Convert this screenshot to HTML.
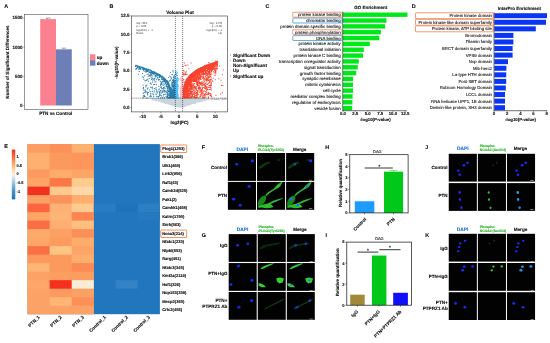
<!DOCTYPE html>
<html><head><meta charset="utf-8"><title>Figure</title><style>html,body{margin:0;padding:0;background:#fff;}svg{display:block;filter:blur(0.3px);}</style></head><body>
<svg width="550" height="343" viewBox="0 0 550 343" text-rendering="geometricPrecision" font-family="Liberation Sans, Arial, sans-serif">
<defs><filter id="b1" x="-50%" y="-50%" width="200%" height="200%"><feGaussianBlur stdDeviation="0.45"/></filter><filter id="b2" x="-50%" y="-50%" width="200%" height="200%"><feGaussianBlur stdDeviation="0.7"/></filter><linearGradient id="cb" x1="0" y1="0" x2="0" y2="1"><stop offset="0" stop-color="#f0301c"/><stop offset="0.18" stop-color="#fb7a4a"/><stop offset="0.36" stop-color="#fdc58a"/><stop offset="0.5" stop-color="#fbf3e6"/><stop offset="0.64" stop-color="#a8cde6"/><stop offset="0.82" stop-color="#4a94cc"/><stop offset="1" stop-color="#1f72b8"/></linearGradient></defs>
<rect x="0.00" y="0.00" width="550.00" height="343.00" fill="#ffffff" />
<text x="4.3" y="7.8" font-size="5.4" font-weight="bold" text-anchor="start" fill="#111"  stroke="#111" stroke-width="0.12">A</text>
<text x="109.5" y="7.9" font-size="5.4" font-weight="bold" text-anchor="start" fill="#111"  stroke="#111" stroke-width="0.12">B</text>
<text x="265.5" y="7.9" font-size="5.4" font-weight="bold" text-anchor="start" fill="#111"  stroke="#111" stroke-width="0.12">C</text>
<text x="411.7" y="7.9" font-size="5.4" font-weight="bold" text-anchor="start" fill="#111"  stroke="#111" stroke-width="0.12">D</text>
<text x="4.3" y="148.2" font-size="5.4" font-weight="bold" text-anchor="start" fill="#111"  stroke="#111" stroke-width="0.12">E</text>
<text x="201.8" y="148.6" font-size="5.4" font-weight="bold" text-anchor="start" fill="#111"  stroke="#111" stroke-width="0.12">F</text>
<text x="201.8" y="236.6" font-size="5.4" font-weight="bold" text-anchor="start" fill="#111"  stroke="#111" stroke-width="0.12">G</text>
<text x="325.2" y="148.6" font-size="5.4" font-weight="bold" text-anchor="start" fill="#111"  stroke="#111" stroke-width="0.12">H</text>
<text x="325.6" y="236.6" font-size="5.4" font-weight="bold" text-anchor="start" fill="#111"  stroke="#111" stroke-width="0.12">I</text>
<text x="425.2" y="149" font-size="5.4" font-weight="bold" text-anchor="start" fill="#111"  stroke="#111" stroke-width="0.12">J</text>
<text x="425.2" y="236.6" font-size="5.4" font-weight="bold" text-anchor="start" fill="#111"  stroke="#111" stroke-width="0.12">K</text>
<rect x="40.20" y="19.13" width="15.80" height="86.37" fill="#fb8090" />
<rect x="56.00" y="49.32" width="15.80" height="56.18" fill="#6e7fb8" />
<rect x="24.50" y="14.50" width="63.50" height="95.00" fill="none" stroke="#333" stroke-width="0.5" />
<line x1="23.30" y1="105.50" x2="24.50" y2="105.50" stroke="#111" stroke-width="0.4" />
<text x="22.5" y="107.05" font-size="4.5" font-weight="bold" text-anchor="end" fill="#111"  stroke="#111" stroke-width="0.12">0</text>
<line x1="23.30" y1="76.30" x2="24.50" y2="76.30" stroke="#111" stroke-width="0.4" />
<text x="22.5" y="77.85" font-size="4.5" font-weight="bold" text-anchor="end" fill="#111"  stroke="#111" stroke-width="0.12">500</text>
<line x1="23.30" y1="47.10" x2="24.50" y2="47.10" stroke="#111" stroke-width="0.4" />
<text x="22.5" y="48.65" font-size="4.5" font-weight="bold" text-anchor="end" fill="#111"  stroke="#111" stroke-width="0.12">1000</text>
<line x1="23.30" y1="17.90" x2="24.50" y2="17.90" stroke="#111" stroke-width="0.4" />
<text x="22.5" y="19.450000000000006" font-size="4.5" font-weight="bold" text-anchor="end" fill="#111"  stroke="#111" stroke-width="0.12">1500</text>
<text x="48.1" y="18.526400000000002" font-size="2.2" font-weight="normal" text-anchor="middle" fill="#333" >1479</text>
<text x="63.9" y="48.7192" font-size="2.2" font-weight="normal" text-anchor="middle" fill="#333" >962</text>
<text x="55.8" y="115.2" font-size="4.6" font-weight="bold" text-anchor="middle" fill="#111"  stroke="#111" stroke-width="0.12">PTN vs Control</text>
<text x="9.0" y="62" font-size="4.55" font-weight="bold" text-anchor="middle" fill="#111" transform="rotate(-90 9.0 62)"  stroke="#111" stroke-width="0.12">Number of Significant Differences</text>
<rect x="90.00" y="54.30" width="5.40" height="5.60" fill="#fb8090" />
<rect x="90.00" y="60.10" width="5.40" height="5.60" fill="#6e7fb8" />
<text x="96.8" y="58.8" font-size="4.6" font-weight="bold" text-anchor="start" fill="#111"  stroke="#111" stroke-width="0.12">up</text>
<text x="96.8" y="64.6" font-size="4.6" font-weight="bold" text-anchor="start" fill="#111"  stroke="#111" stroke-width="0.12">down</text>
<path d="M185.2 103.3h1.1v1.1h-1.1zM182.2 106.0h1.1v1.1h-1.1zM177.2 101.3h1.1v1.1h-1.1zM182.1 101.6h1.1v1.1h-1.1zM179.0 106.4h1.1v1.1h-1.1zM179.9 105.7h1.1v1.1h-1.1zM181.5 102.3h1.1v1.1h-1.1zM177.3 104.3h1.1v1.1h-1.1zM194.1 100.6h1.1v1.1h-1.1zM176.2 102.6h1.1v1.1h-1.1zM212.2 97.8h1.1v1.1h-1.1zM183.0 103.6h1.1v1.1h-1.1zM181.8 105.1h1.1v1.1h-1.1zM188.1 99.0h1.1v1.1h-1.1zM174.3 104.7h1.1v1.1h-1.1zM174.3 102.8h1.1v1.1h-1.1zM182.9 101.2h1.1v1.1h-1.1zM180.2 104.4h1.1v1.1h-1.1zM169.7 100.1h1.1v1.1h-1.1zM183.8 100.9h1.1v1.1h-1.1zM174.7 102.1h1.1v1.1h-1.1zM201.3 100.0h1.1v1.1h-1.1zM173.7 104.1h1.1v1.1h-1.1zM170.9 98.6h1.1v1.1h-1.1zM170.7 99.7h1.1v1.1h-1.1zM179.8 102.4h1.1v1.1h-1.1zM174.1 101.8h1.1v1.1h-1.1zM178.2 106.4h1.1v1.1h-1.1zM163.5 101.0h1.1v1.1h-1.1zM170.1 98.5h1.1v1.1h-1.1zM195.4 100.8h1.1v1.1h-1.1zM159.4 101.0h1.1v1.1h-1.1zM188.2 98.0h1.1v1.1h-1.1zM177.9 101.9h1.1v1.1h-1.1zM175.6 99.9h1.1v1.1h-1.1zM201.9 100.4h1.1v1.1h-1.1zM179.1 103.6h1.1v1.1h-1.1zM178.7 102.7h1.1v1.1h-1.1zM177.9 102.0h1.1v1.1h-1.1zM180.6 104.9h1.1v1.1h-1.1zM182.8 99.4h1.1v1.1h-1.1zM179.6 105.3h1.1v1.1h-1.1zM195.1 98.6h1.1v1.1h-1.1zM176.7 105.9h1.1v1.1h-1.1zM185.8 98.5h1.1v1.1h-1.1zM187.4 99.0h1.1v1.1h-1.1zM174.5 102.4h1.1v1.1h-1.1zM193.3 102.9h1.1v1.1h-1.1zM173.4 105.0h1.1v1.1h-1.1zM179.9 104.8h1.1v1.1h-1.1zM186.3 101.8h1.1v1.1h-1.1zM179.5 100.9h1.1v1.1h-1.1zM180.3 102.4h1.1v1.1h-1.1zM166.8 100.0h1.1v1.1h-1.1zM168.5 101.5h1.1v1.1h-1.1zM177.6 106.2h1.1v1.1h-1.1zM185.7 98.4h1.1v1.1h-1.1zM176.6 102.6h1.1v1.1h-1.1zM182.8 100.5h1.1v1.1h-1.1zM180.8 106.1h1.1v1.1h-1.1zM180.6 104.9h1.1v1.1h-1.1zM179.7 103.1h1.1v1.1h-1.1zM179.6 105.0h1.1v1.1h-1.1zM179.1 105.6h1.1v1.1h-1.1zM182.2 98.6h1.1v1.1h-1.1zM184.8 100.7h1.1v1.1h-1.1zM183.9 103.0h1.1v1.1h-1.1zM189.8 102.9h1.1v1.1h-1.1zM203.3 97.6h1.1v1.1h-1.1zM175.7 102.0h1.1v1.1h-1.1zM179.7 105.6h1.1v1.1h-1.1zM178.3 103.1h1.1v1.1h-1.1zM186.8 104.9h1.1v1.1h-1.1zM181.0 106.4h1.1v1.1h-1.1zM178.2 105.1h1.1v1.1h-1.1zM192.0 101.3h1.1v1.1h-1.1zM183.1 97.7h1.1v1.1h-1.1zM175.5 98.6h1.1v1.1h-1.1zM174.1 102.9h1.1v1.1h-1.1zM180.2 104.9h1.1v1.1h-1.1zM162.3 99.3h1.1v1.1h-1.1zM181.6 103.2h1.1v1.1h-1.1zM210.8 97.7h1.1v1.1h-1.1zM189.3 98.7h1.1v1.1h-1.1zM156.1 99.6h1.1v1.1h-1.1zM174.8 104.2h1.1v1.1h-1.1zM179.4 106.4h1.1v1.1h-1.1zM179.3 106.4h1.1v1.1h-1.1zM189.3 100.0h1.1v1.1h-1.1zM192.9 97.7h1.1v1.1h-1.1zM171.7 97.9h1.1v1.1h-1.1zM182.2 104.2h1.1v1.1h-1.1zM181.3 104.5h1.1v1.1h-1.1zM201.1 98.4h1.1v1.1h-1.1zM157.7 98.8h1.1v1.1h-1.1zM182.2 99.1h1.1v1.1h-1.1zM176.7 105.8h1.1v1.1h-1.1zM153.2 99.3h1.1v1.1h-1.1zM171.0 99.5h1.1v1.1h-1.1zM180.8 99.2h1.1v1.1h-1.1zM185.3 103.2h1.1v1.1h-1.1zM191.7 102.5h1.1v1.1h-1.1zM177.4 104.8h1.1v1.1h-1.1zM183.6 105.3h1.1v1.1h-1.1zM205.2 99.1h1.1v1.1h-1.1zM184.2 105.1h1.1v1.1h-1.1zM175.9 103.0h1.1v1.1h-1.1zM179.4 106.4h1.1v1.1h-1.1zM167.2 97.8h1.1v1.1h-1.1zM163.2 98.1h1.1v1.1h-1.1zM190.6 102.2h1.1v1.1h-1.1zM173.1 104.4h1.1v1.1h-1.1zM178.5 104.0h1.1v1.1h-1.1zM187.4 100.9h1.1v1.1h-1.1zM176.9 103.9h1.1v1.1h-1.1zM183.7 98.3h1.1v1.1h-1.1zM170.3 103.0h1.1v1.1h-1.1zM185.1 98.3h1.1v1.1h-1.1zM188.1 102.4h1.1v1.1h-1.1zM173.6 101.4h1.1v1.1h-1.1zM190.3 101.4h1.1v1.1h-1.1zM180.1 104.7h1.1v1.1h-1.1zM179.7 106.4h1.1v1.1h-1.1zM174.1 101.9h1.1v1.1h-1.1zM168.5 99.8h1.1v1.1h-1.1zM176.5 101.5h1.1v1.1h-1.1zM180.6 101.2h1.1v1.1h-1.1zM174.6 101.1h1.1v1.1h-1.1zM178.0 104.0h1.1v1.1h-1.1zM196.1 101.6h1.1v1.1h-1.1zM181.0 101.1h1.1v1.1h-1.1zM165.8 100.7h1.1v1.1h-1.1zM179.0 100.0h1.1v1.1h-1.1zM169.7 102.1h1.1v1.1h-1.1zM175.6 98.0h1.1v1.1h-1.1zM201.5 100.0h1.1v1.1h-1.1zM170.2 103.9h1.1v1.1h-1.1zM198.6 101.1h1.1v1.1h-1.1zM177.2 105.2h1.1v1.1h-1.1zM178.4 105.4h1.1v1.1h-1.1zM180.3 104.1h1.1v1.1h-1.1zM177.6 106.0h1.1v1.1h-1.1zM155.0 98.4h1.1v1.1h-1.1zM178.4 105.0h1.1v1.1h-1.1zM174.4 105.1h1.1v1.1h-1.1zM190.4 98.5h1.1v1.1h-1.1zM177.1 97.9h1.1v1.1h-1.1zM183.2 98.9h1.1v1.1h-1.1zM175.3 104.9h1.1v1.1h-1.1zM183.0 103.1h1.1v1.1h-1.1zM176.5 104.6h1.1v1.1h-1.1zM181.3 106.4h1.1v1.1h-1.1zM177.7 101.2h1.1v1.1h-1.1zM180.0 103.2h1.1v1.1h-1.1zM175.3 100.6h1.1v1.1h-1.1zM179.1 97.7h1.1v1.1h-1.1zM186.2 99.2h1.1v1.1h-1.1zM179.1 103.8h1.1v1.1h-1.1zM179.8 106.4h1.1v1.1h-1.1zM177.0 105.3h1.1v1.1h-1.1zM192.7 102.3h1.1v1.1h-1.1zM174.1 103.9h1.1v1.1h-1.1zM183.7 105.1h1.1v1.1h-1.1zM171.4 100.0h1.1v1.1h-1.1zM183.2 105.8h1.1v1.1h-1.1zM184.1 102.3h1.1v1.1h-1.1zM182.5 106.0h1.1v1.1h-1.1zM171.8 99.1h1.1v1.1h-1.1zM180.1 105.8h1.1v1.1h-1.1zM175.0 98.6h1.1v1.1h-1.1zM173.5 102.1h1.1v1.1h-1.1zM197.2 98.1h1.1v1.1h-1.1zM184.4 103.8h1.1v1.1h-1.1zM184.2 104.1h1.1v1.1h-1.1zM180.0 105.5h1.1v1.1h-1.1zM180.8 104.5h1.1v1.1h-1.1zM175.8 103.4h1.1v1.1h-1.1zM189.3 103.6h1.1v1.1h-1.1zM183.4 101.7h1.1v1.1h-1.1zM180.5 106.4h1.1v1.1h-1.1zM188.4 104.0h1.1v1.1h-1.1zM181.2 101.2h1.1v1.1h-1.1zM180.6 105.6h1.1v1.1h-1.1zM163.8 99.0h1.1v1.1h-1.1zM186.8 98.9h1.1v1.1h-1.1zM167.5 102.6h1.1v1.1h-1.1zM178.4 97.7h1.1v1.1h-1.1zM185.0 103.1h1.1v1.1h-1.1zM163.4 100.5h1.1v1.1h-1.1zM178.0 102.5h1.1v1.1h-1.1zM180.4 105.3h1.1v1.1h-1.1zM179.4 106.0h1.1v1.1h-1.1zM176.5 104.9h1.1v1.1h-1.1zM182.2 105.8h1.1v1.1h-1.1zM158.5 100.2h1.1v1.1h-1.1zM179.8 103.7h1.1v1.1h-1.1zM187.0 102.0h1.1v1.1h-1.1zM176.7 105.0h1.1v1.1h-1.1zM184.0 97.9h1.1v1.1h-1.1zM167.2 97.8h1.1v1.1h-1.1zM175.8 97.8h1.1v1.1h-1.1zM179.4 103.4h1.1v1.1h-1.1zM179.8 102.7h1.1v1.1h-1.1zM173.4 101.9h1.1v1.1h-1.1zM179.4 101.6h1.1v1.1h-1.1zM179.5 106.4h1.1v1.1h-1.1zM183.0 102.6h1.1v1.1h-1.1zM180.9 106.4h1.1v1.1h-1.1zM180.2 104.2h1.1v1.1h-1.1zM161.4 100.9h1.1v1.1h-1.1zM175.8 100.3h1.1v1.1h-1.1zM189.0 99.8h1.1v1.1h-1.1zM174.9 103.2h1.1v1.1h-1.1zM196.0 97.7h1.1v1.1h-1.1zM195.0 100.4h1.1v1.1h-1.1zM181.3 106.4h1.1v1.1h-1.1zM158.3 100.6h1.1v1.1h-1.1zM182.3 99.7h1.1v1.1h-1.1zM174.5 101.4h1.1v1.1h-1.1zM188.5 101.6h1.1v1.1h-1.1zM156.4 98.9h1.1v1.1h-1.1zM192.6 100.9h1.1v1.1h-1.1zM167.5 100.0h1.1v1.1h-1.1zM182.2 104.2h1.1v1.1h-1.1zM180.3 102.9h1.1v1.1h-1.1zM181.4 105.6h1.1v1.1h-1.1zM166.7 100.6h1.1v1.1h-1.1zM173.8 100.6h1.1v1.1h-1.1zM178.7 106.4h1.1v1.1h-1.1zM179.4 99.2h1.1v1.1h-1.1zM167.5 101.3h1.1v1.1h-1.1zM197.8 100.3h1.1v1.1h-1.1zM183.1 104.0h1.1v1.1h-1.1zM179.2 106.0h1.1v1.1h-1.1zM187.0 104.5h1.1v1.1h-1.1zM195.1 99.6h1.1v1.1h-1.1zM178.2 102.7h1.1v1.1h-1.1zM173.1 101.8h1.1v1.1h-1.1zM161.5 100.6h1.1v1.1h-1.1zM185.5 100.4h1.1v1.1h-1.1zM181.0 104.0h1.1v1.1h-1.1zM173.6 99.6h1.1v1.1h-1.1zM180.8 106.4h1.1v1.1h-1.1zM179.2 106.1h1.1v1.1h-1.1zM198.5 100.0h1.1v1.1h-1.1zM175.7 100.2h1.1v1.1h-1.1zM190.1 102.0h1.1v1.1h-1.1zM193.7 102.0h1.1v1.1h-1.1zM186.1 104.5h1.1v1.1h-1.1zM182.5 97.7h1.1v1.1h-1.1zM178.9 102.0h1.1v1.1h-1.1zM195.4 99.0h1.1v1.1h-1.1zM178.3 103.8h1.1v1.1h-1.1zM182.6 104.4h1.1v1.1h-1.1zM177.0 100.9h1.1v1.1h-1.1zM178.3 105.2h1.1v1.1h-1.1zM178.1 99.9h1.1v1.1h-1.1zM184.3 104.2h1.1v1.1h-1.1zM178.6 106.4h1.1v1.1h-1.1zM178.6 106.4h1.1v1.1h-1.1zM179.9 103.5h1.1v1.1h-1.1zM177.8 105.2h1.1v1.1h-1.1zM190.5 98.8h1.1v1.1h-1.1zM179.5 106.4h1.1v1.1h-1.1zM173.6 105.4h1.1v1.1h-1.1zM171.4 98.1h1.1v1.1h-1.1zM174.2 102.9h1.1v1.1h-1.1zM180.2 106.3h1.1v1.1h-1.1zM180.7 105.6h1.1v1.1h-1.1zM167.8 98.1h1.1v1.1h-1.1zM178.9 104.0h1.1v1.1h-1.1zM184.8 104.6h1.1v1.1h-1.1zM194.6 102.8h1.1v1.1h-1.1zM171.3 99.1h1.1v1.1h-1.1zM166.7 101.2h1.1v1.1h-1.1zM199.9 99.8h1.1v1.1h-1.1zM183.9 102.1h1.1v1.1h-1.1zM172.6 99.5h1.1v1.1h-1.1zM178.4 106.3h1.1v1.1h-1.1zM192.5 98.1h1.1v1.1h-1.1zM185.3 103.1h1.1v1.1h-1.1zM178.4 103.5h1.1v1.1h-1.1zM174.7 100.3h1.1v1.1h-1.1zM189.1 102.6h1.1v1.1h-1.1zM181.0 104.9h1.1v1.1h-1.1zM188.9 98.3h1.1v1.1h-1.1zM183.4 101.7h1.1v1.1h-1.1zM183.2 102.1h1.1v1.1h-1.1zM180.8 105.7h1.1v1.1h-1.1zM183.9 103.1h1.1v1.1h-1.1zM181.8 103.9h1.1v1.1h-1.1zM193.2 101.1h1.1v1.1h-1.1zM170.7 102.4h1.1v1.1h-1.1zM171.6 102.4h1.1v1.1h-1.1zM178.5 103.1h1.1v1.1h-1.1zM178.6 106.1h1.1v1.1h-1.1zM166.3 101.6h1.1v1.1h-1.1zM172.5 104.3h1.1v1.1h-1.1zM179.6 103.8h1.1v1.1h-1.1zM188.4 102.1h1.1v1.1h-1.1zM199.5 97.9h1.1v1.1h-1.1zM177.5 106.4h1.1v1.1h-1.1zM178.8 106.4h1.1v1.1h-1.1zM190.6 100.9h1.1v1.1h-1.1zM179.6 98.1h1.1v1.1h-1.1zM204.0 98.9h1.1v1.1h-1.1zM181.5 105.5h1.1v1.1h-1.1zM192.2 100.1h1.1v1.1h-1.1zM175.3 98.0h1.1v1.1h-1.1zM159.8 99.4h1.1v1.1h-1.1zM177.1 102.0h1.1v1.1h-1.1zM178.3 99.3h1.1v1.1h-1.1zM186.0 104.2h1.1v1.1h-1.1zM175.1 103.5h1.1v1.1h-1.1zM179.5 105.3h1.1v1.1h-1.1zM197.8 100.0h1.1v1.1h-1.1zM182.8 105.5h1.1v1.1h-1.1zM185.3 100.9h1.1v1.1h-1.1zM181.3 102.7h1.1v1.1h-1.1zM180.8 106.4h1.1v1.1h-1.1zM186.9 100.4h1.1v1.1h-1.1zM168.1 98.5h1.1v1.1h-1.1zM180.1 104.0h1.1v1.1h-1.1zM175.4 97.9h1.1v1.1h-1.1zM178.5 106.4h1.1v1.1h-1.1zM175.0 101.7h1.1v1.1h-1.1zM174.4 103.9h1.1v1.1h-1.1zM187.4 100.2h1.1v1.1h-1.1zM179.1 106.4h1.1v1.1h-1.1zM170.3 103.1h1.1v1.1h-1.1zM182.8 104.5h1.1v1.1h-1.1zM178.4 99.2h1.1v1.1h-1.1zM174.0 104.5h1.1v1.1h-1.1zM167.5 97.8h1.1v1.1h-1.1zM188.3 104.2h1.1v1.1h-1.1zM179.8 104.3h1.1v1.1h-1.1zM165.5 98.0h1.1v1.1h-1.1zM182.2 101.7h1.1v1.1h-1.1zM185.0 102.4h1.1v1.1h-1.1zM186.1 100.2h1.1v1.1h-1.1zM178.1 102.6h1.1v1.1h-1.1zM182.2 104.4h1.1v1.1h-1.1zM179.4 106.3h1.1v1.1h-1.1zM176.2 106.1h1.1v1.1h-1.1zM200.5 98.5h1.1v1.1h-1.1zM179.3 103.2h1.1v1.1h-1.1zM186.1 104.7h1.1v1.1h-1.1zM178.6 106.4h1.1v1.1h-1.1zM170.9 100.3h1.1v1.1h-1.1zM184.1 103.2h1.1v1.1h-1.1zM182.8 104.8h1.1v1.1h-1.1zM179.6 103.0h1.1v1.1h-1.1zM210.7 97.9h1.1v1.1h-1.1zM188.0 104.4h1.1v1.1h-1.1zM185.4 103.0h1.1v1.1h-1.1zM165.3 102.3h1.1v1.1h-1.1zM177.8 106.3h1.1v1.1h-1.1zM182.2 98.2h1.1v1.1h-1.1zM173.3 104.6h1.1v1.1h-1.1zM181.8 106.4h1.1v1.1h-1.1zM184.8 102.5h1.1v1.1h-1.1zM177.0 106.4h1.1v1.1h-1.1zM184.3 103.9h1.1v1.1h-1.1zM189.5 99.6h1.1v1.1h-1.1zM176.4 103.8h1.1v1.1h-1.1zM169.7 97.9h1.1v1.1h-1.1zM172.7 99.8h1.1v1.1h-1.1zM179.4 103.3h1.1v1.1h-1.1zM180.7 99.5h1.1v1.1h-1.1zM153.5 98.2h1.1v1.1h-1.1zM177.3 106.4h1.1v1.1h-1.1zM186.1 97.9h1.1v1.1h-1.1zM179.5 102.7h1.1v1.1h-1.1zM189.7 101.7h1.1v1.1h-1.1zM191.7 98.1h1.1v1.1h-1.1zM201.7 99.6h1.1v1.1h-1.1zM182.4 99.0h1.1v1.1h-1.1zM170.4 103.2h1.1v1.1h-1.1zM172.1 103.3h1.1v1.1h-1.1zM182.7 105.9h1.1v1.1h-1.1zM179.6 104.5h1.1v1.1h-1.1zM178.0 106.1h1.1v1.1h-1.1zM178.3 106.4h1.1v1.1h-1.1zM174.6 97.7h1.1v1.1h-1.1zM191.9 98.5h1.1v1.1h-1.1zM179.4 105.8h1.1v1.1h-1.1zM175.3 105.7h1.1v1.1h-1.1zM179.7 102.1h1.1v1.1h-1.1zM173.3 104.2h1.1v1.1h-1.1zM188.2 100.2h1.1v1.1h-1.1zM191.1 99.6h1.1v1.1h-1.1zM175.7 105.4h1.1v1.1h-1.1zM174.2 98.8h1.1v1.1h-1.1zM188.9 102.8h1.1v1.1h-1.1zM182.7 99.6h1.1v1.1h-1.1zM183.4 104.0h1.1v1.1h-1.1zM183.2 105.0h1.1v1.1h-1.1zM173.6 103.2h1.1v1.1h-1.1zM189.0 102.6h1.1v1.1h-1.1zM179.3 104.2h1.1v1.1h-1.1zM154.0 99.1h1.1v1.1h-1.1zM187.0 101.9h1.1v1.1h-1.1zM151.3 98.2h1.1v1.1h-1.1zM179.3 106.4h1.1v1.1h-1.1zM181.7 104.6h1.1v1.1h-1.1zM145.2 97.8h1.1v1.1h-1.1zM170.9 102.8h1.1v1.1h-1.1zM168.1 98.6h1.1v1.1h-1.1zM183.0 99.3h1.1v1.1h-1.1zM197.3 98.0h1.1v1.1h-1.1zM189.2 100.6h1.1v1.1h-1.1zM177.7 104.3h1.1v1.1h-1.1zM181.4 104.5h1.1v1.1h-1.1zM173.0 103.9h1.1v1.1h-1.1zM175.6 104.5h1.1v1.1h-1.1zM178.8 106.4h1.1v1.1h-1.1zM185.3 104.7h1.1v1.1h-1.1zM182.9 103.4h1.1v1.1h-1.1zM197.3 101.2h1.1v1.1h-1.1zM181.2 106.1h1.1v1.1h-1.1zM185.8 101.2h1.1v1.1h-1.1zM185.5 100.5h1.1v1.1h-1.1zM183.7 100.0h1.1v1.1h-1.1zM178.1 102.5h1.1v1.1h-1.1zM193.7 97.9h1.1v1.1h-1.1zM173.9 103.4h1.1v1.1h-1.1zM176.4 102.4h1.1v1.1h-1.1zM194.3 98.6h1.1v1.1h-1.1zM179.4 104.5h1.1v1.1h-1.1zM180.0 99.7h1.1v1.1h-1.1zM181.2 98.3h1.1v1.1h-1.1zM183.2 102.3h1.1v1.1h-1.1zM165.0 98.5h1.1v1.1h-1.1zM180.4 102.0h1.1v1.1h-1.1zM181.1 101.2h1.1v1.1h-1.1zM183.9 100.4h1.1v1.1h-1.1zM176.8 100.6h1.1v1.1h-1.1zM175.3 102.8h1.1v1.1h-1.1zM179.4 103.7h1.1v1.1h-1.1zM183.8 101.5h1.1v1.1h-1.1zM177.5 101.7h1.1v1.1h-1.1zM189.0 99.1h1.1v1.1h-1.1zM179.1 105.3h1.1v1.1h-1.1zM198.5 98.0h1.1v1.1h-1.1zM179.2 106.2h1.1v1.1h-1.1zM152.4 98.2h1.1v1.1h-1.1zM195.8 100.6h1.1v1.1h-1.1zM193.5 99.0h1.1v1.1h-1.1zM186.9 104.3h1.1v1.1h-1.1zM188.2 102.5h1.1v1.1h-1.1zM172.9 104.7h1.1v1.1h-1.1zM174.8 104.3h1.1v1.1h-1.1zM185.0 102.7h1.1v1.1h-1.1zM179.6 105.4h1.1v1.1h-1.1zM205.2 98.4h1.1v1.1h-1.1zM177.0 106.4h1.1v1.1h-1.1zM178.5 106.4h1.1v1.1h-1.1zM194.6 98.8h1.1v1.1h-1.1zM189.1 101.2h1.1v1.1h-1.1zM175.3 100.6h1.1v1.1h-1.1zM190.3 100.9h1.1v1.1h-1.1zM174.6 102.3h1.1v1.1h-1.1zM171.6 102.2h1.1v1.1h-1.1zM178.5 106.4h1.1v1.1h-1.1zM175.5 104.1h1.1v1.1h-1.1zM182.4 99.4h1.1v1.1h-1.1zM175.0 104.7h1.1v1.1h-1.1zM183.3 101.9h1.1v1.1h-1.1zM182.3 102.3h1.1v1.1h-1.1zM176.6 105.7h1.1v1.1h-1.1zM180.2 106.4h1.1v1.1h-1.1zM196.3 100.5h1.1v1.1h-1.1zM190.9 99.3h1.1v1.1h-1.1zM190.5 101.6h1.1v1.1h-1.1zM182.6 102.8h1.1v1.1h-1.1zM201.3 98.0h1.1v1.1h-1.1zM205.7 97.6h1.1v1.1h-1.1zM183.0 99.7h1.1v1.1h-1.1zM169.1 97.7h1.1v1.1h-1.1zM177.2 104.9h1.1v1.1h-1.1zM184.3 99.2h1.1v1.1h-1.1zM178.4 103.0h1.1v1.1h-1.1zM195.5 99.5h1.1v1.1h-1.1zM190.0 103.7h1.1v1.1h-1.1zM190.3 99.0h1.1v1.1h-1.1zM194.7 98.2h1.1v1.1h-1.1zM179.1 104.4h1.1v1.1h-1.1zM187.4 103.3h1.1v1.1h-1.1zM179.9 106.4h1.1v1.1h-1.1zM188.5 98.1h1.1v1.1h-1.1zM185.6 100.1h1.1v1.1h-1.1zM174.3 99.3h1.1v1.1h-1.1zM175.3 105.5h1.1v1.1h-1.1zM177.5 102.9h1.1v1.1h-1.1zM160.2 98.6h1.1v1.1h-1.1zM172.5 98.5h1.1v1.1h-1.1zM183.5 105.6h1.1v1.1h-1.1zM179.0 102.6h1.1v1.1h-1.1zM175.5 99.2h1.1v1.1h-1.1zM180.3 102.9h1.1v1.1h-1.1zM175.1 104.8h1.1v1.1h-1.1zM203.5 99.6h1.1v1.1h-1.1zM182.6 104.0h1.1v1.1h-1.1zM195.3 100.5h1.1v1.1h-1.1zM177.9 100.3h1.1v1.1h-1.1zM181.2 103.4h1.1v1.1h-1.1zM179.5 105.1h1.1v1.1h-1.1zM166.9 100.7h1.1v1.1h-1.1zM187.5 98.4h1.1v1.1h-1.1zM180.2 105.3h1.1v1.1h-1.1zM181.3 106.4h1.1v1.1h-1.1zM179.3 106.4h1.1v1.1h-1.1zM182.3 103.0h1.1v1.1h-1.1zM173.8 104.3h1.1v1.1h-1.1zM176.4 104.5h1.1v1.1h-1.1zM173.3 100.6h1.1v1.1h-1.1zM180.9 98.1h1.1v1.1h-1.1zM181.0 104.1h1.1v1.1h-1.1zM183.8 100.5h1.1v1.1h-1.1zM182.7 98.6h1.1v1.1h-1.1zM173.9 103.9h1.1v1.1h-1.1zM178.7 106.4h1.1v1.1h-1.1zM172.3 103.0h1.1v1.1h-1.1zM190.5 99.7h1.1v1.1h-1.1zM180.9 104.0h1.1v1.1h-1.1zM177.8 101.4h1.1v1.1h-1.1zM179.8 102.5h1.1v1.1h-1.1zM184.4 99.3h1.1v1.1h-1.1zM176.9 105.1h1.1v1.1h-1.1zM175.3 104.5h1.1v1.1h-1.1zM170.6 100.4h1.1v1.1h-1.1zM185.3 99.0h1.1v1.1h-1.1zM184.4 103.5h1.1v1.1h-1.1zM181.9 106.3h1.1v1.1h-1.1zM164.8 99.8h1.1v1.1h-1.1zM180.4 106.4h1.1v1.1h-1.1zM167.1 102.0h1.1v1.1h-1.1zM170.3 99.6h1.1v1.1h-1.1zM180.1 105.6h1.1v1.1h-1.1zM184.0 104.2h1.1v1.1h-1.1zM182.5 99.6h1.1v1.1h-1.1zM190.9 100.0h1.1v1.1h-1.1zM172.1 103.8h1.1v1.1h-1.1zM162.5 101.2h1.1v1.1h-1.1zM186.5 101.5h1.1v1.1h-1.1zM170.3 103.8h1.1v1.1h-1.1zM191.7 98.5h1.1v1.1h-1.1zM179.9 104.1h1.1v1.1h-1.1zM200.7 99.6h1.1v1.1h-1.1zM175.7 103.2h1.1v1.1h-1.1zM174.0 98.5h1.1v1.1h-1.1zM190.1 98.3h1.1v1.1h-1.1zM173.4 100.5h1.1v1.1h-1.1zM155.6 97.7h1.1v1.1h-1.1zM187.1 101.9h1.1v1.1h-1.1zM159.4 98.7h1.1v1.1h-1.1zM177.8 102.2h1.1v1.1h-1.1zM171.3 103.4h1.1v1.1h-1.1zM178.2 104.4h1.1v1.1h-1.1zM175.0 98.3h1.1v1.1h-1.1zM181.2 105.1h1.1v1.1h-1.1zM180.9 98.1h1.1v1.1h-1.1zM180.6 103.1h1.1v1.1h-1.1zM179.8 106.4h1.1v1.1h-1.1zM166.4 100.0h1.1v1.1h-1.1zM164.0 99.7h1.1v1.1h-1.1zM177.9 106.1h1.1v1.1h-1.1zM172.0 99.0h1.1v1.1h-1.1zM183.8 99.0h1.1v1.1h-1.1zM175.9 98.6h1.1v1.1h-1.1zM186.8 98.2h1.1v1.1h-1.1zM178.8 104.4h1.1v1.1h-1.1zM185.2 105.5h1.1v1.1h-1.1zM185.6 99.1h1.1v1.1h-1.1zM187.1 100.5h1.1v1.1h-1.1zM171.9 103.6h1.1v1.1h-1.1zM183.3 105.6h1.1v1.1h-1.1zM184.1 104.5h1.1v1.1h-1.1zM178.3 103.3h1.1v1.1h-1.1zM180.1 103.9h1.1v1.1h-1.1zM178.3 103.7h1.1v1.1h-1.1zM173.3 103.3h1.1v1.1h-1.1zM146.3 97.9h1.1v1.1h-1.1zM179.0 100.6h1.1v1.1h-1.1zM178.2 106.4h1.1v1.1h-1.1zM187.4 99.4h1.1v1.1h-1.1zM177.1 103.0h1.1v1.1h-1.1zM173.7 104.3h1.1v1.1h-1.1zM203.6 98.7h1.1v1.1h-1.1zM183.6 104.8h1.1v1.1h-1.1zM179.9 106.4h1.1v1.1h-1.1zM207.5 97.8h1.1v1.1h-1.1zM178.6 106.4h1.1v1.1h-1.1zM180.5 99.2h1.1v1.1h-1.1zM175.6 104.7h1.1v1.1h-1.1zM180.0 98.9h1.1v1.1h-1.1zM183.9 103.9h1.1v1.1h-1.1zM178.2 104.4h1.1v1.1h-1.1zM173.3 100.0h1.1v1.1h-1.1zM179.6 100.5h1.1v1.1h-1.1zM180.4 105.9h1.1v1.1h-1.1zM158.1 99.3h1.1v1.1h-1.1zM172.2 100.6h1.1v1.1h-1.1zM185.8 102.6h1.1v1.1h-1.1zM208.1 98.4h1.1v1.1h-1.1zM180.9 106.4h1.1v1.1h-1.1zM178.7 104.4h1.1v1.1h-1.1zM183.7 102.7h1.1v1.1h-1.1zM175.2 102.0h1.1v1.1h-1.1zM180.0 101.4h1.1v1.1h-1.1zM159.4 100.4h1.1v1.1h-1.1zM177.6 103.0h1.1v1.1h-1.1zM187.3 98.8h1.1v1.1h-1.1zM179.2 100.3h1.1v1.1h-1.1zM174.3 102.2h1.1v1.1h-1.1zM173.1 99.4h1.1v1.1h-1.1zM177.3 102.0h1.1v1.1h-1.1zM180.3 98.5h1.1v1.1h-1.1zM183.7 103.5h1.1v1.1h-1.1zM183.7 99.9h1.1v1.1h-1.1zM177.7 105.0h1.1v1.1h-1.1zM176.5 104.0h1.1v1.1h-1.1zM183.7 104.9h1.1v1.1h-1.1zM186.4 103.2h1.1v1.1h-1.1zM180.8 105.6h1.1v1.1h-1.1zM178.7 102.7h1.1v1.1h-1.1zM187.4 97.7h1.1v1.1h-1.1zM166.2 102.2h1.1v1.1h-1.1zM178.2 104.6h1.1v1.1h-1.1zM177.8 104.4h1.1v1.1h-1.1zM187.2 102.7h1.1v1.1h-1.1zM182.6 99.2h1.1v1.1h-1.1zM161.5 100.0h1.1v1.1h-1.1zM179.5 102.0h1.1v1.1h-1.1zM176.7 105.1h1.1v1.1h-1.1zM171.2 99.6h1.1v1.1h-1.1zM160.4 98.3h1.1v1.1h-1.1zM187.1 99.6h1.1v1.1h-1.1zM181.3 102.4h1.1v1.1h-1.1zM204.5 98.5h1.1v1.1h-1.1zM171.1 99.4h1.1v1.1h-1.1zM156.2 100.1h1.1v1.1h-1.1zM169.6 100.4h1.1v1.1h-1.1zM182.4 100.6h1.1v1.1h-1.1zM175.4 105.7h1.1v1.1h-1.1zM190.6 99.8h1.1v1.1h-1.1zM179.5 100.5h1.1v1.1h-1.1zM188.9 102.1h1.1v1.1h-1.1zM164.9 100.6h1.1v1.1h-1.1zM192.9 98.1h1.1v1.1h-1.1zM175.4 104.7h1.1v1.1h-1.1zM168.4 102.7h1.1v1.1h-1.1zM182.1 101.7h1.1v1.1h-1.1zM179.1 101.3h1.1v1.1h-1.1zM181.4 104.9h1.1v1.1h-1.1zM176.4 105.6h1.1v1.1h-1.1zM172.1 99.8h1.1v1.1h-1.1zM167.7 101.5h1.1v1.1h-1.1zM165.1 101.5h1.1v1.1h-1.1zM184.8 102.5h1.1v1.1h-1.1zM176.8 100.1h1.1v1.1h-1.1zM179.9 102.6h1.1v1.1h-1.1zM170.7 97.7h1.1v1.1h-1.1zM185.0 103.0h1.1v1.1h-1.1zM181.8 102.6h1.1v1.1h-1.1zM178.6 106.4h1.1v1.1h-1.1zM186.1 100.0h1.1v1.1h-1.1zM179.1 103.0h1.1v1.1h-1.1zM189.2 99.6h1.1v1.1h-1.1zM168.0 98.0h1.1v1.1h-1.1zM177.8 99.1h1.1v1.1h-1.1zM180.5 102.6h1.1v1.1h-1.1zM186.7 99.3h1.1v1.1h-1.1zM168.6 99.1h1.1v1.1h-1.1zM170.6 101.1h1.1v1.1h-1.1zM184.1 104.2h1.1v1.1h-1.1zM177.0 100.5h1.1v1.1h-1.1zM186.2 99.0h1.1v1.1h-1.1zM173.2 103.6h1.1v1.1h-1.1zM193.5 101.2h1.1v1.1h-1.1zM189.2 103.0h1.1v1.1h-1.1zM177.9 98.7h1.1v1.1h-1.1zM184.9 104.0h1.1v1.1h-1.1zM179.8 102.3h1.1v1.1h-1.1zM180.4 99.8h1.1v1.1h-1.1zM179.7 103.7h1.1v1.1h-1.1zM187.4 101.8h1.1v1.1h-1.1zM171.5 102.3h1.1v1.1h-1.1zM171.3 102.9h1.1v1.1h-1.1zM183.0 98.1h1.1v1.1h-1.1zM175.5 98.9h1.1v1.1h-1.1zM181.4 98.3h1.1v1.1h-1.1zM171.5 98.9h1.1v1.1h-1.1zM181.3 100.5h1.1v1.1h-1.1zM179.8 98.0h1.1v1.1h-1.1zM179.5 100.3h1.1v1.1h-1.1zM181.2 105.1h1.1v1.1h-1.1zM180.3 104.2h1.1v1.1h-1.1zM176.2 105.0h1.1v1.1h-1.1zM182.1 98.3h1.1v1.1h-1.1zM170.2 98.4h1.1v1.1h-1.1zM182.9 100.7h1.1v1.1h-1.1zM156.3 98.4h1.1v1.1h-1.1zM184.6 99.2h1.1v1.1h-1.1zM172.4 100.0h1.1v1.1h-1.1zM179.0 101.4h1.1v1.1h-1.1zM162.6 98.5h1.1v1.1h-1.1zM178.8 101.2h1.1v1.1h-1.1zM182.1 105.2h1.1v1.1h-1.1zM189.5 101.7h1.1v1.1h-1.1zM181.0 105.1h1.1v1.1h-1.1zM167.7 101.7h1.1v1.1h-1.1zM179.8 98.6h1.1v1.1h-1.1zM180.1 106.4h1.1v1.1h-1.1zM169.5 101.1h1.1v1.1h-1.1zM186.0 100.2h1.1v1.1h-1.1zM172.8 102.4h1.1v1.1h-1.1zM201.1 97.9h1.1v1.1h-1.1zM187.2 100.5h1.1v1.1h-1.1zM177.9 106.4h1.1v1.1h-1.1zM163.6 98.1h1.1v1.1h-1.1zM187.6 103.2h1.1v1.1h-1.1zM178.3 101.8h1.1v1.1h-1.1zM204.4 98.4h1.1v1.1h-1.1zM183.5 100.6h1.1v1.1h-1.1zM183.8 103.1h1.1v1.1h-1.1zM172.8 101.9h1.1v1.1h-1.1zM180.4 101.4h1.1v1.1h-1.1zM173.7 102.2h1.1v1.1h-1.1zM164.8 102.3h1.1v1.1h-1.1zM175.7 103.6h1.1v1.1h-1.1zM165.0 98.9h1.1v1.1h-1.1zM183.5 103.8h1.1v1.1h-1.1zM193.6 101.6h1.1v1.1h-1.1zM176.3 99.2h1.1v1.1h-1.1zM177.2 103.2h1.1v1.1h-1.1zM188.0 100.9h1.1v1.1h-1.1zM180.3 100.5h1.1v1.1h-1.1zM175.8 99.8h1.1v1.1h-1.1zM174.7 98.5h1.1v1.1h-1.1zM179.0 103.5h1.1v1.1h-1.1zM180.3 106.4h1.1v1.1h-1.1zM186.0 100.3h1.1v1.1h-1.1zM167.1 100.7h1.1v1.1h-1.1zM167.2 100.8h1.1v1.1h-1.1zM183.9 100.1h1.1v1.1h-1.1zM192.4 102.0h1.1v1.1h-1.1zM186.6 99.4h1.1v1.1h-1.1zM180.1 106.4h1.1v1.1h-1.1zM197.2 99.4h1.1v1.1h-1.1zM173.9 102.8h1.1v1.1h-1.1zM183.9 99.0h1.1v1.1h-1.1zM172.6 103.9h1.1v1.1h-1.1zM174.6 103.5h1.1v1.1h-1.1zM183.1 102.3h1.1v1.1h-1.1zM183.2 100.4h1.1v1.1h-1.1zM178.1 101.1h1.1v1.1h-1.1zM181.7 106.4h1.1v1.1h-1.1zM193.0 101.0h1.1v1.1h-1.1zM176.9 98.2h1.1v1.1h-1.1zM180.0 102.7h1.1v1.1h-1.1zM169.6 101.9h1.1v1.1h-1.1zM189.0 102.4h1.1v1.1h-1.1zM183.7 104.4h1.1v1.1h-1.1zM179.9 105.0h1.1v1.1h-1.1zM179.7 100.1h1.1v1.1h-1.1zM180.9 105.4h1.1v1.1h-1.1zM178.1 98.6h1.1v1.1h-1.1zM184.8 105.3h1.1v1.1h-1.1zM180.5 104.1h1.1v1.1h-1.1zM181.2 99.7h1.1v1.1h-1.1zM183.7 99.4h1.1v1.1h-1.1zM192.6 99.8h1.1v1.1h-1.1zM176.4 105.8h1.1v1.1h-1.1zM176.2 100.6h1.1v1.1h-1.1zM161.7 98.1h1.1v1.1h-1.1zM188.1 104.0h1.1v1.1h-1.1zM179.2 106.4h1.1v1.1h-1.1zM178.4 106.4h1.1v1.1h-1.1zM176.0 105.9h1.1v1.1h-1.1zM179.0 103.4h1.1v1.1h-1.1zM170.3 98.7h1.1v1.1h-1.1zM187.9 101.8h1.1v1.1h-1.1zM183.4 101.0h1.1v1.1h-1.1zM177.4 102.2h1.1v1.1h-1.1zM172.3 99.2h1.1v1.1h-1.1zM173.2 102.9h1.1v1.1h-1.1zM170.3 102.4h1.1v1.1h-1.1zM183.8 102.7h1.1v1.1h-1.1zM178.5 101.1h1.1v1.1h-1.1zM185.4 97.8h1.1v1.1h-1.1zM185.0 99.9h1.1v1.1h-1.1zM170.5 100.7h1.1v1.1h-1.1zM191.0 97.8h1.1v1.1h-1.1zM171.9 103.4h1.1v1.1h-1.1zM185.8 102.3h1.1v1.1h-1.1zM171.6 100.1h1.1v1.1h-1.1zM195.8 100.8h1.1v1.1h-1.1zM172.9 103.7h1.1v1.1h-1.1zM179.5 106.4h1.1v1.1h-1.1zM191.1 100.9h1.1v1.1h-1.1zM182.8 99.0h1.1v1.1h-1.1zM176.7 98.9h1.1v1.1h-1.1zM192.4 99.1h1.1v1.1h-1.1zM173.9 103.8h1.1v1.1h-1.1zM187.7 98.7h1.1v1.1h-1.1zM156.4 98.2h1.1v1.1h-1.1zM187.3 103.0h1.1v1.1h-1.1zM188.9 99.2h1.1v1.1h-1.1zM179.6 104.5h1.1v1.1h-1.1zM173.9 100.7h1.1v1.1h-1.1zM174.8 104.4h1.1v1.1h-1.1zM179.6 103.9h1.1v1.1h-1.1zM163.6 102.0h1.1v1.1h-1.1zM181.1 105.8h1.1v1.1h-1.1zM171.2 104.2h1.1v1.1h-1.1zM197.7 101.0h1.1v1.1h-1.1zM167.0 101.5h1.1v1.1h-1.1zM174.5 101.9h1.1v1.1h-1.1zM178.0 104.6h1.1v1.1h-1.1zM178.3 104.7h1.1v1.1h-1.1zM169.9 101.1h1.1v1.1h-1.1zM175.0 102.5h1.1v1.1h-1.1zM179.4 106.4h1.1v1.1h-1.1zM173.7 97.6h1.1v1.1h-1.1zM183.5 100.5h1.1v1.1h-1.1zM190.2 99.2h1.1v1.1h-1.1zM187.5 103.1h1.1v1.1h-1.1zM182.1 101.5h1.1v1.1h-1.1zM180.1 97.7h1.1v1.1h-1.1zM159.5 98.6h1.1v1.1h-1.1zM180.2 103.9h1.1v1.1h-1.1zM194.7 99.4h1.1v1.1h-1.1zM190.5 99.0h1.1v1.1h-1.1zM179.3 106.4h1.1v1.1h-1.1zM180.3 104.5h1.1v1.1h-1.1zM180.2 106.3h1.1v1.1h-1.1zM187.6 101.2h1.1v1.1h-1.1zM166.0 98.0h1.1v1.1h-1.1zM199.7 98.3h1.1v1.1h-1.1zM183.8 102.6h1.1v1.1h-1.1zM181.9 105.4h1.1v1.1h-1.1zM177.5 101.1h1.1v1.1h-1.1zM196.6 100.4h1.1v1.1h-1.1zM176.4 102.6h1.1v1.1h-1.1zM191.8 102.1h1.1v1.1h-1.1zM183.2 104.3h1.1v1.1h-1.1zM180.9 103.0h1.1v1.1h-1.1zM204.8 98.3h1.1v1.1h-1.1zM177.7 106.3h1.1v1.1h-1.1zM174.4 99.3h1.1v1.1h-1.1zM155.3 97.7h1.1v1.1h-1.1zM181.5 106.2h1.1v1.1h-1.1zM201.6 98.0h1.1v1.1h-1.1zM174.5 100.1h1.1v1.1h-1.1zM197.2 99.5h1.1v1.1h-1.1zM178.6 105.6h1.1v1.1h-1.1zM181.7 105.3h1.1v1.1h-1.1zM182.9 101.8h1.1v1.1h-1.1zM181.8 105.1h1.1v1.1h-1.1zM199.4 100.1h1.1v1.1h-1.1zM180.1 104.6h1.1v1.1h-1.1zM180.5 106.4h1.1v1.1h-1.1zM174.4 98.1h1.1v1.1h-1.1zM186.1 98.6h1.1v1.1h-1.1zM176.4 102.1h1.1v1.1h-1.1zM184.2 105.7h1.1v1.1h-1.1zM169.8 100.6h1.1v1.1h-1.1zM170.7 102.1h1.1v1.1h-1.1zM194.1 101.9h1.1v1.1h-1.1zM184.7 100.6h1.1v1.1h-1.1zM180.6 106.2h1.1v1.1h-1.1zM172.6 99.8h1.1v1.1h-1.1zM176.7 98.6h1.1v1.1h-1.1zM176.7 103.8h1.1v1.1h-1.1zM181.3 103.8h1.1v1.1h-1.1zM174.9 98.8h1.1v1.1h-1.1zM184.5 101.7h1.1v1.1h-1.1zM182.2 103.3h1.1v1.1h-1.1zM174.7 97.7h1.1v1.1h-1.1zM181.8 106.2h1.1v1.1h-1.1zM175.2 104.4h1.1v1.1h-1.1zM177.9 101.9h1.1v1.1h-1.1zM183.0 104.5h1.1v1.1h-1.1zM176.3 98.2h1.1v1.1h-1.1zM178.1 105.7h1.1v1.1h-1.1zM169.6 99.7h1.1v1.1h-1.1zM175.2 99.1h1.1v1.1h-1.1zM179.9 106.4h1.1v1.1h-1.1zM170.1 98.9h1.1v1.1h-1.1zM178.6 102.2h1.1v1.1h-1.1zM183.7 98.3h1.1v1.1h-1.1zM183.9 105.2h1.1v1.1h-1.1zM180.4 104.7h1.1v1.1h-1.1zM172.5 104.5h1.1v1.1h-1.1zM182.3 105.9h1.1v1.1h-1.1zM186.4 101.7h1.1v1.1h-1.1zM181.7 103.8h1.1v1.1h-1.1zM196.8 99.9h1.1v1.1h-1.1zM171.0 99.1h1.1v1.1h-1.1zM178.8 106.1h1.1v1.1h-1.1zM161.6 99.7h1.1v1.1h-1.1zM181.2 106.2h1.1v1.1h-1.1zM165.2 99.1h1.1v1.1h-1.1zM205.1 98.6h1.1v1.1h-1.1zM181.5 101.9h1.1v1.1h-1.1zM178.5 98.6h1.1v1.1h-1.1zM189.1 98.9h1.1v1.1h-1.1zM183.2 102.9h1.1v1.1h-1.1zM188.8 100.8h1.1v1.1h-1.1zM178.6 106.4h1.1v1.1h-1.1zM178.2 101.5h1.1v1.1h-1.1zM178.3 105.4h1.1v1.1h-1.1zM151.7 98.6h1.1v1.1h-1.1zM178.0 103.3h1.1v1.1h-1.1zM166.5 99.5h1.1v1.1h-1.1zM183.0 106.1h1.1v1.1h-1.1zM162.5 101.7h1.1v1.1h-1.1zM167.5 101.5h1.1v1.1h-1.1zM179.3 106.4h1.1v1.1h-1.1zM181.3 97.8h1.1v1.1h-1.1zM181.3 105.6h1.1v1.1h-1.1zM180.1 104.0h1.1v1.1h-1.1zM178.9 105.7h1.1v1.1h-1.1zM180.4 100.0h1.1v1.1h-1.1zM181.5 100.8h1.1v1.1h-1.1zM162.7 101.0h1.1v1.1h-1.1zM178.9 105.6h1.1v1.1h-1.1zM178.6 98.6h1.1v1.1h-1.1zM178.6 105.4h1.1v1.1h-1.1zM171.8 101.7h1.1v1.1h-1.1zM179.5 105.4h1.1v1.1h-1.1zM186.6 102.5h1.1v1.1h-1.1zM195.2 98.7h1.1v1.1h-1.1zM174.2 105.1h1.1v1.1h-1.1zM176.7 104.9h1.1v1.1h-1.1zM193.2 98.9h1.1v1.1h-1.1zM176.4 102.4h1.1v1.1h-1.1zM164.6 98.8h1.1v1.1h-1.1zM176.9 98.0h1.1v1.1h-1.1zM174.0 99.3h1.1v1.1h-1.1zM183.9 103.2h1.1v1.1h-1.1zM194.9 102.2h1.1v1.1h-1.1zM176.1 98.3h1.1v1.1h-1.1zM182.3 99.0h1.1v1.1h-1.1zM176.8 101.5h1.1v1.1h-1.1zM191.3 97.9h1.1v1.1h-1.1zM177.0 102.4h1.1v1.1h-1.1zM170.0 100.5h1.1v1.1h-1.1zM181.6 106.0h1.1v1.1h-1.1zM177.8 102.3h1.1v1.1h-1.1zM179.5 105.2h1.1v1.1h-1.1zM186.2 97.8h1.1v1.1h-1.1zM202.3 99.1h1.1v1.1h-1.1zM177.5 106.4h1.1v1.1h-1.1zM177.8 100.4h1.1v1.1h-1.1zM188.3 103.8h1.1v1.1h-1.1zM192.3 101.3h1.1v1.1h-1.1zM176.1 104.0h1.1v1.1h-1.1zM185.6 103.6h1.1v1.1h-1.1zM177.6 103.4h1.1v1.1h-1.1zM175.0 100.8h1.1v1.1h-1.1zM166.2 97.9h1.1v1.1h-1.1zM178.9 102.0h1.1v1.1h-1.1zM182.7 101.4h1.1v1.1h-1.1zM180.9 105.3h1.1v1.1h-1.1zM175.3 103.6h1.1v1.1h-1.1zM182.0 104.1h1.1v1.1h-1.1zM174.9 105.8h1.1v1.1h-1.1zM173.3 100.7h1.1v1.1h-1.1zM175.3 101.0h1.1v1.1h-1.1zM172.5 99.9h1.1v1.1h-1.1zM167.7 102.0h1.1v1.1h-1.1zM175.8 101.9h1.1v1.1h-1.1zM179.8 103.4h1.1v1.1h-1.1zM186.5 101.5h1.1v1.1h-1.1zM178.5 102.7h1.1v1.1h-1.1zM179.0 103.0h1.1v1.1h-1.1zM181.0 98.7h1.1v1.1h-1.1zM191.6 101.7h1.1v1.1h-1.1zM184.6 103.6h1.1v1.1h-1.1zM178.6 99.4h1.1v1.1h-1.1zM186.6 105.0h1.1v1.1h-1.1zM186.7 102.2h1.1v1.1h-1.1zM177.9 106.1h1.1v1.1h-1.1zM188.9 99.7h1.1v1.1h-1.1zM180.7 105.5h1.1v1.1h-1.1zM177.7 105.0h1.1v1.1h-1.1zM189.5 100.2h1.1v1.1h-1.1zM192.1 100.7h1.1v1.1h-1.1zM164.6 101.5h1.1v1.1h-1.1zM178.6 99.6h1.1v1.1h-1.1zM163.9 101.9h1.1v1.1h-1.1zM171.4 99.3h1.1v1.1h-1.1zM206.1 98.6h1.1v1.1h-1.1zM180.1 100.9h1.1v1.1h-1.1zM191.7 101.7h1.1v1.1h-1.1zM177.0 102.4h1.1v1.1h-1.1zM193.1 99.3h1.1v1.1h-1.1zM172.0 102.7h1.1v1.1h-1.1zM165.8 102.1h1.1v1.1h-1.1zM182.1 103.6h1.1v1.1h-1.1zM172.3 102.6h1.1v1.1h-1.1zM177.3 103.3h1.1v1.1h-1.1zM189.4 99.2h1.1v1.1h-1.1zM171.2 102.2h1.1v1.1h-1.1zM178.7 104.7h1.1v1.1h-1.1zM185.3 101.0h1.1v1.1h-1.1zM200.5 100.9h1.1v1.1h-1.1zM187.5 103.3h1.1v1.1h-1.1zM199.7 98.8h1.1v1.1h-1.1zM180.6 102.3h1.1v1.1h-1.1zM179.4 106.3h1.1v1.1h-1.1zM180.1 99.4h1.1v1.1h-1.1zM191.9 101.3h1.1v1.1h-1.1zM179.4 101.5h1.1v1.1h-1.1zM170.4 100.1h1.1v1.1h-1.1zM186.3 100.8h1.1v1.1h-1.1zM189.7 103.0h1.1v1.1h-1.1zM174.7 101.4h1.1v1.1h-1.1zM177.6 105.6h1.1v1.1h-1.1zM187.2 101.1h1.1v1.1h-1.1zM200.0 101.0h1.1v1.1h-1.1zM162.8 101.8h1.1v1.1h-1.1zM182.0 101.4h1.1v1.1h-1.1zM175.8 103.3h1.1v1.1h-1.1zM189.1 97.7h1.1v1.1h-1.1zM176.4 105.5h1.1v1.1h-1.1zM168.6 98.4h1.1v1.1h-1.1zM149.5 97.7h1.1v1.1h-1.1zM171.4 98.4h1.1v1.1h-1.1zM181.2 103.6h1.1v1.1h-1.1zM173.2 101.6h1.1v1.1h-1.1zM179.5 104.7h1.1v1.1h-1.1zM170.8 100.5h1.1v1.1h-1.1zM169.7 97.6h1.1v1.1h-1.1zM191.3 100.5h1.1v1.1h-1.1zM183.4 99.2h1.1v1.1h-1.1zM179.3 103.4h1.1v1.1h-1.1zM179.0 103.5h1.1v1.1h-1.1zM160.3 98.8h1.1v1.1h-1.1zM176.1 104.5h1.1v1.1h-1.1zM172.4 101.7h1.1v1.1h-1.1zM176.4 100.4h1.1v1.1h-1.1zM192.8 101.4h1.1v1.1h-1.1zM179.3 102.5h1.1v1.1h-1.1zM182.5 105.4h1.1v1.1h-1.1zM183.6 105.6h1.1v1.1h-1.1zM181.1 105.6h1.1v1.1h-1.1zM195.4 99.0h1.1v1.1h-1.1zM181.0 100.7h1.1v1.1h-1.1zM179.2 106.4h1.1v1.1h-1.1zM169.7 99.4h1.1v1.1h-1.1zM189.8 103.0h1.1v1.1h-1.1zM179.3 104.8h1.1v1.1h-1.1zM186.9 98.3h1.1v1.1h-1.1zM172.5 100.9h1.1v1.1h-1.1zM186.4 102.7h1.1v1.1h-1.1zM181.5 106.2h1.1v1.1h-1.1zM165.3 97.9h1.1v1.1h-1.1zM174.8 102.2h1.1v1.1h-1.1zM178.7 106.4h1.1v1.1h-1.1zM188.3 98.1h1.1v1.1h-1.1zM168.5 98.4h1.1v1.1h-1.1zM172.9 99.0h1.1v1.1h-1.1zM201.3 97.9h1.1v1.1h-1.1zM186.3 101.7h1.1v1.1h-1.1zM177.7 102.6h1.1v1.1h-1.1zM181.6 99.8h1.1v1.1h-1.1zM192.8 98.5h1.1v1.1h-1.1zM181.4 101.8h1.1v1.1h-1.1zM176.6 104.8h1.1v1.1h-1.1zM187.1 102.9h1.1v1.1h-1.1zM189.4 101.1h1.1v1.1h-1.1zM185.9 102.7h1.1v1.1h-1.1zM183.3 102.5h1.1v1.1h-1.1zM182.6 98.9h1.1v1.1h-1.1zM179.7 103.0h1.1v1.1h-1.1zM183.5 103.7h1.1v1.1h-1.1zM187.1 104.1h1.1v1.1h-1.1zM181.8 103.1h1.1v1.1h-1.1zM179.1 105.0h1.1v1.1h-1.1zM177.1 103.8h1.1v1.1h-1.1zM190.8 98.9h1.1v1.1h-1.1zM191.3 98.9h1.1v1.1h-1.1zM186.9 99.1h1.1v1.1h-1.1zM189.9 99.8h1.1v1.1h-1.1zM184.6 102.8h1.1v1.1h-1.1zM176.6 98.0h1.1v1.1h-1.1zM181.1 101.6h1.1v1.1h-1.1zM183.2 105.3h1.1v1.1h-1.1zM177.7 99.9h1.1v1.1h-1.1zM179.8 102.8h1.1v1.1h-1.1zM186.1 104.4h1.1v1.1h-1.1zM193.0 98.6h1.1v1.1h-1.1zM188.2 101.3h1.1v1.1h-1.1zM180.3 103.8h1.1v1.1h-1.1zM167.6 100.3h1.1v1.1h-1.1zM175.6 101.1h1.1v1.1h-1.1zM181.8 105.8h1.1v1.1h-1.1zM181.7 104.8h1.1v1.1h-1.1zM170.8 100.3h1.1v1.1h-1.1zM177.0 105.5h1.1v1.1h-1.1zM176.1 101.7h1.1v1.1h-1.1zM184.5 103.5h1.1v1.1h-1.1zM181.3 104.2h1.1v1.1h-1.1zM179.0 105.3h1.1v1.1h-1.1zM173.1 102.5h1.1v1.1h-1.1zM184.8 98.3h1.1v1.1h-1.1zM179.4 105.3h1.1v1.1h-1.1zM182.6 100.1h1.1v1.1h-1.1zM172.0 100.3h1.1v1.1h-1.1zM189.7 100.3h1.1v1.1h-1.1zM179.8 100.0h1.1v1.1h-1.1zM193.5 103.0h1.1v1.1h-1.1zM182.0 100.5h1.1v1.1h-1.1zM186.8 98.3h1.1v1.1h-1.1zM178.6 99.7h1.1v1.1h-1.1zM179.1 106.4h1.1v1.1h-1.1zM180.6 104.9h1.1v1.1h-1.1zM185.7 102.7h1.1v1.1h-1.1zM178.7 106.4h1.1v1.1h-1.1zM185.1 104.7h1.1v1.1h-1.1zM157.9 98.8h1.1v1.1h-1.1zM175.8 103.9h1.1v1.1h-1.1zM176.4 102.2h1.1v1.1h-1.1zM178.9 106.4h1.1v1.1h-1.1zM181.6 98.9h1.1v1.1h-1.1zM178.2 106.4h1.1v1.1h-1.1zM175.8 98.7h1.1v1.1h-1.1zM178.5 104.0h1.1v1.1h-1.1zM180.1 105.5h1.1v1.1h-1.1zM168.7 98.2h1.1v1.1h-1.1zM197.6 99.6h1.1v1.1h-1.1zM185.8 102.6h1.1v1.1h-1.1zM184.8 99.6h1.1v1.1h-1.1zM177.7 105.8h1.1v1.1h-1.1zM193.1 100.0h1.1v1.1h-1.1zM188.7 99.6h1.1v1.1h-1.1zM168.6 102.1h1.1v1.1h-1.1zM178.9 106.2h1.1v1.1h-1.1zM169.7 101.6h1.1v1.1h-1.1zM199.0 98.1h1.1v1.1h-1.1zM181.6 106.4h1.1v1.1h-1.1zM183.0 99.9h1.1v1.1h-1.1zM171.9 101.3h1.1v1.1h-1.1zM165.6 97.8h1.1v1.1h-1.1zM174.4 104.0h1.1v1.1h-1.1zM178.3 106.2h1.1v1.1h-1.1zM183.2 104.5h1.1v1.1h-1.1zM186.2 103.4h1.1v1.1h-1.1zM194.2 100.2h1.1v1.1h-1.1zM179.9 104.1h1.1v1.1h-1.1zM190.0 102.1h1.1v1.1h-1.1zM171.2 98.1h1.1v1.1h-1.1zM190.3 98.5h1.1v1.1h-1.1zM176.6 105.1h1.1v1.1h-1.1zM174.4 99.0h1.1v1.1h-1.1zM180.0 101.2h1.1v1.1h-1.1zM172.0 100.2h1.1v1.1h-1.1zM160.9 100.8h1.1v1.1h-1.1zM185.7 98.9h1.1v1.1h-1.1zM178.8 105.5h1.1v1.1h-1.1zM183.8 104.4h1.1v1.1h-1.1zM179.3 106.1h1.1v1.1h-1.1zM187.9 99.9h1.1v1.1h-1.1zM185.4 102.1h1.1v1.1h-1.1zM184.8 101.9h1.1v1.1h-1.1zM180.9 102.9h1.1v1.1h-1.1zM179.9 106.4h1.1v1.1h-1.1zM179.6 97.6h1.1v1.1h-1.1zM174.0 99.8h1.1v1.1h-1.1zM171.9 97.7h1.1v1.1h-1.1zM177.8 101.8h1.1v1.1h-1.1zM183.5 102.2h1.1v1.1h-1.1zM180.6 106.4h1.1v1.1h-1.1zM165.4 98.2h1.1v1.1h-1.1zM161.1 98.1h1.1v1.1h-1.1zM179.5 100.3h1.1v1.1h-1.1zM182.1 105.2h1.1v1.1h-1.1zM179.9 106.4h1.1v1.1h-1.1zM167.7 103.5h1.1v1.1h-1.1zM174.1 104.7h1.1v1.1h-1.1zM155.3 98.1h1.1v1.1h-1.1zM181.2 104.8h1.1v1.1h-1.1zM154.6 99.6h1.1v1.1h-1.1zM184.6 103.2h1.1v1.1h-1.1zM190.9 103.3h1.1v1.1h-1.1zM172.7 102.8h1.1v1.1h-1.1zM175.0 98.9h1.1v1.1h-1.1zM186.1 104.1h1.1v1.1h-1.1zM183.4 100.6h1.1v1.1h-1.1zM170.7 99.0h1.1v1.1h-1.1zM173.9 101.7h1.1v1.1h-1.1zM179.5 103.5h1.1v1.1h-1.1zM194.2 101.0h1.1v1.1h-1.1zM182.4 104.9h1.1v1.1h-1.1zM183.2 102.2h1.1v1.1h-1.1zM179.4 106.4h1.1v1.1h-1.1zM184.6 102.2h1.1v1.1h-1.1zM180.7 106.4h1.1v1.1h-1.1zM195.9 98.8h1.1v1.1h-1.1zM167.9 102.3h1.1v1.1h-1.1zM175.7 103.7h1.1v1.1h-1.1zM171.0 102.4h1.1v1.1h-1.1zM170.0 103.1h1.1v1.1h-1.1zM187.8 98.9h1.1v1.1h-1.1zM186.4 98.3h1.1v1.1h-1.1zM185.8 102.2h1.1v1.1h-1.1zM175.5 101.1h1.1v1.1h-1.1zM180.9 105.8h1.1v1.1h-1.1zM190.1 98.3h1.1v1.1h-1.1zM174.8 100.6h1.1v1.1h-1.1zM200.0 99.1h1.1v1.1h-1.1zM185.9 100.7h1.1v1.1h-1.1zM169.6 101.8h1.1v1.1h-1.1zM176.2 100.4h1.1v1.1h-1.1zM193.4 98.5h1.1v1.1h-1.1zM180.3 106.4h1.1v1.1h-1.1zM191.8 102.1h1.1v1.1h-1.1zM178.3 105.8h1.1v1.1h-1.1zM170.6 101.0h1.1v1.1h-1.1zM169.1 102.4h1.1v1.1h-1.1zM177.6 102.6h1.1v1.1h-1.1zM182.2 105.5h1.1v1.1h-1.1zM199.4 101.2h1.1v1.1h-1.1zM181.0 105.5h1.1v1.1h-1.1zM178.0 105.7h1.1v1.1h-1.1zM179.4 101.4h1.1v1.1h-1.1zM191.7 101.2h1.1v1.1h-1.1zM177.3 104.2h1.1v1.1h-1.1zM177.4 101.5h1.1v1.1h-1.1zM189.5 100.9h1.1v1.1h-1.1zM180.7 106.0h1.1v1.1h-1.1zM186.7 102.2h1.1v1.1h-1.1zM167.0 99.8h1.1v1.1h-1.1zM180.9 105.6h1.1v1.1h-1.1zM176.0 104.8h1.1v1.1h-1.1zM152.5 97.9h1.1v1.1h-1.1zM177.3 105.2h1.1v1.1h-1.1zM189.2 99.3h1.1v1.1h-1.1zM181.5 102.8h1.1v1.1h-1.1zM178.9 106.4h1.1v1.1h-1.1zM177.1 103.5h1.1v1.1h-1.1zM155.2 99.9h1.1v1.1h-1.1zM190.5 100.6h1.1v1.1h-1.1zM166.1 98.6h1.1v1.1h-1.1zM179.4 104.9h1.1v1.1h-1.1zM166.8 99.4h1.1v1.1h-1.1zM182.5 100.1h1.1v1.1h-1.1zM176.1 102.8h1.1v1.1h-1.1zM200.0 99.7h1.1v1.1h-1.1zM178.7 106.4h1.1v1.1h-1.1zM191.1 100.8h1.1v1.1h-1.1zM190.3 99.1h1.1v1.1h-1.1zM183.5 105.5h1.1v1.1h-1.1zM175.8 103.9h1.1v1.1h-1.1zM171.5 104.6h1.1v1.1h-1.1zM186.4 101.0h1.1v1.1h-1.1zM181.0 105.5h1.1v1.1h-1.1zM180.5 99.1h1.1v1.1h-1.1zM176.2 104.7h1.1v1.1h-1.1zM176.0 100.1h1.1v1.1h-1.1zM189.2 102.7h1.1v1.1h-1.1zM196.0 101.3h1.1v1.1h-1.1zM190.6 100.0h1.1v1.1h-1.1zM184.4 103.1h1.1v1.1h-1.1zM194.5 98.6h1.1v1.1h-1.1zM188.5 99.1h1.1v1.1h-1.1zM181.6 99.0h1.1v1.1h-1.1zM168.4 100.1h1.1v1.1h-1.1zM182.3 105.0h1.1v1.1h-1.1zM155.4 98.8h1.1v1.1h-1.1zM194.0 100.7h1.1v1.1h-1.1zM178.8 105.9h1.1v1.1h-1.1zM189.3 98.4h1.1v1.1h-1.1zM186.1 100.9h1.1v1.1h-1.1zM180.8 102.9h1.1v1.1h-1.1zM171.5 101.9h1.1v1.1h-1.1zM176.2 103.0h1.1v1.1h-1.1zM178.8 106.4h1.1v1.1h-1.1zM179.0 106.4h1.1v1.1h-1.1zM182.3 102.0h1.1v1.1h-1.1zM179.4 105.1h1.1v1.1h-1.1zM178.1 100.2h1.1v1.1h-1.1zM187.2 101.7h1.1v1.1h-1.1zM173.3 103.9h1.1v1.1h-1.1zM170.8 97.9h1.1v1.1h-1.1zM201.4 97.6h1.1v1.1h-1.1zM183.4 99.4h1.1v1.1h-1.1zM182.9 98.6h1.1v1.1h-1.1zM163.0 100.5h1.1v1.1h-1.1zM177.0 102.9h1.1v1.1h-1.1zM206.8 98.6h1.1v1.1h-1.1zM173.6 98.1h1.1v1.1h-1.1zM168.8 99.4h1.1v1.1h-1.1zM160.4 99.6h1.1v1.1h-1.1zM179.0 103.0h1.1v1.1h-1.1zM176.5 101.2h1.1v1.1h-1.1zM180.9 103.1h1.1v1.1h-1.1zM187.2 103.3h1.1v1.1h-1.1zM178.9 102.9h1.1v1.1h-1.1zM180.0 104.1h1.1v1.1h-1.1zM182.7 105.2h1.1v1.1h-1.1zM180.2 106.4h1.1v1.1h-1.1zM172.6 102.1h1.1v1.1h-1.1zM177.4 101.1h1.1v1.1h-1.1zM180.8 106.1h1.1v1.1h-1.1zM175.9 103.5h1.1v1.1h-1.1zM195.3 101.2h1.1v1.1h-1.1zM159.4 98.1h1.1v1.1h-1.1zM200.5 100.9h1.1v1.1h-1.1zM180.9 105.9h1.1v1.1h-1.1zM200.2 97.7h1.1v1.1h-1.1zM180.7 103.0h1.1v1.1h-1.1zM163.3 98.6h1.1v1.1h-1.1zM180.8 103.7h1.1v1.1h-1.1zM182.8 103.9h1.1v1.1h-1.1zM180.0 103.8h1.1v1.1h-1.1zM182.1 99.9h1.1v1.1h-1.1zM184.1 104.5h1.1v1.1h-1.1zM190.3 100.8h1.1v1.1h-1.1zM174.6 104.5h1.1v1.1h-1.1zM197.3 99.7h1.1v1.1h-1.1zM178.8 105.9h1.1v1.1h-1.1zM189.0 99.1h1.1v1.1h-1.1zM177.3 105.2h1.1v1.1h-1.1zM170.9 104.6h1.1v1.1h-1.1zM173.9 100.5h1.1v1.1h-1.1zM183.0 98.2h1.1v1.1h-1.1zM191.4 99.6h1.1v1.1h-1.1zM164.5 100.4h1.1v1.1h-1.1zM185.4 103.1h1.1v1.1h-1.1zM179.0 106.2h1.1v1.1h-1.1zM181.4 100.6h1.1v1.1h-1.1zM170.2 103.2h1.1v1.1h-1.1zM179.8 103.9h1.1v1.1h-1.1zM181.6 101.1h1.1v1.1h-1.1zM202.1 97.7h1.1v1.1h-1.1zM185.9 99.8h1.1v1.1h-1.1zM182.8 103.2h1.1v1.1h-1.1zM180.7 105.1h1.1v1.1h-1.1zM201.2 99.4h1.1v1.1h-1.1zM187.8 102.3h1.1v1.1h-1.1zM168.4 101.3h1.1v1.1h-1.1zM171.3 100.3h1.1v1.1h-1.1zM170.5 100.8h1.1v1.1h-1.1zM187.5 103.9h1.1v1.1h-1.1zM181.4 99.9h1.1v1.1h-1.1zM168.4 103.4h1.1v1.1h-1.1zM194.8 99.4h1.1v1.1h-1.1zM178.6 103.7h1.1v1.1h-1.1zM184.5 101.5h1.1v1.1h-1.1zM179.4 106.4h1.1v1.1h-1.1zM170.6 101.9h1.1v1.1h-1.1zM169.0 102.9h1.1v1.1h-1.1zM183.5 97.7h1.1v1.1h-1.1zM183.8 105.8h1.1v1.1h-1.1zM179.9 106.4h1.1v1.1h-1.1zM182.1 101.6h1.1v1.1h-1.1zM189.9 101.2h1.1v1.1h-1.1zM182.2 105.1h1.1v1.1h-1.1zM203.6 98.2h1.1v1.1h-1.1zM186.2 104.9h1.1v1.1h-1.1zM181.2 104.1h1.1v1.1h-1.1zM154.9 97.7h1.1v1.1h-1.1zM179.6 103.1h1.1v1.1h-1.1zM167.1 99.1h1.1v1.1h-1.1zM183.1 98.3h1.1v1.1h-1.1zM179.4 105.5h1.1v1.1h-1.1zM175.1 100.4h1.1v1.1h-1.1zM181.4 102.5h1.1v1.1h-1.1zM176.7 101.1h1.1v1.1h-1.1zM165.8 100.6h1.1v1.1h-1.1zM179.5 104.3h1.1v1.1h-1.1zM186.2 102.2h1.1v1.1h-1.1zM182.0 104.2h1.1v1.1h-1.1zM198.9 100.4h1.1v1.1h-1.1zM183.9 103.5h1.1v1.1h-1.1zM179.3 101.1h1.1v1.1h-1.1zM184.5 105.0h1.1v1.1h-1.1zM170.8 103.8h1.1v1.1h-1.1zM184.5 99.5h1.1v1.1h-1.1zM174.5 103.2h1.1v1.1h-1.1zM183.9 101.8h1.1v1.1h-1.1zM174.8 100.1h1.1v1.1h-1.1zM165.4 100.8h1.1v1.1h-1.1zM185.6 98.5h1.1v1.1h-1.1zM182.9 104.4h1.1v1.1h-1.1zM170.6 99.3h1.1v1.1h-1.1zM192.3 98.6h1.1v1.1h-1.1zM211.4 97.6h1.1v1.1h-1.1zM182.5 103.5h1.1v1.1h-1.1zM180.8 97.8h1.1v1.1h-1.1zM180.0 106.4h1.1v1.1h-1.1zM175.5 99.7h1.1v1.1h-1.1zM181.5 105.7h1.1v1.1h-1.1zM182.9 105.8h1.1v1.1h-1.1zM189.2 103.1h1.1v1.1h-1.1zM167.3 98.5h1.1v1.1h-1.1zM191.9 97.7h1.1v1.1h-1.1zM181.7 99.2h1.1v1.1h-1.1zM194.2 100.0h1.1v1.1h-1.1zM181.0 104.2h1.1v1.1h-1.1zM180.9 102.3h1.1v1.1h-1.1zM181.7 97.7h1.1v1.1h-1.1zM181.9 103.3h1.1v1.1h-1.1zM176.2 101.8h1.1v1.1h-1.1zM177.6 105.2h1.1v1.1h-1.1zM183.0 100.1h1.1v1.1h-1.1zM179.2 105.1h1.1v1.1h-1.1zM176.0 105.5h1.1v1.1h-1.1zM179.9 103.0h1.1v1.1h-1.1zM173.9 99.7h1.1v1.1h-1.1zM181.6 103.8h1.1v1.1h-1.1zM181.1 106.0h1.1v1.1h-1.1zM177.8 106.4h1.1v1.1h-1.1zM178.9 101.2h1.1v1.1h-1.1zM190.8 102.9h1.1v1.1h-1.1zM180.8 100.3h1.1v1.1h-1.1zM164.4 101.3h1.1v1.1h-1.1zM171.5 97.7h1.1v1.1h-1.1zM176.4 98.6h1.1v1.1h-1.1zM173.0 103.3h1.1v1.1h-1.1zM187.6 102.4h1.1v1.1h-1.1zM178.2 102.7h1.1v1.1h-1.1zM187.4 100.7h1.1v1.1h-1.1zM175.6 100.7h1.1v1.1h-1.1zM179.8 102.8h1.1v1.1h-1.1zM181.6 105.4h1.1v1.1h-1.1zM186.6 98.8h1.1v1.1h-1.1zM171.2 100.0h1.1v1.1h-1.1zM193.0 101.2h1.1v1.1h-1.1zM179.8 103.3h1.1v1.1h-1.1zM179.4 99.6h1.1v1.1h-1.1zM159.1 98.7h1.1v1.1h-1.1zM178.0 97.6h1.1v1.1h-1.1zM173.7 104.2h1.1v1.1h-1.1zM170.4 102.7h1.1v1.1h-1.1zM167.0 99.9h1.1v1.1h-1.1zM188.2 100.7h1.1v1.1h-1.1zM171.8 100.1h1.1v1.1h-1.1zM192.6 101.3h1.1v1.1h-1.1zM176.6 104.3h1.1v1.1h-1.1zM171.3 98.3h1.1v1.1h-1.1zM177.6 101.9h1.1v1.1h-1.1zM168.5 101.9h1.1v1.1h-1.1zM186.6 104.3h1.1v1.1h-1.1zM197.6 101.4h1.1v1.1h-1.1zM161.4 101.4h1.1v1.1h-1.1zM177.9 104.1h1.1v1.1h-1.1zM181.5 104.8h1.1v1.1h-1.1zM167.6 100.5h1.1v1.1h-1.1zM203.1 98.9h1.1v1.1h-1.1zM177.5 106.4h1.1v1.1h-1.1zM186.5 102.7h1.1v1.1h-1.1zM174.4 105.4h1.1v1.1h-1.1zM179.5 105.0h1.1v1.1h-1.1zM182.9 103.0h1.1v1.1h-1.1zM163.7 99.1h1.1v1.1h-1.1zM179.2 105.8h1.1v1.1h-1.1zM191.7 102.6h1.1v1.1h-1.1zM179.3 102.1h1.1v1.1h-1.1zM184.2 101.8h1.1v1.1h-1.1zM173.6 105.1h1.1v1.1h-1.1zM169.3 100.1h1.1v1.1h-1.1zM184.2 104.1h1.1v1.1h-1.1zM175.6 102.8h1.1v1.1h-1.1zM180.5 106.4h1.1v1.1h-1.1zM178.1 104.5h1.1v1.1h-1.1zM178.9 104.7h1.1v1.1h-1.1zM177.7 99.8h1.1v1.1h-1.1zM184.2 104.1h1.1v1.1h-1.1zM197.5 98.9h1.1v1.1h-1.1zM191.4 98.7h1.1v1.1h-1.1zM172.3 104.5h1.1v1.1h-1.1zM189.1 100.6h1.1v1.1h-1.1zM187.4 102.8h1.1v1.1h-1.1zM181.7 102.9h1.1v1.1h-1.1zM175.8 99.9h1.1v1.1h-1.1zM191.4 100.4h1.1v1.1h-1.1zM170.9 99.1h1.1v1.1h-1.1zM188.2 101.0h1.1v1.1h-1.1zM195.3 98.2h1.1v1.1h-1.1zM176.1 102.8h1.1v1.1h-1.1zM177.8 106.0h1.1v1.1h-1.1zM167.3 99.5h1.1v1.1h-1.1zM187.6 101.7h1.1v1.1h-1.1zM179.7 98.3h1.1v1.1h-1.1zM177.0 100.9h1.1v1.1h-1.1zM162.7 102.0h1.1v1.1h-1.1zM183.2 102.4h1.1v1.1h-1.1zM187.2 101.9h1.1v1.1h-1.1zM173.0 101.7h1.1v1.1h-1.1zM186.2 101.6h1.1v1.1h-1.1zM161.6 99.6h1.1v1.1h-1.1zM191.3 102.5h1.1v1.1h-1.1zM183.5 101.2h1.1v1.1h-1.1zM180.4 99.4h1.1v1.1h-1.1zM177.1 104.3h1.1v1.1h-1.1zM180.0 105.9h1.1v1.1h-1.1zM178.5 105.8h1.1v1.1h-1.1zM175.3 99.5h1.1v1.1h-1.1zM177.9 100.1h1.1v1.1h-1.1zM175.2 99.9h1.1v1.1h-1.1zM180.0 100.0h1.1v1.1h-1.1zM153.3 99.0h1.1v1.1h-1.1zM188.1 98.6h1.1v1.1h-1.1zM186.6 101.5h1.1v1.1h-1.1zM180.2 106.4h1.1v1.1h-1.1zM179.2 103.9h1.1v1.1h-1.1zM179.1 103.4h1.1v1.1h-1.1zM200.4 101.2h1.1v1.1h-1.1zM176.7 101.6h1.1v1.1h-1.1zM180.5 103.5h1.1v1.1h-1.1zM189.4 98.6h1.1v1.1h-1.1zM169.2 103.9h1.1v1.1h-1.1zM184.9 104.5h1.1v1.1h-1.1zM182.6 102.8h1.1v1.1h-1.1zM167.6 102.0h1.1v1.1h-1.1zM180.2 102.9h1.1v1.1h-1.1zM189.5 99.1h1.1v1.1h-1.1zM178.7 106.3h1.1v1.1h-1.1zM188.8 102.5h1.1v1.1h-1.1zM175.7 101.1h1.1v1.1h-1.1zM189.9 99.2h1.1v1.1h-1.1zM176.8 103.6h1.1v1.1h-1.1zM160.1 100.9h1.1v1.1h-1.1zM188.4 102.1h1.1v1.1h-1.1zM172.8 98.5h1.1v1.1h-1.1zM177.0 106.2h1.1v1.1h-1.1zM180.6 106.3h1.1v1.1h-1.1zM198.3 98.6h1.1v1.1h-1.1zM182.0 104.7h1.1v1.1h-1.1zM152.2 98.2h1.1v1.1h-1.1zM173.1 101.7h1.1v1.1h-1.1zM174.8 100.2h1.1v1.1h-1.1zM176.0 104.4h1.1v1.1h-1.1zM200.1 98.8h1.1v1.1h-1.1zM187.9 104.4h1.1v1.1h-1.1zM183.5 105.6h1.1v1.1h-1.1zM196.2 98.0h1.1v1.1h-1.1zM176.1 102.4h1.1v1.1h-1.1zM169.1 98.3h1.1v1.1h-1.1zM182.0 100.1h1.1v1.1h-1.1zM183.2 100.0h1.1v1.1h-1.1zM180.2 106.4h1.1v1.1h-1.1zM175.9 104.2h1.1v1.1h-1.1zM173.6 100.9h1.1v1.1h-1.1zM183.9 105.0h1.1v1.1h-1.1zM165.5 98.3h1.1v1.1h-1.1zM185.9 105.0h1.1v1.1h-1.1zM193.8 99.2h1.1v1.1h-1.1zM179.4 106.4h1.1v1.1h-1.1zM176.1 102.7h1.1v1.1h-1.1zM173.8 101.3h1.1v1.1h-1.1zM175.4 105.7h1.1v1.1h-1.1zM182.6 102.3h1.1v1.1h-1.1zM197.3 100.1h1.1v1.1h-1.1zM183.5 105.4h1.1v1.1h-1.1zM179.0 101.4h1.1v1.1h-1.1zM173.6 103.6h1.1v1.1h-1.1zM192.6 101.7h1.1v1.1h-1.1zM195.4 98.1h1.1v1.1h-1.1zM189.4 98.6h1.1v1.1h-1.1zM174.9 100.8h1.1v1.1h-1.1zM179.2 105.2h1.1v1.1h-1.1zM188.3 103.8h1.1v1.1h-1.1zM173.5 104.2h1.1v1.1h-1.1zM201.3 98.2h1.1v1.1h-1.1zM184.2 97.8h1.1v1.1h-1.1zM189.2 103.1h1.1v1.1h-1.1zM178.6 106.3h1.1v1.1h-1.1zM174.6 103.2h1.1v1.1h-1.1zM182.7 99.6h1.1v1.1h-1.1zM180.4 104.7h1.1v1.1h-1.1zM177.8 106.0h1.1v1.1h-1.1zM190.6 101.1h1.1v1.1h-1.1zM189.8 99.2h1.1v1.1h-1.1zM176.7 100.8h1.1v1.1h-1.1zM180.2 101.5h1.1v1.1h-1.1zM178.7 105.7h1.1v1.1h-1.1zM174.9 101.0h1.1v1.1h-1.1zM172.0 103.0h1.1v1.1h-1.1zM183.6 104.9h1.1v1.1h-1.1zM182.9 104.8h1.1v1.1h-1.1zM174.7 98.8h1.1v1.1h-1.1zM170.7 98.6h1.1v1.1h-1.1zM179.7 105.7h1.1v1.1h-1.1zM193.2 98.5h1.1v1.1h-1.1zM187.6 101.3h1.1v1.1h-1.1zM177.7 105.4h1.1v1.1h-1.1zM180.8 101.3h1.1v1.1h-1.1zM175.2 101.6h1.1v1.1h-1.1zM183.5 102.5h1.1v1.1h-1.1zM181.9 104.5h1.1v1.1h-1.1zM187.8 98.6h1.1v1.1h-1.1zM180.8 101.6h1.1v1.1h-1.1zM177.7 98.0h1.1v1.1h-1.1zM182.7 101.8h1.1v1.1h-1.1zM163.6 100.0h1.1v1.1h-1.1zM179.5 104.2h1.1v1.1h-1.1zM176.3 103.9h1.1v1.1h-1.1zM178.2 106.4h1.1v1.1h-1.1zM184.2 103.6h1.1v1.1h-1.1zM197.6 98.4h1.1v1.1h-1.1zM183.0 104.2h1.1v1.1h-1.1zM183.3 100.8h1.1v1.1h-1.1zM176.4 106.1h1.1v1.1h-1.1zM176.8 106.4h1.1v1.1h-1.1zM171.9 100.6h1.1v1.1h-1.1zM167.5 103.1h1.1v1.1h-1.1zM180.1 106.4h1.1v1.1h-1.1zM165.0 98.0h1.1v1.1h-1.1zM180.9 105.8h1.1v1.1h-1.1zM178.7 104.0h1.1v1.1h-1.1zM174.0 105.0h1.1v1.1h-1.1zM182.5 103.1h1.1v1.1h-1.1zM182.1 104.3h1.1v1.1h-1.1zM172.1 99.2h1.1v1.1h-1.1zM163.4 101.8h1.1v1.1h-1.1zM180.0 98.3h1.1v1.1h-1.1zM173.6 99.5h1.1v1.1h-1.1zM173.7 100.6h1.1v1.1h-1.1zM181.1 98.8h1.1v1.1h-1.1zM173.9 99.8h1.1v1.1h-1.1zM189.3 103.0h1.1v1.1h-1.1zM196.4 99.6h1.1v1.1h-1.1zM202.9 98.1h1.1v1.1h-1.1zM178.6 98.3h1.1v1.1h-1.1zM152.1 99.1h1.1v1.1h-1.1zM160.5 100.9h1.1v1.1h-1.1zM190.0 99.3h1.1v1.1h-1.1zM167.5 98.6h1.1v1.1h-1.1zM212.4 98.0h1.1v1.1h-1.1zM204.5 99.2h1.1v1.1h-1.1zM181.6 104.0h1.1v1.1h-1.1zM176.7 104.5h1.1v1.1h-1.1zM180.4 102.0h1.1v1.1h-1.1zM198.3 98.3h1.1v1.1h-1.1zM176.4 100.1h1.1v1.1h-1.1zM165.8 99.3h1.1v1.1h-1.1zM165.5 99.2h1.1v1.1h-1.1zM189.6 102.5h1.1v1.1h-1.1zM190.9 98.9h1.1v1.1h-1.1zM168.6 103.1h1.1v1.1h-1.1zM164.2 99.2h1.1v1.1h-1.1zM179.4 106.4h1.1v1.1h-1.1zM179.6 105.5h1.1v1.1h-1.1zM162.1 99.0h1.1v1.1h-1.1zM185.5 102.0h1.1v1.1h-1.1zM181.0 103.2h1.1v1.1h-1.1zM193.4 98.8h1.1v1.1h-1.1zM178.2 100.6h1.1v1.1h-1.1zM181.9 103.8h1.1v1.1h-1.1zM161.8 99.9h1.1v1.1h-1.1zM187.2 99.1h1.1v1.1h-1.1zM179.2 105.4h1.1v1.1h-1.1zM175.6 99.0h1.1v1.1h-1.1zM178.1 104.7h1.1v1.1h-1.1zM184.8 104.3h1.1v1.1h-1.1zM165.6 98.4h1.1v1.1h-1.1zM179.6 101.6h1.1v1.1h-1.1zM191.7 97.7h1.1v1.1h-1.1zM186.4 104.9h1.1v1.1h-1.1zM185.8 101.4h1.1v1.1h-1.1zM179.6 98.0h1.1v1.1h-1.1zM182.0 102.1h1.1v1.1h-1.1zM174.5 103.0h1.1v1.1h-1.1zM174.3 105.6h1.1v1.1h-1.1zM173.1 101.5h1.1v1.1h-1.1zM194.0 102.8h1.1v1.1h-1.1zM168.2 100.2h1.1v1.1h-1.1zM177.8 105.9h1.1v1.1h-1.1zM166.6 97.9h1.1v1.1h-1.1zM174.0 102.9h1.1v1.1h-1.1zM170.4 102.8h1.1v1.1h-1.1zM169.8 101.5h1.1v1.1h-1.1zM160.8 101.7h1.1v1.1h-1.1zM182.0 102.9h1.1v1.1h-1.1zM178.8 98.9h1.1v1.1h-1.1zM166.7 100.1h1.1v1.1h-1.1zM174.3 99.5h1.1v1.1h-1.1zM176.0 98.4h1.1v1.1h-1.1zM177.1 106.4h1.1v1.1h-1.1zM190.4 103.3h1.1v1.1h-1.1zM209.4 98.4h1.1v1.1h-1.1zM175.5 105.1h1.1v1.1h-1.1zM178.4 106.3h1.1v1.1h-1.1zM179.4 102.6h1.1v1.1h-1.1zM171.0 103.7h1.1v1.1h-1.1zM175.1 99.4h1.1v1.1h-1.1zM189.6 102.4h1.1v1.1h-1.1zM161.0 97.7h1.1v1.1h-1.1zM161.3 100.2h1.1v1.1h-1.1zM191.3 102.7h1.1v1.1h-1.1zM174.9 100.0h1.1v1.1h-1.1zM183.6 103.7h1.1v1.1h-1.1zM196.1 98.9h1.1v1.1h-1.1zM175.0 99.2h1.1v1.1h-1.1zM184.0 101.5h1.1v1.1h-1.1zM193.0 98.5h1.1v1.1h-1.1zM185.2 104.8h1.1v1.1h-1.1zM184.7 103.4h1.1v1.1h-1.1zM181.7 102.7h1.1v1.1h-1.1zM190.2 97.8h1.1v1.1h-1.1zM178.6 103.4h1.1v1.1h-1.1zM184.3 98.0h1.1v1.1h-1.1zM186.7 102.2h1.1v1.1h-1.1zM179.4 105.5h1.1v1.1h-1.1zM187.3 102.7h1.1v1.1h-1.1zM178.3 97.9h1.1v1.1h-1.1zM190.4 98.3h1.1v1.1h-1.1zM186.1 102.1h1.1v1.1h-1.1zM162.4 99.3h1.1v1.1h-1.1zM185.9 103.4h1.1v1.1h-1.1zM192.1 101.9h1.1v1.1h-1.1zM171.1 101.1h1.1v1.1h-1.1zM170.9 103.7h1.1v1.1h-1.1zM187.4 102.9h1.1v1.1h-1.1zM175.8 103.6h1.1v1.1h-1.1zM178.3 100.5h1.1v1.1h-1.1zM182.3 106.4h1.1v1.1h-1.1zM166.8 98.9h1.1v1.1h-1.1zM173.2 98.0h1.1v1.1h-1.1zM179.6 103.8h1.1v1.1h-1.1zM183.5 101.2h1.1v1.1h-1.1zM173.3 99.5h1.1v1.1h-1.1zM166.0 99.1h1.1v1.1h-1.1zM178.0 105.5h1.1v1.1h-1.1zM202.6 97.8h1.1v1.1h-1.1zM172.3 100.5h1.1v1.1h-1.1zM166.8 102.6h1.1v1.1h-1.1zM178.8 98.0h1.1v1.1h-1.1zM172.4 102.6h1.1v1.1h-1.1zM174.1 99.1h1.1v1.1h-1.1zM187.6 98.6h1.1v1.1h-1.1zM164.5 101.4h1.1v1.1h-1.1zM176.4 98.3h1.1v1.1h-1.1zM178.9 105.2h1.1v1.1h-1.1zM182.1 102.4h1.1v1.1h-1.1zM188.1 101.6h1.1v1.1h-1.1zM166.5 101.0h1.1v1.1h-1.1zM173.8 102.5h1.1v1.1h-1.1zM174.1 98.8h1.1v1.1h-1.1zM183.9 99.2h1.1v1.1h-1.1zM173.5 100.2h1.1v1.1h-1.1zM179.4 98.4h1.1v1.1h-1.1zM188.0 99.6h1.1v1.1h-1.1zM159.0 98.5h1.1v1.1h-1.1zM178.1 105.3h1.1v1.1h-1.1zM162.4 100.7h1.1v1.1h-1.1zM186.8 103.7h1.1v1.1h-1.1zM187.8 99.0h1.1v1.1h-1.1zM180.5 103.8h1.1v1.1h-1.1zM181.4 105.7h1.1v1.1h-1.1zM201.8 100.2h1.1v1.1h-1.1zM177.5 102.9h1.1v1.1h-1.1zM201.6 100.0h1.1v1.1h-1.1zM185.2 103.3h1.1v1.1h-1.1zM179.2 106.4h1.1v1.1h-1.1zM177.2 103.7h1.1v1.1h-1.1zM177.2 106.2h1.1v1.1h-1.1zM185.8 99.1h1.1v1.1h-1.1zM179.9 106.4h1.1v1.1h-1.1zM177.4 104.3h1.1v1.1h-1.1zM173.9 100.5h1.1v1.1h-1.1zM187.7 101.1h1.1v1.1h-1.1zM180.4 104.3h1.1v1.1h-1.1zM169.6 98.8h1.1v1.1h-1.1zM176.0 99.1h1.1v1.1h-1.1zM178.7 99.3h1.1v1.1h-1.1zM178.1 106.4h1.1v1.1h-1.1zM179.5 106.1h1.1v1.1h-1.1zM177.1 100.5h1.1v1.1h-1.1zM169.1 102.6h1.1v1.1h-1.1zM173.6 101.5h1.1v1.1h-1.1zM173.6 98.6h1.1v1.1h-1.1zM194.5 97.6h1.1v1.1h-1.1zM197.4 97.7h1.1v1.1h-1.1zM181.2 105.2h1.1v1.1h-1.1zM173.8 102.1h1.1v1.1h-1.1zM166.8 102.1h1.1v1.1h-1.1zM182.2 103.1h1.1v1.1h-1.1zM185.2 103.7h1.1v1.1h-1.1zM179.1 104.6h1.1v1.1h-1.1zM169.2 102.2h1.1v1.1h-1.1zM178.7 104.5h1.1v1.1h-1.1zM175.9 103.8h1.1v1.1h-1.1zM170.9 101.1h1.1v1.1h-1.1zM203.1 98.0h1.1v1.1h-1.1zM169.4 99.8h1.1v1.1h-1.1zM179.6 106.1h1.1v1.1h-1.1zM181.9 98.6h1.1v1.1h-1.1zM172.5 99.8h1.1v1.1h-1.1zM175.4 103.0h1.1v1.1h-1.1zM180.3 106.4h1.1v1.1h-1.1zM192.9 98.4h1.1v1.1h-1.1zM173.1 99.1h1.1v1.1h-1.1zM179.9 105.6h1.1v1.1h-1.1zM180.3 105.0h1.1v1.1h-1.1zM160.1 97.7h1.1v1.1h-1.1zM184.7 98.3h1.1v1.1h-1.1zM163.3 99.0h1.1v1.1h-1.1zM182.8 105.3h1.1v1.1h-1.1zM187.5 101.6h1.1v1.1h-1.1zM179.5 104.4h1.1v1.1h-1.1zM182.9 98.3h1.1v1.1h-1.1zM171.4 102.2h1.1v1.1h-1.1zM161.3 99.7h1.1v1.1h-1.1zM197.9 98.8h1.1v1.1h-1.1zM181.9 105.2h1.1v1.1h-1.1zM180.2 100.9h1.1v1.1h-1.1zM193.9 102.7h1.1v1.1h-1.1zM181.1 99.3h1.1v1.1h-1.1zM185.3 101.4h1.1v1.1h-1.1zM178.2 106.0h1.1v1.1h-1.1zM199.4 98.5h1.1v1.1h-1.1zM175.5 101.8h1.1v1.1h-1.1zM176.8 104.1h1.1v1.1h-1.1zM173.9 98.3h1.1v1.1h-1.1zM183.0 100.9h1.1v1.1h-1.1zM180.6 105.3h1.1v1.1h-1.1zM191.1 100.9h1.1v1.1h-1.1zM176.1 100.5h1.1v1.1h-1.1zM177.3 106.0h1.1v1.1h-1.1zM193.7 99.8h1.1v1.1h-1.1zM182.5 102.6h1.1v1.1h-1.1zM177.5 100.2h1.1v1.1h-1.1zM170.8 100.4h1.1v1.1h-1.1zM172.6 100.0h1.1v1.1h-1.1zM181.1 98.3h1.1v1.1h-1.1zM187.2 100.8h1.1v1.1h-1.1zM184.5 97.7h1.1v1.1h-1.1zM172.6 104.2h1.1v1.1h-1.1zM195.9 99.0h1.1v1.1h-1.1zM179.4 100.5h1.1v1.1h-1.1zM178.8 105.7h1.1v1.1h-1.1zM181.1 97.8h1.1v1.1h-1.1zM179.1 106.3h1.1v1.1h-1.1zM182.9 104.1h1.1v1.1h-1.1zM175.8 100.2h1.1v1.1h-1.1zM155.7 98.1h1.1v1.1h-1.1zM169.8 103.9h1.1v1.1h-1.1zM185.8 105.0h1.1v1.1h-1.1zM180.1 105.6h1.1v1.1h-1.1zM176.8 97.8h1.1v1.1h-1.1zM170.5 99.1h1.1v1.1h-1.1zM177.7 104.9h1.1v1.1h-1.1zM179.0 99.3h1.1v1.1h-1.1zM180.5 98.4h1.1v1.1h-1.1zM179.0 98.7h1.1v1.1h-1.1zM184.9 101.2h1.1v1.1h-1.1zM167.2 100.6h1.1v1.1h-1.1zM180.9 100.8h1.1v1.1h-1.1zM178.8 106.2h1.1v1.1h-1.1zM176.9 101.3h1.1v1.1h-1.1zM180.4 106.4h1.1v1.1h-1.1zM204.8 99.6h1.1v1.1h-1.1zM183.7 99.1h1.1v1.1h-1.1zM188.9 102.0h1.1v1.1h-1.1zM184.3 104.4h1.1v1.1h-1.1zM197.7 101.3h1.1v1.1h-1.1zM189.2 103.0h1.1v1.1h-1.1zM193.3 98.8h1.1v1.1h-1.1zM191.3 98.8h1.1v1.1h-1.1zM183.2 103.5h1.1v1.1h-1.1zM190.9 99.4h1.1v1.1h-1.1zM198.4 97.7h1.1v1.1h-1.1zM185.1 99.4h1.1v1.1h-1.1zM179.6 105.5h1.1v1.1h-1.1zM167.0 100.0h1.1v1.1h-1.1zM173.3 102.0h1.1v1.1h-1.1zM170.5 102.5h1.1v1.1h-1.1zM164.4 98.2h1.1v1.1h-1.1zM188.1 99.7h1.1v1.1h-1.1zM199.0 99.8h1.1v1.1h-1.1zM183.9 98.7h1.1v1.1h-1.1zM183.4 102.3h1.1v1.1h-1.1zM172.2 98.0h1.1v1.1h-1.1zM177.7 102.2h1.1v1.1h-1.1zM174.9 103.5h1.1v1.1h-1.1zM178.1 103.0h1.1v1.1h-1.1zM183.0 102.2h1.1v1.1h-1.1zM156.8 97.7h1.1v1.1h-1.1zM153.0 99.4h1.1v1.1h-1.1zM204.7 98.9h1.1v1.1h-1.1zM179.2 103.8h1.1v1.1h-1.1zM178.6 104.0h1.1v1.1h-1.1zM180.1 104.2h1.1v1.1h-1.1zM192.0 98.5h1.1v1.1h-1.1zM173.6 99.4h1.1v1.1h-1.1zM198.8 99.3h1.1v1.1h-1.1zM168.0 101.4h1.1v1.1h-1.1zM180.7 105.6h1.1v1.1h-1.1zM170.5 100.6h1.1v1.1h-1.1zM177.2 104.9h1.1v1.1h-1.1zM172.1 101.4h1.1v1.1h-1.1zM162.8 98.1h1.1v1.1h-1.1zM190.2 102.5h1.1v1.1h-1.1zM166.0 97.8h1.1v1.1h-1.1zM180.0 105.8h1.1v1.1h-1.1zM192.5 98.3h1.1v1.1h-1.1zM179.4 106.4h1.1v1.1h-1.1zM207.2 97.7h1.1v1.1h-1.1zM173.7 104.8h1.1v1.1h-1.1zM186.9 100.0h1.1v1.1h-1.1zM179.7 99.6h1.1v1.1h-1.1zM175.3 103.9h1.1v1.1h-1.1zM179.2 106.4h1.1v1.1h-1.1zM176.0 103.9h1.1v1.1h-1.1zM165.4 97.9h1.1v1.1h-1.1zM166.8 100.3h1.1v1.1h-1.1zM176.3 100.8h1.1v1.1h-1.1zM177.9 106.1h1.1v1.1h-1.1zM181.5 106.1h1.1v1.1h-1.1zM179.8 105.1h1.1v1.1h-1.1zM180.9 100.1h1.1v1.1h-1.1zM180.0 103.8h1.1v1.1h-1.1zM177.8 105.6h1.1v1.1h-1.1zM171.4 103.5h1.1v1.1h-1.1zM186.8 102.1h1.1v1.1h-1.1zM205.2 99.7h1.1v1.1h-1.1zM188.7 103.1h1.1v1.1h-1.1zM207.2 98.9h1.1v1.1h-1.1zM181.3 104.2h1.1v1.1h-1.1zM187.0 98.7h1.1v1.1h-1.1zM171.2 103.7h1.1v1.1h-1.1zM180.3 106.4h1.1v1.1h-1.1zM164.2 100.3h1.1v1.1h-1.1zM176.3 104.7h1.1v1.1h-1.1zM192.1 102.7h1.1v1.1h-1.1zM171.7 100.4h1.1v1.1h-1.1zM178.9 106.1h1.1v1.1h-1.1zM179.9 106.4h1.1v1.1h-1.1zM172.4 97.9h1.1v1.1h-1.1zM178.8 102.9h1.1v1.1h-1.1zM171.9 99.2h1.1v1.1h-1.1zM175.1 104.0h1.1v1.1h-1.1zM182.2 105.5h1.1v1.1h-1.1zM180.8 104.0h1.1v1.1h-1.1zM173.5 102.7h1.1v1.1h-1.1zM181.0 99.4h1.1v1.1h-1.1zM182.7 104.3h1.1v1.1h-1.1zM172.2 102.7h1.1v1.1h-1.1zM189.4 101.9h1.1v1.1h-1.1zM201.4 98.6h1.1v1.1h-1.1zM186.5 98.9h1.1v1.1h-1.1zM185.0 104.1h1.1v1.1h-1.1zM180.1 105.4h1.1v1.1h-1.1zM178.6 102.0h1.1v1.1h-1.1zM178.2 105.4h1.1v1.1h-1.1zM182.6 101.8h1.1v1.1h-1.1zM185.1 102.2h1.1v1.1h-1.1zM182.2 105.4h1.1v1.1h-1.1zM183.1 101.9h1.1v1.1h-1.1zM173.5 98.1h1.1v1.1h-1.1zM178.9 104.3h1.1v1.1h-1.1zM154.2 99.6h1.1v1.1h-1.1zM166.3 97.9h1.1v1.1h-1.1zM208.0 98.7h1.1v1.1h-1.1zM194.9 101.4h1.1v1.1h-1.1zM184.6 104.1h1.1v1.1h-1.1zM187.9 104.4h1.1v1.1h-1.1zM179.0 105.8h1.1v1.1h-1.1zM192.7 99.7h1.1v1.1h-1.1zM182.8 103.3h1.1v1.1h-1.1zM177.2 104.5h1.1v1.1h-1.1zM177.0 105.4h1.1v1.1h-1.1zM168.7 97.7h1.1v1.1h-1.1zM179.6 106.4h1.1v1.1h-1.1zM176.9 100.3h1.1v1.1h-1.1zM179.4 101.9h1.1v1.1h-1.1zM169.9 99.6h1.1v1.1h-1.1zM177.9 101.7h1.1v1.1h-1.1zM175.8 100.7h1.1v1.1h-1.1zM172.9 99.1h1.1v1.1h-1.1zM177.5 98.0h1.1v1.1h-1.1zM164.9 102.9h1.1v1.1h-1.1zM184.3 98.3h1.1v1.1h-1.1zM186.9 100.8h1.1v1.1h-1.1zM189.3 98.3h1.1v1.1h-1.1zM180.1 106.4h1.1v1.1h-1.1zM183.1 102.2h1.1v1.1h-1.1zM186.4 99.6h1.1v1.1h-1.1zM189.9 100.9h1.1v1.1h-1.1zM174.8 100.1h1.1v1.1h-1.1zM180.2 106.4h1.1v1.1h-1.1zM177.4 101.9h1.1v1.1h-1.1zM190.4 101.6h1.1v1.1h-1.1zM173.0 97.6h1.1v1.1h-1.1zM184.2 100.6h1.1v1.1h-1.1zM188.1 104.5h1.1v1.1h-1.1zM167.4 97.6h1.1v1.1h-1.1zM182.8 97.9h1.1v1.1h-1.1zM174.4 103.3h1.1v1.1h-1.1zM185.8 100.2h1.1v1.1h-1.1zM179.0 106.4h1.1v1.1h-1.1zM185.9 98.9h1.1v1.1h-1.1zM179.1 106.4h1.1v1.1h-1.1zM175.2 102.1h1.1v1.1h-1.1zM178.2 101.1h1.1v1.1h-1.1zM176.8 104.1h1.1v1.1h-1.1zM181.3 105.4h1.1v1.1h-1.1zM179.1 105.2h1.1v1.1h-1.1zM161.3 101.5h1.1v1.1h-1.1zM177.6 106.2h1.1v1.1h-1.1zM182.9 104.2h1.1v1.1h-1.1zM189.8 102.1h1.1v1.1h-1.1zM188.7 102.5h1.1v1.1h-1.1zM164.9 98.7h1.1v1.1h-1.1zM174.7 97.9h1.1v1.1h-1.1zM180.3 106.3h1.1v1.1h-1.1zM179.3 106.4h1.1v1.1h-1.1zM175.7 103.6h1.1v1.1h-1.1zM163.6 102.4h1.1v1.1h-1.1zM174.3 99.1h1.1v1.1h-1.1zM173.5 100.3h1.1v1.1h-1.1zM179.3 104.1h1.1v1.1h-1.1zM160.7 100.3h1.1v1.1h-1.1zM164.7 98.4h1.1v1.1h-1.1zM181.9 97.9h1.1v1.1h-1.1zM185.5 98.4h1.1v1.1h-1.1zM186.4 101.0h1.1v1.1h-1.1zM187.3 103.9h1.1v1.1h-1.1zM175.3 104.1h1.1v1.1h-1.1zM190.9 100.1h1.1v1.1h-1.1zM179.4 106.0h1.1v1.1h-1.1zM166.7 101.9h1.1v1.1h-1.1zM180.1 100.2h1.1v1.1h-1.1zM178.3 101.9h1.1v1.1h-1.1zM174.9 100.1h1.1v1.1h-1.1zM173.7 104.7h1.1v1.1h-1.1zM182.3 97.9h1.1v1.1h-1.1zM173.5 102.3h1.1v1.1h-1.1zM184.2 97.9h1.1v1.1h-1.1zM196.4 97.9h1.1v1.1h-1.1zM182.4 98.4h1.1v1.1h-1.1zM191.4 102.9h1.1v1.1h-1.1zM180.2 100.3h1.1v1.1h-1.1zM177.0 104.3h1.1v1.1h-1.1zM179.4 104.4h1.1v1.1h-1.1zM180.5 105.2h1.1v1.1h-1.1zM176.7 102.5h1.1v1.1h-1.1zM181.7 100.9h1.1v1.1h-1.1zM165.7 98.0h1.1v1.1h-1.1zM173.9 99.9h1.1v1.1h-1.1zM184.0 102.2h1.1v1.1h-1.1zM180.7 106.4h1.1v1.1h-1.1zM185.9 100.2h1.1v1.1h-1.1zM193.4 97.9h1.1v1.1h-1.1zM189.8 99.4h1.1v1.1h-1.1zM165.0 100.5h1.1v1.1h-1.1zM187.9 99.9h1.1v1.1h-1.1zM177.6 99.4h1.1v1.1h-1.1zM179.1 103.5h1.1v1.1h-1.1zM200.5 100.8h1.1v1.1h-1.1zM193.9 98.8h1.1v1.1h-1.1zM175.3 104.5h1.1v1.1h-1.1zM177.8 106.4h1.1v1.1h-1.1zM177.5 103.8h1.1v1.1h-1.1zM180.9 106.0h1.1v1.1h-1.1zM179.8 100.0h1.1v1.1h-1.1zM179.6 106.4h1.1v1.1h-1.1zM189.7 99.9h1.1v1.1h-1.1zM188.0 97.7h1.1v1.1h-1.1zM180.5 98.1h1.1v1.1h-1.1zM188.8 97.8h1.1v1.1h-1.1zM186.8 101.5h1.1v1.1h-1.1zM173.0 103.3h1.1v1.1h-1.1zM182.7 103.9h1.1v1.1h-1.1zM180.5 106.2h1.1v1.1h-1.1zM180.3 105.7h1.1v1.1h-1.1zM176.5 100.6h1.1v1.1h-1.1zM169.0 99.2h1.1v1.1h-1.1zM171.1 99.7h1.1v1.1h-1.1zM183.8 104.6h1.1v1.1h-1.1zM174.6 98.1h1.1v1.1h-1.1zM179.1 105.0h1.1v1.1h-1.1zM164.3 100.0h1.1v1.1h-1.1zM184.9 104.2h1.1v1.1h-1.1zM181.6 99.2h1.1v1.1h-1.1zM174.9 100.9h1.1v1.1h-1.1zM177.4 104.6h1.1v1.1h-1.1zM154.6 99.2h1.1v1.1h-1.1zM185.8 104.2h1.1v1.1h-1.1zM188.3 101.1h1.1v1.1h-1.1zM181.1 105.2h1.1v1.1h-1.1zM183.1 105.5h1.1v1.1h-1.1zM180.1 100.5h1.1v1.1h-1.1zM186.0 102.3h1.1v1.1h-1.1zM179.1 101.4h1.1v1.1h-1.1zM176.3 99.8h1.1v1.1h-1.1zM177.8 104.3h1.1v1.1h-1.1zM197.2 100.0h1.1v1.1h-1.1zM185.9 100.7h1.1v1.1h-1.1zM177.0 103.4h1.1v1.1h-1.1zM179.1 100.3h1.1v1.1h-1.1zM182.5 104.2h1.1v1.1h-1.1zM189.9 99.4h1.1v1.1h-1.1zM155.7 97.9h1.1v1.1h-1.1zM175.0 99.2h1.1v1.1h-1.1zM190.3 99.8h1.1v1.1h-1.1zM178.9 106.2h1.1v1.1h-1.1zM179.1 106.3h1.1v1.1h-1.1zM192.8 101.5h1.1v1.1h-1.1zM209.1 98.5h1.1v1.1h-1.1zM181.0 102.0h1.1v1.1h-1.1zM184.2 101.6h1.1v1.1h-1.1zM169.2 101.5h1.1v1.1h-1.1zM191.7 101.4h1.1v1.1h-1.1zM183.8 99.3h1.1v1.1h-1.1zM181.4 102.7h1.1v1.1h-1.1zM179.3 101.8h1.1v1.1h-1.1zM186.9 104.3h1.1v1.1h-1.1zM169.2 103.3h1.1v1.1h-1.1zM182.7 99.4h1.1v1.1h-1.1zM192.0 98.1h1.1v1.1h-1.1zM189.6 100.6h1.1v1.1h-1.1zM187.6 100.5h1.1v1.1h-1.1zM190.2 98.3h1.1v1.1h-1.1zM175.1 105.3h1.1v1.1h-1.1zM181.4 103.5h1.1v1.1h-1.1zM179.6 106.0h1.1v1.1h-1.1zM164.8 102.2h1.1v1.1h-1.1zM178.7 105.8h1.1v1.1h-1.1zM184.2 97.9h1.1v1.1h-1.1zM178.8 106.3h1.1v1.1h-1.1zM185.2 105.2h1.1v1.1h-1.1zM181.1 105.6h1.1v1.1h-1.1zM182.2 101.4h1.1v1.1h-1.1zM184.0 98.9h1.1v1.1h-1.1zM187.0 99.4h1.1v1.1h-1.1zM177.3 102.3h1.1v1.1h-1.1zM181.9 104.1h1.1v1.1h-1.1zM189.4 97.8h1.1v1.1h-1.1zM186.6 99.6h1.1v1.1h-1.1zM194.4 98.4h1.1v1.1h-1.1zM168.7 97.9h1.1v1.1h-1.1zM176.5 100.8h1.1v1.1h-1.1zM193.8 99.8h1.1v1.1h-1.1zM185.6 99.7h1.1v1.1h-1.1zM187.6 97.9h1.1v1.1h-1.1zM180.6 105.5h1.1v1.1h-1.1zM175.0 104.0h1.1v1.1h-1.1zM181.7 105.1h1.1v1.1h-1.1zM175.5 98.7h1.1v1.1h-1.1zM187.1 99.6h1.1v1.1h-1.1zM182.3 103.1h1.1v1.1h-1.1zM193.8 99.0h1.1v1.1h-1.1zM177.5 98.6h1.1v1.1h-1.1zM178.6 99.4h1.1v1.1h-1.1zM202.2 100.7h1.1v1.1h-1.1zM169.7 103.2h1.1v1.1h-1.1zM184.6 98.8h1.1v1.1h-1.1zM174.2 102.9h1.1v1.1h-1.1zM175.1 102.8h1.1v1.1h-1.1zM181.8 105.5h1.1v1.1h-1.1zM183.9 104.2h1.1v1.1h-1.1zM173.0 100.5h1.1v1.1h-1.1zM180.0 98.5h1.1v1.1h-1.1zM167.3 98.2h1.1v1.1h-1.1zM203.0 99.1h1.1v1.1h-1.1zM178.2 99.5h1.1v1.1h-1.1zM179.1 99.0h1.1v1.1h-1.1zM190.7 102.7h1.1v1.1h-1.1zM192.1 98.8h1.1v1.1h-1.1zM186.0 103.1h1.1v1.1h-1.1zM163.5 99.0h1.1v1.1h-1.1zM203.8 98.8h1.1v1.1h-1.1zM203.3 98.5h1.1v1.1h-1.1zM204.1 99.6h1.1v1.1h-1.1zM177.3 100.1h1.1v1.1h-1.1zM175.5 98.6h1.1v1.1h-1.1zM170.4 101.2h1.1v1.1h-1.1zM183.1 99.3h1.1v1.1h-1.1zM186.3 99.3h1.1v1.1h-1.1zM176.0 103.1h1.1v1.1h-1.1zM183.4 104.0h1.1v1.1h-1.1zM180.2 106.4h1.1v1.1h-1.1zM180.3 99.2h1.1v1.1h-1.1zM180.4 106.0h1.1v1.1h-1.1zM184.3 99.6h1.1v1.1h-1.1zM188.0 102.5h1.1v1.1h-1.1zM191.5 99.1h1.1v1.1h-1.1zM176.6 100.5h1.1v1.1h-1.1zM184.8 99.7h1.1v1.1h-1.1zM185.5 103.4h1.1v1.1h-1.1zM176.9 105.6h1.1v1.1h-1.1zM185.9 100.9h1.1v1.1h-1.1zM169.6 101.8h1.1v1.1h-1.1zM188.5 102.4h1.1v1.1h-1.1zM174.8 104.4h1.1v1.1h-1.1zM167.4 102.9h1.1v1.1h-1.1zM204.0 100.0h1.1v1.1h-1.1zM180.3 105.3h1.1v1.1h-1.1zM178.0 100.9h1.1v1.1h-1.1zM177.7 102.3h1.1v1.1h-1.1zM176.8 105.7h1.1v1.1h-1.1zM187.1 101.4h1.1v1.1h-1.1zM168.0 103.0h1.1v1.1h-1.1zM179.2 104.3h1.1v1.1h-1.1zM170.7 104.3h1.1v1.1h-1.1zM196.3 98.5h1.1v1.1h-1.1zM179.2 102.7h1.1v1.1h-1.1zM187.5 99.9h1.1v1.1h-1.1zM177.7 103.5h1.1v1.1h-1.1zM179.1 103.2h1.1v1.1h-1.1zM172.9 101.2h1.1v1.1h-1.1zM176.9 101.7h1.1v1.1h-1.1zM171.3 97.9h1.1v1.1h-1.1zM150.5 97.6h1.1v1.1h-1.1zM176.7 104.7h1.1v1.1h-1.1zM153.6 98.3h1.1v1.1h-1.1zM171.2 98.6h1.1v1.1h-1.1zM184.0 102.9h1.1v1.1h-1.1zM179.1 106.4h1.1v1.1h-1.1zM196.3 101.6h1.1v1.1h-1.1zM157.9 97.9h1.1v1.1h-1.1zM191.0 101.6h1.1v1.1h-1.1zM177.7 105.1h1.1v1.1h-1.1zM183.6 100.5h1.1v1.1h-1.1zM168.3 100.8h1.1v1.1h-1.1zM178.6 103.9h1.1v1.1h-1.1zM189.7 101.5h1.1v1.1h-1.1zM180.4 101.9h1.1v1.1h-1.1zM179.9 103.1h1.1v1.1h-1.1zM179.4 99.8h1.1v1.1h-1.1zM175.5 103.9h1.1v1.1h-1.1zM185.6 101.5h1.1v1.1h-1.1zM199.1 98.3h1.1v1.1h-1.1zM173.2 104.5h1.1v1.1h-1.1zM168.4 99.6h1.1v1.1h-1.1zM177.0 99.9h1.1v1.1h-1.1zM167.9 98.8h1.1v1.1h-1.1zM186.3 102.2h1.1v1.1h-1.1zM183.6 105.8h1.1v1.1h-1.1zM189.0 100.1h1.1v1.1h-1.1zM174.7 105.1h1.1v1.1h-1.1zM185.8 97.6h1.1v1.1h-1.1zM180.1 103.2h1.1v1.1h-1.1zM176.1 104.5h1.1v1.1h-1.1zM175.0 104.9h1.1v1.1h-1.1zM184.3 103.5h1.1v1.1h-1.1zM179.9 104.9h1.1v1.1h-1.1zM181.4 104.6h1.1v1.1h-1.1zM175.4 103.3h1.1v1.1h-1.1zM179.4 101.8h1.1v1.1h-1.1zM189.4 102.2h1.1v1.1h-1.1zM176.3 98.0h1.1v1.1h-1.1zM183.5 101.9h1.1v1.1h-1.1zM184.1 105.1h1.1v1.1h-1.1zM185.1 104.8h1.1v1.1h-1.1zM191.3 97.8h1.1v1.1h-1.1zM174.4 102.5h1.1v1.1h-1.1zM185.5 103.0h1.1v1.1h-1.1zM173.8 100.0h1.1v1.1h-1.1zM185.1 98.6h1.1v1.1h-1.1zM200.6 101.0h1.1v1.1h-1.1zM180.6 99.7h1.1v1.1h-1.1zM168.4 103.0h1.1v1.1h-1.1zM166.4 102.5h1.1v1.1h-1.1zM176.3 102.3h1.1v1.1h-1.1zM194.4 100.3h1.1v1.1h-1.1zM186.7 99.7h1.1v1.1h-1.1zM178.2 102.9h1.1v1.1h-1.1zM184.7 98.7h1.1v1.1h-1.1zM163.4 100.1h1.1v1.1h-1.1zM187.8 103.1h1.1v1.1h-1.1zM176.1 102.5h1.1v1.1h-1.1zM186.3 104.7h1.1v1.1h-1.1zM200.0 99.1h1.1v1.1h-1.1zM178.9 106.4h1.1v1.1h-1.1zM189.3 101.7h1.1v1.1h-1.1zM185.0 102.9h1.1v1.1h-1.1zM173.8 101.4h1.1v1.1h-1.1zM167.5 98.1h1.1v1.1h-1.1zM173.5 103.2h1.1v1.1h-1.1zM169.0 102.7h1.1v1.1h-1.1zM173.3 103.9h1.1v1.1h-1.1zM174.1 102.8h1.1v1.1h-1.1zM189.5 98.3h1.1v1.1h-1.1zM178.0 101.3h1.1v1.1h-1.1zM192.7 99.0h1.1v1.1h-1.1zM179.2 104.9h1.1v1.1h-1.1zM178.7 104.6h1.1v1.1h-1.1zM179.9 106.1h1.1v1.1h-1.1zM176.9 104.2h1.1v1.1h-1.1zM179.3 106.2h1.1v1.1h-1.1zM200.9 99.8h1.1v1.1h-1.1zM198.9 98.3h1.1v1.1h-1.1zM172.8 98.2h1.1v1.1h-1.1zM182.0 105.8h1.1v1.1h-1.1zM177.4 104.6h1.1v1.1h-1.1zM188.0 99.6h1.1v1.1h-1.1zM177.5 105.7h1.1v1.1h-1.1zM180.0 98.6h1.1v1.1h-1.1zM156.3 97.8h1.1v1.1h-1.1zM180.3 106.4h1.1v1.1h-1.1zM179.8 106.4h1.1v1.1h-1.1zM175.2 99.9h1.1v1.1h-1.1zM178.2 104.9h1.1v1.1h-1.1zM174.7 104.7h1.1v1.1h-1.1zM163.3 97.8h1.1v1.1h-1.1zM187.3 102.9h1.1v1.1h-1.1zM178.4 102.6h1.1v1.1h-1.1zM181.2 104.0h1.1v1.1h-1.1zM183.2 99.9h1.1v1.1h-1.1zM181.6 105.0h1.1v1.1h-1.1zM179.3 103.0h1.1v1.1h-1.1zM176.0 101.4h1.1v1.1h-1.1zM192.8 100.1h1.1v1.1h-1.1zM182.8 99.2h1.1v1.1h-1.1zM158.1 101.0h1.1v1.1h-1.1zM186.5 100.8h1.1v1.1h-1.1zM166.4 103.1h1.1v1.1h-1.1zM202.0 98.7h1.1v1.1h-1.1zM171.2 98.2h1.1v1.1h-1.1zM178.7 104.8h1.1v1.1h-1.1zM179.3 102.7h1.1v1.1h-1.1zM178.2 99.1h1.1v1.1h-1.1zM178.0 99.3h1.1v1.1h-1.1zM179.4 99.2h1.1v1.1h-1.1zM174.4 102.4h1.1v1.1h-1.1zM164.4 99.7h1.1v1.1h-1.1zM169.3 98.1h1.1v1.1h-1.1zM175.0 100.7h1.1v1.1h-1.1zM184.7 103.8h1.1v1.1h-1.1zM187.0 98.3h1.1v1.1h-1.1zM154.4 99.0h1.1v1.1h-1.1zM173.7 97.7h1.1v1.1h-1.1zM168.4 99.5h1.1v1.1h-1.1zM177.0 103.9h1.1v1.1h-1.1zM173.7 98.7h1.1v1.1h-1.1zM176.2 101.8h1.1v1.1h-1.1zM179.9 98.1h1.1v1.1h-1.1zM171.7 99.5h1.1v1.1h-1.1zM191.6 101.0h1.1v1.1h-1.1zM173.4 102.3h1.1v1.1h-1.1zM204.0 98.1h1.1v1.1h-1.1zM182.1 105.6h1.1v1.1h-1.1zM188.6 103.7h1.1v1.1h-1.1zM191.1 102.2h1.1v1.1h-1.1zM178.6 99.7h1.1v1.1h-1.1zM199.1 100.4h1.1v1.1h-1.1zM175.2 105.7h1.1v1.1h-1.1zM179.8 104.4h1.1v1.1h-1.1zM177.5 100.3h1.1v1.1h-1.1zM195.0 98.2h1.1v1.1h-1.1zM197.2 98.0h1.1v1.1h-1.1zM179.4 101.0h1.1v1.1h-1.1zM180.4 99.1h1.1v1.1h-1.1zM162.5 98.6h1.1v1.1h-1.1zM188.2 102.5h1.1v1.1h-1.1zM178.5 105.4h1.1v1.1h-1.1zM192.2 99.6h1.1v1.1h-1.1zM181.8 106.2h1.1v1.1h-1.1zM151.9 97.7h1.1v1.1h-1.1zM178.1 105.3h1.1v1.1h-1.1zM173.1 100.5h1.1v1.1h-1.1zM187.3 99.0h1.1v1.1h-1.1zM178.9 106.4h1.1v1.1h-1.1zM180.4 98.7h1.1v1.1h-1.1zM196.9 98.4h1.1v1.1h-1.1zM181.7 101.9h1.1v1.1h-1.1zM178.0 99.8h1.1v1.1h-1.1zM164.5 98.1h1.1v1.1h-1.1zM184.7 104.7h1.1v1.1h-1.1zM183.9 105.4h1.1v1.1h-1.1zM175.6 104.7h1.1v1.1h-1.1zM179.5 104.9h1.1v1.1h-1.1zM150.9 98.1h1.1v1.1h-1.1zM181.1 104.0h1.1v1.1h-1.1zM185.9 98.3h1.1v1.1h-1.1zM182.8 97.8h1.1v1.1h-1.1zM165.3 101.4h1.1v1.1h-1.1zM173.0 98.7h1.1v1.1h-1.1zM182.1 98.2h1.1v1.1h-1.1zM169.6 99.1h1.1v1.1h-1.1zM171.8 104.2h1.1v1.1h-1.1zM189.8 102.0h1.1v1.1h-1.1zM177.6 104.9h1.1v1.1h-1.1zM170.1 102.5h1.1v1.1h-1.1zM182.5 104.9h1.1v1.1h-1.1zM187.7 101.7h1.1v1.1h-1.1zM174.6 103.8h1.1v1.1h-1.1zM192.6 99.5h1.1v1.1h-1.1zM191.7 100.9h1.1v1.1h-1.1zM192.8 102.9h1.1v1.1h-1.1zM188.8 97.9h1.1v1.1h-1.1zM178.8 100.9h1.1v1.1h-1.1zM163.4 97.8h1.1v1.1h-1.1zM185.0 103.4h1.1v1.1h-1.1zM179.7 106.4h1.1v1.1h-1.1zM182.5 103.7h1.1v1.1h-1.1zM167.7 100.1h1.1v1.1h-1.1zM189.5 102.9h1.1v1.1h-1.1zM174.9 101.3h1.1v1.1h-1.1zM172.5 98.6h1.1v1.1h-1.1zM170.1 100.8h1.1v1.1h-1.1zM184.2 103.5h1.1v1.1h-1.1zM177.1 97.8h1.1v1.1h-1.1zM182.2 106.1h1.1v1.1h-1.1zM179.9 104.4h1.1v1.1h-1.1zM193.2 101.6h1.1v1.1h-1.1zM195.5 100.2h1.1v1.1h-1.1zM162.2 100.1h1.1v1.1h-1.1zM183.7 99.8h1.1v1.1h-1.1zM179.6 102.3h1.1v1.1h-1.1zM171.0 97.8h1.1v1.1h-1.1zM180.7 106.4h1.1v1.1h-1.1zM188.6 102.4h1.1v1.1h-1.1zM168.1 99.0h1.1v1.1h-1.1zM179.7 106.4h1.1v1.1h-1.1zM188.5 98.9h1.1v1.1h-1.1zM181.5 105.6h1.1v1.1h-1.1zM174.4 98.5h1.1v1.1h-1.1zM168.0 101.5h1.1v1.1h-1.1zM201.6 100.0h1.1v1.1h-1.1zM192.9 97.7h1.1v1.1h-1.1zM179.5 105.5h1.1v1.1h-1.1zM176.7 105.1h1.1v1.1h-1.1zM169.9 102.9h1.1v1.1h-1.1zM161.3 97.6h1.1v1.1h-1.1zM175.6 104.9h1.1v1.1h-1.1zM167.6 99.7h1.1v1.1h-1.1zM174.7 98.4h1.1v1.1h-1.1zM181.6 103.9h1.1v1.1h-1.1zM181.2 105.1h1.1v1.1h-1.1zM181.6 100.9h1.1v1.1h-1.1zM174.1 101.6h1.1v1.1h-1.1zM169.1 101.0h1.1v1.1h-1.1zM175.6 101.3h1.1v1.1h-1.1zM180.6 106.4h1.1v1.1h-1.1zM181.5 104.1h1.1v1.1h-1.1zM180.8 99.5h1.1v1.1h-1.1zM189.4 104.1h1.1v1.1h-1.1zM177.0 105.7h1.1v1.1h-1.1zM180.5 103.2h1.1v1.1h-1.1zM183.1 99.4h1.1v1.1h-1.1zM201.6 98.9h1.1v1.1h-1.1zM179.0 100.8h1.1v1.1h-1.1zM181.1 104.7h1.1v1.1h-1.1zM180.7 103.2h1.1v1.1h-1.1zM178.0 105.8h1.1v1.1h-1.1zM174.1 103.4h1.1v1.1h-1.1zM186.3 101.5h1.1v1.1h-1.1zM178.4 105.0h1.1v1.1h-1.1zM173.2 103.4h1.1v1.1h-1.1zM205.0 99.9h1.1v1.1h-1.1zM180.8 102.3h1.1v1.1h-1.1zM180.4 105.4h1.1v1.1h-1.1zM174.2 98.8h1.1v1.1h-1.1zM174.1 100.6h1.1v1.1h-1.1zM177.8 106.2h1.1v1.1h-1.1zM179.4 105.6h1.1v1.1h-1.1zM176.2 99.6h1.1v1.1h-1.1zM174.9 104.9h1.1v1.1h-1.1zM162.9 100.2h1.1v1.1h-1.1zM181.1 105.7h1.1v1.1h-1.1zM191.0 98.3h1.1v1.1h-1.1zM179.7 102.6h1.1v1.1h-1.1zM185.4 104.5h1.1v1.1h-1.1zM193.5 97.6h1.1v1.1h-1.1zM178.5 103.2h1.1v1.1h-1.1zM186.9 104.3h1.1v1.1h-1.1zM176.3 102.5h1.1v1.1h-1.1zM175.8 105.0h1.1v1.1h-1.1zM166.2 98.2h1.1v1.1h-1.1zM176.4 105.6h1.1v1.1h-1.1zM179.5 104.6h1.1v1.1h-1.1zM157.0 100.2h1.1v1.1h-1.1zM179.8 103.6h1.1v1.1h-1.1zM186.9 98.1h1.1v1.1h-1.1zM175.9 105.2h1.1v1.1h-1.1zM189.5 101.8h1.1v1.1h-1.1zM193.5 100.0h1.1v1.1h-1.1zM182.8 101.0h1.1v1.1h-1.1zM178.9 99.8h1.1v1.1h-1.1zM189.2 99.1h1.1v1.1h-1.1zM180.6 106.2h1.1v1.1h-1.1zM177.8 100.9h1.1v1.1h-1.1zM167.9 100.0h1.1v1.1h-1.1z" fill="#c9d5dd" fill-opacity="1"/>
<path d="M163.9 79.6h1.0v1.0h-1.0zM166.6 85.8h1.0v1.0h-1.0zM161.6 75.6h1.0v1.0h-1.0zM170.4 91.2h1.0v1.0h-1.0zM142.5 68.3h1.0v1.0h-1.0zM169.4 88.5h1.0v1.0h-1.0zM149.9 69.7h1.0v1.0h-1.0zM163.5 79.0h1.0v1.0h-1.0zM171.2 94.5h1.0v1.0h-1.0zM164.4 81.2h1.0v1.0h-1.0zM135.2 65.1h1.0v1.0h-1.0zM140.1 68.3h1.0v1.0h-1.0zM142.5 68.1h1.0v1.0h-1.0zM136.7 66.6h1.0v1.0h-1.0zM137.9 66.6h1.0v1.0h-1.0zM168.6 84.5h1.0v1.0h-1.0zM159.9 74.8h1.0v1.0h-1.0zM163.7 78.6h1.0v1.0h-1.0zM155.7 72.6h1.0v1.0h-1.0zM166.6 81.2h1.0v1.0h-1.0zM159.1 74.7h1.0v1.0h-1.0zM152.4 71.0h1.0v1.0h-1.0zM158.0 73.8h1.0v1.0h-1.0zM147.3 70.3h1.0v1.0h-1.0zM146.8 69.4h1.0v1.0h-1.0zM167.3 84.6h1.0v1.0h-1.0zM158.8 74.4h1.0v1.0h-1.0zM166.2 80.6h1.0v1.0h-1.0zM150.3 72.2h1.0v1.0h-1.0zM159.9 76.2h1.0v1.0h-1.0zM168.2 83.4h1.0v1.0h-1.0zM164.2 78.5h1.0v1.0h-1.0zM164.2 80.0h1.0v1.0h-1.0zM149.1 69.5h1.0v1.0h-1.0zM167.7 83.5h1.0v1.0h-1.0zM152.8 72.5h1.0v1.0h-1.0zM153.7 73.0h1.0v1.0h-1.0zM166.7 80.3h1.0v1.0h-1.0zM164.1 78.0h1.0v1.0h-1.0zM137.1 66.3h1.0v1.0h-1.0zM152.1 75.5h1.0v1.0h-1.0zM145.6 68.3h1.0v1.0h-1.0zM164.9 78.7h1.0v1.0h-1.0zM146.1 70.1h1.0v1.0h-1.0zM159.7 74.8h1.0v1.0h-1.0zM166.8 81.3h1.0v1.0h-1.0zM150.2 72.9h1.0v1.0h-1.0zM143.3 70.1h1.0v1.0h-1.0zM161.5 76.3h1.0v1.0h-1.0zM165.6 84.6h1.0v1.0h-1.0zM168.8 84.3h1.0v1.0h-1.0zM166.5 83.8h1.0v1.0h-1.0zM143.1 67.6h1.0v1.0h-1.0zM143.2 70.3h1.0v1.0h-1.0zM161.9 76.2h1.0v1.0h-1.0zM147.2 69.2h1.0v1.0h-1.0zM170.0 90.5h1.0v1.0h-1.0zM161.5 76.2h1.0v1.0h-1.0zM155.4 72.5h1.0v1.0h-1.0zM171.2 94.8h1.0v1.0h-1.0zM163.5 77.4h1.0v1.0h-1.0zM163.8 79.7h1.0v1.0h-1.0zM165.0 80.4h1.0v1.0h-1.0zM154.1 71.8h1.0v1.0h-1.0zM171.2 95.7h1.0v1.0h-1.0zM154.7 72.3h1.0v1.0h-1.0zM168.5 86.0h1.0v1.0h-1.0zM140.1 66.5h1.0v1.0h-1.0zM155.8 73.6h1.0v1.0h-1.0zM165.3 79.0h1.0v1.0h-1.0zM165.2 80.4h1.0v1.0h-1.0zM155.1 73.0h1.0v1.0h-1.0zM170.0 87.3h1.0v1.0h-1.0zM165.6 80.1h1.0v1.0h-1.0zM164.1 81.3h1.0v1.0h-1.0zM170.1 93.5h1.0v1.0h-1.0zM167.5 83.9h1.0v1.0h-1.0zM167.5 82.2h1.0v1.0h-1.0zM163.6 77.5h1.0v1.0h-1.0zM146.0 70.5h1.0v1.0h-1.0zM166.8 82.5h1.0v1.0h-1.0zM160.1 80.7h1.0v1.0h-1.0zM170.9 92.9h1.0v1.0h-1.0zM167.8 83.1h1.0v1.0h-1.0zM147.0 71.1h1.0v1.0h-1.0zM157.4 73.8h1.0v1.0h-1.0zM145.9 68.2h1.0v1.0h-1.0zM167.0 82.6h1.0v1.0h-1.0zM161.5 82.8h1.0v1.0h-1.0zM170.5 90.3h1.0v1.0h-1.0zM168.2 82.5h1.0v1.0h-1.0zM170.4 89.2h1.0v1.0h-1.0zM163.9 78.5h1.0v1.0h-1.0zM159.0 74.3h1.0v1.0h-1.0zM150.6 70.9h1.0v1.0h-1.0zM136.0 65.1h1.0v1.0h-1.0zM158.9 74.7h1.0v1.0h-1.0zM163.8 80.5h1.0v1.0h-1.0zM168.3 85.8h1.0v1.0h-1.0zM164.2 78.6h1.0v1.0h-1.0zM154.6 72.9h1.0v1.0h-1.0zM166.4 80.1h1.0v1.0h-1.0zM137.5 66.0h1.0v1.0h-1.0zM170.1 88.8h1.0v1.0h-1.0zM158.0 73.9h1.0v1.0h-1.0zM165.1 81.6h1.0v1.0h-1.0zM164.8 79.3h1.0v1.0h-1.0zM137.4 65.9h1.0v1.0h-1.0zM162.8 76.9h1.0v1.0h-1.0zM152.5 72.3h1.0v1.0h-1.0zM161.3 76.0h1.0v1.0h-1.0zM167.7 83.6h1.0v1.0h-1.0zM160.9 77.5h1.0v1.0h-1.0zM163.7 79.4h1.0v1.0h-1.0zM171.1 94.1h1.0v1.0h-1.0zM137.2 66.9h1.0v1.0h-1.0zM151.9 71.4h1.0v1.0h-1.0zM160.3 74.8h1.0v1.0h-1.0zM169.0 86.1h1.0v1.0h-1.0zM151.0 70.5h1.0v1.0h-1.0zM153.3 71.3h1.0v1.0h-1.0zM154.6 72.0h1.0v1.0h-1.0zM158.9 74.3h1.0v1.0h-1.0zM157.3 73.2h1.0v1.0h-1.0zM159.9 75.6h1.0v1.0h-1.0zM169.8 86.9h1.0v1.0h-1.0zM151.7 71.5h1.0v1.0h-1.0zM154.5 73.9h1.0v1.0h-1.0zM156.4 73.0h1.0v1.0h-1.0zM161.4 78.0h1.0v1.0h-1.0zM156.6 74.7h1.0v1.0h-1.0zM164.0 78.7h1.0v1.0h-1.0zM136.7 67.6h1.0v1.0h-1.0zM152.9 71.1h1.0v1.0h-1.0zM154.7 71.8h1.0v1.0h-1.0zM138.7 70.9h1.0v1.0h-1.0zM149.4 69.7h1.0v1.0h-1.0zM143.5 67.5h1.0v1.0h-1.0zM144.4 68.6h1.0v1.0h-1.0zM171.2 97.4h1.0v1.0h-1.0zM161.5 78.1h1.0v1.0h-1.0zM151.3 71.3h1.0v1.0h-1.0zM142.6 67.2h1.0v1.0h-1.0zM140.6 66.9h1.0v1.0h-1.0zM171.1 94.4h1.0v1.0h-1.0zM170.8 91.5h1.0v1.0h-1.0zM154.2 71.7h1.0v1.0h-1.0zM169.3 85.8h1.0v1.0h-1.0zM166.5 83.8h1.0v1.0h-1.0zM140.3 69.1h1.0v1.0h-1.0zM135.5 65.5h1.0v1.0h-1.0zM146.1 68.6h1.0v1.0h-1.0zM139.1 68.2h1.0v1.0h-1.0zM149.2 69.6h1.0v1.0h-1.0zM170.4 93.1h1.0v1.0h-1.0zM157.2 74.4h1.0v1.0h-1.0zM142.6 67.1h1.0v1.0h-1.0zM150.8 70.8h1.0v1.0h-1.0zM146.5 69.2h1.0v1.0h-1.0zM168.5 88.0h1.0v1.0h-1.0zM166.5 82.0h1.0v1.0h-1.0zM144.2 67.9h1.0v1.0h-1.0zM151.0 70.7h1.0v1.0h-1.0zM167.9 82.2h1.0v1.0h-1.0zM137.6 66.0h1.0v1.0h-1.0zM158.9 74.8h1.0v1.0h-1.0zM171.1 95.8h1.0v1.0h-1.0zM148.6 72.1h1.0v1.0h-1.0zM164.3 78.4h1.0v1.0h-1.0zM164.6 80.2h1.0v1.0h-1.0zM152.7 71.6h1.0v1.0h-1.0zM158.3 73.7h1.0v1.0h-1.0zM139.6 66.9h1.0v1.0h-1.0zM159.0 76.1h1.0v1.0h-1.0zM168.5 85.2h1.0v1.0h-1.0zM164.4 80.6h1.0v1.0h-1.0zM170.4 89.5h1.0v1.0h-1.0zM153.7 72.3h1.0v1.0h-1.0zM163.6 78.7h1.0v1.0h-1.0zM168.1 83.1h1.0v1.0h-1.0zM171.2 96.9h1.0v1.0h-1.0zM167.2 83.3h1.0v1.0h-1.0zM157.2 74.3h1.0v1.0h-1.0zM154.1 71.7h1.0v1.0h-1.0zM147.0 68.9h1.0v1.0h-1.0zM142.6 69.1h1.0v1.0h-1.0zM151.7 72.9h1.0v1.0h-1.0zM161.6 77.2h1.0v1.0h-1.0zM137.6 65.6h1.0v1.0h-1.0zM170.3 89.2h1.0v1.0h-1.0zM158.9 74.0h1.0v1.0h-1.0zM168.0 85.0h1.0v1.0h-1.0zM163.3 77.3h1.0v1.0h-1.0zM168.8 85.4h1.0v1.0h-1.0zM168.7 84.7h1.0v1.0h-1.0zM157.8 74.1h1.0v1.0h-1.0zM159.1 76.5h1.0v1.0h-1.0zM168.5 83.3h1.0v1.0h-1.0zM147.5 69.8h1.0v1.0h-1.0zM157.8 73.6h1.0v1.0h-1.0zM146.8 68.9h1.0v1.0h-1.0zM149.4 69.7h1.0v1.0h-1.0zM156.4 74.1h1.0v1.0h-1.0zM163.8 78.5h1.0v1.0h-1.0zM170.8 93.0h1.0v1.0h-1.0zM151.1 70.3h1.0v1.0h-1.0zM157.3 74.9h1.0v1.0h-1.0zM170.3 91.1h1.0v1.0h-1.0zM142.2 66.8h1.0v1.0h-1.0zM167.3 80.9h1.0v1.0h-1.0zM167.2 80.9h1.0v1.0h-1.0zM159.7 74.6h1.0v1.0h-1.0zM165.9 80.5h1.0v1.0h-1.0zM163.8 79.9h1.0v1.0h-1.0zM149.6 69.6h1.0v1.0h-1.0zM167.9 81.9h1.0v1.0h-1.0zM165.1 79.0h1.0v1.0h-1.0zM150.9 72.2h1.0v1.0h-1.0zM135.2 64.9h1.0v1.0h-1.0zM171.1 95.4h1.0v1.0h-1.0zM162.5 80.3h1.0v1.0h-1.0zM163.1 77.5h1.0v1.0h-1.0zM170.7 95.2h1.0v1.0h-1.0zM158.8 74.6h1.0v1.0h-1.0zM161.6 77.7h1.0v1.0h-1.0zM144.3 68.4h1.0v1.0h-1.0zM168.9 85.1h1.0v1.0h-1.0zM141.0 67.1h1.0v1.0h-1.0zM152.5 72.0h1.0v1.0h-1.0zM160.7 76.0h1.0v1.0h-1.0zM167.4 82.1h1.0v1.0h-1.0zM142.5 66.9h1.0v1.0h-1.0zM163.9 80.8h1.0v1.0h-1.0zM136.2 64.9h1.0v1.0h-1.0zM154.0 72.9h1.0v1.0h-1.0zM143.6 68.2h1.0v1.0h-1.0zM169.8 87.1h1.0v1.0h-1.0zM150.1 71.5h1.0v1.0h-1.0zM168.4 84.5h1.0v1.0h-1.0zM152.7 72.4h1.0v1.0h-1.0zM171.2 94.8h1.0v1.0h-1.0zM165.2 80.2h1.0v1.0h-1.0zM164.9 78.8h1.0v1.0h-1.0zM152.1 71.0h1.0v1.0h-1.0zM146.3 68.7h1.0v1.0h-1.0zM157.5 75.5h1.0v1.0h-1.0zM170.1 89.1h1.0v1.0h-1.0zM170.7 95.3h1.0v1.0h-1.0zM171.1 95.7h1.0v1.0h-1.0zM163.9 78.0h1.0v1.0h-1.0zM163.0 77.9h1.0v1.0h-1.0zM162.4 76.5h1.0v1.0h-1.0zM158.4 74.0h1.0v1.0h-1.0zM136.8 65.8h1.0v1.0h-1.0zM161.6 76.0h1.0v1.0h-1.0zM136.7 65.6h1.0v1.0h-1.0zM153.2 73.7h1.0v1.0h-1.0zM163.1 79.0h1.0v1.0h-1.0zM166.5 80.3h1.0v1.0h-1.0zM171.0 93.9h1.0v1.0h-1.0zM142.0 67.0h1.0v1.0h-1.0zM161.5 77.6h1.0v1.0h-1.0zM166.6 80.4h1.0v1.0h-1.0zM158.5 74.4h1.0v1.0h-1.0zM138.4 68.9h1.0v1.0h-1.0zM167.6 82.3h1.0v1.0h-1.0zM162.3 76.3h1.0v1.0h-1.0zM161.3 79.0h1.0v1.0h-1.0zM165.9 80.8h1.0v1.0h-1.0zM150.2 69.8h1.0v1.0h-1.0zM139.2 66.0h1.0v1.0h-1.0zM165.9 81.4h1.0v1.0h-1.0zM171.2 94.8h1.0v1.0h-1.0zM169.9 87.7h1.0v1.0h-1.0zM171.2 94.4h1.0v1.0h-1.0zM168.0 82.1h1.0v1.0h-1.0zM170.5 89.7h1.0v1.0h-1.0zM158.6 73.8h1.0v1.0h-1.0zM144.8 68.4h1.0v1.0h-1.0zM167.2 81.1h1.0v1.0h-1.0zM143.8 67.4h1.0v1.0h-1.0zM148.7 69.2h1.0v1.0h-1.0zM138.1 66.2h1.0v1.0h-1.0zM155.3 75.0h1.0v1.0h-1.0zM170.3 88.6h1.0v1.0h-1.0zM151.0 71.3h1.0v1.0h-1.0zM149.7 69.9h1.0v1.0h-1.0zM159.4 74.3h1.0v1.0h-1.0zM161.6 76.1h1.0v1.0h-1.0zM155.8 72.8h1.0v1.0h-1.0zM166.6 81.7h1.0v1.0h-1.0zM170.5 92.2h1.0v1.0h-1.0zM159.4 74.4h1.0v1.0h-1.0zM170.1 88.3h1.0v1.0h-1.0zM159.1 75.7h1.0v1.0h-1.0zM163.7 78.3h1.0v1.0h-1.0zM141.0 66.8h1.0v1.0h-1.0zM136.0 68.1h1.0v1.0h-1.0zM135.5 68.9h1.0v1.0h-1.0zM167.1 83.1h1.0v1.0h-1.0zM154.7 72.1h1.0v1.0h-1.0zM135.1 66.1h1.0v1.0h-1.0zM145.3 69.0h1.0v1.0h-1.0zM170.6 93.3h1.0v1.0h-1.0zM169.0 84.9h1.0v1.0h-1.0zM154.5 72.0h1.0v1.0h-1.0zM160.7 76.6h1.0v1.0h-1.0zM170.4 90.5h1.0v1.0h-1.0zM170.3 89.0h1.0v1.0h-1.0zM153.0 72.7h1.0v1.0h-1.0zM171.0 93.3h1.0v1.0h-1.0zM137.2 65.9h1.0v1.0h-1.0zM162.0 76.7h1.0v1.0h-1.0zM150.9 72.0h1.0v1.0h-1.0zM153.0 71.7h1.0v1.0h-1.0zM156.5 73.7h1.0v1.0h-1.0zM168.7 88.2h1.0v1.0h-1.0zM137.0 67.3h1.0v1.0h-1.0zM135.4 65.6h1.0v1.0h-1.0zM143.8 67.7h1.0v1.0h-1.0zM148.7 70.9h1.0v1.0h-1.0zM138.4 68.2h1.0v1.0h-1.0zM141.7 67.0h1.0v1.0h-1.0zM146.5 69.2h1.0v1.0h-1.0zM165.6 79.9h1.0v1.0h-1.0zM145.9 70.8h1.0v1.0h-1.0zM143.5 68.8h1.0v1.0h-1.0zM169.1 85.0h1.0v1.0h-1.0zM156.6 73.0h1.0v1.0h-1.0zM164.9 78.7h1.0v1.0h-1.0zM169.4 87.4h1.0v1.0h-1.0zM167.9 84.6h1.0v1.0h-1.0zM165.1 81.6h1.0v1.0h-1.0zM165.9 79.9h1.0v1.0h-1.0zM163.0 76.9h1.0v1.0h-1.0zM161.6 76.3h1.0v1.0h-1.0zM171.2 97.2h1.0v1.0h-1.0zM163.7 77.5h1.0v1.0h-1.0zM137.2 65.6h1.0v1.0h-1.0zM167.2 80.7h1.0v1.0h-1.0zM170.3 90.4h1.0v1.0h-1.0zM156.0 73.4h1.0v1.0h-1.0zM167.4 81.4h1.0v1.0h-1.0zM136.7 65.7h1.0v1.0h-1.0zM135.6 67.9h1.0v1.0h-1.0zM169.9 89.6h1.0v1.0h-1.0zM171.2 95.8h1.0v1.0h-1.0zM145.3 69.6h1.0v1.0h-1.0zM157.3 75.5h1.0v1.0h-1.0zM169.4 86.7h1.0v1.0h-1.0zM166.9 81.2h1.0v1.0h-1.0zM168.7 85.5h1.0v1.0h-1.0zM156.3 74.8h1.0v1.0h-1.0zM154.0 72.8h1.0v1.0h-1.0zM139.4 68.3h1.0v1.0h-1.0zM156.6 73.3h1.0v1.0h-1.0zM139.0 66.4h1.0v1.0h-1.0zM170.3 88.9h1.0v1.0h-1.0zM150.4 73.7h1.0v1.0h-1.0zM153.2 72.7h1.0v1.0h-1.0zM138.5 67.8h1.0v1.0h-1.0zM161.3 76.2h1.0v1.0h-1.0zM147.9 69.3h1.0v1.0h-1.0zM170.2 88.9h1.0v1.0h-1.0zM145.4 68.3h1.0v1.0h-1.0zM151.5 73.5h1.0v1.0h-1.0zM169.9 86.9h1.0v1.0h-1.0zM159.5 74.7h1.0v1.0h-1.0zM137.8 73.8h1.0v1.0h-1.0zM161.3 77.6h1.0v1.0h-1.0zM153.8 71.6h1.0v1.0h-1.0zM136.6 65.3h1.0v1.0h-1.0zM170.7 91.5h1.0v1.0h-1.0zM171.2 95.1h1.0v1.0h-1.0zM162.5 80.9h1.0v1.0h-1.0zM162.4 79.1h1.0v1.0h-1.0zM146.9 69.7h1.0v1.0h-1.0zM167.6 81.6h1.0v1.0h-1.0zM159.6 74.8h1.0v1.0h-1.0zM153.2 72.1h1.0v1.0h-1.0zM165.3 80.3h1.0v1.0h-1.0zM135.1 64.9h1.0v1.0h-1.0zM164.9 78.6h1.0v1.0h-1.0zM170.4 89.2h1.0v1.0h-1.0zM162.1 78.7h1.0v1.0h-1.0zM150.8 74.9h1.0v1.0h-1.0zM143.9 68.6h1.0v1.0h-1.0zM156.0 72.4h1.0v1.0h-1.0zM163.4 77.7h1.0v1.0h-1.0zM154.3 71.7h1.0v1.0h-1.0zM157.6 73.8h1.0v1.0h-1.0zM159.6 74.8h1.0v1.0h-1.0zM170.3 90.2h1.0v1.0h-1.0zM145.8 69.3h1.0v1.0h-1.0zM170.1 88.5h1.0v1.0h-1.0zM142.1 73.0h1.0v1.0h-1.0zM147.9 68.8h1.0v1.0h-1.0zM141.7 68.2h1.0v1.0h-1.0zM166.6 83.9h1.0v1.0h-1.0zM144.5 70.9h1.0v1.0h-1.0zM167.4 82.1h1.0v1.0h-1.0zM163.6 77.9h1.0v1.0h-1.0zM147.8 70.1h1.0v1.0h-1.0zM165.0 79.9h1.0v1.0h-1.0zM139.0 67.0h1.0v1.0h-1.0zM139.8 67.2h1.0v1.0h-1.0zM135.4 64.7h1.0v1.0h-1.0zM160.8 76.0h1.0v1.0h-1.0zM149.5 74.4h1.0v1.0h-1.0zM154.2 72.5h1.0v1.0h-1.0zM153.7 72.4h1.0v1.0h-1.0zM150.5 74.1h1.0v1.0h-1.0zM171.2 94.8h1.0v1.0h-1.0zM141.9 66.7h1.0v1.0h-1.0zM146.3 68.2h1.0v1.0h-1.0zM153.1 73.4h1.0v1.0h-1.0zM167.6 81.8h1.0v1.0h-1.0zM167.9 83.5h1.0v1.0h-1.0zM158.1 74.8h1.0v1.0h-1.0zM166.6 88.4h1.0v1.0h-1.0zM144.1 75.2h1.0v1.0h-1.0zM144.3 92.0h1.0v1.0h-1.0zM160.8 90.4h1.0v1.0h-1.0zM166.1 83.8h1.0v1.0h-1.0zM170.4 93.2h1.0v1.0h-1.0zM151.5 72.4h1.0v1.0h-1.0zM172.9 97.5h1.0v1.0h-1.0zM161.6 77.3h1.0v1.0h-1.0zM170.6 91.8h1.0v1.0h-1.0zM164.6 88.2h1.0v1.0h-1.0zM145.3 96.5h1.0v1.0h-1.0zM166.5 95.7h1.0v1.0h-1.0zM171.2 96.8h1.0v1.0h-1.0zM154.3 84.1h1.0v1.0h-1.0zM171.4 96.2h1.0v1.0h-1.0zM161.1 95.5h1.0v1.0h-1.0zM149.7 75.4h1.0v1.0h-1.0zM169.4 86.4h1.0v1.0h-1.0zM150.1 92.8h1.0v1.0h-1.0zM173.1 97.0h1.0v1.0h-1.0zM149.4 95.9h1.0v1.0h-1.0zM151.8 77.6h1.0v1.0h-1.0zM156.8 77.7h1.0v1.0h-1.0zM142.9 89.6h1.0v1.0h-1.0zM149.1 71.9h1.0v1.0h-1.0zM167.0 86.8h1.0v1.0h-1.0zM154.9 76.5h1.0v1.0h-1.0zM159.1 92.6h1.0v1.0h-1.0zM168.6 90.8h1.0v1.0h-1.0zM171.2 94.7h1.0v1.0h-1.0zM146.9 92.3h1.0v1.0h-1.0zM154.4 81.5h1.0v1.0h-1.0zM171.4 96.3h1.0v1.0h-1.0zM151.8 91.0h1.0v1.0h-1.0zM171.9 97.5h1.0v1.0h-1.0zM151.6 86.7h1.0v1.0h-1.0zM149.9 94.5h1.0v1.0h-1.0zM171.7 97.4h1.0v1.0h-1.0zM147.3 94.4h1.0v1.0h-1.0zM172.3 97.1h1.0v1.0h-1.0zM172.0 97.2h1.0v1.0h-1.0zM172.1 97.5h1.0v1.0h-1.0zM155.7 76.0h1.0v1.0h-1.0zM164.2 90.1h1.0v1.0h-1.0zM172.8 97.4h1.0v1.0h-1.0zM168.8 87.4h1.0v1.0h-1.0zM153.8 78.0h1.0v1.0h-1.0zM160.3 82.5h1.0v1.0h-1.0zM171.3 96.8h1.0v1.0h-1.0zM167.5 94.0h1.0v1.0h-1.0zM152.8 93.4h1.0v1.0h-1.0zM166.6 93.8h1.0v1.0h-1.0zM147.9 80.8h1.0v1.0h-1.0zM162.0 90.8h1.0v1.0h-1.0zM145.5 70.1h1.0v1.0h-1.0zM163.0 87.1h1.0v1.0h-1.0zM148.0 92.0h1.0v1.0h-1.0zM168.4 96.7h1.0v1.0h-1.0zM161.3 81.4h1.0v1.0h-1.0zM170.8 95.3h1.0v1.0h-1.0zM142.6 84.8h1.0v1.0h-1.0zM165.0 82.3h1.0v1.0h-1.0zM146.8 88.6h1.0v1.0h-1.0zM171.4 96.4h1.0v1.0h-1.0zM152.8 73.3h1.0v1.0h-1.0zM155.8 91.5h1.0v1.0h-1.0zM160.9 92.5h1.0v1.0h-1.0zM163.1 89.3h1.0v1.0h-1.0zM145.9 71.3h1.0v1.0h-1.0zM145.3 85.3h1.0v1.0h-1.0zM143.7 94.8h1.0v1.0h-1.0zM145.6 80.2h1.0v1.0h-1.0zM147.6 87.6h1.0v1.0h-1.0zM142.6 97.3h1.0v1.0h-1.0zM148.6 75.1h1.0v1.0h-1.0zM165.3 82.7h1.0v1.0h-1.0zM169.5 89.2h1.0v1.0h-1.0zM162.4 90.3h1.0v1.0h-1.0zM169.9 89.3h1.0v1.0h-1.0zM153.2 96.2h1.0v1.0h-1.0zM143.1 92.6h1.0v1.0h-1.0zM165.2 91.1h1.0v1.0h-1.0zM158.8 76.8h1.0v1.0h-1.0zM144.5 80.2h1.0v1.0h-1.0zM165.5 96.4h1.0v1.0h-1.0zM172.3 97.3h1.0v1.0h-1.0zM158.6 88.5h1.0v1.0h-1.0zM143.0 87.0h1.0v1.0h-1.0zM165.9 91.3h1.0v1.0h-1.0zM170.4 89.8h1.0v1.0h-1.0zM158.3 86.0h1.0v1.0h-1.0zM163.7 93.8h1.0v1.0h-1.0zM166.9 90.3h1.0v1.0h-1.0zM163.1 77.5h1.0v1.0h-1.0zM159.2 94.1h1.0v1.0h-1.0zM172.5 97.6h1.0v1.0h-1.0zM166.1 84.3h1.0v1.0h-1.0zM146.9 92.4h1.0v1.0h-1.0zM151.3 87.3h1.0v1.0h-1.0zM160.1 86.7h1.0v1.0h-1.0zM172.7 97.6h1.0v1.0h-1.0zM155.5 81.3h1.0v1.0h-1.0zM165.1 80.6h1.0v1.0h-1.0zM149.7 90.9h1.0v1.0h-1.0zM172.4 97.3h1.0v1.0h-1.0zM156.0 93.4h1.0v1.0h-1.0zM172.7 97.3h1.0v1.0h-1.0zM172.8 97.1h1.0v1.0h-1.0zM157.1 92.3h1.0v1.0h-1.0zM163.1 94.0h1.0v1.0h-1.0zM170.1 96.3h1.0v1.0h-1.0zM149.9 86.7h1.0v1.0h-1.0zM153.7 90.2h1.0v1.0h-1.0zM150.2 82.6h1.0v1.0h-1.0zM156.0 89.4h1.0v1.0h-1.0zM159.3 94.4h1.0v1.0h-1.0zM143.3 78.7h1.0v1.0h-1.0zM160.3 84.1h1.0v1.0h-1.0zM171.8 97.4h1.0v1.0h-1.0zM169.1 87.1h1.0v1.0h-1.0zM173.0 97.4h1.0v1.0h-1.0zM147.7 76.1h1.0v1.0h-1.0zM153.6 91.4h1.0v1.0h-1.0zM169.1 89.1h1.0v1.0h-1.0zM167.4 86.3h1.0v1.0h-1.0zM166.0 84.6h1.0v1.0h-1.0zM158.9 78.9h1.0v1.0h-1.0zM142.8 88.1h1.0v1.0h-1.0zM142.8 97.5h1.0v1.0h-1.0zM147.4 97.2h1.0v1.0h-1.0zM159.9 90.1h1.0v1.0h-1.0zM151.7 90.8h1.0v1.0h-1.0zM169.6 89.0h1.0v1.0h-1.0zM159.7 80.8h1.0v1.0h-1.0zM161.7 97.2h1.0v1.0h-1.0zM151.6 93.2h1.0v1.0h-1.0zM162.3 97.6h1.0v1.0h-1.0zM168.4 88.7h1.0v1.0h-1.0zM151.9 81.8h1.0v1.0h-1.0zM163.2 83.4h1.0v1.0h-1.0zM155.5 93.8h1.0v1.0h-1.0zM160.2 85.1h1.0v1.0h-1.0zM153.2 93.8h1.0v1.0h-1.0zM167.0 92.9h1.0v1.0h-1.0zM171.9 97.4h1.0v1.0h-1.0zM153.2 83.9h1.0v1.0h-1.0zM170.4 91.7h1.0v1.0h-1.0zM171.5 96.8h1.0v1.0h-1.0zM170.9 97.3h1.0v1.0h-1.0zM168.6 91.2h1.0v1.0h-1.0zM168.1 84.4h1.0v1.0h-1.0zM144.8 91.0h1.0v1.0h-1.0zM152.4 80.2h1.0v1.0h-1.0zM159.3 93.0h1.0v1.0h-1.0zM144.4 69.1h1.0v1.0h-1.0zM173.0 97.4h1.0v1.0h-1.0zM166.8 95.1h1.0v1.0h-1.0zM163.6 79.8h1.0v1.0h-1.0zM172.9 97.0h1.0v1.0h-1.0zM167.1 97.5h1.0v1.0h-1.0zM146.4 91.5h1.0v1.0h-1.0zM169.5 96.7h1.0v1.0h-1.0zM165.5 96.2h1.0v1.0h-1.0zM170.3 95.8h1.0v1.0h-1.0zM158.7 88.5h1.0v1.0h-1.0zM167.2 89.8h1.0v1.0h-1.0zM151.5 79.1h1.0v1.0h-1.0zM166.1 81.5h1.0v1.0h-1.0zM150.8 83.8h1.0v1.0h-1.0zM162.2 91.9h1.0v1.0h-1.0zM171.2 94.7h1.0v1.0h-1.0zM157.7 96.1h1.0v1.0h-1.0zM145.4 71.8h1.0v1.0h-1.0zM172.8 97.2h1.0v1.0h-1.0zM168.9 91.3h1.0v1.0h-1.0zM149.1 89.5h1.0v1.0h-1.0zM161.4 84.0h1.0v1.0h-1.0zM170.0 91.5h1.0v1.0h-1.0zM163.7 78.0h1.0v1.0h-1.0zM170.1 90.7h1.0v1.0h-1.0zM172.7 97.5h1.0v1.0h-1.0zM171.5 97.5h1.0v1.0h-1.0zM160.4 94.8h1.0v1.0h-1.0zM150.7 96.0h1.0v1.0h-1.0zM157.1 77.0h1.0v1.0h-1.0zM171.3 97.2h1.0v1.0h-1.0zM151.9 86.6h1.0v1.0h-1.0zM145.1 89.5h1.0v1.0h-1.0zM164.6 79.3h1.0v1.0h-1.0zM166.1 80.4h1.0v1.0h-1.0zM146.8 93.4h1.0v1.0h-1.0zM159.8 75.8h1.0v1.0h-1.0zM171.5 96.6h1.0v1.0h-1.0zM151.5 78.3h1.0v1.0h-1.0zM157.9 96.1h1.0v1.0h-1.0zM144.0 95.7h1.0v1.0h-1.0zM151.1 79.0h1.0v1.0h-1.0zM166.9 86.7h1.0v1.0h-1.0zM164.2 83.7h1.0v1.0h-1.0zM172.7 97.0h1.0v1.0h-1.0zM165.0 83.0h1.0v1.0h-1.0zM162.3 80.9h1.0v1.0h-1.0zM167.3 89.5h1.0v1.0h-1.0zM172.9 97.3h1.0v1.0h-1.0zM172.2 97.0h1.0v1.0h-1.0zM155.2 88.4h1.0v1.0h-1.0zM143.3 69.1h1.0v1.0h-1.0zM144.1 96.1h1.0v1.0h-1.0zM154.2 79.8h1.0v1.0h-1.0zM157.8 97.5h1.0v1.0h-1.0zM145.4 86.6h1.0v1.0h-1.0zM158.1 78.7h1.0v1.0h-1.0zM168.0 97.4h1.0v1.0h-1.0zM145.5 91.4h1.0v1.0h-1.0zM172.7 97.6h1.0v1.0h-1.0zM142.4 76.2h1.0v1.0h-1.0zM169.6 96.5h1.0v1.0h-1.0zM146.5 79.6h1.0v1.0h-1.0zM158.6 95.5h1.0v1.0h-1.0zM164.1 79.1h1.0v1.0h-1.0zM173.0 97.4h1.0v1.0h-1.0zM172.5 96.9h1.0v1.0h-1.0zM171.8 96.9h1.0v1.0h-1.0zM148.8 78.0h1.0v1.0h-1.0zM172.7 97.2h1.0v1.0h-1.0zM161.6 88.2h1.0v1.0h-1.0zM171.0 95.5h1.0v1.0h-1.0zM150.4 95.2h1.0v1.0h-1.0zM147.4 87.4h1.0v1.0h-1.0zM168.2 94.9h1.0v1.0h-1.0zM162.7 85.1h1.0v1.0h-1.0zM159.0 76.9h1.0v1.0h-1.0zM161.0 87.5h1.0v1.0h-1.0zM142.7 92.8h1.0v1.0h-1.0zM173.0 97.4h1.0v1.0h-1.0zM167.0 96.2h1.0v1.0h-1.0zM164.0 97.3h1.0v1.0h-1.0zM145.6 85.2h1.0v1.0h-1.0zM147.3 78.7h1.0v1.0h-1.0zM153.2 78.6h1.0v1.0h-1.0zM167.3 86.1h1.0v1.0h-1.0zM169.7 92.0h1.0v1.0h-1.0zM158.1 79.8h1.0v1.0h-1.0zM170.5 95.4h1.0v1.0h-1.0zM149.5 75.8h1.0v1.0h-1.0zM143.1 95.3h1.0v1.0h-1.0zM169.6 96.8h1.0v1.0h-1.0zM153.4 79.0h1.0v1.0h-1.0zM156.2 79.0h1.0v1.0h-1.0zM160.8 86.2h1.0v1.0h-1.0zM145.6 80.0h1.0v1.0h-1.0zM156.0 84.3h1.0v1.0h-1.0zM161.6 81.8h1.0v1.0h-1.0zM158.9 95.6h1.0v1.0h-1.0zM163.7 90.5h1.0v1.0h-1.0zM163.5 87.5h1.0v1.0h-1.0zM165.6 91.7h1.0v1.0h-1.0zM163.7 91.5h1.0v1.0h-1.0zM143.4 95.9h1.0v1.0h-1.0zM173.0 97.1h1.0v1.0h-1.0zM164.6 90.3h1.0v1.0h-1.0zM158.3 90.4h1.0v1.0h-1.0zM168.9 97.5h1.0v1.0h-1.0zM147.5 70.7h1.0v1.0h-1.0zM167.7 91.1h1.0v1.0h-1.0zM166.7 97.1h1.0v1.0h-1.0zM146.7 74.0h1.0v1.0h-1.0zM168.8 95.0h1.0v1.0h-1.0zM154.4 77.8h1.0v1.0h-1.0zM162.3 90.8h1.0v1.0h-1.0zM169.0 87.7h1.0v1.0h-1.0zM147.9 73.6h1.0v1.0h-1.0zM171.6 97.1h1.0v1.0h-1.0zM142.8 77.1h1.0v1.0h-1.0zM162.7 95.6h1.0v1.0h-1.0zM172.4 97.1h1.0v1.0h-1.0zM172.3 97.1h1.0v1.0h-1.0zM155.6 87.3h1.0v1.0h-1.0zM146.8 70.7h1.0v1.0h-1.0zM157.4 96.1h1.0v1.0h-1.0zM158.4 89.1h1.0v1.0h-1.0zM168.6 84.8h1.0v1.0h-1.0zM153.2 95.5h1.0v1.0h-1.0zM169.1 94.1h1.0v1.0h-1.0zM158.9 91.4h1.0v1.0h-1.0zM163.3 81.6h1.0v1.0h-1.0zM170.2 91.0h1.0v1.0h-1.0zM166.5 81.2h1.0v1.0h-1.0zM144.3 89.7h1.0v1.0h-1.0zM157.7 95.9h1.0v1.0h-1.0zM164.2 86.5h1.0v1.0h-1.0zM156.6 90.7h1.0v1.0h-1.0zM172.8 97.6h1.0v1.0h-1.0zM159.3 94.8h1.0v1.0h-1.0zM167.2 88.1h1.0v1.0h-1.0zM146.4 84.4h1.0v1.0h-1.0zM168.5 90.1h1.0v1.0h-1.0zM168.0 86.0h1.0v1.0h-1.0zM170.8 96.4h1.0v1.0h-1.0zM163.3 79.4h1.0v1.0h-1.0zM170.6 96.6h1.0v1.0h-1.0zM171.2 97.2h1.0v1.0h-1.0zM166.5 91.9h1.0v1.0h-1.0zM152.1 88.5h1.0v1.0h-1.0zM162.2 90.5h1.0v1.0h-1.0zM151.5 73.4h1.0v1.0h-1.0zM163.7 79.4h1.0v1.0h-1.0zM168.6 83.9h1.0v1.0h-1.0zM160.5 83.1h1.0v1.0h-1.0zM165.1 93.7h1.0v1.0h-1.0zM171.2 94.6h1.0v1.0h-1.0zM165.7 85.7h1.0v1.0h-1.0zM162.6 87.9h1.0v1.0h-1.0zM169.7 96.2h1.0v1.0h-1.0zM166.3 86.5h1.0v1.0h-1.0zM159.9 97.6h1.0v1.0h-1.0zM153.9 88.0h1.0v1.0h-1.0zM172.3 97.5h1.0v1.0h-1.0zM169.5 88.3h1.0v1.0h-1.0zM159.7 91.5h1.0v1.0h-1.0zM168.7 94.5h1.0v1.0h-1.0zM167.9 93.2h1.0v1.0h-1.0zM150.8 76.8h1.0v1.0h-1.0zM154.4 75.2h1.0v1.0h-1.0zM156.0 95.8h1.0v1.0h-1.0zM172.7 97.5h1.0v1.0h-1.0zM168.4 90.9h1.0v1.0h-1.0zM149.6 82.8h1.0v1.0h-1.0zM163.6 93.9h1.0v1.0h-1.0zM169.4 94.3h1.0v1.0h-1.0zM174.2 97.3h1.0v1.0h-1.0zM172.4 82.4h1.0v1.0h-1.0zM174.6 96.6h1.0v1.0h-1.0zM173.1 79.8h1.0v1.0h-1.0zM172.4 94.8h1.0v1.0h-1.0zM173.1 84.4h1.0v1.0h-1.0zM171.8 94.9h1.0v1.0h-1.0zM171.0 95.1h1.0v1.0h-1.0zM170.0 90.0h1.0v1.0h-1.0zM173.6 93.0h1.0v1.0h-1.0zM173.2 76.0h1.0v1.0h-1.0zM174.8 89.6h1.0v1.0h-1.0zM172.9 89.0h1.0v1.0h-1.0zM172.8 80.9h1.0v1.0h-1.0zM174.7 96.7h1.0v1.0h-1.0zM173.8 91.8h1.0v1.0h-1.0zM172.7 92.4h1.0v1.0h-1.0zM169.9 79.5h1.0v1.0h-1.0zM173.1 92.5h1.0v1.0h-1.0zM168.9 97.5h1.0v1.0h-1.0zM173.3 94.5h1.0v1.0h-1.0zM172.1 85.3h1.0v1.0h-1.0zM171.4 96.5h1.0v1.0h-1.0zM173.1 88.2h1.0v1.0h-1.0zM168.7 96.7h1.0v1.0h-1.0zM172.6 93.4h1.0v1.0h-1.0zM169.5 96.3h1.0v1.0h-1.0zM173.3 96.5h1.0v1.0h-1.0zM172.5 96.2h1.0v1.0h-1.0zM173.5 93.7h1.0v1.0h-1.0zM173.9 91.1h1.0v1.0h-1.0zM171.7 84.6h1.0v1.0h-1.0zM173.8 96.9h1.0v1.0h-1.0zM171.2 81.5h1.0v1.0h-1.0zM168.2 77.1h1.0v1.0h-1.0zM174.5 85.1h1.0v1.0h-1.0zM170.8 90.8h1.0v1.0h-1.0zM173.0 96.8h1.0v1.0h-1.0zM173.2 80.8h1.0v1.0h-1.0zM173.4 91.4h1.0v1.0h-1.0zM171.9 96.8h1.0v1.0h-1.0zM173.3 84.8h1.0v1.0h-1.0zM169.3 80.4h1.0v1.0h-1.0zM174.1 86.0h1.0v1.0h-1.0zM173.2 88.1h1.0v1.0h-1.0zM172.8 96.3h1.0v1.0h-1.0zM172.7 83.2h1.0v1.0h-1.0zM169.1 94.3h1.0v1.0h-1.0zM173.4 94.5h1.0v1.0h-1.0zM169.5 80.3h1.0v1.0h-1.0zM174.4 94.1h1.0v1.0h-1.0zM173.7 81.6h1.0v1.0h-1.0zM171.8 86.1h1.0v1.0h-1.0zM172.0 95.0h1.0v1.0h-1.0zM173.8 80.1h1.0v1.0h-1.0zM174.0 96.9h1.0v1.0h-1.0zM172.2 95.9h1.0v1.0h-1.0zM174.0 84.2h1.0v1.0h-1.0zM174.7 91.5h1.0v1.0h-1.0zM171.0 93.4h1.0v1.0h-1.0zM173.5 91.0h1.0v1.0h-1.0zM168.7 96.8h1.0v1.0h-1.0zM170.9 96.4h1.0v1.0h-1.0zM172.7 84.3h1.0v1.0h-1.0zM170.7 88.1h1.0v1.0h-1.0zM173.9 97.5h1.0v1.0h-1.0zM174.4 95.4h1.0v1.0h-1.0zM174.5 91.5h1.0v1.0h-1.0zM173.0 85.7h1.0v1.0h-1.0zM172.6 78.9h1.0v1.0h-1.0zM171.5 86.5h1.0v1.0h-1.0zM171.9 95.0h1.0v1.0h-1.0zM172.6 71.5h1.0v1.0h-1.0zM173.9 94.7h1.0v1.0h-1.0zM170.0 87.0h1.0v1.0h-1.0zM169.0 94.0h1.0v1.0h-1.0zM174.4 80.4h1.0v1.0h-1.0zM173.4 90.9h1.0v1.0h-1.0zM171.6 84.4h1.0v1.0h-1.0zM173.4 79.2h1.0v1.0h-1.0zM174.0 82.3h1.0v1.0h-1.0zM171.2 96.3h1.0v1.0h-1.0zM172.2 83.6h1.0v1.0h-1.0zM170.5 93.9h1.0v1.0h-1.0zM170.1 97.3h1.0v1.0h-1.0zM174.7 96.6h1.0v1.0h-1.0zM171.1 94.5h1.0v1.0h-1.0zM172.9 95.2h1.0v1.0h-1.0zM173.6 78.2h1.0v1.0h-1.0zM174.4 82.9h1.0v1.0h-1.0zM171.6 94.6h1.0v1.0h-1.0zM173.6 90.2h1.0v1.0h-1.0zM169.8 72.3h1.0v1.0h-1.0zM167.6 87.1h1.0v1.0h-1.0zM174.3 96.6h1.0v1.0h-1.0zM173.7 94.2h1.0v1.0h-1.0zM172.4 83.1h1.0v1.0h-1.0zM172.6 95.6h1.0v1.0h-1.0zM174.3 97.4h1.0v1.0h-1.0zM174.7 91.6h1.0v1.0h-1.0zM173.8 94.7h1.0v1.0h-1.0zM172.9 90.3h1.0v1.0h-1.0zM171.1 94.7h1.0v1.0h-1.0zM174.4 87.5h1.0v1.0h-1.0zM169.9 92.5h1.0v1.0h-1.0zM172.3 97.3h1.0v1.0h-1.0zM174.3 92.6h1.0v1.0h-1.0zM173.3 81.7h1.0v1.0h-1.0zM173.5 80.5h1.0v1.0h-1.0zM171.2 92.2h1.0v1.0h-1.0zM170.1 96.1h1.0v1.0h-1.0zM169.6 96.7h1.0v1.0h-1.0zM171.8 94.2h1.0v1.0h-1.0zM174.8 90.3h1.0v1.0h-1.0zM170.1 94.3h1.0v1.0h-1.0zM170.8 78.3h1.0v1.0h-1.0zM173.5 96.1h1.0v1.0h-1.0zM172.4 70.3h1.0v1.0h-1.0zM169.7 97.1h1.0v1.0h-1.0zM171.6 91.3h1.0v1.0h-1.0zM173.9 75.3h1.0v1.0h-1.0zM174.9 74.0h1.0v1.0h-1.0zM174.1 95.2h1.0v1.0h-1.0zM172.0 90.7h1.0v1.0h-1.0zM173.7 75.6h1.0v1.0h-1.0zM168.6 95.2h1.0v1.0h-1.0zM172.7 83.7h1.0v1.0h-1.0zM171.5 74.3h1.0v1.0h-1.0zM174.5 95.3h1.0v1.0h-1.0zM172.0 95.4h1.0v1.0h-1.0zM171.7 87.7h1.0v1.0h-1.0zM174.0 77.2h1.0v1.0h-1.0zM173.7 97.0h1.0v1.0h-1.0zM173.9 96.4h1.0v1.0h-1.0zM172.0 97.0h1.0v1.0h-1.0zM169.0 92.7h1.0v1.0h-1.0zM174.8 84.8h1.0v1.0h-1.0zM167.5 91.5h1.0v1.0h-1.0zM173.5 95.0h1.0v1.0h-1.0zM173.8 88.7h1.0v1.0h-1.0zM173.0 91.0h1.0v1.0h-1.0zM172.1 82.3h1.0v1.0h-1.0zM172.8 97.4h1.0v1.0h-1.0zM168.7 91.4h1.0v1.0h-1.0zM173.2 77.0h1.0v1.0h-1.0zM174.0 92.9h1.0v1.0h-1.0zM173.5 90.4h1.0v1.0h-1.0zM171.8 93.1h1.0v1.0h-1.0zM173.4 87.5h1.0v1.0h-1.0zM174.8 96.5h1.0v1.0h-1.0zM174.7 81.6h1.0v1.0h-1.0zM168.9 80.4h1.0v1.0h-1.0zM174.7 86.3h1.0v1.0h-1.0zM174.6 90.2h1.0v1.0h-1.0zM174.5 93.1h1.0v1.0h-1.0zM174.4 95.4h1.0v1.0h-1.0zM167.1 95.7h1.0v1.0h-1.0zM170.1 97.0h1.0v1.0h-1.0zM174.3 95.6h1.0v1.0h-1.0zM173.4 92.9h1.0v1.0h-1.0zM172.0 94.6h1.0v1.0h-1.0zM174.6 92.4h1.0v1.0h-1.0zM173.1 87.9h1.0v1.0h-1.0zM172.0 94.5h1.0v1.0h-1.0zM174.3 96.8h1.0v1.0h-1.0zM172.9 89.6h1.0v1.0h-1.0zM167.9 96.7h1.0v1.0h-1.0zM172.7 86.5h1.0v1.0h-1.0zM173.4 96.5h1.0v1.0h-1.0zM172.1 90.0h1.0v1.0h-1.0zM174.7 92.5h1.0v1.0h-1.0zM171.2 88.3h1.0v1.0h-1.0zM172.2 96.0h1.0v1.0h-1.0zM172.7 92.6h1.0v1.0h-1.0zM172.7 91.0h1.0v1.0h-1.0zM173.8 89.6h1.0v1.0h-1.0zM172.8 86.8h1.0v1.0h-1.0zM169.9 93.6h1.0v1.0h-1.0zM171.6 89.1h1.0v1.0h-1.0zM173.6 81.3h1.0v1.0h-1.0zM172.0 97.1h1.0v1.0h-1.0zM173.6 86.6h1.0v1.0h-1.0zM171.4 89.6h1.0v1.0h-1.0zM170.5 97.6h1.0v1.0h-1.0zM172.8 97.0h1.0v1.0h-1.0zM171.5 97.4h1.0v1.0h-1.0zM174.1 91.6h1.0v1.0h-1.0zM173.4 81.9h1.0v1.0h-1.0zM173.2 93.3h1.0v1.0h-1.0zM171.9 89.8h1.0v1.0h-1.0zM174.1 91.3h1.0v1.0h-1.0zM174.4 97.6h1.0v1.0h-1.0zM169.2 95.3h1.0v1.0h-1.0zM172.0 92.0h1.0v1.0h-1.0zM168.8 97.3h1.0v1.0h-1.0zM173.5 84.2h1.0v1.0h-1.0zM170.6 96.7h1.0v1.0h-1.0zM174.3 91.6h1.0v1.0h-1.0zM171.7 93.2h1.0v1.0h-1.0zM171.1 77.4h1.0v1.0h-1.0zM174.4 96.4h1.0v1.0h-1.0zM169.8 97.3h1.0v1.0h-1.0zM172.5 89.6h1.0v1.0h-1.0zM170.6 94.6h1.0v1.0h-1.0zM174.1 91.5h1.0v1.0h-1.0zM167.6 97.5h1.0v1.0h-1.0zM173.2 97.1h1.0v1.0h-1.0zM170.0 97.6h1.0v1.0h-1.0zM171.4 93.3h1.0v1.0h-1.0zM170.9 84.2h1.0v1.0h-1.0zM171.5 85.0h1.0v1.0h-1.0zM174.4 97.5h1.0v1.0h-1.0zM173.3 96.8h1.0v1.0h-1.0zM171.5 91.8h1.0v1.0h-1.0zM169.7 95.5h1.0v1.0h-1.0zM173.8 94.5h1.0v1.0h-1.0zM173.6 97.6h1.0v1.0h-1.0zM171.5 85.7h1.0v1.0h-1.0zM174.5 84.5h1.0v1.0h-1.0zM170.2 76.4h1.0v1.0h-1.0zM173.6 86.4h1.0v1.0h-1.0zM174.6 95.6h1.0v1.0h-1.0zM172.2 97.1h1.0v1.0h-1.0zM174.2 92.1h1.0v1.0h-1.0zM173.7 85.8h1.0v1.0h-1.0zM171.1 94.3h1.0v1.0h-1.0zM170.3 87.8h1.0v1.0h-1.0zM172.1 79.9h1.0v1.0h-1.0zM172.6 86.8h1.0v1.0h-1.0zM169.0 90.7h1.0v1.0h-1.0zM171.3 97.0h1.0v1.0h-1.0zM172.6 96.8h1.0v1.0h-1.0zM174.2 97.2h1.0v1.0h-1.0zM173.3 87.4h1.0v1.0h-1.0zM174.3 95.8h1.0v1.0h-1.0zM170.4 87.3h1.0v1.0h-1.0zM172.8 95.5h1.0v1.0h-1.0zM170.8 90.9h1.0v1.0h-1.0zM172.8 96.3h1.0v1.0h-1.0zM173.3 81.4h1.0v1.0h-1.0zM169.8 96.1h1.0v1.0h-1.0zM169.3 95.1h1.0v1.0h-1.0zM173.7 94.7h1.0v1.0h-1.0zM174.8 91.3h1.0v1.0h-1.0zM167.8 90.7h1.0v1.0h-1.0zM174.1 89.4h1.0v1.0h-1.0zM169.9 93.9h1.0v1.0h-1.0zM171.9 97.6h1.0v1.0h-1.0zM169.1 96.5h1.0v1.0h-1.0zM174.2 96.7h1.0v1.0h-1.0zM174.0 96.5h1.0v1.0h-1.0zM170.2 97.5h1.0v1.0h-1.0zM174.5 95.2h1.0v1.0h-1.0zM174.9 93.7h1.0v1.0h-1.0zM174.8 95.2h1.0v1.0h-1.0zM174.6 95.4h1.0v1.0h-1.0zM173.3 94.0h1.0v1.0h-1.0zM171.9 94.5h1.0v1.0h-1.0zM168.7 86.8h1.0v1.0h-1.0zM174.1 92.1h1.0v1.0h-1.0zM172.5 78.9h1.0v1.0h-1.0zM174.8 92.7h1.0v1.0h-1.0zM173.2 79.7h1.0v1.0h-1.0zM169.1 96.6h1.0v1.0h-1.0zM170.7 96.6h1.0v1.0h-1.0zM174.8 94.5h1.0v1.0h-1.0zM171.3 89.6h1.0v1.0h-1.0zM171.6 89.8h1.0v1.0h-1.0zM174.0 97.5h1.0v1.0h-1.0zM174.0 82.9h1.0v1.0h-1.0zM170.2 97.0h1.0v1.0h-1.0zM169.5 85.8h1.0v1.0h-1.0zM173.4 95.8h1.0v1.0h-1.0zM172.2 81.7h1.0v1.0h-1.0zM172.3 93.7h1.0v1.0h-1.0zM169.3 75.4h1.0v1.0h-1.0zM174.6 88.6h1.0v1.0h-1.0zM170.6 95.5h1.0v1.0h-1.0zM173.8 84.7h1.0v1.0h-1.0zM173.9 96.0h1.0v1.0h-1.0zM173.1 89.4h1.0v1.0h-1.0zM172.9 89.4h1.0v1.0h-1.0zM168.5 86.3h1.0v1.0h-1.0zM173.9 95.7h1.0v1.0h-1.0zM172.9 95.4h1.0v1.0h-1.0zM174.4 96.3h1.0v1.0h-1.0zM172.2 80.0h1.0v1.0h-1.0zM173.5 89.0h1.0v1.0h-1.0zM172.9 90.4h1.0v1.0h-1.0zM173.7 91.5h1.0v1.0h-1.0zM173.4 90.9h1.0v1.0h-1.0zM174.6 90.2h1.0v1.0h-1.0zM169.9 95.4h1.0v1.0h-1.0zM172.1 90.4h1.0v1.0h-1.0zM171.9 74.0h1.0v1.0h-1.0zM174.3 93.6h1.0v1.0h-1.0zM171.3 82.8h1.0v1.0h-1.0zM174.4 87.4h1.0v1.0h-1.0zM170.8 89.4h1.0v1.0h-1.0zM172.7 95.7h1.0v1.0h-1.0zM171.7 95.5h1.0v1.0h-1.0zM173.4 85.3h1.0v1.0h-1.0zM173.9 92.2h1.0v1.0h-1.0zM169.8 93.1h1.0v1.0h-1.0zM174.1 88.7h1.0v1.0h-1.0zM172.4 92.1h1.0v1.0h-1.0zM171.6 94.1h1.0v1.0h-1.0zM173.6 97.4h1.0v1.0h-1.0z" fill="#2b7bab" fill-opacity="1"/>
<path d="M193.1 73.8h1.0v1.0h-1.0zM187.9 76.7h1.0v1.0h-1.0zM193.6 71.4h1.0v1.0h-1.0zM184.6 84.0h1.0v1.0h-1.0zM189.1 76.9h1.0v1.0h-1.0zM195.3 71.4h1.0v1.0h-1.0zM183.8 84.3h1.0v1.0h-1.0zM196.5 79.4h1.0v1.0h-1.0zM187.2 78.6h1.0v1.0h-1.0zM188.3 79.9h1.0v1.0h-1.0zM194.0 75.6h1.0v1.0h-1.0zM182.3 96.5h1.0v1.0h-1.0zM185.3 81.7h1.0v1.0h-1.0zM190.7 74.9h1.0v1.0h-1.0zM215.3 63.1h1.0v1.0h-1.0zM197.1 78.4h1.0v1.0h-1.0zM199.8 70.0h1.0v1.0h-1.0zM208.3 64.9h1.0v1.0h-1.0zM195.5 72.4h1.0v1.0h-1.0zM182.8 94.2h1.0v1.0h-1.0zM189.9 77.1h1.0v1.0h-1.0zM187.3 84.6h1.0v1.0h-1.0zM189.7 75.1h1.0v1.0h-1.0zM211.6 63.3h1.0v1.0h-1.0zM186.9 79.7h1.0v1.0h-1.0zM216.1 61.4h1.0v1.0h-1.0zM185.4 84.8h1.0v1.0h-1.0zM182.9 90.6h1.0v1.0h-1.0zM206.2 68.0h1.0v1.0h-1.0zM206.6 64.6h1.0v1.0h-1.0zM211.4 64.0h1.0v1.0h-1.0zM207.7 65.8h1.0v1.0h-1.0zM211.5 64.6h1.0v1.0h-1.0zM186.6 78.6h1.0v1.0h-1.0zM194.1 71.0h1.0v1.0h-1.0zM184.4 88.8h1.0v1.0h-1.0zM197.0 74.6h1.0v1.0h-1.0zM184.2 85.3h1.0v1.0h-1.0zM193.1 72.0h1.0v1.0h-1.0zM186.7 85.5h1.0v1.0h-1.0zM203.4 67.7h1.0v1.0h-1.0zM198.5 73.8h1.0v1.0h-1.0zM214.7 64.3h1.0v1.0h-1.0zM184.4 83.5h1.0v1.0h-1.0zM183.9 86.2h1.0v1.0h-1.0zM197.4 70.4h1.0v1.0h-1.0zM193.1 72.1h1.0v1.0h-1.0zM203.2 68.0h1.0v1.0h-1.0zM188.0 81.6h1.0v1.0h-1.0zM213.9 69.4h1.0v1.0h-1.0zM216.3 61.2h1.0v1.0h-1.0zM190.4 75.5h1.0v1.0h-1.0zM186.5 82.2h1.0v1.0h-1.0zM212.2 62.9h1.0v1.0h-1.0zM194.4 80.7h1.0v1.0h-1.0zM211.3 64.5h1.0v1.0h-1.0zM183.4 87.3h1.0v1.0h-1.0zM194.9 74.8h1.0v1.0h-1.0zM184.9 82.5h1.0v1.0h-1.0zM216.3 61.0h1.0v1.0h-1.0zM198.6 68.3h1.0v1.0h-1.0zM204.6 66.7h1.0v1.0h-1.0zM213.2 62.8h1.0v1.0h-1.0zM210.8 63.6h1.0v1.0h-1.0zM182.6 92.9h1.0v1.0h-1.0zM183.0 90.3h1.0v1.0h-1.0zM215.7 62.5h1.0v1.0h-1.0zM203.1 65.9h1.0v1.0h-1.0zM194.8 72.6h1.0v1.0h-1.0zM183.3 88.3h1.0v1.0h-1.0zM192.3 73.4h1.0v1.0h-1.0zM208.4 67.1h1.0v1.0h-1.0zM183.6 85.1h1.0v1.0h-1.0zM182.7 93.0h1.0v1.0h-1.0zM199.6 77.7h1.0v1.0h-1.0zM215.5 67.2h1.0v1.0h-1.0zM183.7 89.3h1.0v1.0h-1.0zM205.2 66.7h1.0v1.0h-1.0zM216.9 63.4h1.0v1.0h-1.0zM183.6 85.6h1.0v1.0h-1.0zM183.8 87.2h1.0v1.0h-1.0zM199.1 73.5h1.0v1.0h-1.0zM182.3 95.9h1.0v1.0h-1.0zM215.7 62.1h1.0v1.0h-1.0zM186.7 83.9h1.0v1.0h-1.0zM183.5 89.8h1.0v1.0h-1.0zM211.7 65.0h1.0v1.0h-1.0zM198.4 68.1h1.0v1.0h-1.0zM198.4 70.9h1.0v1.0h-1.0zM205.6 66.7h1.0v1.0h-1.0zM183.5 85.8h1.0v1.0h-1.0zM200.3 67.4h1.0v1.0h-1.0zM183.4 86.2h1.0v1.0h-1.0zM206.8 66.5h1.0v1.0h-1.0zM189.4 84.2h1.0v1.0h-1.0zM197.3 69.4h1.0v1.0h-1.0zM196.7 74.6h1.0v1.0h-1.0zM189.7 75.9h1.0v1.0h-1.0zM197.2 81.5h1.0v1.0h-1.0zM199.7 68.0h1.0v1.0h-1.0zM197.4 69.7h1.0v1.0h-1.0zM193.2 75.2h1.0v1.0h-1.0zM182.4 97.3h1.0v1.0h-1.0zM188.1 78.8h1.0v1.0h-1.0zM208.0 65.6h1.0v1.0h-1.0zM199.3 68.6h1.0v1.0h-1.0zM186.5 80.3h1.0v1.0h-1.0zM195.4 70.6h1.0v1.0h-1.0zM205.3 66.7h1.0v1.0h-1.0zM189.3 75.4h1.0v1.0h-1.0zM208.8 70.4h1.0v1.0h-1.0zM213.9 62.7h1.0v1.0h-1.0zM182.9 92.5h1.0v1.0h-1.0zM201.4 67.8h1.0v1.0h-1.0zM192.1 75.8h1.0v1.0h-1.0zM184.4 84.2h1.0v1.0h-1.0zM206.3 67.7h1.0v1.0h-1.0zM197.5 68.8h1.0v1.0h-1.0zM185.6 80.6h1.0v1.0h-1.0zM182.5 97.3h1.0v1.0h-1.0zM197.0 76.4h1.0v1.0h-1.0zM196.3 76.6h1.0v1.0h-1.0zM193.1 73.8h1.0v1.0h-1.0zM187.2 79.2h1.0v1.0h-1.0zM213.8 63.9h1.0v1.0h-1.0zM182.3 97.4h1.0v1.0h-1.0zM185.1 83.7h1.0v1.0h-1.0zM194.6 72.4h1.0v1.0h-1.0zM213.3 66.3h1.0v1.0h-1.0zM183.1 87.2h1.0v1.0h-1.0zM202.4 68.8h1.0v1.0h-1.0zM200.3 69.2h1.0v1.0h-1.0zM182.5 95.7h1.0v1.0h-1.0zM208.7 66.3h1.0v1.0h-1.0zM182.6 93.4h1.0v1.0h-1.0zM212.1 64.7h1.0v1.0h-1.0zM184.4 86.3h1.0v1.0h-1.0zM213.2 68.0h1.0v1.0h-1.0zM200.0 72.2h1.0v1.0h-1.0zM183.1 88.9h1.0v1.0h-1.0zM207.5 65.2h1.0v1.0h-1.0zM184.0 89.6h1.0v1.0h-1.0zM202.6 66.1h1.0v1.0h-1.0zM182.8 93.0h1.0v1.0h-1.0zM214.7 64.4h1.0v1.0h-1.0zM210.7 63.2h1.0v1.0h-1.0zM197.1 69.3h1.0v1.0h-1.0zM188.6 75.9h1.0v1.0h-1.0zM192.9 71.9h1.0v1.0h-1.0zM200.5 70.1h1.0v1.0h-1.0zM212.2 66.7h1.0v1.0h-1.0zM182.9 94.9h1.0v1.0h-1.0zM195.8 77.7h1.0v1.0h-1.0zM193.9 71.3h1.0v1.0h-1.0zM202.5 66.6h1.0v1.0h-1.0zM216.3 63.2h1.0v1.0h-1.0zM212.0 64.5h1.0v1.0h-1.0zM188.5 78.9h1.0v1.0h-1.0zM202.8 67.8h1.0v1.0h-1.0zM187.0 79.2h1.0v1.0h-1.0zM203.0 66.6h1.0v1.0h-1.0zM184.3 85.0h1.0v1.0h-1.0zM200.5 67.2h1.0v1.0h-1.0zM186.9 88.2h1.0v1.0h-1.0zM186.8 82.2h1.0v1.0h-1.0zM187.9 76.7h1.0v1.0h-1.0zM193.7 77.2h1.0v1.0h-1.0zM205.9 64.6h1.0v1.0h-1.0zM202.5 68.9h1.0v1.0h-1.0zM193.6 74.5h1.0v1.0h-1.0zM195.0 70.8h1.0v1.0h-1.0zM202.2 66.7h1.0v1.0h-1.0zM188.0 81.9h1.0v1.0h-1.0zM196.8 71.0h1.0v1.0h-1.0zM202.8 67.9h1.0v1.0h-1.0zM190.2 76.2h1.0v1.0h-1.0zM182.4 96.3h1.0v1.0h-1.0zM212.3 65.5h1.0v1.0h-1.0zM184.3 88.7h1.0v1.0h-1.0zM187.2 82.1h1.0v1.0h-1.0zM200.2 69.9h1.0v1.0h-1.0zM204.2 66.2h1.0v1.0h-1.0zM208.6 65.9h1.0v1.0h-1.0zM204.9 70.3h1.0v1.0h-1.0zM186.5 79.8h1.0v1.0h-1.0zM189.5 74.6h1.0v1.0h-1.0zM210.7 66.3h1.0v1.0h-1.0zM193.8 73.4h1.0v1.0h-1.0zM210.9 63.1h1.0v1.0h-1.0zM189.4 77.9h1.0v1.0h-1.0zM195.5 71.8h1.0v1.0h-1.0zM186.6 78.9h1.0v1.0h-1.0zM201.1 68.0h1.0v1.0h-1.0zM213.8 68.7h1.0v1.0h-1.0zM215.6 62.2h1.0v1.0h-1.0zM194.7 70.7h1.0v1.0h-1.0zM189.4 74.6h1.0v1.0h-1.0zM194.3 80.0h1.0v1.0h-1.0zM205.2 66.1h1.0v1.0h-1.0zM187.1 85.4h1.0v1.0h-1.0zM182.7 97.5h1.0v1.0h-1.0zM209.7 63.4h1.0v1.0h-1.0zM214.6 64.7h1.0v1.0h-1.0zM190.4 75.3h1.0v1.0h-1.0zM198.4 70.3h1.0v1.0h-1.0zM210.3 69.7h1.0v1.0h-1.0zM188.5 75.7h1.0v1.0h-1.0zM206.0 67.5h1.0v1.0h-1.0zM200.4 67.3h1.0v1.0h-1.0zM183.0 95.6h1.0v1.0h-1.0zM189.6 76.2h1.0v1.0h-1.0zM215.7 61.8h1.0v1.0h-1.0zM199.6 67.7h1.0v1.0h-1.0zM196.5 73.0h1.0v1.0h-1.0zM184.3 87.2h1.0v1.0h-1.0zM215.5 66.4h1.0v1.0h-1.0zM206.5 72.9h1.0v1.0h-1.0zM203.1 68.1h1.0v1.0h-1.0zM208.1 68.6h1.0v1.0h-1.0zM199.3 70.9h1.0v1.0h-1.0zM184.7 83.2h1.0v1.0h-1.0zM188.4 81.5h1.0v1.0h-1.0zM206.1 65.4h1.0v1.0h-1.0zM216.8 60.9h1.0v1.0h-1.0zM182.8 92.1h1.0v1.0h-1.0zM183.0 97.5h1.0v1.0h-1.0zM189.4 75.9h1.0v1.0h-1.0zM209.6 65.5h1.0v1.0h-1.0zM199.4 69.3h1.0v1.0h-1.0zM192.8 81.1h1.0v1.0h-1.0zM187.1 79.7h1.0v1.0h-1.0zM193.4 71.8h1.0v1.0h-1.0zM184.1 85.7h1.0v1.0h-1.0zM206.9 65.8h1.0v1.0h-1.0zM183.9 90.4h1.0v1.0h-1.0zM182.6 96.0h1.0v1.0h-1.0zM184.1 84.5h1.0v1.0h-1.0zM191.4 77.0h1.0v1.0h-1.0zM191.9 74.1h1.0v1.0h-1.0zM190.8 75.5h1.0v1.0h-1.0zM187.2 86.4h1.0v1.0h-1.0zM185.0 81.7h1.0v1.0h-1.0zM196.1 70.7h1.0v1.0h-1.0zM203.3 65.8h1.0v1.0h-1.0zM201.3 68.0h1.0v1.0h-1.0zM213.3 63.1h1.0v1.0h-1.0zM191.8 73.7h1.0v1.0h-1.0zM195.5 70.8h1.0v1.0h-1.0zM201.0 68.4h1.0v1.0h-1.0zM202.7 67.0h1.0v1.0h-1.0zM192.6 74.4h1.0v1.0h-1.0zM203.2 68.9h1.0v1.0h-1.0zM191.7 73.0h1.0v1.0h-1.0zM183.5 85.6h1.0v1.0h-1.0zM184.8 82.2h1.0v1.0h-1.0zM200.7 68.2h1.0v1.0h-1.0zM212.3 63.2h1.0v1.0h-1.0zM186.3 79.2h1.0v1.0h-1.0zM184.0 87.1h1.0v1.0h-1.0zM197.2 69.5h1.0v1.0h-1.0zM207.5 67.3h1.0v1.0h-1.0zM191.7 75.5h1.0v1.0h-1.0zM200.5 68.8h1.0v1.0h-1.0zM183.2 87.8h1.0v1.0h-1.0zM214.3 63.1h1.0v1.0h-1.0zM199.7 67.7h1.0v1.0h-1.0zM205.7 70.4h1.0v1.0h-1.0zM189.9 75.5h1.0v1.0h-1.0zM194.7 71.3h1.0v1.0h-1.0zM185.4 80.5h1.0v1.0h-1.0zM201.8 68.5h1.0v1.0h-1.0zM214.8 71.2h1.0v1.0h-1.0zM210.6 71.4h1.0v1.0h-1.0zM208.8 63.6h1.0v1.0h-1.0zM183.8 95.4h1.0v1.0h-1.0zM210.6 65.8h1.0v1.0h-1.0zM198.9 69.5h1.0v1.0h-1.0zM191.6 73.3h1.0v1.0h-1.0zM196.0 70.3h1.0v1.0h-1.0zM183.6 90.8h1.0v1.0h-1.0zM197.1 74.9h1.0v1.0h-1.0zM187.5 79.4h1.0v1.0h-1.0zM187.1 82.7h1.0v1.0h-1.0zM185.4 83.3h1.0v1.0h-1.0zM196.3 70.4h1.0v1.0h-1.0zM183.0 90.2h1.0v1.0h-1.0zM195.1 75.1h1.0v1.0h-1.0zM185.3 81.1h1.0v1.0h-1.0zM187.9 81.2h1.0v1.0h-1.0zM185.9 82.0h1.0v1.0h-1.0zM182.5 94.5h1.0v1.0h-1.0zM202.7 68.0h1.0v1.0h-1.0zM183.5 87.0h1.0v1.0h-1.0zM214.0 63.3h1.0v1.0h-1.0zM196.4 70.7h1.0v1.0h-1.0zM194.4 70.8h1.0v1.0h-1.0zM211.0 65.3h1.0v1.0h-1.0zM189.1 75.9h1.0v1.0h-1.0zM184.9 89.5h1.0v1.0h-1.0zM209.0 64.9h1.0v1.0h-1.0zM198.2 70.5h1.0v1.0h-1.0zM185.2 80.8h1.0v1.0h-1.0zM204.0 65.9h1.0v1.0h-1.0zM196.7 69.0h1.0v1.0h-1.0zM182.4 95.6h1.0v1.0h-1.0zM200.3 69.9h1.0v1.0h-1.0zM216.7 64.0h1.0v1.0h-1.0zM195.0 70.2h1.0v1.0h-1.0zM214.9 63.5h1.0v1.0h-1.0zM209.8 63.3h1.0v1.0h-1.0zM208.7 65.5h1.0v1.0h-1.0zM185.6 81.3h1.0v1.0h-1.0zM182.9 91.6h1.0v1.0h-1.0zM185.6 83.1h1.0v1.0h-1.0zM184.6 85.6h1.0v1.0h-1.0zM198.8 71.5h1.0v1.0h-1.0zM214.5 62.7h1.0v1.0h-1.0zM201.6 68.0h1.0v1.0h-1.0zM211.6 67.7h1.0v1.0h-1.0zM205.3 67.4h1.0v1.0h-1.0zM186.7 85.1h1.0v1.0h-1.0zM215.5 70.1h1.0v1.0h-1.0zM188.8 80.3h1.0v1.0h-1.0zM201.4 72.0h1.0v1.0h-1.0zM207.1 65.9h1.0v1.0h-1.0zM190.6 78.2h1.0v1.0h-1.0zM200.4 69.4h1.0v1.0h-1.0zM210.6 63.0h1.0v1.0h-1.0zM182.4 97.5h1.0v1.0h-1.0zM183.3 91.2h1.0v1.0h-1.0zM183.1 93.3h1.0v1.0h-1.0zM185.8 79.7h1.0v1.0h-1.0zM204.8 68.3h1.0v1.0h-1.0zM191.1 75.8h1.0v1.0h-1.0zM196.2 78.0h1.0v1.0h-1.0zM194.5 72.9h1.0v1.0h-1.0zM192.8 73.4h1.0v1.0h-1.0zM201.9 66.7h1.0v1.0h-1.0zM202.0 74.1h1.0v1.0h-1.0zM205.1 67.1h1.0v1.0h-1.0zM189.3 74.9h1.0v1.0h-1.0zM183.2 88.6h1.0v1.0h-1.0zM210.9 68.8h1.0v1.0h-1.0zM184.8 85.7h1.0v1.0h-1.0zM207.3 65.9h1.0v1.0h-1.0zM209.8 63.8h1.0v1.0h-1.0zM188.7 77.4h1.0v1.0h-1.0zM203.6 67.3h1.0v1.0h-1.0zM187.8 82.5h1.0v1.0h-1.0zM190.5 75.2h1.0v1.0h-1.0zM185.7 81.3h1.0v1.0h-1.0zM202.6 67.3h1.0v1.0h-1.0zM200.7 69.0h1.0v1.0h-1.0zM187.4 79.4h1.0v1.0h-1.0zM215.0 62.2h1.0v1.0h-1.0zM182.8 91.3h1.0v1.0h-1.0zM184.2 88.9h1.0v1.0h-1.0zM194.9 70.4h1.0v1.0h-1.0zM186.9 79.8h1.0v1.0h-1.0zM184.6 83.2h1.0v1.0h-1.0zM212.1 64.2h1.0v1.0h-1.0zM186.0 81.6h1.0v1.0h-1.0zM183.5 87.3h1.0v1.0h-1.0zM200.1 67.5h1.0v1.0h-1.0zM196.1 70.5h1.0v1.0h-1.0zM204.4 68.0h1.0v1.0h-1.0zM212.4 65.1h1.0v1.0h-1.0zM184.8 82.3h1.0v1.0h-1.0zM202.5 71.0h1.0v1.0h-1.0zM182.8 92.4h1.0v1.0h-1.0zM187.2 79.1h1.0v1.0h-1.0zM210.5 65.4h1.0v1.0h-1.0zM204.4 69.4h1.0v1.0h-1.0zM187.1 80.3h1.0v1.0h-1.0zM189.9 75.9h1.0v1.0h-1.0zM195.4 73.1h1.0v1.0h-1.0zM184.5 87.8h1.0v1.0h-1.0zM184.4 84.0h1.0v1.0h-1.0zM209.4 75.7h1.0v1.0h-1.0zM189.7 83.2h1.0v1.0h-1.0zM185.2 80.8h1.0v1.0h-1.0zM205.2 65.3h1.0v1.0h-1.0zM204.7 65.0h1.0v1.0h-1.0zM183.7 86.0h1.0v1.0h-1.0zM183.1 89.5h1.0v1.0h-1.0zM189.0 78.9h1.0v1.0h-1.0zM194.0 80.9h1.0v1.0h-1.0zM209.1 64.0h1.0v1.0h-1.0zM212.8 68.8h1.0v1.0h-1.0zM196.7 71.1h1.0v1.0h-1.0zM184.5 83.5h1.0v1.0h-1.0zM185.6 80.2h1.0v1.0h-1.0zM198.7 69.1h1.0v1.0h-1.0zM205.4 67.2h1.0v1.0h-1.0zM208.3 64.0h1.0v1.0h-1.0zM209.3 65.5h1.0v1.0h-1.0zM199.4 68.4h1.0v1.0h-1.0zM202.2 67.8h1.0v1.0h-1.0zM203.3 68.3h1.0v1.0h-1.0zM184.0 85.0h1.0v1.0h-1.0zM204.7 65.1h1.0v1.0h-1.0zM199.4 69.9h1.0v1.0h-1.0zM203.0 67.0h1.0v1.0h-1.0zM193.4 73.3h1.0v1.0h-1.0zM204.6 65.3h1.0v1.0h-1.0zM194.6 71.4h1.0v1.0h-1.0zM197.7 69.3h1.0v1.0h-1.0zM185.3 81.1h1.0v1.0h-1.0zM211.6 63.9h1.0v1.0h-1.0zM210.9 66.7h1.0v1.0h-1.0zM186.9 80.2h1.0v1.0h-1.0zM199.4 68.0h1.0v1.0h-1.0zM194.9 72.3h1.0v1.0h-1.0zM201.1 67.8h1.0v1.0h-1.0zM212.4 65.2h1.0v1.0h-1.0zM182.9 94.4h1.0v1.0h-1.0zM211.1 63.8h1.0v1.0h-1.0zM202.9 71.7h1.0v1.0h-1.0zM211.0 63.0h1.0v1.0h-1.0zM208.8 64.4h1.0v1.0h-1.0zM207.1 67.5h1.0v1.0h-1.0zM193.0 78.6h1.0v1.0h-1.0zM207.1 79.3h1.0v1.0h-1.0zM215.0 64.0h1.0v1.0h-1.0zM203.9 68.7h1.0v1.0h-1.0zM190.7 75.5h1.0v1.0h-1.0zM194.5 71.3h1.0v1.0h-1.0zM186.7 83.5h1.0v1.0h-1.0zM209.2 66.9h1.0v1.0h-1.0zM201.9 68.5h1.0v1.0h-1.0zM197.0 72.0h1.0v1.0h-1.0zM215.5 61.9h1.0v1.0h-1.0zM193.0 71.9h1.0v1.0h-1.0zM186.5 83.4h1.0v1.0h-1.0zM206.9 70.1h1.0v1.0h-1.0zM186.6 86.1h1.0v1.0h-1.0zM189.8 75.9h1.0v1.0h-1.0zM214.5 64.0h1.0v1.0h-1.0zM201.5 66.9h1.0v1.0h-1.0zM182.3 97.0h1.0v1.0h-1.0zM183.4 90.5h1.0v1.0h-1.0zM186.4 87.7h1.0v1.0h-1.0zM201.4 67.2h1.0v1.0h-1.0zM202.8 67.0h1.0v1.0h-1.0zM195.2 70.2h1.0v1.0h-1.0zM208.6 68.1h1.0v1.0h-1.0zM197.3 72.1h1.0v1.0h-1.0zM188.9 75.6h1.0v1.0h-1.0zM188.4 79.7h1.0v1.0h-1.0zM196.6 69.4h1.0v1.0h-1.0zM186.1 80.6h1.0v1.0h-1.0zM182.4 95.7h1.0v1.0h-1.0zM192.4 72.6h1.0v1.0h-1.0zM211.3 63.1h1.0v1.0h-1.0zM204.6 69.7h1.0v1.0h-1.0zM188.1 78.4h1.0v1.0h-1.0zM216.7 63.6h1.0v1.0h-1.0zM190.3 84.7h1.0v1.0h-1.0zM186.6 87.2h1.0v1.0h-1.0zM188.0 77.9h1.0v1.0h-1.0zM188.1 79.2h1.0v1.0h-1.0zM211.0 66.2h1.0v1.0h-1.0zM184.8 95.4h1.0v1.0h-1.0zM203.4 67.7h1.0v1.0h-1.0zM209.4 63.7h1.0v1.0h-1.0zM198.0 72.8h1.0v1.0h-1.0zM205.9 67.8h1.0v1.0h-1.0zM182.8 92.7h1.0v1.0h-1.0zM186.9 80.5h1.0v1.0h-1.0zM190.6 75.3h1.0v1.0h-1.0zM195.6 72.3h1.0v1.0h-1.0zM211.4 63.6h1.0v1.0h-1.0zM187.0 78.2h1.0v1.0h-1.0zM183.5 90.7h1.0v1.0h-1.0zM212.9 62.6h1.0v1.0h-1.0zM189.5 81.3h1.0v1.0h-1.0zM210.1 74.4h1.0v1.0h-1.0zM216.8 61.8h1.0v1.0h-1.0zM182.8 91.1h1.0v1.0h-1.0zM194.3 70.8h1.0v1.0h-1.0zM186.5 80.2h1.0v1.0h-1.0zM201.6 67.0h1.0v1.0h-1.0zM183.7 85.9h1.0v1.0h-1.0zM183.2 86.9h1.0v1.0h-1.0zM183.3 90.3h1.0v1.0h-1.0zM210.9 63.0h1.0v1.0h-1.0zM207.2 69.5h1.0v1.0h-1.0zM200.2 68.2h1.0v1.0h-1.0zM207.9 64.0h1.0v1.0h-1.0zM185.7 86.7h1.0v1.0h-1.0zM204.8 65.1h1.0v1.0h-1.0zM183.2 89.0h1.0v1.0h-1.0zM184.1 86.8h1.0v1.0h-1.0zM201.1 67.5h1.0v1.0h-1.0zM193.4 72.1h1.0v1.0h-1.0zM210.5 65.9h1.0v1.0h-1.0zM202.0 69.2h1.0v1.0h-1.0zM182.8 97.4h1.0v1.0h-1.0zM206.0 66.6h1.0v1.0h-1.0zM197.7 70.4h1.0v1.0h-1.0zM204.9 67.2h1.0v1.0h-1.0zM187.1 79.6h1.0v1.0h-1.0zM185.5 79.9h1.0v1.0h-1.0zM195.0 76.2h1.0v1.0h-1.0zM203.2 66.4h1.0v1.0h-1.0zM194.5 73.1h1.0v1.0h-1.0zM197.3 70.4h1.0v1.0h-1.0zM194.6 73.9h1.0v1.0h-1.0zM211.0 65.0h1.0v1.0h-1.0zM206.2 67.7h1.0v1.0h-1.0zM183.6 85.7h1.0v1.0h-1.0zM188.1 77.5h1.0v1.0h-1.0zM193.9 72.1h1.0v1.0h-1.0zM217.0 64.6h1.0v1.0h-1.0zM189.8 77.7h1.0v1.0h-1.0zM213.2 62.6h1.0v1.0h-1.0zM199.3 77.0h1.0v1.0h-1.0zM189.9 80.2h1.0v1.0h-1.0zM207.1 65.2h1.0v1.0h-1.0zM184.0 88.5h1.0v1.0h-1.0zM191.2 74.3h1.0v1.0h-1.0zM192.9 75.6h1.0v1.0h-1.0zM211.6 69.9h1.0v1.0h-1.0zM205.4 65.2h1.0v1.0h-1.0zM189.8 74.2h1.0v1.0h-1.0zM185.2 81.9h1.0v1.0h-1.0zM184.7 83.9h1.0v1.0h-1.0zM183.8 87.4h1.0v1.0h-1.0zM191.1 74.0h1.0v1.0h-1.0zM201.7 67.6h1.0v1.0h-1.0zM204.8 71.2h1.0v1.0h-1.0zM187.5 77.8h1.0v1.0h-1.0zM202.2 66.7h1.0v1.0h-1.0zM215.4 64.5h1.0v1.0h-1.0zM196.0 69.5h1.0v1.0h-1.0zM187.2 78.9h1.0v1.0h-1.0zM216.1 61.5h1.0v1.0h-1.0zM197.8 68.6h1.0v1.0h-1.0zM215.6 65.3h1.0v1.0h-1.0zM207.6 68.0h1.0v1.0h-1.0zM184.7 82.7h1.0v1.0h-1.0zM182.5 95.9h1.0v1.0h-1.0zM183.0 88.7h1.0v1.0h-1.0zM184.6 89.6h1.0v1.0h-1.0zM206.5 65.3h1.0v1.0h-1.0zM215.6 61.8h1.0v1.0h-1.0zM184.0 85.3h1.0v1.0h-1.0zM207.2 64.3h1.0v1.0h-1.0zM206.4 66.6h1.0v1.0h-1.0zM206.9 65.3h1.0v1.0h-1.0zM182.6 93.5h1.0v1.0h-1.0zM203.4 67.7h1.0v1.0h-1.0zM205.3 65.4h1.0v1.0h-1.0zM187.1 78.1h1.0v1.0h-1.0zM209.4 66.9h1.0v1.0h-1.0zM184.2 87.0h1.0v1.0h-1.0zM182.5 95.4h1.0v1.0h-1.0zM186.6 82.4h1.0v1.0h-1.0zM203.2 69.1h1.0v1.0h-1.0zM185.1 81.0h1.0v1.0h-1.0zM199.8 70.9h1.0v1.0h-1.0zM211.8 63.9h1.0v1.0h-1.0zM194.9 73.3h1.0v1.0h-1.0zM213.2 65.2h1.0v1.0h-1.0zM194.8 74.6h1.0v1.0h-1.0zM193.8 71.2h1.0v1.0h-1.0zM196.0 71.0h1.0v1.0h-1.0zM188.7 76.8h1.0v1.0h-1.0zM185.7 80.6h1.0v1.0h-1.0zM204.5 71.5h1.0v1.0h-1.0zM192.6 77.5h1.0v1.0h-1.0zM183.7 86.7h1.0v1.0h-1.0zM204.4 69.6h1.0v1.0h-1.0zM190.3 74.3h1.0v1.0h-1.0zM215.1 64.2h1.0v1.0h-1.0zM200.3 68.4h1.0v1.0h-1.0zM183.5 87.6h1.0v1.0h-1.0zM190.9 79.8h1.0v1.0h-1.0zM200.8 71.1h1.0v1.0h-1.0zM196.9 72.9h1.0v1.0h-1.0zM197.3 71.3h1.0v1.0h-1.0zM185.0 81.6h1.0v1.0h-1.0zM202.6 69.8h1.0v1.0h-1.0zM200.9 67.7h1.0v1.0h-1.0zM193.7 75.4h1.0v1.0h-1.0zM199.8 74.5h1.0v1.0h-1.0zM183.1 91.2h1.0v1.0h-1.0zM195.5 70.0h1.0v1.0h-1.0zM191.4 76.2h1.0v1.0h-1.0zM210.3 63.3h1.0v1.0h-1.0zM194.6 75.2h1.0v1.0h-1.0zM183.6 91.5h1.0v1.0h-1.0zM213.9 63.1h1.0v1.0h-1.0zM185.4 80.7h1.0v1.0h-1.0zM185.6 81.2h1.0v1.0h-1.0zM202.7 74.1h1.0v1.0h-1.0zM196.4 78.1h1.0v1.0h-1.0zM191.6 75.9h1.0v1.0h-1.0zM182.4 95.4h1.0v1.0h-1.0zM207.4 64.3h1.0v1.0h-1.0zM187.7 78.9h1.0v1.0h-1.0zM195.2 70.2h1.0v1.0h-1.0zM183.5 88.6h1.0v1.0h-1.0zM190.9 73.6h1.0v1.0h-1.0zM193.4 72.7h1.0v1.0h-1.0zM217.1 60.8h1.0v1.0h-1.0zM184.8 82.1h1.0v1.0h-1.0zM196.2 78.8h1.0v1.0h-1.0zM205.9 64.8h1.0v1.0h-1.0zM195.7 71.0h1.0v1.0h-1.0zM215.9 64.7h1.0v1.0h-1.0zM198.3 69.0h1.0v1.0h-1.0zM192.0 74.7h1.0v1.0h-1.0zM190.0 76.4h1.0v1.0h-1.0zM183.1 88.3h1.0v1.0h-1.0zM216.5 62.4h1.0v1.0h-1.0zM194.4 74.7h1.0v1.0h-1.0zM207.6 67.8h1.0v1.0h-1.0zM190.1 77.5h1.0v1.0h-1.0zM185.2 83.6h1.0v1.0h-1.0zM182.4 96.1h1.0v1.0h-1.0zM184.7 83.4h1.0v1.0h-1.0zM204.1 65.4h1.0v1.0h-1.0zM210.7 63.2h1.0v1.0h-1.0zM214.5 70.4h1.0v1.0h-1.0zM198.7 73.3h1.0v1.0h-1.0zM214.0 63.6h1.0v1.0h-1.0zM209.7 63.3h1.0v1.0h-1.0zM206.1 67.5h1.0v1.0h-1.0zM205.9 64.9h1.0v1.0h-1.0zM183.1 89.9h1.0v1.0h-1.0zM198.4 71.5h1.0v1.0h-1.0zM184.7 84.4h1.0v1.0h-1.0zM215.5 62.1h1.0v1.0h-1.0zM207.9 73.3h1.0v1.0h-1.0zM201.2 68.4h1.0v1.0h-1.0zM191.3 74.8h1.0v1.0h-1.0zM183.7 84.8h1.0v1.0h-1.0zM187.1 78.0h1.0v1.0h-1.0zM211.9 63.8h1.0v1.0h-1.0zM210.7 65.3h1.0v1.0h-1.0zM211.8 69.2h1.0v1.0h-1.0zM202.9 67.7h1.0v1.0h-1.0zM186.2 81.1h1.0v1.0h-1.0zM188.0 81.4h1.0v1.0h-1.0zM182.6 96.2h1.0v1.0h-1.0zM188.8 76.8h1.0v1.0h-1.0zM195.8 81.5h1.0v1.0h-1.0zM216.8 62.1h1.0v1.0h-1.0zM214.9 70.7h1.0v1.0h-1.0zM195.2 72.5h1.0v1.0h-1.0zM185.1 85.5h1.0v1.0h-1.0zM193.7 75.4h1.0v1.0h-1.0zM213.0 65.0h1.0v1.0h-1.0zM202.1 68.6h1.0v1.0h-1.0zM183.8 86.1h1.0v1.0h-1.0zM182.8 91.4h1.0v1.0h-1.0zM216.1 62.4h1.0v1.0h-1.0zM183.9 85.8h1.0v1.0h-1.0zM182.8 93.9h1.0v1.0h-1.0zM185.8 79.8h1.0v1.0h-1.0zM199.6 75.1h1.0v1.0h-1.0zM197.4 70.5h1.0v1.0h-1.0zM191.4 72.9h1.0v1.0h-1.0zM189.2 76.9h1.0v1.0h-1.0zM188.7 90.4h1.0v1.0h-1.0zM188.9 80.6h1.0v1.0h-1.0zM207.5 68.6h1.0v1.0h-1.0zM193.9 73.0h1.0v1.0h-1.0zM209.1 63.8h1.0v1.0h-1.0zM185.8 79.3h1.0v1.0h-1.0zM193.9 72.8h1.0v1.0h-1.0zM214.8 69.4h1.0v1.0h-1.0zM190.9 75.3h1.0v1.0h-1.0zM183.4 89.6h1.0v1.0h-1.0zM194.9 70.8h1.0v1.0h-1.0zM210.7 63.0h1.0v1.0h-1.0zM185.0 83.1h1.0v1.0h-1.0zM217.0 61.1h1.0v1.0h-1.0zM186.8 82.5h1.0v1.0h-1.0zM188.7 83.1h1.0v1.0h-1.0zM182.4 96.1h1.0v1.0h-1.0zM188.0 81.9h1.0v1.0h-1.0zM183.3 88.9h1.0v1.0h-1.0zM211.2 73.5h1.0v1.0h-1.0zM207.3 64.2h1.0v1.0h-1.0zM193.6 72.0h1.0v1.0h-1.0zM183.6 85.6h1.0v1.0h-1.0zM203.9 67.9h1.0v1.0h-1.0zM183.8 85.3h1.0v1.0h-1.0zM204.8 66.8h1.0v1.0h-1.0zM215.1 72.7h1.0v1.0h-1.0zM185.3 81.2h1.0v1.0h-1.0zM185.0 84.1h1.0v1.0h-1.0zM197.9 70.5h1.0v1.0h-1.0zM205.7 66.7h1.0v1.0h-1.0zM188.1 79.4h1.0v1.0h-1.0zM214.5 61.8h1.0v1.0h-1.0zM193.7 71.6h1.0v1.0h-1.0zM204.5 66.8h1.0v1.0h-1.0zM208.9 66.8h1.0v1.0h-1.0zM215.0 64.0h1.0v1.0h-1.0zM197.9 79.1h1.0v1.0h-1.0zM207.1 65.3h1.0v1.0h-1.0zM183.3 93.0h1.0v1.0h-1.0zM213.6 65.1h1.0v1.0h-1.0zM214.4 64.4h1.0v1.0h-1.0zM204.4 67.8h1.0v1.0h-1.0zM185.7 79.6h1.0v1.0h-1.0zM204.3 67.0h1.0v1.0h-1.0zM183.7 87.0h1.0v1.0h-1.0zM186.8 78.8h1.0v1.0h-1.0zM210.7 65.7h1.0v1.0h-1.0zM204.5 70.1h1.0v1.0h-1.0zM192.0 74.3h1.0v1.0h-1.0zM191.8 73.9h1.0v1.0h-1.0zM206.0 70.8h1.0v1.0h-1.0zM187.6 80.4h1.0v1.0h-1.0zM185.5 79.8h1.0v1.0h-1.0zM201.7 70.9h1.0v1.0h-1.0zM188.6 91.1h1.0v1.0h-1.0zM203.2 66.9h1.0v1.0h-1.0zM205.1 70.3h1.0v1.0h-1.0zM184.0 91.0h1.0v1.0h-1.0zM191.9 73.5h1.0v1.0h-1.0zM190.0 76.2h1.0v1.0h-1.0zM195.2 71.0h1.0v1.0h-1.0zM182.8 94.0h1.0v1.0h-1.0zM203.1 69.3h1.0v1.0h-1.0zM190.6 79.3h1.0v1.0h-1.0zM182.4 95.8h1.0v1.0h-1.0zM195.1 70.9h1.0v1.0h-1.0zM195.2 70.1h1.0v1.0h-1.0zM211.2 63.0h1.0v1.0h-1.0zM200.4 69.2h1.0v1.0h-1.0zM195.7 75.1h1.0v1.0h-1.0zM199.8 75.7h1.0v1.0h-1.0zM201.6 73.8h1.0v1.0h-1.0zM183.6 90.1h1.0v1.0h-1.0zM188.3 83.4h1.0v1.0h-1.0zM206.6 74.2h1.0v1.0h-1.0zM204.9 66.4h1.0v1.0h-1.0zM195.1 74.6h1.0v1.0h-1.0zM182.7 93.7h1.0v1.0h-1.0zM196.8 72.6h1.0v1.0h-1.0zM188.9 77.8h1.0v1.0h-1.0zM204.0 66.8h1.0v1.0h-1.0zM201.6 73.4h1.0v1.0h-1.0zM189.8 76.4h1.0v1.0h-1.0zM193.6 76.6h1.0v1.0h-1.0zM186.9 78.7h1.0v1.0h-1.0zM190.5 76.7h1.0v1.0h-1.0zM184.2 94.5h1.0v1.0h-1.0zM194.3 74.6h1.0v1.0h-1.0zM191.1 73.2h1.0v1.0h-1.0zM190.3 76.3h1.0v1.0h-1.0zM197.6 70.3h1.0v1.0h-1.0zM182.5 95.4h1.0v1.0h-1.0zM188.8 78.3h1.0v1.0h-1.0zM184.6 84.1h1.0v1.0h-1.0zM186.9 80.2h1.0v1.0h-1.0zM201.8 68.6h1.0v1.0h-1.0zM204.6 67.9h1.0v1.0h-1.0zM183.1 90.9h1.0v1.0h-1.0zM193.6 75.4h1.0v1.0h-1.0zM213.8 63.2h1.0v1.0h-1.0zM209.4 64.1h1.0v1.0h-1.0zM200.2 67.2h1.0v1.0h-1.0zM208.2 65.5h1.0v1.0h-1.0zM192.6 74.0h1.0v1.0h-1.0zM189.8 74.9h1.0v1.0h-1.0zM202.0 69.2h1.0v1.0h-1.0zM182.7 92.7h1.0v1.0h-1.0zM213.5 63.0h1.0v1.0h-1.0zM187.5 79.5h1.0v1.0h-1.0zM189.9 82.8h1.0v1.0h-1.0zM216.2 61.4h1.0v1.0h-1.0zM185.8 79.8h1.0v1.0h-1.0zM192.2 73.3h1.0v1.0h-1.0zM201.2 73.1h1.0v1.0h-1.0zM182.9 89.6h1.0v1.0h-1.0zM183.5 86.3h1.0v1.0h-1.0zM183.9 85.9h1.0v1.0h-1.0zM189.6 78.1h1.0v1.0h-1.0zM215.4 72.5h1.0v1.0h-1.0zM191.4 75.9h1.0v1.0h-1.0zM183.8 87.0h1.0v1.0h-1.0zM211.1 69.1h1.0v1.0h-1.0zM184.0 84.4h1.0v1.0h-1.0zM212.0 66.0h1.0v1.0h-1.0zM205.2 65.0h1.0v1.0h-1.0zM198.9 67.9h1.0v1.0h-1.0zM204.0 70.0h1.0v1.0h-1.0zM188.3 75.9h1.0v1.0h-1.0zM203.8 84.3h1.0v1.0h-1.0zM198.9 69.2h1.0v1.0h-1.0zM188.5 80.5h1.0v1.0h-1.0zM215.5 62.6h1.0v1.0h-1.0zM185.7 96.1h1.0v1.0h-1.0zM191.6 74.4h1.0v1.0h-1.0zM188.0 80.1h1.0v1.0h-1.0zM216.2 62.9h1.0v1.0h-1.0zM209.6 64.7h1.0v1.0h-1.0zM191.5 77.6h1.0v1.0h-1.0zM215.6 65.4h1.0v1.0h-1.0zM202.6 71.2h1.0v1.0h-1.0zM212.9 71.2h1.0v1.0h-1.0zM195.4 71.3h1.0v1.0h-1.0zM189.3 74.5h1.0v1.0h-1.0zM216.8 61.8h1.0v1.0h-1.0zM213.6 62.0h1.0v1.0h-1.0zM189.5 78.9h1.0v1.0h-1.0zM201.2 70.0h1.0v1.0h-1.0zM193.8 71.4h1.0v1.0h-1.0zM208.5 67.8h1.0v1.0h-1.0zM193.4 73.8h1.0v1.0h-1.0zM207.2 66.1h1.0v1.0h-1.0zM193.3 73.4h1.0v1.0h-1.0zM204.0 69.3h1.0v1.0h-1.0zM188.7 79.8h1.0v1.0h-1.0zM189.9 77.3h1.0v1.0h-1.0zM190.0 80.7h1.0v1.0h-1.0zM214.0 66.3h1.0v1.0h-1.0zM190.1 75.2h1.0v1.0h-1.0zM191.8 75.3h1.0v1.0h-1.0zM182.5 96.4h1.0v1.0h-1.0zM213.4 62.2h1.0v1.0h-1.0zM211.5 65.1h1.0v1.0h-1.0zM217.0 64.4h1.0v1.0h-1.0zM203.2 69.9h1.0v1.0h-1.0zM191.4 73.3h1.0v1.0h-1.0zM209.6 69.4h1.0v1.0h-1.0zM203.3 66.4h1.0v1.0h-1.0zM194.2 72.9h1.0v1.0h-1.0zM189.6 76.3h1.0v1.0h-1.0zM192.7 83.5h1.0v1.0h-1.0zM199.2 78.7h1.0v1.0h-1.0zM212.3 62.9h1.0v1.0h-1.0zM205.6 66.0h1.0v1.0h-1.0zM198.0 70.7h1.0v1.0h-1.0zM204.2 66.3h1.0v1.0h-1.0zM201.4 68.0h1.0v1.0h-1.0zM206.1 66.4h1.0v1.0h-1.0zM199.9 84.0h1.0v1.0h-1.0zM187.2 77.4h1.0v1.0h-1.0zM211.7 64.8h1.0v1.0h-1.0zM200.0 72.5h1.0v1.0h-1.0zM211.4 64.1h1.0v1.0h-1.0zM216.5 62.3h1.0v1.0h-1.0zM203.6 70.8h1.0v1.0h-1.0zM189.5 75.9h1.0v1.0h-1.0zM189.7 75.5h1.0v1.0h-1.0zM191.1 78.7h1.0v1.0h-1.0zM206.5 66.7h1.0v1.0h-1.0zM199.9 68.4h1.0v1.0h-1.0zM205.3 70.8h1.0v1.0h-1.0zM190.1 75.9h1.0v1.0h-1.0zM185.6 80.5h1.0v1.0h-1.0zM209.5 66.3h1.0v1.0h-1.0zM192.3 75.2h1.0v1.0h-1.0zM184.9 81.6h1.0v1.0h-1.0zM189.4 77.0h1.0v1.0h-1.0zM184.9 83.9h1.0v1.0h-1.0zM188.4 76.6h1.0v1.0h-1.0zM204.2 66.6h1.0v1.0h-1.0zM204.3 69.3h1.0v1.0h-1.0zM189.9 74.1h1.0v1.0h-1.0zM209.0 65.8h1.0v1.0h-1.0zM197.3 72.0h1.0v1.0h-1.0zM196.1 76.4h1.0v1.0h-1.0zM198.8 69.4h1.0v1.0h-1.0zM212.3 69.0h1.0v1.0h-1.0zM198.0 68.3h1.0v1.0h-1.0zM199.1 69.3h1.0v1.0h-1.0zM197.0 74.0h1.0v1.0h-1.0zM183.8 89.8h1.0v1.0h-1.0zM188.0 77.1h1.0v1.0h-1.0zM182.5 94.1h1.0v1.0h-1.0zM186.8 80.0h1.0v1.0h-1.0zM214.0 62.4h1.0v1.0h-1.0zM187.4 78.4h1.0v1.0h-1.0zM199.8 68.7h1.0v1.0h-1.0zM201.0 67.3h1.0v1.0h-1.0zM182.6 95.6h1.0v1.0h-1.0zM203.4 66.1h1.0v1.0h-1.0zM182.6 95.8h1.0v1.0h-1.0zM201.9 66.9h1.0v1.0h-1.0zM191.0 73.4h1.0v1.0h-1.0zM183.1 88.3h1.0v1.0h-1.0zM210.8 70.0h1.0v1.0h-1.0zM204.8 68.0h1.0v1.0h-1.0zM197.5 70.6h1.0v1.0h-1.0zM200.4 69.1h1.0v1.0h-1.0zM190.7 78.8h1.0v1.0h-1.0zM187.7 78.2h1.0v1.0h-1.0zM201.4 76.4h1.0v1.0h-1.0zM189.0 76.6h1.0v1.0h-1.0zM190.8 74.1h1.0v1.0h-1.0zM189.3 79.1h1.0v1.0h-1.0zM184.9 83.3h1.0v1.0h-1.0zM187.3 79.8h1.0v1.0h-1.0zM205.7 64.9h1.0v1.0h-1.0zM193.7 71.8h1.0v1.0h-1.0zM200.0 70.6h1.0v1.0h-1.0zM185.7 80.2h1.0v1.0h-1.0zM187.8 77.7h1.0v1.0h-1.0zM211.5 68.7h1.0v1.0h-1.0zM206.6 65.7h1.0v1.0h-1.0zM192.7 72.6h1.0v1.0h-1.0zM192.8 80.7h1.0v1.0h-1.0zM183.2 88.0h1.0v1.0h-1.0zM185.1 86.5h1.0v1.0h-1.0zM187.7 78.6h1.0v1.0h-1.0zM182.7 95.6h1.0v1.0h-1.0zM194.7 75.1h1.0v1.0h-1.0zM203.3 69.7h1.0v1.0h-1.0zM186.7 78.8h1.0v1.0h-1.0zM198.0 68.4h1.0v1.0h-1.0zM213.8 65.6h1.0v1.0h-1.0zM194.0 72.3h1.0v1.0h-1.0zM183.0 91.0h1.0v1.0h-1.0zM205.7 64.9h1.0v1.0h-1.0zM183.3 89.1h1.0v1.0h-1.0zM193.1 76.2h1.0v1.0h-1.0zM191.1 85.0h1.0v1.0h-1.0zM210.5 64.1h1.0v1.0h-1.0zM195.6 72.3h1.0v1.0h-1.0zM192.4 77.1h1.0v1.0h-1.0zM202.6 71.1h1.0v1.0h-1.0zM186.4 80.4h1.0v1.0h-1.0zM195.9 72.1h1.0v1.0h-1.0zM192.4 72.7h1.0v1.0h-1.0zM209.6 65.6h1.0v1.0h-1.0zM204.2 69.2h1.0v1.0h-1.0zM199.0 75.0h1.0v1.0h-1.0zM182.7 92.8h1.0v1.0h-1.0zM184.4 85.7h1.0v1.0h-1.0zM185.6 79.6h1.0v1.0h-1.0zM183.9 84.6h1.0v1.0h-1.0zM195.7 71.4h1.0v1.0h-1.0zM192.9 71.8h1.0v1.0h-1.0zM195.3 70.8h1.0v1.0h-1.0zM183.2 86.6h1.0v1.0h-1.0zM184.2 84.9h1.0v1.0h-1.0zM184.5 84.4h1.0v1.0h-1.0zM184.4 86.6h1.0v1.0h-1.0zM210.7 64.1h1.0v1.0h-1.0zM183.1 90.7h1.0v1.0h-1.0zM204.9 66.8h1.0v1.0h-1.0zM211.5 63.1h1.0v1.0h-1.0zM203.3 72.7h1.0v1.0h-1.0zM211.8 68.1h1.0v1.0h-1.0zM192.0 74.6h1.0v1.0h-1.0zM209.3 64.7h1.0v1.0h-1.0zM186.5 78.3h1.0v1.0h-1.0zM185.3 80.9h1.0v1.0h-1.0zM213.4 63.1h1.0v1.0h-1.0zM189.2 85.5h1.0v1.0h-1.0zM202.0 68.0h1.0v1.0h-1.0zM183.4 86.8h1.0v1.0h-1.0zM187.5 85.7h1.0v1.0h-1.0zM191.4 83.5h1.0v1.0h-1.0zM186.9 77.9h1.0v1.0h-1.0zM211.9 62.7h1.0v1.0h-1.0zM206.4 67.0h1.0v1.0h-1.0zM187.3 82.5h1.0v1.0h-1.0zM191.7 84.8h1.0v1.0h-1.0zM196.4 77.6h1.0v1.0h-1.0zM213.5 63.4h1.0v1.0h-1.0zM202.0 70.2h1.0v1.0h-1.0zM200.4 67.2h1.0v1.0h-1.0zM201.8 70.6h1.0v1.0h-1.0zM185.0 81.4h1.0v1.0h-1.0zM182.8 92.4h1.0v1.0h-1.0zM183.4 91.0h1.0v1.0h-1.0zM191.2 89.0h1.0v1.0h-1.0zM203.9 67.1h1.0v1.0h-1.0zM184.8 83.3h1.0v1.0h-1.0zM198.4 73.9h1.0v1.0h-1.0zM211.5 63.8h1.0v1.0h-1.0zM201.8 69.5h1.0v1.0h-1.0zM207.1 69.0h1.0v1.0h-1.0zM199.2 72.8h1.0v1.0h-1.0zM183.7 93.2h1.0v1.0h-1.0zM200.9 67.2h1.0v1.0h-1.0zM184.5 85.5h1.0v1.0h-1.0zM187.9 84.6h1.0v1.0h-1.0zM187.1 79.4h1.0v1.0h-1.0zM194.3 79.0h1.0v1.0h-1.0zM187.8 83.1h1.0v1.0h-1.0zM203.4 68.1h1.0v1.0h-1.0zM214.3 68.1h1.0v1.0h-1.0zM204.6 67.4h1.0v1.0h-1.0zM182.6 93.8h1.0v1.0h-1.0zM200.2 67.6h1.0v1.0h-1.0zM199.9 68.6h1.0v1.0h-1.0zM190.3 78.8h1.0v1.0h-1.0zM208.9 67.5h1.0v1.0h-1.0zM192.3 74.5h1.0v1.0h-1.0zM216.4 68.6h1.0v1.0h-1.0zM198.4 68.3h1.0v1.0h-1.0zM212.0 62.6h1.0v1.0h-1.0zM183.6 88.1h1.0v1.0h-1.0zM185.1 85.1h1.0v1.0h-1.0zM201.8 67.0h1.0v1.0h-1.0zM212.3 81.1h1.0v1.0h-1.0zM200.5 78.9h1.0v1.0h-1.0zM207.0 66.0h1.0v1.0h-1.0zM208.1 71.9h1.0v1.0h-1.0zM202.2 66.5h1.0v1.0h-1.0zM189.9 77.7h1.0v1.0h-1.0zM189.6 74.8h1.0v1.0h-1.0zM192.6 72.4h1.0v1.0h-1.0zM193.3 71.8h1.0v1.0h-1.0zM203.6 66.3h1.0v1.0h-1.0zM213.8 62.2h1.0v1.0h-1.0zM199.4 70.6h1.0v1.0h-1.0zM185.2 83.7h1.0v1.0h-1.0zM196.1 72.2h1.0v1.0h-1.0zM184.9 83.5h1.0v1.0h-1.0zM208.7 66.4h1.0v1.0h-1.0zM186.2 79.8h1.0v1.0h-1.0zM210.9 63.0h1.0v1.0h-1.0zM193.4 73.5h1.0v1.0h-1.0zM191.7 72.7h1.0v1.0h-1.0zM183.4 90.8h1.0v1.0h-1.0zM192.6 73.0h1.0v1.0h-1.0zM192.5 72.3h1.0v1.0h-1.0zM183.0 93.3h1.0v1.0h-1.0zM205.1 65.5h1.0v1.0h-1.0zM188.2 76.3h1.0v1.0h-1.0zM188.2 78.2h1.0v1.0h-1.0zM204.7 67.1h1.0v1.0h-1.0zM209.3 82.0h1.0v1.0h-1.0zM196.8 69.0h1.0v1.0h-1.0zM183.9 87.5h1.0v1.0h-1.0zM183.8 91.1h1.0v1.0h-1.0zM182.7 92.0h1.0v1.0h-1.0zM216.9 62.2h1.0v1.0h-1.0zM196.3 71.9h1.0v1.0h-1.0zM183.6 86.1h1.0v1.0h-1.0zM189.7 78.1h1.0v1.0h-1.0zM206.1 67.9h1.0v1.0h-1.0zM184.8 83.6h1.0v1.0h-1.0zM212.7 62.8h1.0v1.0h-1.0zM189.1 77.6h1.0v1.0h-1.0zM216.9 60.8h1.0v1.0h-1.0zM202.0 68.2h1.0v1.0h-1.0zM195.3 75.4h1.0v1.0h-1.0zM183.2 88.5h1.0v1.0h-1.0zM188.2 80.2h1.0v1.0h-1.0zM203.0 67.4h1.0v1.0h-1.0zM184.2 87.6h1.0v1.0h-1.0zM202.4 68.6h1.0v1.0h-1.0zM204.4 73.9h1.0v1.0h-1.0zM186.2 82.0h1.0v1.0h-1.0zM207.3 64.9h1.0v1.0h-1.0zM212.1 63.6h1.0v1.0h-1.0zM214.8 64.1h1.0v1.0h-1.0zM215.7 67.6h1.0v1.0h-1.0zM206.1 65.7h1.0v1.0h-1.0zM192.7 74.5h1.0v1.0h-1.0zM207.2 65.6h1.0v1.0h-1.0zM211.9 63.2h1.0v1.0h-1.0zM195.0 70.7h1.0v1.0h-1.0zM184.6 83.4h1.0v1.0h-1.0zM182.6 95.1h1.0v1.0h-1.0zM198.9 69.3h1.0v1.0h-1.0zM206.9 66.5h1.0v1.0h-1.0zM201.6 66.8h1.0v1.0h-1.0zM188.6 75.6h1.0v1.0h-1.0zM184.3 88.5h1.0v1.0h-1.0zM183.9 86.8h1.0v1.0h-1.0zM190.0 77.3h1.0v1.0h-1.0zM210.5 68.2h1.0v1.0h-1.0zM215.3 71.3h1.0v1.0h-1.0zM190.7 86.5h1.0v1.0h-1.0zM205.2 65.7h1.0v1.0h-1.0zM188.5 77.8h1.0v1.0h-1.0zM209.2 63.7h1.0v1.0h-1.0zM211.5 65.9h1.0v1.0h-1.0zM197.8 69.9h1.0v1.0h-1.0zM190.1 75.4h1.0v1.0h-1.0zM203.1 67.5h1.0v1.0h-1.0zM203.0 72.0h1.0v1.0h-1.0zM183.1 87.2h1.0v1.0h-1.0zM214.0 62.4h1.0v1.0h-1.0zM207.6 65.4h1.0v1.0h-1.0zM185.8 79.3h1.0v1.0h-1.0zM191.7 75.4h1.0v1.0h-1.0zM182.7 91.9h1.0v1.0h-1.0zM187.4 83.4h1.0v1.0h-1.0zM204.6 65.9h1.0v1.0h-1.0zM190.8 74.9h1.0v1.0h-1.0zM202.7 67.0h1.0v1.0h-1.0zM189.3 76.6h1.0v1.0h-1.0zM186.1 80.5h1.0v1.0h-1.0zM204.5 67.2h1.0v1.0h-1.0zM182.7 92.9h1.0v1.0h-1.0zM196.9 69.6h1.0v1.0h-1.0zM190.3 76.1h1.0v1.0h-1.0zM189.6 74.9h1.0v1.0h-1.0zM210.6 63.1h1.0v1.0h-1.0zM212.2 62.7h1.0v1.0h-1.0zM196.3 71.5h1.0v1.0h-1.0zM191.0 76.1h1.0v1.0h-1.0zM211.1 63.9h1.0v1.0h-1.0zM182.8 91.8h1.0v1.0h-1.0zM210.8 65.5h1.0v1.0h-1.0zM204.8 66.4h1.0v1.0h-1.0zM188.4 79.2h1.0v1.0h-1.0zM196.8 76.0h1.0v1.0h-1.0zM184.4 84.1h1.0v1.0h-1.0zM202.0 73.3h1.0v1.0h-1.0zM193.0 76.3h1.0v1.0h-1.0zM183.4 88.3h1.0v1.0h-1.0zM188.5 79.1h1.0v1.0h-1.0zM187.6 77.4h1.0v1.0h-1.0zM186.9 81.6h1.0v1.0h-1.0zM202.9 73.1h1.0v1.0h-1.0zM191.2 73.3h1.0v1.0h-1.0zM207.4 64.8h1.0v1.0h-1.0zM203.2 67.7h1.0v1.0h-1.0zM192.2 72.4h1.0v1.0h-1.0zM185.8 83.2h1.0v1.0h-1.0zM192.8 78.2h1.0v1.0h-1.0zM207.3 66.2h1.0v1.0h-1.0zM216.2 61.0h1.0v1.0h-1.0zM190.8 75.7h1.0v1.0h-1.0zM184.1 86.0h1.0v1.0h-1.0zM186.9 79.1h1.0v1.0h-1.0zM193.0 72.7h1.0v1.0h-1.0zM184.6 85.6h1.0v1.0h-1.0zM199.2 67.9h1.0v1.0h-1.0zM215.7 61.5h1.0v1.0h-1.0zM185.7 80.3h1.0v1.0h-1.0zM189.6 76.3h1.0v1.0h-1.0zM212.1 62.8h1.0v1.0h-1.0zM197.1 71.6h1.0v1.0h-1.0zM186.6 79.5h1.0v1.0h-1.0zM192.2 78.7h1.0v1.0h-1.0zM205.9 66.4h1.0v1.0h-1.0zM182.9 91.2h1.0v1.0h-1.0zM207.8 65.5h1.0v1.0h-1.0zM190.4 76.7h1.0v1.0h-1.0zM182.6 96.5h1.0v1.0h-1.0zM201.7 66.8h1.0v1.0h-1.0zM191.3 78.7h1.0v1.0h-1.0zM186.7 80.2h1.0v1.0h-1.0zM189.0 77.3h1.0v1.0h-1.0zM190.4 74.9h1.0v1.0h-1.0zM213.2 65.6h1.0v1.0h-1.0zM217.1 61.8h1.0v1.0h-1.0zM193.0 73.0h1.0v1.0h-1.0zM210.2 64.4h1.0v1.0h-1.0zM201.5 67.2h1.0v1.0h-1.0zM195.8 70.5h1.0v1.0h-1.0zM212.6 63.6h1.0v1.0h-1.0zM214.6 64.1h1.0v1.0h-1.0zM188.9 77.5h1.0v1.0h-1.0zM213.5 65.5h1.0v1.0h-1.0zM208.1 66.2h1.0v1.0h-1.0zM198.9 68.3h1.0v1.0h-1.0zM208.5 66.6h1.0v1.0h-1.0zM200.1 68.3h1.0v1.0h-1.0zM205.2 67.0h1.0v1.0h-1.0zM188.3 90.1h1.0v1.0h-1.0zM205.7 67.9h1.0v1.0h-1.0zM208.9 67.0h1.0v1.0h-1.0zM190.2 83.0h1.0v1.0h-1.0zM212.2 65.7h1.0v1.0h-1.0zM191.9 74.6h1.0v1.0h-1.0zM208.5 66.3h1.0v1.0h-1.0zM193.0 76.5h1.0v1.0h-1.0zM182.4 96.7h1.0v1.0h-1.0zM186.4 81.2h1.0v1.0h-1.0zM189.3 77.3h1.0v1.0h-1.0zM211.8 64.1h1.0v1.0h-1.0zM183.5 85.1h1.0v1.0h-1.0zM208.7 65.4h1.0v1.0h-1.0zM192.1 72.5h1.0v1.0h-1.0zM183.3 85.5h1.0v1.0h-1.0zM211.7 62.7h1.0v1.0h-1.0zM188.3 77.7h1.0v1.0h-1.0zM197.0 69.5h1.0v1.0h-1.0zM200.0 70.3h1.0v1.0h-1.0zM216.3 61.2h1.0v1.0h-1.0zM187.6 77.1h1.0v1.0h-1.0zM187.4 77.8h1.0v1.0h-1.0zM187.0 81.6h1.0v1.0h-1.0zM207.6 68.6h1.0v1.0h-1.0zM182.4 97.5h1.0v1.0h-1.0zM209.5 66.2h1.0v1.0h-1.0zM198.3 69.8h1.0v1.0h-1.0zM208.1 66.0h1.0v1.0h-1.0zM189.2 76.7h1.0v1.0h-1.0zM193.2 72.2h1.0v1.0h-1.0zM201.2 72.0h1.0v1.0h-1.0zM200.3 67.2h1.0v1.0h-1.0zM190.9 77.6h1.0v1.0h-1.0zM183.8 86.4h1.0v1.0h-1.0zM201.6 68.8h1.0v1.0h-1.0zM188.6 75.6h1.0v1.0h-1.0zM202.5 66.6h1.0v1.0h-1.0zM198.2 70.4h1.0v1.0h-1.0zM203.4 66.0h1.0v1.0h-1.0zM215.8 65.2h1.0v1.0h-1.0zM210.5 63.6h1.0v1.0h-1.0zM203.3 67.1h1.0v1.0h-1.0zM202.4 69.7h1.0v1.0h-1.0zM191.0 81.9h1.0v1.0h-1.0zM192.0 74.3h1.0v1.0h-1.0zM203.0 66.3h1.0v1.0h-1.0zM211.7 63.8h1.0v1.0h-1.0zM211.3 63.2h1.0v1.0h-1.0zM183.7 87.3h1.0v1.0h-1.0zM186.1 80.4h1.0v1.0h-1.0zM185.2 84.5h1.0v1.0h-1.0zM204.0 68.7h1.0v1.0h-1.0zM183.9 84.3h1.0v1.0h-1.0zM197.4 68.8h1.0v1.0h-1.0zM203.1 68.1h1.0v1.0h-1.0zM213.6 67.0h1.0v1.0h-1.0zM200.4 72.3h1.0v1.0h-1.0zM194.5 71.6h1.0v1.0h-1.0zM182.8 94.5h1.0v1.0h-1.0zM200.9 69.8h1.0v1.0h-1.0zM194.7 72.2h1.0v1.0h-1.0zM212.9 63.6h1.0v1.0h-1.0zM184.0 92.8h1.0v1.0h-1.0zM205.2 71.5h1.0v1.0h-1.0zM216.4 62.6h1.0v1.0h-1.0zM184.3 85.1h1.0v1.0h-1.0zM193.9 72.5h1.0v1.0h-1.0zM206.3 65.2h1.0v1.0h-1.0zM215.6 62.0h1.0v1.0h-1.0zM187.3 82.5h1.0v1.0h-1.0zM186.0 82.7h1.0v1.0h-1.0zM187.0 79.2h1.0v1.0h-1.0zM193.1 72.5h1.0v1.0h-1.0zM208.1 72.1h1.0v1.0h-1.0zM213.2 62.6h1.0v1.0h-1.0zM182.4 96.5h1.0v1.0h-1.0zM204.2 67.6h1.0v1.0h-1.0zM215.1 74.4h1.0v1.0h-1.0zM201.6 67.4h1.0v1.0h-1.0zM190.8 73.6h1.0v1.0h-1.0zM190.5 77.7h1.0v1.0h-1.0zM188.2 76.7h1.0v1.0h-1.0zM195.7 76.3h1.0v1.0h-1.0zM200.0 67.6h1.0v1.0h-1.0zM191.8 73.4h1.0v1.0h-1.0zM207.5 65.5h1.0v1.0h-1.0zM192.2 78.5h1.0v1.0h-1.0zM187.6 78.5h1.0v1.0h-1.0zM216.1 62.1h1.0v1.0h-1.0zM195.7 72.7h1.0v1.0h-1.0zM188.7 78.3h1.0v1.0h-1.0zM191.4 78.1h1.0v1.0h-1.0zM196.4 73.0h1.0v1.0h-1.0zM197.0 72.3h1.0v1.0h-1.0zM190.4 74.1h1.0v1.0h-1.0zM189.6 75.5h1.0v1.0h-1.0zM195.1 72.0h1.0v1.0h-1.0zM202.6 66.3h1.0v1.0h-1.0zM183.7 88.3h1.0v1.0h-1.0zM194.5 80.6h1.0v1.0h-1.0zM209.9 64.7h1.0v1.0h-1.0zM189.0 76.7h1.0v1.0h-1.0zM205.5 66.4h1.0v1.0h-1.0zM203.3 79.6h1.0v1.0h-1.0zM204.6 67.2h1.0v1.0h-1.0zM204.3 67.2h1.0v1.0h-1.0zM197.3 70.2h1.0v1.0h-1.0zM213.7 74.7h1.0v1.0h-1.0zM196.8 71.3h1.0v1.0h-1.0zM183.3 88.0h1.0v1.0h-1.0zM213.4 62.8h1.0v1.0h-1.0zM205.8 65.4h1.0v1.0h-1.0zM203.0 66.8h1.0v1.0h-1.0zM197.9 72.7h1.0v1.0h-1.0zM195.1 70.9h1.0v1.0h-1.0zM187.9 78.8h1.0v1.0h-1.0zM204.2 65.8h1.0v1.0h-1.0zM182.9 90.5h1.0v1.0h-1.0zM199.5 69.0h1.0v1.0h-1.0zM205.2 68.6h1.0v1.0h-1.0zM189.7 76.8h1.0v1.0h-1.0zM184.1 86.4h1.0v1.0h-1.0zM200.1 68.1h1.0v1.0h-1.0zM200.9 67.3h1.0v1.0h-1.0zM215.7 63.6h1.0v1.0h-1.0zM213.0 65.4h1.0v1.0h-1.0zM185.5 83.7h1.0v1.0h-1.0zM198.7 69.3h1.0v1.0h-1.0zM202.0 70.5h1.0v1.0h-1.0zM201.5 67.3h1.0v1.0h-1.0zM215.3 68.4h1.0v1.0h-1.0zM191.9 80.3h1.0v1.0h-1.0zM216.8 62.0h1.0v1.0h-1.0zM185.0 82.1h1.0v1.0h-1.0zM193.8 71.5h1.0v1.0h-1.0zM186.1 82.7h1.0v1.0h-1.0zM191.0 76.9h1.0v1.0h-1.0zM186.6 80.0h1.0v1.0h-1.0zM185.5 80.0h1.0v1.0h-1.0zM210.1 64.4h1.0v1.0h-1.0zM187.6 84.9h1.0v1.0h-1.0zM189.8 76.4h1.0v1.0h-1.0zM184.0 85.4h1.0v1.0h-1.0zM210.7 68.0h1.0v1.0h-1.0zM207.8 71.1h1.0v1.0h-1.0zM185.9 79.2h1.0v1.0h-1.0zM183.8 87.5h1.0v1.0h-1.0zM195.9 70.8h1.0v1.0h-1.0zM202.9 66.6h1.0v1.0h-1.0zM198.4 69.7h1.0v1.0h-1.0zM184.0 88.3h1.0v1.0h-1.0zM184.8 86.4h1.0v1.0h-1.0zM205.1 66.5h1.0v1.0h-1.0zM192.5 72.7h1.0v1.0h-1.0zM184.0 87.4h1.0v1.0h-1.0zM189.8 76.6h1.0v1.0h-1.0zM189.7 75.1h1.0v1.0h-1.0zM184.4 87.0h1.0v1.0h-1.0zM191.8 73.1h1.0v1.0h-1.0zM210.6 63.4h1.0v1.0h-1.0zM185.9 79.6h1.0v1.0h-1.0zM196.5 73.5h1.0v1.0h-1.0zM202.5 71.3h1.0v1.0h-1.0zM191.5 74.6h1.0v1.0h-1.0zM183.2 86.9h1.0v1.0h-1.0zM210.4 64.0h1.0v1.0h-1.0zM212.0 67.8h1.0v1.0h-1.0zM213.0 62.6h1.0v1.0h-1.0zM191.5 78.1h1.0v1.0h-1.0zM188.0 77.1h1.0v1.0h-1.0zM182.4 97.4h1.0v1.0h-1.0zM196.1 70.0h1.0v1.0h-1.0zM186.6 81.1h1.0v1.0h-1.0zM184.6 86.8h1.0v1.0h-1.0zM210.5 64.6h1.0v1.0h-1.0zM183.8 86.9h1.0v1.0h-1.0zM187.6 77.2h1.0v1.0h-1.0zM202.8 68.4h1.0v1.0h-1.0zM186.9 78.5h1.0v1.0h-1.0zM203.4 72.9h1.0v1.0h-1.0zM189.2 77.3h1.0v1.0h-1.0zM185.7 81.3h1.0v1.0h-1.0zM197.3 69.7h1.0v1.0h-1.0zM198.3 70.4h1.0v1.0h-1.0zM182.6 93.5h1.0v1.0h-1.0zM191.2 73.5h1.0v1.0h-1.0zM196.0 72.1h1.0v1.0h-1.0zM199.1 74.1h1.0v1.0h-1.0zM198.4 72.4h1.0v1.0h-1.0zM183.5 91.1h1.0v1.0h-1.0zM213.4 64.6h1.0v1.0h-1.0zM208.3 66.0h1.0v1.0h-1.0zM191.9 73.1h1.0v1.0h-1.0zM193.5 75.0h1.0v1.0h-1.0zM206.7 70.8h1.0v1.0h-1.0zM194.9 78.8h1.0v1.0h-1.0zM189.8 74.2h1.0v1.0h-1.0zM191.6 75.1h1.0v1.0h-1.0zM205.7 65.3h1.0v1.0h-1.0zM185.0 86.8h1.0v1.0h-1.0zM196.7 69.3h1.0v1.0h-1.0zM195.0 74.5h1.0v1.0h-1.0zM185.7 88.5h1.0v1.0h-1.0zM182.7 92.0h1.0v1.0h-1.0zM197.9 71.7h1.0v1.0h-1.0zM198.2 75.7h1.0v1.0h-1.0zM185.2 80.8h1.0v1.0h-1.0zM195.6 71.0h1.0v1.0h-1.0zM190.6 75.0h1.0v1.0h-1.0zM211.0 63.8h1.0v1.0h-1.0zM202.0 68.8h1.0v1.0h-1.0zM187.3 84.4h1.0v1.0h-1.0zM186.5 79.3h1.0v1.0h-1.0zM185.0 84.7h1.0v1.0h-1.0zM202.1 67.6h1.0v1.0h-1.0zM183.6 87.6h1.0v1.0h-1.0zM188.8 77.6h1.0v1.0h-1.0zM200.4 67.1h1.0v1.0h-1.0zM210.3 63.3h1.0v1.0h-1.0zM185.7 81.0h1.0v1.0h-1.0zM208.6 64.7h1.0v1.0h-1.0zM214.8 61.8h1.0v1.0h-1.0zM212.2 62.6h1.0v1.0h-1.0zM198.2 78.7h1.0v1.0h-1.0zM203.3 72.9h1.0v1.0h-1.0zM189.2 83.8h1.0v1.0h-1.0zM212.1 63.4h1.0v1.0h-1.0zM205.6 71.9h1.0v1.0h-1.0zM185.5 81.4h1.0v1.0h-1.0zM205.6 67.1h1.0v1.0h-1.0zM212.8 63.9h1.0v1.0h-1.0zM192.4 72.7h1.0v1.0h-1.0zM187.0 83.7h1.0v1.0h-1.0zM186.7 84.7h1.0v1.0h-1.0zM207.1 66.5h1.0v1.0h-1.0zM187.8 76.6h1.0v1.0h-1.0zM183.6 90.1h1.0v1.0h-1.0zM214.9 71.2h1.0v1.0h-1.0zM187.2 85.5h1.0v1.0h-1.0zM192.1 73.8h1.0v1.0h-1.0zM212.4 67.4h1.0v1.0h-1.0zM201.4 67.6h1.0v1.0h-1.0zM183.4 86.0h1.0v1.0h-1.0zM186.7 78.6h1.0v1.0h-1.0zM196.9 69.9h1.0v1.0h-1.0zM185.5 86.0h1.0v1.0h-1.0zM189.7 74.2h1.0v1.0h-1.0zM182.5 96.9h1.0v1.0h-1.0zM182.4 96.7h1.0v1.0h-1.0zM198.9 70.1h1.0v1.0h-1.0zM185.6 85.1h1.0v1.0h-1.0zM215.7 66.2h1.0v1.0h-1.0zM213.6 72.5h1.0v1.0h-1.0zM189.7 76.5h1.0v1.0h-1.0zM191.2 77.6h1.0v1.0h-1.0zM184.5 83.3h1.0v1.0h-1.0zM192.5 74.4h1.0v1.0h-1.0zM216.7 62.0h1.0v1.0h-1.0zM182.3 97.5h1.0v1.0h-1.0zM210.7 63.2h1.0v1.0h-1.0zM194.9 72.9h1.0v1.0h-1.0zM208.9 64.7h1.0v1.0h-1.0zM198.4 77.0h1.0v1.0h-1.0zM215.7 63.7h1.0v1.0h-1.0zM188.8 78.3h1.0v1.0h-1.0zM203.7 68.8h1.0v1.0h-1.0zM201.3 68.1h1.0v1.0h-1.0zM203.1 67.1h1.0v1.0h-1.0zM185.9 79.3h1.0v1.0h-1.0zM196.2 69.8h1.0v1.0h-1.0zM187.2 78.4h1.0v1.0h-1.0zM189.8 75.7h1.0v1.0h-1.0zM215.8 63.4h1.0v1.0h-1.0zM196.1 70.9h1.0v1.0h-1.0zM196.0 74.4h1.0v1.0h-1.0zM195.1 72.3h1.0v1.0h-1.0zM189.2 75.3h1.0v1.0h-1.0zM185.5 80.2h1.0v1.0h-1.0zM187.3 77.4h1.0v1.0h-1.0zM191.2 75.5h1.0v1.0h-1.0zM183.5 89.2h1.0v1.0h-1.0zM192.5 75.0h1.0v1.0h-1.0zM191.7 77.3h1.0v1.0h-1.0zM201.5 67.0h1.0v1.0h-1.0zM196.1 70.3h1.0v1.0h-1.0zM204.5 66.5h1.0v1.0h-1.0zM185.7 79.4h1.0v1.0h-1.0zM216.4 61.3h1.0v1.0h-1.0zM186.4 86.2h1.0v1.0h-1.0zM182.7 93.8h1.0v1.0h-1.0zM191.8 76.0h1.0v1.0h-1.0zM206.1 75.2h1.0v1.0h-1.0zM188.2 76.2h1.0v1.0h-1.0zM185.5 79.8h1.0v1.0h-1.0zM186.9 80.6h1.0v1.0h-1.0zM211.6 62.9h1.0v1.0h-1.0zM186.8 84.3h1.0v1.0h-1.0zM197.6 70.0h1.0v1.0h-1.0zM182.9 89.6h1.0v1.0h-1.0zM185.6 82.5h1.0v1.0h-1.0zM182.7 93.4h1.0v1.0h-1.0zM207.8 63.8h1.0v1.0h-1.0zM187.4 78.7h1.0v1.0h-1.0zM198.5 71.9h1.0v1.0h-1.0zM201.4 68.3h1.0v1.0h-1.0zM188.8 78.1h1.0v1.0h-1.0zM192.8 79.7h1.0v1.0h-1.0zM195.3 72.5h1.0v1.0h-1.0zM200.9 68.8h1.0v1.0h-1.0zM193.9 74.2h1.0v1.0h-1.0zM198.1 87.5h1.0v1.0h-1.0zM187.9 78.5h1.0v1.0h-1.0zM215.8 66.1h1.0v1.0h-1.0zM196.3 70.3h1.0v1.0h-1.0zM184.7 83.5h1.0v1.0h-1.0zM191.6 74.4h1.0v1.0h-1.0zM186.5 80.1h1.0v1.0h-1.0zM197.0 69.1h1.0v1.0h-1.0zM200.6 70.7h1.0v1.0h-1.0zM185.1 81.8h1.0v1.0h-1.0zM182.5 95.5h1.0v1.0h-1.0zM201.3 68.2h1.0v1.0h-1.0zM197.6 71.2h1.0v1.0h-1.0zM182.6 93.2h1.0v1.0h-1.0zM194.5 78.2h1.0v1.0h-1.0zM202.6 67.8h1.0v1.0h-1.0zM186.6 78.5h1.0v1.0h-1.0zM200.0 71.5h1.0v1.0h-1.0zM190.5 73.9h1.0v1.0h-1.0zM187.1 81.1h1.0v1.0h-1.0zM205.6 66.1h1.0v1.0h-1.0zM211.3 64.2h1.0v1.0h-1.0zM182.4 95.6h1.0v1.0h-1.0zM211.4 66.3h1.0v1.0h-1.0zM183.1 88.2h1.0v1.0h-1.0zM190.6 75.5h1.0v1.0h-1.0zM195.4 70.8h1.0v1.0h-1.0zM182.5 96.8h1.0v1.0h-1.0zM213.6 65.7h1.0v1.0h-1.0zM209.8 69.3h1.0v1.0h-1.0zM200.8 67.1h1.0v1.0h-1.0zM188.0 78.8h1.0v1.0h-1.0zM191.3 73.7h1.0v1.0h-1.0zM182.8 96.0h1.0v1.0h-1.0zM200.9 67.9h1.0v1.0h-1.0zM193.1 77.7h1.0v1.0h-1.0zM184.0 86.6h1.0v1.0h-1.0zM186.0 85.9h1.0v1.0h-1.0zM207.0 72.8h1.0v1.0h-1.0zM190.2 75.9h1.0v1.0h-1.0zM188.3 77.1h1.0v1.0h-1.0zM214.7 71.9h1.0v1.0h-1.0zM216.8 67.8h1.0v1.0h-1.0zM193.8 74.3h1.0v1.0h-1.0zM212.3 64.0h1.0v1.0h-1.0zM212.9 66.9h1.0v1.0h-1.0zM187.3 78.6h1.0v1.0h-1.0zM201.9 66.9h1.0v1.0h-1.0zM186.5 78.9h1.0v1.0h-1.0zM183.4 92.4h1.0v1.0h-1.0zM217.0 65.7h1.0v1.0h-1.0zM194.4 74.7h1.0v1.0h-1.0zM201.8 68.1h1.0v1.0h-1.0zM195.0 70.6h1.0v1.0h-1.0zM186.2 79.9h1.0v1.0h-1.0zM189.4 77.6h1.0v1.0h-1.0zM186.2 79.5h1.0v1.0h-1.0zM210.6 67.4h1.0v1.0h-1.0zM213.6 66.4h1.0v1.0h-1.0zM185.1 83.0h1.0v1.0h-1.0zM208.6 68.4h1.0v1.0h-1.0zM185.8 81.1h1.0v1.0h-1.0zM197.7 68.5h1.0v1.0h-1.0zM186.2 82.6h1.0v1.0h-1.0zM200.9 68.6h1.0v1.0h-1.0zM196.9 71.0h1.0v1.0h-1.0zM189.0 75.2h1.0v1.0h-1.0zM204.3 69.6h1.0v1.0h-1.0zM191.9 76.9h1.0v1.0h-1.0zM208.3 67.1h1.0v1.0h-1.0zM207.4 74.0h1.0v1.0h-1.0zM192.5 76.5h1.0v1.0h-1.0zM204.0 65.6h1.0v1.0h-1.0zM197.6 68.8h1.0v1.0h-1.0zM203.8 66.7h1.0v1.0h-1.0zM190.0 74.9h1.0v1.0h-1.0zM207.4 67.0h1.0v1.0h-1.0zM187.7 80.7h1.0v1.0h-1.0zM184.9 86.3h1.0v1.0h-1.0zM198.3 72.4h1.0v1.0h-1.0zM198.8 80.4h1.0v1.0h-1.0zM202.1 68.1h1.0v1.0h-1.0zM197.7 70.9h1.0v1.0h-1.0zM187.3 78.3h1.0v1.0h-1.0zM206.9 69.1h1.0v1.0h-1.0zM215.3 64.8h1.0v1.0h-1.0zM194.4 72.1h1.0v1.0h-1.0zM202.6 69.1h1.0v1.0h-1.0zM214.1 65.8h1.0v1.0h-1.0zM190.2 74.8h1.0v1.0h-1.0zM182.6 97.4h1.0v1.0h-1.0zM191.7 74.2h1.0v1.0h-1.0zM182.7 94.0h1.0v1.0h-1.0zM211.8 63.5h1.0v1.0h-1.0zM204.3 69.4h1.0v1.0h-1.0zM200.6 69.7h1.0v1.0h-1.0zM186.4 81.7h1.0v1.0h-1.0zM197.5 78.6h1.0v1.0h-1.0zM194.8 71.6h1.0v1.0h-1.0zM212.2 65.3h1.0v1.0h-1.0zM188.9 78.2h1.0v1.0h-1.0zM184.2 83.9h1.0v1.0h-1.0zM211.1 64.6h1.0v1.0h-1.0zM207.1 64.8h1.0v1.0h-1.0zM193.2 72.4h1.0v1.0h-1.0zM207.1 66.8h1.0v1.0h-1.0zM190.5 75.0h1.0v1.0h-1.0zM185.4 80.8h1.0v1.0h-1.0zM201.9 67.5h1.0v1.0h-1.0zM183.4 86.9h1.0v1.0h-1.0zM192.5 85.1h1.0v1.0h-1.0zM190.3 75.3h1.0v1.0h-1.0zM215.7 65.0h1.0v1.0h-1.0zM192.7 73.4h1.0v1.0h-1.0zM185.8 79.7h1.0v1.0h-1.0zM193.2 74.6h1.0v1.0h-1.0zM183.4 87.3h1.0v1.0h-1.0zM184.6 84.9h1.0v1.0h-1.0zM189.0 78.2h1.0v1.0h-1.0zM206.2 65.9h1.0v1.0h-1.0zM190.2 74.1h1.0v1.0h-1.0zM185.5 82.9h1.0v1.0h-1.0zM207.3 64.4h1.0v1.0h-1.0zM215.9 68.4h1.0v1.0h-1.0zM189.6 76.5h1.0v1.0h-1.0zM201.2 67.9h1.0v1.0h-1.0zM189.7 78.0h1.0v1.0h-1.0zM193.6 72.9h1.0v1.0h-1.0zM196.6 69.3h1.0v1.0h-1.0zM193.1 72.6h1.0v1.0h-1.0zM184.5 84.7h1.0v1.0h-1.0zM202.5 68.3h1.0v1.0h-1.0zM194.2 74.1h1.0v1.0h-1.0zM191.4 84.7h1.0v1.0h-1.0zM185.5 79.9h1.0v1.0h-1.0zM196.8 72.3h1.0v1.0h-1.0zM190.2 75.4h1.0v1.0h-1.0zM188.9 75.9h1.0v1.0h-1.0zM206.6 70.1h1.0v1.0h-1.0zM187.1 79.9h1.0v1.0h-1.0zM192.8 72.3h1.0v1.0h-1.0zM203.9 67.7h1.0v1.0h-1.0zM216.7 67.9h1.0v1.0h-1.0zM212.1 63.3h1.0v1.0h-1.0zM183.4 90.2h1.0v1.0h-1.0zM183.4 88.7h1.0v1.0h-1.0zM184.7 85.7h1.0v1.0h-1.0zM182.7 92.2h1.0v1.0h-1.0zM210.3 65.2h1.0v1.0h-1.0zM192.4 82.7h1.0v1.0h-1.0zM206.2 65.1h1.0v1.0h-1.0zM202.6 67.5h1.0v1.0h-1.0zM192.9 72.9h1.0v1.0h-1.0zM185.8 80.2h1.0v1.0h-1.0zM187.0 78.3h1.0v1.0h-1.0zM210.6 64.3h1.0v1.0h-1.0zM196.5 73.9h1.0v1.0h-1.0zM201.4 67.1h1.0v1.0h-1.0zM214.6 69.5h1.0v1.0h-1.0zM208.9 64.7h1.0v1.0h-1.0zM208.4 66.7h1.0v1.0h-1.0zM182.5 95.7h1.0v1.0h-1.0zM202.3 68.5h1.0v1.0h-1.0zM214.4 66.3h1.0v1.0h-1.0zM208.7 75.1h1.0v1.0h-1.0zM188.9 82.1h1.0v1.0h-1.0zM183.1 89.1h1.0v1.0h-1.0zM192.1 72.6h1.0v1.0h-1.0zM199.6 72.0h1.0v1.0h-1.0zM185.7 80.1h1.0v1.0h-1.0zM205.6 66.8h1.0v1.0h-1.0zM182.4 96.4h1.0v1.0h-1.0zM214.2 62.7h1.0v1.0h-1.0zM187.4 78.8h1.0v1.0h-1.0zM211.2 67.6h1.0v1.0h-1.0zM190.2 77.0h1.0v1.0h-1.0zM182.4 94.8h1.0v1.0h-1.0zM189.8 77.1h1.0v1.0h-1.0zM184.0 84.0h1.0v1.0h-1.0zM209.6 63.9h1.0v1.0h-1.0zM182.2 92.3h1.0v1.0h-1.0zM182.3 93.2h1.0v1.0h-1.0zM191.3 87.5h1.0v1.0h-1.0zM184.2 89.5h1.0v1.0h-1.0zM185.0 89.5h1.0v1.0h-1.0zM182.4 95.1h1.0v1.0h-1.0zM182.1 97.1h1.0v1.0h-1.0zM183.2 91.5h1.0v1.0h-1.0zM183.0 91.7h1.0v1.0h-1.0zM183.9 91.8h1.0v1.0h-1.0zM199.3 91.9h1.0v1.0h-1.0zM209.6 76.1h1.0v1.0h-1.0zM190.4 80.2h1.0v1.0h-1.0zM184.3 89.4h1.0v1.0h-1.0zM209.6 64.2h1.0v1.0h-1.0zM197.9 75.5h1.0v1.0h-1.0zM192.0 77.3h1.0v1.0h-1.0zM196.6 80.9h1.0v1.0h-1.0zM184.6 87.9h1.0v1.0h-1.0zM182.1 92.3h1.0v1.0h-1.0zM205.8 65.9h1.0v1.0h-1.0zM186.3 90.1h1.0v1.0h-1.0zM182.2 97.2h1.0v1.0h-1.0zM183.2 97.1h1.0v1.0h-1.0zM187.2 87.8h1.0v1.0h-1.0zM192.2 73.5h1.0v1.0h-1.0zM189.1 90.7h1.0v1.0h-1.0zM199.8 88.0h1.0v1.0h-1.0zM195.1 72.2h1.0v1.0h-1.0zM186.6 86.5h1.0v1.0h-1.0zM182.2 96.0h1.0v1.0h-1.0zM182.4 94.8h1.0v1.0h-1.0zM183.9 85.4h1.0v1.0h-1.0zM208.4 82.4h1.0v1.0h-1.0zM197.2 84.2h1.0v1.0h-1.0zM190.9 93.8h1.0v1.0h-1.0zM182.2 93.7h1.0v1.0h-1.0zM183.3 91.9h1.0v1.0h-1.0zM186.2 95.8h1.0v1.0h-1.0zM183.5 87.6h1.0v1.0h-1.0zM206.4 86.4h1.0v1.0h-1.0zM187.0 83.4h1.0v1.0h-1.0zM197.3 71.3h1.0v1.0h-1.0zM196.8 73.4h1.0v1.0h-1.0zM200.6 68.2h1.0v1.0h-1.0zM206.2 92.0h1.0v1.0h-1.0zM182.1 92.6h1.0v1.0h-1.0zM206.2 90.3h1.0v1.0h-1.0zM184.3 94.1h1.0v1.0h-1.0zM191.4 77.2h1.0v1.0h-1.0zM195.4 79.1h1.0v1.0h-1.0zM182.6 96.6h1.0v1.0h-1.0zM196.6 73.9h1.0v1.0h-1.0zM187.0 90.0h1.0v1.0h-1.0zM185.8 82.6h1.0v1.0h-1.0zM189.7 96.2h1.0v1.0h-1.0zM182.3 93.0h1.0v1.0h-1.0zM188.4 97.2h1.0v1.0h-1.0zM210.7 63.0h1.0v1.0h-1.0zM193.6 73.5h1.0v1.0h-1.0zM183.2 87.1h1.0v1.0h-1.0zM188.9 97.5h1.0v1.0h-1.0zM209.1 73.2h1.0v1.0h-1.0zM205.3 85.4h1.0v1.0h-1.0zM182.3 96.9h1.0v1.0h-1.0zM184.0 97.3h1.0v1.0h-1.0zM182.5 96.9h1.0v1.0h-1.0zM189.3 84.7h1.0v1.0h-1.0zM182.9 92.5h1.0v1.0h-1.0zM198.4 82.3h1.0v1.0h-1.0zM210.0 78.9h1.0v1.0h-1.0zM205.6 67.2h1.0v1.0h-1.0zM197.4 83.9h1.0v1.0h-1.0zM204.5 73.4h1.0v1.0h-1.0zM187.9 92.8h1.0v1.0h-1.0zM183.8 88.2h1.0v1.0h-1.0zM202.6 84.4h1.0v1.0h-1.0zM188.6 75.6h1.0v1.0h-1.0zM198.6 77.8h1.0v1.0h-1.0zM183.6 88.8h1.0v1.0h-1.0zM182.6 96.5h1.0v1.0h-1.0zM200.2 96.3h1.0v1.0h-1.0zM194.8 73.1h1.0v1.0h-1.0zM186.9 97.5h1.0v1.0h-1.0zM182.1 93.5h1.0v1.0h-1.0zM182.7 92.7h1.0v1.0h-1.0zM184.1 91.3h1.0v1.0h-1.0zM182.2 96.7h1.0v1.0h-1.0zM187.1 79.8h1.0v1.0h-1.0zM182.4 94.5h1.0v1.0h-1.0zM185.3 87.7h1.0v1.0h-1.0zM182.4 93.6h1.0v1.0h-1.0zM189.1 75.9h1.0v1.0h-1.0zM188.9 93.2h1.0v1.0h-1.0zM191.7 74.6h1.0v1.0h-1.0zM193.2 72.7h1.0v1.0h-1.0zM182.6 92.1h1.0v1.0h-1.0zM189.8 76.8h1.0v1.0h-1.0zM184.1 84.5h1.0v1.0h-1.0zM205.1 67.7h1.0v1.0h-1.0zM194.8 91.2h1.0v1.0h-1.0zM187.5 87.4h1.0v1.0h-1.0zM185.0 94.0h1.0v1.0h-1.0zM195.3 71.1h1.0v1.0h-1.0zM196.0 71.8h1.0v1.0h-1.0zM188.4 78.4h1.0v1.0h-1.0zM188.5 88.6h1.0v1.0h-1.0zM197.3 75.8h1.0v1.0h-1.0zM182.2 94.1h1.0v1.0h-1.0zM206.2 80.2h1.0v1.0h-1.0zM192.8 90.3h1.0v1.0h-1.0zM193.4 96.0h1.0v1.0h-1.0zM208.5 86.9h1.0v1.0h-1.0zM200.6 69.6h1.0v1.0h-1.0zM183.9 92.9h1.0v1.0h-1.0zM191.4 93.4h1.0v1.0h-1.0zM199.1 75.3h1.0v1.0h-1.0zM182.8 94.6h1.0v1.0h-1.0zM182.4 94.4h1.0v1.0h-1.0zM184.1 88.1h1.0v1.0h-1.0zM194.0 86.0h1.0v1.0h-1.0zM192.7 72.7h1.0v1.0h-1.0zM205.1 86.0h1.0v1.0h-1.0zM205.8 82.4h1.0v1.0h-1.0zM193.7 94.0h1.0v1.0h-1.0zM197.8 84.9h1.0v1.0h-1.0zM182.2 92.1h1.0v1.0h-1.0zM196.6 92.3h1.0v1.0h-1.0zM186.1 81.5h1.0v1.0h-1.0zM187.3 93.7h1.0v1.0h-1.0zM198.2 70.5h1.0v1.0h-1.0zM183.1 88.3h1.0v1.0h-1.0zM197.8 73.6h1.0v1.0h-1.0zM204.8 75.7h1.0v1.0h-1.0zM183.0 91.1h1.0v1.0h-1.0zM182.6 96.8h1.0v1.0h-1.0zM182.1 93.9h1.0v1.0h-1.0zM185.9 79.4h1.0v1.0h-1.0zM183.4 97.5h1.0v1.0h-1.0zM203.2 76.5h1.0v1.0h-1.0zM204.0 94.0h1.0v1.0h-1.0zM203.2 87.1h1.0v1.0h-1.0zM191.0 83.8h1.0v1.0h-1.0zM196.5 84.2h1.0v1.0h-1.0zM209.6 67.3h1.0v1.0h-1.0zM205.3 87.9h1.0v1.0h-1.0zM187.4 93.8h1.0v1.0h-1.0zM184.2 87.7h1.0v1.0h-1.0zM191.3 96.7h1.0v1.0h-1.0zM183.6 95.2h1.0v1.0h-1.0zM194.2 95.0h1.0v1.0h-1.0zM184.4 91.6h1.0v1.0h-1.0zM204.8 93.0h1.0v1.0h-1.0zM195.8 92.1h1.0v1.0h-1.0zM193.3 83.9h1.0v1.0h-1.0zM183.0 92.2h1.0v1.0h-1.0zM209.8 95.3h1.0v1.0h-1.0zM182.2 93.3h1.0v1.0h-1.0zM183.6 95.2h1.0v1.0h-1.0zM182.9 95.2h1.0v1.0h-1.0zM183.1 90.1h1.0v1.0h-1.0zM209.5 65.8h1.0v1.0h-1.0zM191.4 77.8h1.0v1.0h-1.0zM198.3 69.1h1.0v1.0h-1.0zM194.9 75.3h1.0v1.0h-1.0zM208.6 72.1h1.0v1.0h-1.0zM194.6 70.8h1.0v1.0h-1.0zM207.6 83.0h1.0v1.0h-1.0zM206.2 87.3h1.0v1.0h-1.0zM182.2 95.9h1.0v1.0h-1.0zM186.0 81.5h1.0v1.0h-1.0zM204.9 84.5h1.0v1.0h-1.0zM185.3 81.0h1.0v1.0h-1.0zM193.9 71.8h1.0v1.0h-1.0zM183.6 85.2h1.0v1.0h-1.0zM182.9 95.3h1.0v1.0h-1.0zM184.0 97.4h1.0v1.0h-1.0zM184.1 94.2h1.0v1.0h-1.0zM197.4 85.3h1.0v1.0h-1.0zM192.2 74.5h1.0v1.0h-1.0zM201.7 94.6h1.0v1.0h-1.0zM189.8 77.0h1.0v1.0h-1.0zM182.3 93.1h1.0v1.0h-1.0zM209.5 71.5h1.0v1.0h-1.0zM184.1 89.8h1.0v1.0h-1.0zM182.2 96.2h1.0v1.0h-1.0zM199.3 74.5h1.0v1.0h-1.0zM182.1 96.9h1.0v1.0h-1.0zM200.8 88.9h1.0v1.0h-1.0zM183.2 97.0h1.0v1.0h-1.0zM193.5 71.6h1.0v1.0h-1.0zM210.0 85.1h1.0v1.0h-1.0zM183.0 96.4h1.0v1.0h-1.0zM192.0 86.8h1.0v1.0h-1.0zM182.1 92.9h1.0v1.0h-1.0zM199.9 67.5h1.0v1.0h-1.0zM183.1 88.1h1.0v1.0h-1.0zM191.5 74.9h1.0v1.0h-1.0zM199.6 78.7h1.0v1.0h-1.0zM199.5 94.4h1.0v1.0h-1.0zM209.5 67.7h1.0v1.0h-1.0zM185.6 93.1h1.0v1.0h-1.0zM185.0 96.4h1.0v1.0h-1.0zM185.1 90.3h1.0v1.0h-1.0zM183.8 93.2h1.0v1.0h-1.0zM184.2 88.2h1.0v1.0h-1.0zM196.8 91.6h1.0v1.0h-1.0zM182.6 92.7h1.0v1.0h-1.0zM183.2 94.3h1.0v1.0h-1.0zM194.8 88.3h1.0v1.0h-1.0zM200.7 72.0h1.0v1.0h-1.0zM188.8 75.2h1.0v1.0h-1.0zM185.4 89.4h1.0v1.0h-1.0zM183.9 94.3h1.0v1.0h-1.0zM183.3 90.0h1.0v1.0h-1.0zM195.2 74.2h1.0v1.0h-1.0zM194.4 79.2h1.0v1.0h-1.0zM182.2 92.4h1.0v1.0h-1.0zM194.0 91.9h1.0v1.0h-1.0zM195.0 93.0h1.0v1.0h-1.0zM194.5 90.4h1.0v1.0h-1.0zM202.2 82.7h1.0v1.0h-1.0zM189.8 76.5h1.0v1.0h-1.0zM183.5 85.6h1.0v1.0h-1.0zM182.4 93.8h1.0v1.0h-1.0zM184.3 90.1h1.0v1.0h-1.0zM201.7 72.5h1.0v1.0h-1.0zM205.1 91.0h1.0v1.0h-1.0zM183.0 92.9h1.0v1.0h-1.0zM183.1 87.6h1.0v1.0h-1.0zM183.3 87.2h1.0v1.0h-1.0zM182.1 92.1h1.0v1.0h-1.0zM200.7 92.6h1.0v1.0h-1.0zM203.5 66.8h1.0v1.0h-1.0zM182.1 96.7h1.0v1.0h-1.0zM185.8 84.0h1.0v1.0h-1.0zM195.9 82.2h1.0v1.0h-1.0zM184.9 82.9h1.0v1.0h-1.0zM182.4 95.7h1.0v1.0h-1.0zM205.7 65.1h1.0v1.0h-1.0zM183.4 90.9h1.0v1.0h-1.0zM183.9 89.6h1.0v1.0h-1.0zM189.0 79.3h1.0v1.0h-1.0zM182.5 93.9h1.0v1.0h-1.0zM200.8 69.5h1.0v1.0h-1.0zM190.0 92.2h1.0v1.0h-1.0zM191.1 79.7h1.0v1.0h-1.0zM207.0 88.7h1.0v1.0h-1.0zM211.0 70.5h1.0v1.0h-1.0zM188.5 83.8h1.0v1.0h-1.0zM202.3 83.5h1.0v1.0h-1.0zM190.4 84.1h1.0v1.0h-1.0zM204.9 73.8h1.0v1.0h-1.0zM182.5 92.7h1.0v1.0h-1.0zM183.6 85.5h1.0v1.0h-1.0zM209.8 79.7h1.0v1.0h-1.0zM200.2 78.5h1.0v1.0h-1.0zM189.5 78.0h1.0v1.0h-1.0zM204.9 76.0h1.0v1.0h-1.0zM186.5 91.6h1.0v1.0h-1.0zM203.7 97.5h1.0v1.0h-1.0zM188.4 83.3h1.0v1.0h-1.0zM201.6 77.2h1.0v1.0h-1.0zM183.1 91.0h1.0v1.0h-1.0zM184.5 85.2h1.0v1.0h-1.0zM199.0 75.8h1.0v1.0h-1.0zM193.0 77.6h1.0v1.0h-1.0zM182.4 96.1h1.0v1.0h-1.0zM199.1 87.0h1.0v1.0h-1.0zM192.4 75.0h1.0v1.0h-1.0zM188.9 93.0h1.0v1.0h-1.0zM199.6 83.1h1.0v1.0h-1.0zM193.2 74.4h1.0v1.0h-1.0zM182.2 96.6h1.0v1.0h-1.0zM182.1 93.0h1.0v1.0h-1.0zM186.4 90.7h1.0v1.0h-1.0zM195.7 93.0h1.0v1.0h-1.0zM207.1 70.7h1.0v1.0h-1.0zM183.7 85.6h1.0v1.0h-1.0zM185.0 82.3h1.0v1.0h-1.0zM208.9 80.6h1.0v1.0h-1.0zM188.7 76.0h1.0v1.0h-1.0zM206.1 70.1h1.0v1.0h-1.0zM198.9 71.9h1.0v1.0h-1.0zM184.0 85.0h1.0v1.0h-1.0zM189.9 78.9h1.0v1.0h-1.0zM191.1 89.2h1.0v1.0h-1.0zM183.4 86.3h1.0v1.0h-1.0zM189.3 81.9h1.0v1.0h-1.0zM187.5 82.9h1.0v1.0h-1.0zM182.8 91.2h1.0v1.0h-1.0zM197.0 85.1h1.0v1.0h-1.0zM195.4 85.7h1.0v1.0h-1.0zM189.3 77.6h1.0v1.0h-1.0zM206.2 79.5h1.0v1.0h-1.0zM187.8 80.5h1.0v1.0h-1.0zM185.9 97.2h1.0v1.0h-1.0zM186.5 93.0h1.0v1.0h-1.0zM182.5 95.0h1.0v1.0h-1.0zM184.0 86.0h1.0v1.0h-1.0zM184.5 87.3h1.0v1.0h-1.0zM193.6 79.8h1.0v1.0h-1.0zM203.3 68.8h1.0v1.0h-1.0zM203.0 77.1h1.0v1.0h-1.0zM200.0 76.8h1.0v1.0h-1.0zM183.8 95.9h1.0v1.0h-1.0zM193.4 88.9h1.0v1.0h-1.0zM189.6 89.5h1.0v1.0h-1.0zM208.6 87.0h1.0v1.0h-1.0zM209.3 72.6h1.0v1.0h-1.0zM184.4 95.5h1.0v1.0h-1.0zM202.0 93.3h1.0v1.0h-1.0zM187.2 84.1h1.0v1.0h-1.0zM208.1 68.4h1.0v1.0h-1.0zM182.8 91.4h1.0v1.0h-1.0zM184.5 87.6h1.0v1.0h-1.0zM186.0 86.0h1.0v1.0h-1.0zM182.2 93.5h1.0v1.0h-1.0zM189.1 75.4h1.0v1.0h-1.0zM188.4 95.1h1.0v1.0h-1.0zM194.0 95.8h1.0v1.0h-1.0zM203.3 78.9h1.0v1.0h-1.0zM182.1 92.2h1.0v1.0h-1.0zM191.3 92.9h1.0v1.0h-1.0zM185.0 82.5h1.0v1.0h-1.0zM198.4 81.7h1.0v1.0h-1.0zM188.0 77.9h1.0v1.0h-1.0zM190.5 85.6h1.0v1.0h-1.0zM196.3 94.2h1.0v1.0h-1.0zM182.3 96.5h1.0v1.0h-1.0zM184.8 87.0h1.0v1.0h-1.0zM185.2 93.6h1.0v1.0h-1.0zM187.3 77.9h1.0v1.0h-1.0zM188.2 78.0h1.0v1.0h-1.0zM182.1 92.2h1.0v1.0h-1.0zM185.9 85.9h1.0v1.0h-1.0zM182.1 92.5h1.0v1.0h-1.0zM205.5 80.0h1.0v1.0h-1.0zM210.0 79.2h1.0v1.0h-1.0zM208.5 85.1h1.0v1.0h-1.0zM186.1 79.2h1.0v1.0h-1.0zM182.7 96.2h1.0v1.0h-1.0zM194.3 76.6h1.0v1.0h-1.0zM182.8 94.7h1.0v1.0h-1.0zM207.1 70.0h1.0v1.0h-1.0zM211.0 78.7h1.0v1.0h-1.0zM183.2 87.4h1.0v1.0h-1.0zM196.3 95.1h1.0v1.0h-1.0zM183.2 88.4h1.0v1.0h-1.0zM182.6 92.8h1.0v1.0h-1.0zM183.4 89.5h1.0v1.0h-1.0zM183.6 92.6h1.0v1.0h-1.0zM183.6 87.4h1.0v1.0h-1.0zM186.8 80.0h1.0v1.0h-1.0zM182.2 92.3h1.0v1.0h-1.0zM182.1 95.5h1.0v1.0h-1.0zM182.2 94.3h1.0v1.0h-1.0zM204.8 82.7h1.0v1.0h-1.0zM184.5 87.3h1.0v1.0h-1.0zM187.0 82.4h1.0v1.0h-1.0zM182.2 92.6h1.0v1.0h-1.0zM182.6 92.8h1.0v1.0h-1.0zM185.0 82.2h1.0v1.0h-1.0zM192.6 75.4h1.0v1.0h-1.0zM189.2 89.2h1.0v1.0h-1.0zM188.8 90.6h1.0v1.0h-1.0zM199.4 78.6h1.0v1.0h-1.0zM183.3 86.0h1.0v1.0h-1.0zM195.6 77.7h1.0v1.0h-1.0zM184.3 83.7h1.0v1.0h-1.0zM182.9 96.5h1.0v1.0h-1.0zM188.1 93.6h1.0v1.0h-1.0zM202.5 71.6h1.0v1.0h-1.0zM183.4 95.9h1.0v1.0h-1.0zM183.5 91.7h1.0v1.0h-1.0zM207.4 76.9h1.0v1.0h-1.0zM186.9 96.6h1.0v1.0h-1.0zM203.4 94.7h1.0v1.0h-1.0zM196.2 73.7h1.0v1.0h-1.0zM182.2 92.1h1.0v1.0h-1.0zM206.7 79.8h1.0v1.0h-1.0zM204.5 95.9h1.0v1.0h-1.0zM183.5 97.2h1.0v1.0h-1.0zM184.0 85.3h1.0v1.0h-1.0zM184.0 97.6h1.0v1.0h-1.0zM207.6 73.1h1.0v1.0h-1.0zM188.4 92.9h1.0v1.0h-1.0zM200.5 93.8h1.0v1.0h-1.0zM185.6 82.6h1.0v1.0h-1.0zM189.3 95.7h1.0v1.0h-1.0zM192.5 93.6h1.0v1.0h-1.0zM183.1 91.8h1.0v1.0h-1.0zM206.3 80.8h1.0v1.0h-1.0zM200.0 90.5h1.0v1.0h-1.0zM187.4 90.0h1.0v1.0h-1.0zM195.5 79.7h1.0v1.0h-1.0zM189.5 92.2h1.0v1.0h-1.0zM204.4 97.1h1.0v1.0h-1.0zM185.7 90.6h1.0v1.0h-1.0zM190.4 93.3h1.0v1.0h-1.0zM183.6 89.8h1.0v1.0h-1.0zM183.8 94.5h1.0v1.0h-1.0zM196.3 69.3h1.0v1.0h-1.0zM182.4 92.5h1.0v1.0h-1.0zM191.8 90.8h1.0v1.0h-1.0zM185.2 81.4h1.0v1.0h-1.0zM191.6 86.3h1.0v1.0h-1.0zM187.1 81.4h1.0v1.0h-1.0zM185.3 83.3h1.0v1.0h-1.0zM200.9 76.1h1.0v1.0h-1.0zM196.4 82.6h1.0v1.0h-1.0zM183.4 87.8h1.0v1.0h-1.0zM194.7 93.1h1.0v1.0h-1.0zM206.4 67.5h1.0v1.0h-1.0zM183.8 85.0h1.0v1.0h-1.0zM183.0 91.1h1.0v1.0h-1.0zM196.6 94.7h1.0v1.0h-1.0zM191.7 74.9h1.0v1.0h-1.0zM185.9 80.7h1.0v1.0h-1.0zM184.1 90.6h1.0v1.0h-1.0zM189.0 77.5h1.0v1.0h-1.0zM184.1 95.8h1.0v1.0h-1.0zM193.2 85.4h1.0v1.0h-1.0zM184.8 85.2h1.0v1.0h-1.0zM198.5 68.2h1.0v1.0h-1.0zM194.0 96.2h1.0v1.0h-1.0zM193.3 72.0h1.0v1.0h-1.0zM182.2 96.2h1.0v1.0h-1.0zM183.0 91.7h1.0v1.0h-1.0zM193.9 87.3h1.0v1.0h-1.0zM184.3 92.1h1.0v1.0h-1.0zM206.2 77.3h1.0v1.0h-1.0zM186.3 90.4h1.0v1.0h-1.0zM204.0 85.5h1.0v1.0h-1.0zM206.9 88.7h1.0v1.0h-1.0zM208.6 69.6h1.0v1.0h-1.0zM194.8 74.2h1.0v1.0h-1.0zM182.5 93.5h1.0v1.0h-1.0zM208.0 71.1h1.0v1.0h-1.0zM184.6 96.2h1.0v1.0h-1.0zM210.1 87.5h1.0v1.0h-1.0zM185.4 93.9h1.0v1.0h-1.0zM182.2 92.1h1.0v1.0h-1.0zM182.2 93.5h1.0v1.0h-1.0zM183.6 95.4h1.0v1.0h-1.0zM187.5 93.9h1.0v1.0h-1.0zM188.6 82.0h1.0v1.0h-1.0zM185.1 81.2h1.0v1.0h-1.0zM187.7 96.4h1.0v1.0h-1.0zM209.5 94.7h1.0v1.0h-1.0zM182.4 94.1h1.0v1.0h-1.0zM202.0 69.4h1.0v1.0h-1.0zM182.2 92.8h1.0v1.0h-1.0zM182.3 95.9h1.0v1.0h-1.0zM196.4 97.2h1.0v1.0h-1.0zM182.2 95.6h1.0v1.0h-1.0zM200.0 70.8h1.0v1.0h-1.0zM182.3 97.5h1.0v1.0h-1.0zM199.9 68.4h1.0v1.0h-1.0zM183.0 93.9h1.0v1.0h-1.0zM182.8 92.8h1.0v1.0h-1.0zM182.7 92.3h1.0v1.0h-1.0zM188.5 85.9h1.0v1.0h-1.0zM202.6 66.1h1.0v1.0h-1.0zM185.4 80.8h1.0v1.0h-1.0zM190.5 76.1h1.0v1.0h-1.0zM185.0 97.0h1.0v1.0h-1.0zM193.9 87.1h1.0v1.0h-1.0zM192.3 75.7h1.0v1.0h-1.0zM195.2 96.6h1.0v1.0h-1.0zM182.3 96.5h1.0v1.0h-1.0zM185.2 82.9h1.0v1.0h-1.0zM194.1 92.7h1.0v1.0h-1.0zM182.8 91.5h1.0v1.0h-1.0zM188.9 78.2h1.0v1.0h-1.0zM189.1 97.3h1.0v1.0h-1.0zM182.1 94.0h1.0v1.0h-1.0zM183.1 87.9h1.0v1.0h-1.0zM191.7 96.0h1.0v1.0h-1.0zM188.1 86.5h1.0v1.0h-1.0zM195.8 92.8h1.0v1.0h-1.0zM209.2 72.1h1.0v1.0h-1.0zM182.9 96.8h1.0v1.0h-1.0zM192.2 94.0h1.0v1.0h-1.0zM182.6 96.2h1.0v1.0h-1.0zM182.5 92.5h1.0v1.0h-1.0zM182.5 93.6h1.0v1.0h-1.0zM186.7 89.6h1.0v1.0h-1.0zM207.5 75.7h1.0v1.0h-1.0zM191.3 81.1h1.0v1.0h-1.0zM186.0 82.5h1.0v1.0h-1.0zM182.1 93.1h1.0v1.0h-1.0zM196.8 90.6h1.0v1.0h-1.0zM195.3 79.9h1.0v1.0h-1.0zM186.6 80.5h1.0v1.0h-1.0zM183.6 97.6h1.0v1.0h-1.0zM191.6 80.8h1.0v1.0h-1.0zM189.9 83.8h1.0v1.0h-1.0zM184.3 87.9h1.0v1.0h-1.0zM187.1 95.1h1.0v1.0h-1.0zM204.9 71.8h1.0v1.0h-1.0zM187.7 79.9h1.0v1.0h-1.0zM208.4 66.5h1.0v1.0h-1.0zM188.4 75.9h1.0v1.0h-1.0zM187.8 84.5h1.0v1.0h-1.0zM182.1 92.6h1.0v1.0h-1.0zM188.9 84.0h1.0v1.0h-1.0zM184.5 82.9h1.0v1.0h-1.0zM184.9 85.9h1.0v1.0h-1.0zM182.4 95.0h1.0v1.0h-1.0zM183.3 91.0h1.0v1.0h-1.0zM196.3 69.4h1.0v1.0h-1.0zM188.8 88.0h1.0v1.0h-1.0zM205.1 85.5h1.0v1.0h-1.0zM202.1 85.0h1.0v1.0h-1.0zM183.4 94.9h1.0v1.0h-1.0zM198.3 80.1h1.0v1.0h-1.0zM206.8 64.9h1.0v1.0h-1.0zM205.8 73.6h1.0v1.0h-1.0zM190.2 91.8h1.0v1.0h-1.0zM182.8 93.5h1.0v1.0h-1.0zM182.1 92.1h1.0v1.0h-1.0zM208.6 68.7h1.0v1.0h-1.0zM187.0 79.0h1.0v1.0h-1.0zM207.2 78.4h1.0v1.0h-1.0zM203.0 72.1h1.0v1.0h-1.0zM187.9 80.1h1.0v1.0h-1.0zM191.7 88.9h1.0v1.0h-1.0zM191.2 85.6h1.0v1.0h-1.0zM184.6 96.7h1.0v1.0h-1.0zM182.1 92.6h1.0v1.0h-1.0zM194.6 96.7h1.0v1.0h-1.0zM202.6 71.5h1.0v1.0h-1.0zM207.8 76.5h1.0v1.0h-1.0zM191.1 87.4h1.0v1.0h-1.0zM192.7 93.8h1.0v1.0h-1.0zM205.3 72.5h1.0v1.0h-1.0zM205.0 72.6h1.0v1.0h-1.0zM195.2 72.8h1.0v1.0h-1.0zM193.4 77.2h1.0v1.0h-1.0zM210.8 83.7h1.0v1.0h-1.0zM186.1 96.7h1.0v1.0h-1.0zM182.4 95.9h1.0v1.0h-1.0zM193.8 71.2h1.0v1.0h-1.0zM187.8 78.0h1.0v1.0h-1.0zM211.2 64.7h1.0v1.0h-1.0zM193.3 83.7h1.0v1.0h-1.0zM182.5 97.2h1.0v1.0h-1.0zM191.2 86.5h1.0v1.0h-1.0zM183.9 85.4h1.0v1.0h-1.0zM184.9 81.8h1.0v1.0h-1.0zM183.1 91.3h1.0v1.0h-1.0zM186.2 92.1h1.0v1.0h-1.0zM182.6 92.8h1.0v1.0h-1.0zM189.6 88.9h1.0v1.0h-1.0zM184.7 84.2h1.0v1.0h-1.0zM182.5 93.6h1.0v1.0h-1.0zM185.9 93.0h1.0v1.0h-1.0zM183.6 88.2h1.0v1.0h-1.0zM197.8 72.5h1.0v1.0h-1.0zM182.2 97.4h1.0v1.0h-1.0zM206.2 72.2h1.0v1.0h-1.0zM184.2 88.8h1.0v1.0h-1.0zM183.2 94.6h1.0v1.0h-1.0zM204.6 86.4h1.0v1.0h-1.0zM186.4 93.9h1.0v1.0h-1.0zM207.4 68.0h1.0v1.0h-1.0zM194.6 73.5h1.0v1.0h-1.0zM210.3 89.0h1.0v1.0h-1.0zM186.6 91.5h1.0v1.0h-1.0zM184.3 83.4h1.0v1.0h-1.0zM189.3 75.5h1.0v1.0h-1.0zM187.7 93.8h1.0v1.0h-1.0zM191.3 77.7h1.0v1.0h-1.0zM183.2 91.5h1.0v1.0h-1.0zM189.2 94.9h1.0v1.0h-1.0zM182.8 93.0h1.0v1.0h-1.0zM187.5 83.0h1.0v1.0h-1.0zM183.0 91.3h1.0v1.0h-1.0zM190.2 76.9h1.0v1.0h-1.0zM184.8 88.9h1.0v1.0h-1.0zM207.6 77.5h1.0v1.0h-1.0zM185.3 80.8h1.0v1.0h-1.0zM189.4 80.5h1.0v1.0h-1.0zM182.4 94.2h1.0v1.0h-1.0zM192.6 78.9h1.0v1.0h-1.0zM197.3 85.0h1.0v1.0h-1.0zM182.2 92.2h1.0v1.0h-1.0zM189.7 86.7h1.0v1.0h-1.0zM190.6 77.3h1.0v1.0h-1.0zM185.2 91.9h1.0v1.0h-1.0zM186.3 87.1h1.0v1.0h-1.0zM183.4 92.2h1.0v1.0h-1.0zM188.3 75.9h1.0v1.0h-1.0zM198.2 90.6h1.0v1.0h-1.0zM210.4 95.2h1.0v1.0h-1.0zM196.0 80.3h1.0v1.0h-1.0zM183.9 92.8h1.0v1.0h-1.0zM186.8 82.7h1.0v1.0h-1.0zM182.5 95.0h1.0v1.0h-1.0zM196.3 89.7h1.0v1.0h-1.0zM182.7 92.7h1.0v1.0h-1.0zM193.4 73.4h1.0v1.0h-1.0zM204.7 94.7h1.0v1.0h-1.0zM193.2 76.4h1.0v1.0h-1.0zM190.8 90.8h1.0v1.0h-1.0zM185.2 90.5h1.0v1.0h-1.0zM192.1 94.8h1.0v1.0h-1.0zM199.2 85.8h1.0v1.0h-1.0zM190.2 94.4h1.0v1.0h-1.0zM192.2 88.2h1.0v1.0h-1.0zM184.6 83.1h1.0v1.0h-1.0zM190.7 77.2h1.0v1.0h-1.0zM209.3 68.5h1.0v1.0h-1.0zM205.2 73.1h1.0v1.0h-1.0zM183.0 92.8h1.0v1.0h-1.0zM184.8 97.5h1.0v1.0h-1.0zM192.7 73.4h1.0v1.0h-1.0zM184.6 83.2h1.0v1.0h-1.0zM188.7 85.4h1.0v1.0h-1.0zM184.7 91.5h1.0v1.0h-1.0zM187.4 93.1h1.0v1.0h-1.0zM195.0 75.2h1.0v1.0h-1.0zM201.8 66.8h1.0v1.0h-1.0zM183.5 85.2h1.0v1.0h-1.0zM208.3 79.2h1.0v1.0h-1.0zM202.3 97.2h1.0v1.0h-1.0zM182.3 96.9h1.0v1.0h-1.0zM182.1 95.6h1.0v1.0h-1.0zM200.0 76.5h1.0v1.0h-1.0zM204.9 88.4h1.0v1.0h-1.0zM188.8 79.8h1.0v1.0h-1.0zM182.7 91.5h1.0v1.0h-1.0zM190.1 84.5h1.0v1.0h-1.0zM183.0 92.6h1.0v1.0h-1.0zM182.3 93.3h1.0v1.0h-1.0zM194.6 73.0h1.0v1.0h-1.0zM189.6 76.2h1.0v1.0h-1.0zM204.4 69.8h1.0v1.0h-1.0zM207.1 94.2h1.0v1.0h-1.0zM209.1 70.5h1.0v1.0h-1.0zM195.1 71.1h1.0v1.0h-1.0zM209.5 85.0h1.0v1.0h-1.0zM182.2 92.5h1.0v1.0h-1.0zM182.4 93.5h1.0v1.0h-1.0zM207.5 89.0h1.0v1.0h-1.0zM184.9 93.9h1.0v1.0h-1.0zM182.1 94.7h1.0v1.0h-1.0zM186.1 79.5h1.0v1.0h-1.0zM206.5 84.0h1.0v1.0h-1.0zM210.9 82.8h1.0v1.0h-1.0zM192.8 73.8h1.0v1.0h-1.0zM188.2 94.9h1.0v1.0h-1.0zM190.7 87.2h1.0v1.0h-1.0zM187.8 82.4h1.0v1.0h-1.0zM182.1 92.9h1.0v1.0h-1.0zM183.0 89.0h1.0v1.0h-1.0zM182.2 96.0h1.0v1.0h-1.0zM210.9 85.0h1.0v1.0h-1.0zM201.8 70.8h1.0v1.0h-1.0zM202.8 75.4h1.0v1.0h-1.0zM203.0 71.1h1.0v1.0h-1.0zM184.4 89.4h1.0v1.0h-1.0zM183.4 87.7h1.0v1.0h-1.0zM197.0 90.2h1.0v1.0h-1.0zM210.1 83.4h1.0v1.0h-1.0zM185.3 87.0h1.0v1.0h-1.0zM191.6 85.7h1.0v1.0h-1.0zM206.4 80.7h1.0v1.0h-1.0zM208.9 77.1h1.0v1.0h-1.0zM187.5 77.2h1.0v1.0h-1.0zM184.9 88.0h1.0v1.0h-1.0zM182.1 94.0h1.0v1.0h-1.0zM182.4 93.1h1.0v1.0h-1.0zM204.5 94.2h1.0v1.0h-1.0zM182.4 94.9h1.0v1.0h-1.0zM188.5 76.2h1.0v1.0h-1.0zM184.4 89.6h1.0v1.0h-1.0zM187.0 87.5h1.0v1.0h-1.0zM182.2 95.1h1.0v1.0h-1.0zM192.5 75.3h1.0v1.0h-1.0zM191.0 95.6h1.0v1.0h-1.0zM204.9 82.8h1.0v1.0h-1.0zM189.5 90.6h1.0v1.0h-1.0zM187.7 90.3h1.0v1.0h-1.0zM185.8 88.0h1.0v1.0h-1.0zM197.3 83.5h1.0v1.0h-1.0zM192.2 80.0h1.0v1.0h-1.0zM185.3 90.5h1.0v1.0h-1.0zM187.5 84.4h1.0v1.0h-1.0zM185.9 83.0h1.0v1.0h-1.0zM193.0 93.7h1.0v1.0h-1.0zM183.1 93.4h1.0v1.0h-1.0zM189.8 87.5h1.0v1.0h-1.0zM194.4 79.2h1.0v1.0h-1.0zM182.1 93.6h1.0v1.0h-1.0zM189.5 87.4h1.0v1.0h-1.0zM206.9 84.0h1.0v1.0h-1.0zM194.0 78.1h1.0v1.0h-1.0zM200.0 69.6h1.0v1.0h-1.0zM204.6 78.4h1.0v1.0h-1.0zM187.6 89.9h1.0v1.0h-1.0zM190.2 97.5h1.0v1.0h-1.0zM182.5 92.2h1.0v1.0h-1.0zM191.9 76.5h1.0v1.0h-1.0zM183.4 97.6h1.0v1.0h-1.0zM189.8 79.2h1.0v1.0h-1.0zM185.6 82.4h1.0v1.0h-1.0zM183.7 85.6h1.0v1.0h-1.0zM209.8 86.6h1.0v1.0h-1.0zM185.5 81.0h1.0v1.0h-1.0zM209.7 93.0h1.0v1.0h-1.0zM182.3 96.7h1.0v1.0h-1.0zM190.4 97.2h1.0v1.0h-1.0zM187.3 84.4h1.0v1.0h-1.0zM182.1 94.8h1.0v1.0h-1.0zM183.6 95.8h1.0v1.0h-1.0zM183.4 95.9h1.0v1.0h-1.0zM185.0 93.7h1.0v1.0h-1.0zM196.4 95.3h1.0v1.0h-1.0zM191.2 79.9h1.0v1.0h-1.0zM183.9 86.3h1.0v1.0h-1.0zM182.4 93.3h1.0v1.0h-1.0zM184.7 94.2h1.0v1.0h-1.0zM182.1 94.4h1.0v1.0h-1.0zM189.1 77.1h1.0v1.0h-1.0zM195.6 73.6h1.0v1.0h-1.0zM197.7 71.6h1.0v1.0h-1.0zM204.3 72.8h1.0v1.0h-1.0zM182.3 92.6h1.0v1.0h-1.0zM183.2 87.4h1.0v1.0h-1.0zM184.7 97.1h1.0v1.0h-1.0zM185.8 84.9h1.0v1.0h-1.0zM198.1 69.3h1.0v1.0h-1.0zM182.3 96.7h1.0v1.0h-1.0zM184.9 83.3h1.0v1.0h-1.0zM183.0 94.9h1.0v1.0h-1.0zM209.8 74.1h1.0v1.0h-1.0zM196.3 80.0h1.0v1.0h-1.0zM183.2 89.2h1.0v1.0h-1.0zM185.1 83.8h1.0v1.0h-1.0zM200.0 68.8h1.0v1.0h-1.0zM186.1 91.6h1.0v1.0h-1.0zM182.2 97.4h1.0v1.0h-1.0zM192.6 87.0h1.0v1.0h-1.0zM183.0 89.2h1.0v1.0h-1.0zM202.4 96.7h1.0v1.0h-1.0zM182.1 96.4h1.0v1.0h-1.0zM183.1 87.4h1.0v1.0h-1.0zM192.0 73.8h1.0v1.0h-1.0zM202.3 91.6h1.0v1.0h-1.0zM184.2 84.5h1.0v1.0h-1.0zM189.3 90.7h1.0v1.0h-1.0zM182.2 95.6h1.0v1.0h-1.0zM182.5 93.7h1.0v1.0h-1.0zM182.8 91.0h1.0v1.0h-1.0zM189.9 79.3h1.0v1.0h-1.0zM206.0 93.7h1.0v1.0h-1.0zM197.0 81.3h1.0v1.0h-1.0zM193.8 77.8h1.0v1.0h-1.0zM188.1 86.3h1.0v1.0h-1.0zM186.9 85.0h1.0v1.0h-1.0zM202.9 97.2h1.0v1.0h-1.0zM197.4 92.6h1.0v1.0h-1.0zM184.5 83.0h1.0v1.0h-1.0zM183.4 90.6h1.0v1.0h-1.0zM198.7 88.1h1.0v1.0h-1.0zM206.2 88.7h1.0v1.0h-1.0zM184.4 83.1h1.0v1.0h-1.0zM188.4 81.2h1.0v1.0h-1.0zM203.8 93.9h1.0v1.0h-1.0zM190.0 91.1h1.0v1.0h-1.0zM197.0 81.5h1.0v1.0h-1.0zM187.4 96.4h1.0v1.0h-1.0zM200.2 82.3h1.0v1.0h-1.0zM210.4 66.2h1.0v1.0h-1.0zM198.9 82.0h1.0v1.0h-1.0zM184.8 82.9h1.0v1.0h-1.0zM191.4 93.7h1.0v1.0h-1.0zM182.9 96.6h1.0v1.0h-1.0zM210.4 67.5h1.0v1.0h-1.0zM190.5 83.3h1.0v1.0h-1.0zM185.1 82.2h1.0v1.0h-1.0zM184.0 96.6h1.0v1.0h-1.0zM202.3 95.7h1.0v1.0h-1.0zM188.9 84.6h1.0v1.0h-1.0zM182.2 94.0h1.0v1.0h-1.0zM191.4 97.4h1.0v1.0h-1.0zM182.2 95.3h1.0v1.0h-1.0zM182.2 97.4h1.0v1.0h-1.0zM183.1 93.6h1.0v1.0h-1.0zM193.3 75.1h1.0v1.0h-1.0zM187.9 83.7h1.0v1.0h-1.0zM182.9 92.0h1.0v1.0h-1.0zM182.2 95.7h1.0v1.0h-1.0zM209.4 79.3h1.0v1.0h-1.0zM186.4 86.8h1.0v1.0h-1.0zM182.6 95.9h1.0v1.0h-1.0zM195.5 71.4h1.0v1.0h-1.0zM185.9 80.4h1.0v1.0h-1.0zM195.9 69.6h1.0v1.0h-1.0zM203.8 66.5h1.0v1.0h-1.0zM202.0 70.3h1.0v1.0h-1.0zM189.8 89.5h1.0v1.0h-1.0zM207.6 92.4h1.0v1.0h-1.0zM182.7 95.7h1.0v1.0h-1.0zM187.1 79.7h1.0v1.0h-1.0zM187.9 96.0h1.0v1.0h-1.0zM182.1 95.6h1.0v1.0h-1.0zM190.2 94.2h1.0v1.0h-1.0zM188.2 79.8h1.0v1.0h-1.0zM202.8 67.9h1.0v1.0h-1.0zM195.4 75.9h1.0v1.0h-1.0zM182.2 92.6h1.0v1.0h-1.0zM202.8 69.1h1.0v1.0h-1.0zM206.4 67.3h1.0v1.0h-1.0zM207.0 65.0h1.0v1.0h-1.0zM194.2 83.0h1.0v1.0h-1.0zM191.9 95.3h1.0v1.0h-1.0zM183.4 97.5h1.0v1.0h-1.0zM191.0 91.9h1.0v1.0h-1.0zM183.7 97.6h1.0v1.0h-1.0zM196.7 80.1h1.0v1.0h-1.0zM183.3 95.8h1.0v1.0h-1.0zM190.7 97.3h1.0v1.0h-1.0zM204.5 87.8h1.0v1.0h-1.0zM196.8 72.0h1.0v1.0h-1.0zM201.8 86.9h1.0v1.0h-1.0zM182.3 92.2h1.0v1.0h-1.0zM182.4 92.9h1.0v1.0h-1.0zM198.6 89.3h1.0v1.0h-1.0zM195.6 77.7h1.0v1.0h-1.0zM207.5 67.1h1.0v1.0h-1.0zM183.4 89.7h1.0v1.0h-1.0zM183.9 93.4h1.0v1.0h-1.0zM202.0 87.9h1.0v1.0h-1.0zM184.8 89.7h1.0v1.0h-1.0zM184.7 89.4h1.0v1.0h-1.0zM189.8 76.4h1.0v1.0h-1.0zM202.5 90.4h1.0v1.0h-1.0zM199.3 69.2h1.0v1.0h-1.0zM183.5 93.8h1.0v1.0h-1.0zM200.7 83.8h1.0v1.0h-1.0zM207.2 75.6h1.0v1.0h-1.0zM183.4 90.2h1.0v1.0h-1.0zM184.5 87.1h1.0v1.0h-1.0zM199.5 74.9h1.0v1.0h-1.0zM196.4 84.0h1.0v1.0h-1.0zM182.1 94.5h1.0v1.0h-1.0zM203.7 84.2h1.0v1.0h-1.0zM202.8 84.0h1.0v1.0h-1.0zM210.8 63.4h1.0v1.0h-1.0zM187.0 80.3h1.0v1.0h-1.0zM198.3 74.5h1.0v1.0h-1.0zM194.5 86.5h1.0v1.0h-1.0zM182.1 95.1h1.0v1.0h-1.0zM184.9 84.3h1.0v1.0h-1.0zM193.7 86.1h1.0v1.0h-1.0zM183.3 93.5h1.0v1.0h-1.0zM182.3 92.2h1.0v1.0h-1.0zM204.7 94.7h1.0v1.0h-1.0zM208.0 97.4h1.0v1.0h-1.0zM197.6 82.9h1.0v1.0h-1.0zM189.8 84.9h1.0v1.0h-1.0zM207.8 96.2h1.0v1.0h-1.0zM187.2 80.1h1.0v1.0h-1.0zM190.0 82.0h1.0v1.0h-1.0zM200.7 94.7h1.0v1.0h-1.0zM192.8 73.0h1.0v1.0h-1.0zM189.9 75.9h1.0v1.0h-1.0zM190.0 92.4h1.0v1.0h-1.0zM194.8 80.9h1.0v1.0h-1.0zM182.7 97.1h1.0v1.0h-1.0zM203.9 78.6h1.0v1.0h-1.0zM182.2 95.5h1.0v1.0h-1.0zM186.4 84.5h1.0v1.0h-1.0zM185.9 82.7h1.0v1.0h-1.0zM182.6 95.3h1.0v1.0h-1.0zM189.4 82.5h1.0v1.0h-1.0zM198.0 80.7h1.0v1.0h-1.0zM182.8 92.3h1.0v1.0h-1.0zM190.7 88.0h1.0v1.0h-1.0zM193.3 89.6h1.0v1.0h-1.0zM185.5 92.6h1.0v1.0h-1.0zM191.5 77.3h1.0v1.0h-1.0zM182.5 95.2h1.0v1.0h-1.0zM202.6 95.7h1.0v1.0h-1.0zM201.1 91.0h1.0v1.0h-1.0zM191.7 77.0h1.0v1.0h-1.0zM184.4 95.1h1.0v1.0h-1.0zM184.0 89.3h1.0v1.0h-1.0zM190.4 73.9h1.0v1.0h-1.0zM182.4 92.8h1.0v1.0h-1.0zM200.1 89.7h1.0v1.0h-1.0zM182.3 92.6h1.0v1.0h-1.0zM210.4 66.7h1.0v1.0h-1.0zM200.3 82.8h1.0v1.0h-1.0zM203.9 87.4h1.0v1.0h-1.0zM182.3 96.1h1.0v1.0h-1.0zM196.5 69.6h1.0v1.0h-1.0zM207.8 71.1h1.0v1.0h-1.0zM187.9 85.9h1.0v1.0h-1.0zM190.6 85.5h1.0v1.0h-1.0zM182.2 96.6h1.0v1.0h-1.0zM189.6 75.6h1.0v1.0h-1.0zM189.0 77.8h1.0v1.0h-1.0zM187.1 90.8h1.0v1.0h-1.0zM198.2 71.2h1.0v1.0h-1.0zM184.3 97.1h1.0v1.0h-1.0zM193.1 74.8h1.0v1.0h-1.0zM192.4 76.6h1.0v1.0h-1.0zM182.3 95.4h1.0v1.0h-1.0zM182.4 92.5h1.0v1.0h-1.0zM195.0 96.5h1.0v1.0h-1.0zM182.2 95.9h1.0v1.0h-1.0zM182.6 92.2h1.0v1.0h-1.0zM182.1 92.1h1.0v1.0h-1.0zM197.2 94.3h1.0v1.0h-1.0zM182.1 92.6h1.0v1.0h-1.0zM182.2 93.9h1.0v1.0h-1.0zM184.8 83.7h1.0v1.0h-1.0zM201.1 68.6h1.0v1.0h-1.0zM193.2 73.8h1.0v1.0h-1.0zM194.0 73.0h1.0v1.0h-1.0zM183.1 97.5h1.0v1.0h-1.0zM183.9 89.0h1.0v1.0h-1.0zM194.3 97.6h1.0v1.0h-1.0zM190.4 75.3h1.0v1.0h-1.0zM194.6 87.4h1.0v1.0h-1.0zM191.5 80.3h1.0v1.0h-1.0zM201.3 67.7h1.0v1.0h-1.0zM190.3 84.9h1.0v1.0h-1.0zM206.4 88.7h1.0v1.0h-1.0zM183.6 88.8h1.0v1.0h-1.0zM191.9 80.0h1.0v1.0h-1.0zM182.2 97.6h1.0v1.0h-1.0zM187.7 78.5h1.0v1.0h-1.0zM182.7 91.9h1.0v1.0h-1.0zM206.0 67.3h1.0v1.0h-1.0zM190.8 96.0h1.0v1.0h-1.0zM198.8 83.3h1.0v1.0h-1.0zM184.2 92.0h1.0v1.0h-1.0zM200.6 71.3h1.0v1.0h-1.0zM183.4 89.4h1.0v1.0h-1.0zM192.0 94.2h1.0v1.0h-1.0zM191.8 77.4h1.0v1.0h-1.0zM196.9 71.5h1.0v1.0h-1.0zM182.4 92.1h1.0v1.0h-1.0zM191.3 85.4h1.0v1.0h-1.0zM187.9 86.5h1.0v1.0h-1.0zM183.0 89.7h1.0v1.0h-1.0zM191.5 80.8h1.0v1.0h-1.0zM188.9 95.3h1.0v1.0h-1.0zM188.0 91.0h1.0v1.0h-1.0zM182.2 94.3h1.0v1.0h-1.0zM182.2 92.8h1.0v1.0h-1.0zM183.0 91.1h1.0v1.0h-1.0zM182.7 97.1h1.0v1.0h-1.0zM184.5 86.0h1.0v1.0h-1.0zM182.2 93.6h1.0v1.0h-1.0zM199.6 81.7h1.0v1.0h-1.0zM205.1 82.8h1.0v1.0h-1.0zM193.7 80.3h1.0v1.0h-1.0zM202.0 77.8h1.0v1.0h-1.0zM182.6 92.9h1.0v1.0h-1.0zM200.2 68.1h1.0v1.0h-1.0zM182.9 93.9h1.0v1.0h-1.0zM195.1 80.7h1.0v1.0h-1.0zM194.0 80.0h1.0v1.0h-1.0zM191.7 73.1h1.0v1.0h-1.0zM186.6 97.0h1.0v1.0h-1.0zM191.2 79.5h1.0v1.0h-1.0zM192.9 96.9h1.0v1.0h-1.0zM188.0 83.5h1.0v1.0h-1.0zM201.3 92.0h1.0v1.0h-1.0zM183.4 92.8h1.0v1.0h-1.0zM184.4 86.8h1.0v1.0h-1.0zM200.4 75.7h1.0v1.0h-1.0zM206.2 77.9h1.0v1.0h-1.0zM203.7 68.0h1.0v1.0h-1.0zM186.5 78.6h1.0v1.0h-1.0zM203.2 93.3h1.0v1.0h-1.0zM188.5 84.1h1.0v1.0h-1.0zM209.4 73.8h1.0v1.0h-1.0zM184.5 83.7h1.0v1.0h-1.0zM206.4 89.6h1.0v1.0h-1.0zM189.7 90.0h1.0v1.0h-1.0zM202.1 85.2h1.0v1.0h-1.0zM182.4 95.3h1.0v1.0h-1.0zM203.9 78.1h1.0v1.0h-1.0zM187.0 89.2h1.0v1.0h-1.0zM183.0 89.5h1.0v1.0h-1.0zM195.1 97.4h1.0v1.0h-1.0zM182.4 95.4h1.0v1.0h-1.0zM189.0 75.3h1.0v1.0h-1.0zM182.8 92.6h1.0v1.0h-1.0zM195.5 72.0h1.0v1.0h-1.0zM185.8 89.3h1.0v1.0h-1.0zM198.2 97.5h1.0v1.0h-1.0zM202.2 70.2h1.0v1.0h-1.0zM190.7 86.4h1.0v1.0h-1.0zM190.5 86.2h1.0v1.0h-1.0zM186.0 82.0h1.0v1.0h-1.0zM194.5 93.4h1.0v1.0h-1.0zM195.1 86.4h1.0v1.0h-1.0zM208.7 69.7h1.0v1.0h-1.0zM191.2 92.4h1.0v1.0h-1.0zM194.0 71.0h1.0v1.0h-1.0zM189.2 92.5h1.0v1.0h-1.0zM183.1 90.1h1.0v1.0h-1.0zM210.1 76.0h1.0v1.0h-1.0zM190.2 86.3h1.0v1.0h-1.0zM202.8 77.8h1.0v1.0h-1.0zM205.3 86.0h1.0v1.0h-1.0zM186.4 88.9h1.0v1.0h-1.0zM184.5 83.0h1.0v1.0h-1.0zM188.5 76.1h1.0v1.0h-1.0zM184.4 94.8h1.0v1.0h-1.0zM209.4 67.8h1.0v1.0h-1.0zM182.8 92.5h1.0v1.0h-1.0zM187.6 78.7h1.0v1.0h-1.0zM200.6 70.0h1.0v1.0h-1.0zM190.1 78.6h1.0v1.0h-1.0zM193.8 72.9h1.0v1.0h-1.0zM188.7 93.5h1.0v1.0h-1.0zM182.1 92.8h1.0v1.0h-1.0zM182.2 96.5h1.0v1.0h-1.0zM194.7 75.0h1.0v1.0h-1.0zM205.4 68.3h1.0v1.0h-1.0zM188.6 90.4h1.0v1.0h-1.0zM192.1 73.2h1.0v1.0h-1.0zM182.2 92.7h1.0v1.0h-1.0zM208.0 93.4h1.0v1.0h-1.0zM184.5 83.0h1.0v1.0h-1.0zM193.3 74.9h1.0v1.0h-1.0zM205.0 94.3h1.0v1.0h-1.0zM199.5 89.5h1.0v1.0h-1.0zM199.3 91.5h1.0v1.0h-1.0zM185.9 91.4h1.0v1.0h-1.0zM182.1 95.6h1.0v1.0h-1.0zM187.4 97.2h1.0v1.0h-1.0zM199.6 78.7h1.0v1.0h-1.0zM196.1 83.8h1.0v1.0h-1.0zM192.7 72.0h1.0v1.0h-1.0zM183.4 87.6h1.0v1.0h-1.0zM196.0 94.7h1.0v1.0h-1.0zM193.1 90.0h1.0v1.0h-1.0zM193.4 73.8h1.0v1.0h-1.0zM183.8 91.1h1.0v1.0h-1.0zM198.2 78.1h1.0v1.0h-1.0zM195.7 76.8h1.0v1.0h-1.0zM184.7 83.7h1.0v1.0h-1.0zM186.7 87.9h1.0v1.0h-1.0zM182.4 97.1h1.0v1.0h-1.0zM182.1 95.8h1.0v1.0h-1.0zM185.3 96.3h1.0v1.0h-1.0zM184.2 83.4h1.0v1.0h-1.0zM195.5 78.1h1.0v1.0h-1.0zM201.2 85.3h1.0v1.0h-1.0zM187.3 89.4h1.0v1.0h-1.0zM195.1 77.0h1.0v1.0h-1.0zM183.1 93.5h1.0v1.0h-1.0zM191.0 73.8h1.0v1.0h-1.0zM182.8 93.3h1.0v1.0h-1.0zM182.3 94.5h1.0v1.0h-1.0zM186.3 82.7h1.0v1.0h-1.0zM198.0 88.3h1.0v1.0h-1.0zM182.2 95.0h1.0v1.0h-1.0zM210.7 81.5h1.0v1.0h-1.0zM210.3 68.6h1.0v1.0h-1.0zM183.3 88.5h1.0v1.0h-1.0zM183.5 86.4h1.0v1.0h-1.0zM183.8 90.0h1.0v1.0h-1.0zM200.9 89.2h1.0v1.0h-1.0zM182.2 96.1h1.0v1.0h-1.0zM193.4 76.4h1.0v1.0h-1.0zM182.1 96.7h1.0v1.0h-1.0zM182.6 93.0h1.0v1.0h-1.0zM184.5 93.9h1.0v1.0h-1.0zM207.9 94.1h1.0v1.0h-1.0zM202.7 91.6h1.0v1.0h-1.0zM188.1 76.7h1.0v1.0h-1.0zM183.5 86.2h1.0v1.0h-1.0zM182.4 92.5h1.0v1.0h-1.0zM184.8 82.2h1.0v1.0h-1.0zM184.4 95.0h1.0v1.0h-1.0zM183.6 90.3h1.0v1.0h-1.0zM202.8 66.1h1.0v1.0h-1.0zM197.0 82.2h1.0v1.0h-1.0zM182.1 96.9h1.0v1.0h-1.0zM200.1 69.0h1.0v1.0h-1.0zM208.9 80.7h1.0v1.0h-1.0zM193.3 75.2h1.0v1.0h-1.0zM182.1 95.7h1.0v1.0h-1.0zM196.4 72.5h1.0v1.0h-1.0zM182.2 94.8h1.0v1.0h-1.0zM184.6 86.4h1.0v1.0h-1.0zM203.7 81.3h1.0v1.0h-1.0zM182.5 95.6h1.0v1.0h-1.0zM196.7 83.1h1.0v1.0h-1.0zM208.4 77.1h1.0v1.0h-1.0zM193.9 71.8h1.0v1.0h-1.0zM184.5 85.9h1.0v1.0h-1.0zM187.1 86.2h1.0v1.0h-1.0zM182.4 95.6h1.0v1.0h-1.0zM182.2 93.0h1.0v1.0h-1.0zM191.6 73.0h1.0v1.0h-1.0zM184.9 93.9h1.0v1.0h-1.0zM197.2 77.2h1.0v1.0h-1.0zM182.8 95.5h1.0v1.0h-1.0zM203.8 66.9h1.0v1.0h-1.0zM186.8 87.2h1.0v1.0h-1.0zM195.6 73.5h1.0v1.0h-1.0zM201.4 83.3h1.0v1.0h-1.0zM200.2 95.7h1.0v1.0h-1.0zM195.2 86.8h1.0v1.0h-1.0zM184.4 85.7h1.0v1.0h-1.0zM185.8 93.4h1.0v1.0h-1.0zM191.9 77.6h1.0v1.0h-1.0zM205.5 79.1h1.0v1.0h-1.0zM209.9 83.4h1.0v1.0h-1.0zM197.3 76.3h1.0v1.0h-1.0zM210.7 76.8h1.0v1.0h-1.0zM194.8 79.1h1.0v1.0h-1.0zM189.6 77.0h1.0v1.0h-1.0zM185.7 85.4h1.0v1.0h-1.0zM197.7 71.3h1.0v1.0h-1.0zM183.1 93.2h1.0v1.0h-1.0zM188.2 94.5h1.0v1.0h-1.0zM182.1 94.1h1.0v1.0h-1.0zM201.8 88.4h1.0v1.0h-1.0zM185.4 87.8h1.0v1.0h-1.0zM186.3 78.5h1.0v1.0h-1.0zM182.3 92.9h1.0v1.0h-1.0zM203.9 69.5h1.0v1.0h-1.0zM184.2 90.2h1.0v1.0h-1.0zM195.7 85.9h1.0v1.0h-1.0zM184.6 86.3h1.0v1.0h-1.0zM182.1 96.2h1.0v1.0h-1.0zM185.9 83.1h1.0v1.0h-1.0zM183.2 90.9h1.0v1.0h-1.0zM182.7 93.4h1.0v1.0h-1.0zM182.4 92.7h1.0v1.0h-1.0zM189.7 80.0h1.0v1.0h-1.0zM182.4 96.8h1.0v1.0h-1.0zM182.2 93.9h1.0v1.0h-1.0zM184.3 83.4h1.0v1.0h-1.0zM184.4 88.2h1.0v1.0h-1.0zM195.4 75.0h1.0v1.0h-1.0zM185.9 95.3h1.0v1.0h-1.0zM193.3 81.0h1.0v1.0h-1.0zM183.2 94.5h1.0v1.0h-1.0zM207.1 69.7h1.0v1.0h-1.0zM202.8 75.2h1.0v1.0h-1.0zM188.3 76.1h1.0v1.0h-1.0zM183.6 87.0h1.0v1.0h-1.0zM183.1 95.3h1.0v1.0h-1.0zM208.3 71.8h1.0v1.0h-1.0zM200.4 73.9h1.0v1.0h-1.0zM191.4 76.1h1.0v1.0h-1.0zM205.9 78.9h1.0v1.0h-1.0zM191.7 91.4h1.0v1.0h-1.0zM189.6 83.9h1.0v1.0h-1.0zM196.3 80.4h1.0v1.0h-1.0zM191.3 78.5h1.0v1.0h-1.0zM182.7 92.7h1.0v1.0h-1.0zM209.4 81.1h1.0v1.0h-1.0zM182.1 92.7h1.0v1.0h-1.0zM191.5 83.6h1.0v1.0h-1.0zM210.5 93.5h1.0v1.0h-1.0zM182.2 96.3h1.0v1.0h-1.0zM210.1 87.0h1.0v1.0h-1.0zM208.4 73.8h1.0v1.0h-1.0zM193.1 87.8h1.0v1.0h-1.0zM200.1 87.3h1.0v1.0h-1.0zM201.3 74.6h1.0v1.0h-1.0zM200.1 83.2h1.0v1.0h-1.0zM208.9 71.8h1.0v1.0h-1.0zM192.8 93.2h1.0v1.0h-1.0zM198.4 86.9h1.0v1.0h-1.0zM182.6 92.6h1.0v1.0h-1.0zM184.7 91.1h1.0v1.0h-1.0zM182.2 95.4h1.0v1.0h-1.0zM182.5 92.8h1.0v1.0h-1.0zM184.1 90.2h1.0v1.0h-1.0zM196.6 95.7h1.0v1.0h-1.0zM183.4 85.9h1.0v1.0h-1.0zM203.2 82.2h1.0v1.0h-1.0zM206.5 86.2h1.0v1.0h-1.0zM182.5 93.6h1.0v1.0h-1.0zM183.3 90.0h1.0v1.0h-1.0zM184.2 95.2h1.0v1.0h-1.0zM205.2 68.9h1.0v1.0h-1.0zM211.2 96.0h1.0v1.0h-1.0zM186.0 94.7h1.0v1.0h-1.0zM208.0 86.8h1.0v1.0h-1.0zM185.6 89.7h1.0v1.0h-1.0zM198.8 75.6h1.0v1.0h-1.0zM188.2 77.0h1.0v1.0h-1.0zM182.7 96.1h1.0v1.0h-1.0zM184.6 92.2h1.0v1.0h-1.0zM187.0 90.7h1.0v1.0h-1.0zM184.2 83.9h1.0v1.0h-1.0zM194.6 75.5h1.0v1.0h-1.0zM183.2 90.7h1.0v1.0h-1.0zM188.8 94.6h1.0v1.0h-1.0zM195.7 79.5h1.0v1.0h-1.0zM187.3 88.0h1.0v1.0h-1.0zM182.5 93.3h1.0v1.0h-1.0zM192.2 95.7h1.0v1.0h-1.0zM192.1 76.0h1.0v1.0h-1.0zM209.2 89.1h1.0v1.0h-1.0zM183.4 89.0h1.0v1.0h-1.0zM182.2 96.0h1.0v1.0h-1.0zM183.3 95.1h1.0v1.0h-1.0zM196.6 89.9h1.0v1.0h-1.0zM190.9 77.5h1.0v1.0h-1.0zM182.2 95.0h1.0v1.0h-1.0zM182.1 94.5h1.0v1.0h-1.0zM199.1 70.3h1.0v1.0h-1.0zM187.2 86.7h1.0v1.0h-1.0zM182.7 92.8h1.0v1.0h-1.0zM192.4 75.0h1.0v1.0h-1.0zM182.7 92.8h1.0v1.0h-1.0zM207.5 93.4h1.0v1.0h-1.0zM182.4 94.8h1.0v1.0h-1.0zM186.6 78.3h1.0v1.0h-1.0zM183.7 92.2h1.0v1.0h-1.0zM182.1 97.3h1.0v1.0h-1.0zM184.2 87.1h1.0v1.0h-1.0zM208.2 66.6h1.0v1.0h-1.0zM182.5 94.2h1.0v1.0h-1.0zM184.7 85.8h1.0v1.0h-1.0zM191.5 96.1h1.0v1.0h-1.0zM186.7 78.4h1.0v1.0h-1.0zM185.8 94.3h1.0v1.0h-1.0zM187.1 78.0h1.0v1.0h-1.0zM183.7 86.6h1.0v1.0h-1.0zM185.3 84.5h1.0v1.0h-1.0zM194.7 88.4h1.0v1.0h-1.0zM182.2 92.5h1.0v1.0h-1.0zM201.4 92.9h1.0v1.0h-1.0zM199.8 70.9h1.0v1.0h-1.0zM195.6 70.8h1.0v1.0h-1.0zM194.9 74.4h1.0v1.0h-1.0zM202.3 91.6h1.0v1.0h-1.0zM188.0 90.6h1.0v1.0h-1.0zM207.9 93.2h1.0v1.0h-1.0zM193.8 85.6h1.0v1.0h-1.0zM185.5 91.0h1.0v1.0h-1.0zM182.6 94.1h1.0v1.0h-1.0zM182.3 92.3h1.0v1.0h-1.0zM194.6 79.9h1.0v1.0h-1.0zM183.2 96.9h1.0v1.0h-1.0zM184.3 89.8h1.0v1.0h-1.0zM188.6 78.1h1.0v1.0h-1.0zM210.8 87.5h1.0v1.0h-1.0zM205.0 72.1h1.0v1.0h-1.0zM206.0 93.9h1.0v1.0h-1.0zM207.7 67.8h1.0v1.0h-1.0zM182.7 91.9h1.0v1.0h-1.0zM182.3 95.6h1.0v1.0h-1.0zM182.2 94.2h1.0v1.0h-1.0zM185.4 91.9h1.0v1.0h-1.0zM182.2 95.8h1.0v1.0h-1.0zM208.7 71.0h1.0v1.0h-1.0zM186.4 91.6h1.0v1.0h-1.0zM184.5 94.8h1.0v1.0h-1.0zM210.9 68.1h1.0v1.0h-1.0zM188.1 78.1h1.0v1.0h-1.0zM190.6 81.0h1.0v1.0h-1.0zM209.5 86.3h1.0v1.0h-1.0zM210.7 89.6h1.0v1.0h-1.0zM201.5 75.9h1.0v1.0h-1.0zM194.5 72.4h1.0v1.0h-1.0zM185.3 96.0h1.0v1.0h-1.0zM210.0 67.0h1.0v1.0h-1.0zM188.8 82.5h1.0v1.0h-1.0zM192.8 85.3h1.0v1.0h-1.0zM183.9 95.6h1.0v1.0h-1.0zM187.6 92.0h1.0v1.0h-1.0zM196.8 96.9h1.0v1.0h-1.0zM189.3 86.4h1.0v1.0h-1.0zM199.0 72.5h1.0v1.0h-1.0zM182.2 96.4h1.0v1.0h-1.0zM195.6 89.2h1.0v1.0h-1.0zM200.3 71.2h1.0v1.0h-1.0zM204.2 83.8h1.0v1.0h-1.0zM207.9 80.0h1.0v1.0h-1.0zM203.6 66.5h1.0v1.0h-1.0zM182.8 94.0h1.0v1.0h-1.0zM194.6 78.8h1.0v1.0h-1.0zM182.2 96.8h1.0v1.0h-1.0zM182.2 96.9h1.0v1.0h-1.0zM183.5 93.2h1.0v1.0h-1.0zM191.8 76.7h1.0v1.0h-1.0zM184.9 84.1h1.0v1.0h-1.0zM189.9 78.8h1.0v1.0h-1.0zM190.2 78.7h1.0v1.0h-1.0zM182.5 95.6h1.0v1.0h-1.0zM183.9 96.8h1.0v1.0h-1.0zM186.5 81.9h1.0v1.0h-1.0zM196.6 94.1h1.0v1.0h-1.0zM185.7 91.7h1.0v1.0h-1.0zM185.0 97.5h1.0v1.0h-1.0zM184.5 82.9h1.0v1.0h-1.0zM182.1 94.6h1.0v1.0h-1.0zM192.9 77.2h1.0v1.0h-1.0zM186.7 84.4h1.0v1.0h-1.0zM185.6 81.9h1.0v1.0h-1.0zM190.2 88.2h1.0v1.0h-1.0zM182.1 96.8h1.0v1.0h-1.0zM183.8 89.5h1.0v1.0h-1.0zM183.3 92.9h1.0v1.0h-1.0zM186.5 88.1h1.0v1.0h-1.0zM186.5 86.5h1.0v1.0h-1.0zM182.3 97.5h1.0v1.0h-1.0zM187.0 82.7h1.0v1.0h-1.0zM202.6 72.9h1.0v1.0h-1.0zM199.9 77.7h1.0v1.0h-1.0zM182.4 94.8h1.0v1.0h-1.0zM184.1 85.4h1.0v1.0h-1.0zM210.6 94.9h1.0v1.0h-1.0zM188.1 92.6h1.0v1.0h-1.0zM194.6 76.6h1.0v1.0h-1.0zM182.5 94.9h1.0v1.0h-1.0zM183.0 94.8h1.0v1.0h-1.0zM191.9 76.3h1.0v1.0h-1.0zM199.2 96.4h1.0v1.0h-1.0zM188.3 96.8h1.0v1.0h-1.0zM187.6 77.0h1.0v1.0h-1.0zM187.9 82.2h1.0v1.0h-1.0zM206.4 79.1h1.0v1.0h-1.0zM208.8 67.0h1.0v1.0h-1.0zM186.0 79.0h1.0v1.0h-1.0zM182.2 95.7h1.0v1.0h-1.0zM182.2 92.9h1.0v1.0h-1.0zM187.2 95.6h1.0v1.0h-1.0zM183.5 85.1h1.0v1.0h-1.0zM195.9 87.4h1.0v1.0h-1.0zM182.6 97.1h1.0v1.0h-1.0zM203.6 95.1h1.0v1.0h-1.0zM201.5 81.2h1.0v1.0h-1.0zM195.9 71.6h1.0v1.0h-1.0zM193.6 78.4h1.0v1.0h-1.0zM185.1 84.9h1.0v1.0h-1.0zM182.3 96.3h1.0v1.0h-1.0zM198.6 68.0h1.0v1.0h-1.0zM189.3 74.8h1.0v1.0h-1.0zM190.3 76.3h1.0v1.0h-1.0zM208.8 71.7h1.0v1.0h-1.0zM189.6 78.7h1.0v1.0h-1.0zM205.6 64.6h1.0v1.0h-1.0zM184.5 84.9h1.0v1.0h-1.0zM197.8 76.9h1.0v1.0h-1.0zM203.4 73.6h1.0v1.0h-1.0zM182.5 94.1h1.0v1.0h-1.0zM182.3 92.6h1.0v1.0h-1.0zM189.6 86.0h1.0v1.0h-1.0zM183.3 87.1h1.0v1.0h-1.0zM189.5 82.8h1.0v1.0h-1.0zM188.4 89.0h1.0v1.0h-1.0zM182.6 92.1h1.0v1.0h-1.0zM182.2 96.2h1.0v1.0h-1.0zM196.0 72.2h1.0v1.0h-1.0zM185.0 85.0h1.0v1.0h-1.0zM206.7 75.3h1.0v1.0h-1.0zM196.5 70.4h1.0v1.0h-1.0zM182.2 92.9h1.0v1.0h-1.0zM193.6 80.9h1.0v1.0h-1.0zM203.9 90.6h1.0v1.0h-1.0zM194.4 97.5h1.0v1.0h-1.0zM208.8 92.7h1.0v1.0h-1.0zM182.3 93.8h1.0v1.0h-1.0zM182.6 95.1h1.0v1.0h-1.0zM189.0 76.1h1.0v1.0h-1.0zM182.3 94.2h1.0v1.0h-1.0zM192.9 80.1h1.0v1.0h-1.0zM188.1 88.3h1.0v1.0h-1.0zM195.8 87.8h1.0v1.0h-1.0zM186.7 80.2h1.0v1.0h-1.0zM203.8 66.0h1.0v1.0h-1.0zM183.2 87.7h1.0v1.0h-1.0zM191.9 86.4h1.0v1.0h-1.0zM182.4 94.5h1.0v1.0h-1.0zM191.2 88.4h1.0v1.0h-1.0zM182.3 95.8h1.0v1.0h-1.0zM184.0 88.0h1.0v1.0h-1.0zM182.5 96.6h1.0v1.0h-1.0zM192.7 91.8h1.0v1.0h-1.0zM189.3 76.0h1.0v1.0h-1.0zM186.4 79.2h1.0v1.0h-1.0zM182.4 96.3h1.0v1.0h-1.0zM182.1 93.8h1.0v1.0h-1.0zM182.2 96.0h1.0v1.0h-1.0zM210.6 63.4h1.0v1.0h-1.0zM185.6 97.1h1.0v1.0h-1.0zM183.7 87.6h1.0v1.0h-1.0zM210.4 94.3h1.0v1.0h-1.0zM186.1 90.2h1.0v1.0h-1.0zM200.0 75.6h1.0v1.0h-1.0zM182.1 93.7h1.0v1.0h-1.0zM195.6 96.4h1.0v1.0h-1.0zM187.3 83.9h1.0v1.0h-1.0zM186.0 89.0h1.0v1.0h-1.0zM182.1 97.0h1.0v1.0h-1.0zM208.4 64.1h1.0v1.0h-1.0zM182.1 93.4h1.0v1.0h-1.0zM182.6 96.1h1.0v1.0h-1.0zM203.8 80.6h1.0v1.0h-1.0zM207.9 69.1h1.0v1.0h-1.0zM183.1 90.5h1.0v1.0h-1.0zM187.6 79.6h1.0v1.0h-1.0zM206.6 87.6h1.0v1.0h-1.0zM184.3 85.4h1.0v1.0h-1.0zM184.2 87.8h1.0v1.0h-1.0zM194.1 90.4h1.0v1.0h-1.0zM208.2 65.2h1.0v1.0h-1.0zM183.1 90.5h1.0v1.0h-1.0zM208.3 76.4h1.0v1.0h-1.0zM196.7 91.6h1.0v1.0h-1.0zM187.8 82.7h1.0v1.0h-1.0zM199.2 84.8h1.0v1.0h-1.0zM210.7 69.7h1.0v1.0h-1.0zM208.4 77.5h1.0v1.0h-1.0zM203.7 83.9h1.0v1.0h-1.0zM190.8 93.3h1.0v1.0h-1.0zM182.3 93.2h1.0v1.0h-1.0zM188.6 92.8h1.0v1.0h-1.0zM183.0 95.2h1.0v1.0h-1.0zM182.3 93.5h1.0v1.0h-1.0zM187.9 90.4h1.0v1.0h-1.0zM189.6 93.3h1.0v1.0h-1.0zM195.6 78.2h1.0v1.0h-1.0zM189.5 81.5h1.0v1.0h-1.0zM203.9 72.7h1.0v1.0h-1.0zM182.9 90.6h1.0v1.0h-1.0zM183.7 94.6h1.0v1.0h-1.0zM195.3 74.7h1.0v1.0h-1.0zM186.8 95.1h1.0v1.0h-1.0zM208.8 68.7h1.0v1.0h-1.0zM207.9 64.8h1.0v1.0h-1.0zM211.1 71.2h1.0v1.0h-1.0zM208.5 64.1h1.0v1.0h-1.0zM195.4 95.0h1.0v1.0h-1.0zM201.3 82.1h1.0v1.0h-1.0zM182.7 92.6h1.0v1.0h-1.0zM207.8 92.1h1.0v1.0h-1.0zM183.4 88.7h1.0v1.0h-1.0zM192.5 77.8h1.0v1.0h-1.0zM183.3 95.7h1.0v1.0h-1.0zM182.4 95.2h1.0v1.0h-1.0zM186.5 85.8h1.0v1.0h-1.0zM203.9 87.7h1.0v1.0h-1.0zM199.1 67.9h1.0v1.0h-1.0zM200.8 89.9h1.0v1.0h-1.0zM182.1 92.9h1.0v1.0h-1.0zM197.1 93.0h1.0v1.0h-1.0zM190.1 94.4h1.0v1.0h-1.0zM182.3 93.1h1.0v1.0h-1.0zM201.3 89.9h1.0v1.0h-1.0zM183.4 91.5h1.0v1.0h-1.0zM187.3 91.2h1.0v1.0h-1.0zM186.3 83.1h1.0v1.0h-1.0zM198.5 86.8h1.0v1.0h-1.0zM185.6 91.5h1.0v1.0h-1.0zM183.9 89.8h1.0v1.0h-1.0zM183.0 90.8h1.0v1.0h-1.0zM186.8 78.8h1.0v1.0h-1.0zM184.6 86.3h1.0v1.0h-1.0zM184.9 88.4h1.0v1.0h-1.0zM205.4 91.6h1.0v1.0h-1.0zM184.4 84.0h1.0v1.0h-1.0zM182.3 96.8h1.0v1.0h-1.0zM198.4 88.3h1.0v1.0h-1.0zM205.8 75.1h1.0v1.0h-1.0zM182.8 90.5h1.0v1.0h-1.0zM186.4 92.2h1.0v1.0h-1.0zM182.3 94.0h1.0v1.0h-1.0zM182.3 92.9h1.0v1.0h-1.0zM190.5 87.6h1.0v1.0h-1.0zM207.8 72.0h1.0v1.0h-1.0zM183.5 85.5h1.0v1.0h-1.0zM183.0 88.5h1.0v1.0h-1.0zM182.1 92.4h1.0v1.0h-1.0zM190.0 82.9h1.0v1.0h-1.0zM205.8 77.9h1.0v1.0h-1.0zM182.3 92.5h1.0v1.0h-1.0zM195.9 96.9h1.0v1.0h-1.0zM198.0 73.1h1.0v1.0h-1.0zM185.2 86.6h1.0v1.0h-1.0zM187.1 81.6h1.0v1.0h-1.0zM182.7 91.7h1.0v1.0h-1.0zM204.3 96.6h1.0v1.0h-1.0zM209.8 73.5h1.0v1.0h-1.0zM195.3 73.8h1.0v1.0h-1.0zM182.4 92.0h1.0v1.0h-1.0zM185.0 93.6h1.0v1.0h-1.0zM189.7 78.0h1.0v1.0h-1.0zM188.4 85.9h1.0v1.0h-1.0zM193.1 79.7h1.0v1.0h-1.0zM220.5 79.7h1.0v1.0h-1.0zM222.8 69.6h1.0v1.0h-1.0zM190.6 62.4h1.0v1.0h-1.0zM211.6 79.9h1.0v1.0h-1.0zM192.8 71.9h1.0v1.0h-1.0zM192.9 79.2h1.0v1.0h-1.0zM191.4 80.9h1.0v1.0h-1.0zM221.9 74.2h1.0v1.0h-1.0zM204.9 73.4h1.0v1.0h-1.0zM210.2 74.0h1.0v1.0h-1.0zM196.4 88.3h1.0v1.0h-1.0zM208.4 62.0h1.0v1.0h-1.0zM218.4 78.2h1.0v1.0h-1.0zM196.8 74.5h1.0v1.0h-1.0zM187.5 77.9h1.0v1.0h-1.0zM215.1 60.6h1.0v1.0h-1.0zM189.2 88.8h1.0v1.0h-1.0zM203.7 73.8h1.0v1.0h-1.0zM221.8 92.2h1.0v1.0h-1.0zM190.6 78.3h1.0v1.0h-1.0zM215.4 95.1h1.0v1.0h-1.0zM200.0 70.0h1.0v1.0h-1.0zM201.5 89.6h1.0v1.0h-1.0zM188.4 68.2h1.0v1.0h-1.0zM204.8 76.4h1.0v1.0h-1.0zM211.3 68.1h1.0v1.0h-1.0zM200.8 82.7h1.0v1.0h-1.0zM220.1 93.4h1.0v1.0h-1.0zM214.8 79.2h1.0v1.0h-1.0zM205.7 86.9h1.0v1.0h-1.0zM221.0 85.0h1.0v1.0h-1.0zM197.7 94.0h1.0v1.0h-1.0zM219.1 65.6h1.0v1.0h-1.0zM187.6 90.7h1.0v1.0h-1.0zM196.5 95.1h1.0v1.0h-1.0zM204.4 64.9h1.0v1.0h-1.0zM212.7 77.7h1.0v1.0h-1.0zM222.4 85.0h1.0v1.0h-1.0zM197.6 86.4h1.0v1.0h-1.0zM185.4 74.1h1.0v1.0h-1.0zM182.8 73.5h1.0v1.0h-1.0zM187.4 64.5h1.0v1.0h-1.0zM185.5 64.8h1.0v1.0h-1.0zM184.8 73.4h1.0v1.0h-1.0zM185.9 80.4h1.0v1.0h-1.0zM185.4 73.3h1.0v1.0h-1.0zM183.8 73.4h1.0v1.0h-1.0zM183.1 70.0h1.0v1.0h-1.0zM182.8 74.6h1.0v1.0h-1.0zM182.4 72.4h1.0v1.0h-1.0zM182.7 65.7h1.0v1.0h-1.0zM182.2 66.1h1.0v1.0h-1.0zM183.8 62.6h1.0v1.0h-1.0zM183.9 81.7h1.0v1.0h-1.0zM185.8 79.4h1.0v1.0h-1.0zM186.6 73.9h1.0v1.0h-1.0zM183.6 71.2h1.0v1.0h-1.0zM183.3 78.9h1.0v1.0h-1.0zM182.6 79.5h1.0v1.0h-1.0zM183.3 81.4h1.0v1.0h-1.0zM184.4 74.5h1.0v1.0h-1.0zM185.4 72.1h1.0v1.0h-1.0zM185.8 70.7h1.0v1.0h-1.0zM184.7 65.0h1.0v1.0h-1.0z" fill="#f8432f" fill-opacity="1"/>
<path d="M175.7 97.6h0.9v0.9h-0.9zM175.8 76.4h0.9v0.9h-0.9zM176.0 81.3h0.9v0.9h-0.9zM175.9 90.4h0.9v0.9h-0.9zM177.8 94.1h0.9v0.9h-0.9zM176.2 94.8h0.9v0.9h-0.9zM176.8 93.7h0.9v0.9h-0.9zM176.3 74.8h0.9v0.9h-0.9zM175.1 92.9h0.9v0.9h-0.9zM175.8 73.2h0.9v0.9h-0.9zM177.9 86.0h0.9v0.9h-0.9zM176.1 72.8h0.9v0.9h-0.9zM174.9 83.2h0.9v0.9h-0.9zM174.9 88.5h0.9v0.9h-0.9zM175.4 87.3h0.9v0.9h-0.9zM175.8 92.3h0.9v0.9h-0.9zM175.9 95.1h0.9v0.9h-0.9zM175.6 92.3h0.9v0.9h-0.9zM175.4 97.6h0.9v0.9h-0.9zM175.3 94.8h0.9v0.9h-0.9zM176.4 95.1h0.9v0.9h-0.9zM175.7 86.6h0.9v0.9h-0.9zM176.7 92.7h0.9v0.9h-0.9zM175.3 83.0h0.9v0.9h-0.9zM176.8 86.2h0.9v0.9h-0.9zM175.0 93.9h0.9v0.9h-0.9zM175.2 96.6h0.9v0.9h-0.9zM175.3 74.9h0.9v0.9h-0.9zM175.7 94.0h0.9v0.9h-0.9zM176.2 95.9h0.9v0.9h-0.9zM176.8 93.7h0.9v0.9h-0.9zM176.8 91.2h0.9v0.9h-0.9zM175.7 88.1h0.9v0.9h-0.9zM175.9 89.1h0.9v0.9h-0.9zM176.3 81.8h0.9v0.9h-0.9zM175.0 90.7h0.9v0.9h-0.9zM175.8 87.2h0.9v0.9h-0.9zM177.5 78.4h0.9v0.9h-0.9zM177.1 78.6h0.9v0.9h-0.9zM175.6 91.8h0.9v0.9h-0.9zM175.4 96.2h0.9v0.9h-0.9zM176.0 80.8h0.9v0.9h-0.9zM176.1 95.0h0.9v0.9h-0.9zM177.2 95.1h0.9v0.9h-0.9zM177.1 96.1h0.9v0.9h-0.9zM177.2 90.1h0.9v0.9h-0.9zM175.3 97.3h0.9v0.9h-0.9zM175.3 94.2h0.9v0.9h-0.9zM177.1 75.1h0.9v0.9h-0.9zM177.4 96.8h0.9v0.9h-0.9zM175.0 94.4h0.9v0.9h-0.9zM175.0 87.0h0.9v0.9h-0.9zM177.1 87.2h0.9v0.9h-0.9zM177.7 97.3h0.9v0.9h-0.9zM175.4 95.2h0.9v0.9h-0.9zM175.5 96.8h0.9v0.9h-0.9zM176.5 92.7h0.9v0.9h-0.9zM175.8 94.0h0.9v0.9h-0.9zM175.9 96.6h0.9v0.9h-0.9zM175.0 95.7h0.9v0.9h-0.9zM175.3 78.0h0.9v0.9h-0.9zM177.8 94.4h0.9v0.9h-0.9zM176.9 91.2h0.9v0.9h-0.9zM175.2 93.1h0.9v0.9h-0.9zM175.4 93.9h0.9v0.9h-0.9zM176.6 81.2h0.9v0.9h-0.9zM175.1 89.6h0.9v0.9h-0.9zM175.0 85.3h0.9v0.9h-0.9zM176.4 86.5h0.9v0.9h-0.9zM175.0 96.2h0.9v0.9h-0.9zM175.9 80.0h0.9v0.9h-0.9zM175.1 84.1h0.9v0.9h-0.9zM177.0 90.8h0.9v0.9h-0.9zM176.5 88.3h0.9v0.9h-0.9zM175.1 88.4h0.9v0.9h-0.9zM175.0 84.3h0.9v0.9h-0.9zM176.4 95.0h0.9v0.9h-0.9zM175.2 96.1h0.9v0.9h-0.9zM177.7 86.2h0.9v0.9h-0.9zM175.2 93.8h0.9v0.9h-0.9zM176.0 84.4h0.9v0.9h-0.9zM175.8 87.5h0.9v0.9h-0.9zM176.0 82.9h0.9v0.9h-0.9zM175.9 91.2h0.9v0.9h-0.9zM177.7 88.8h0.9v0.9h-0.9zM175.6 92.1h0.9v0.9h-0.9zM175.7 86.8h0.9v0.9h-0.9zM176.4 90.8h0.9v0.9h-0.9zM175.1 92.4h0.9v0.9h-0.9zM177.7 96.6h0.9v0.9h-0.9zM175.0 86.4h0.9v0.9h-0.9zM175.0 92.2h0.9v0.9h-0.9zM175.5 96.5h0.9v0.9h-0.9zM175.8 92.5h0.9v0.9h-0.9zM175.1 96.4h0.9v0.9h-0.9zM175.9 92.5h0.9v0.9h-0.9zM174.9 89.5h0.9v0.9h-0.9zM175.3 81.1h0.9v0.9h-0.9zM175.6 93.6h0.9v0.9h-0.9zM176.3 89.1h0.9v0.9h-0.9zM175.7 93.7h0.9v0.9h-0.9zM175.1 82.7h0.9v0.9h-0.9zM176.2 73.8h0.9v0.9h-0.9zM175.1 92.9h0.9v0.9h-0.9zM175.4 91.0h0.9v0.9h-0.9zM175.6 89.8h0.9v0.9h-0.9zM175.5 96.6h0.9v0.9h-0.9zM176.2 93.4h0.9v0.9h-0.9zM177.0 88.5h0.9v0.9h-0.9zM175.4 76.0h0.9v0.9h-0.9zM177.0 92.0h0.9v0.9h-0.9zM176.1 83.7h0.9v0.9h-0.9zM175.0 73.6h0.9v0.9h-0.9zM175.0 97.4h0.9v0.9h-0.9zM175.3 85.2h0.9v0.9h-0.9zM175.4 92.7h0.9v0.9h-0.9zM176.7 95.2h0.9v0.9h-0.9zM177.0 77.3h0.9v0.9h-0.9zM176.3 92.5h0.9v0.9h-0.9zM176.2 85.0h0.9v0.9h-0.9zM176.0 95.4h0.9v0.9h-0.9zM176.3 94.0h0.9v0.9h-0.9zM175.8 94.8h0.9v0.9h-0.9zM175.6 87.4h0.9v0.9h-0.9zM175.6 88.6h0.9v0.9h-0.9zM177.4 85.1h0.9v0.9h-0.9zM176.4 89.4h0.9v0.9h-0.9zM176.7 96.4h0.9v0.9h-0.9zM175.3 97.6h0.9v0.9h-0.9zM176.3 90.6h0.9v0.9h-0.9zM175.8 81.8h0.9v0.9h-0.9zM175.4 96.8h0.9v0.9h-0.9zM175.2 93.7h0.9v0.9h-0.9zM177.2 97.3h0.9v0.9h-0.9zM175.9 89.8h0.9v0.9h-0.9zM175.4 94.3h0.9v0.9h-0.9zM175.9 95.2h0.9v0.9h-0.9zM175.2 94.0h0.9v0.9h-0.9zM175.9 89.8h0.9v0.9h-0.9zM177.1 94.8h0.9v0.9h-0.9zM175.8 97.4h0.9v0.9h-0.9zM176.1 95.6h0.9v0.9h-0.9zM175.5 93.0h0.9v0.9h-0.9zM176.8 86.5h0.9v0.9h-0.9zM175.6 97.3h0.9v0.9h-0.9zM177.1 80.0h0.9v0.9h-0.9zM175.5 85.1h0.9v0.9h-0.9zM176.3 84.7h0.9v0.9h-0.9zM175.5 85.5h0.9v0.9h-0.9zM176.7 96.6h0.9v0.9h-0.9zM176.0 92.8h0.9v0.9h-0.9zM175.8 97.2h0.9v0.9h-0.9zM175.8 90.8h0.9v0.9h-0.9zM175.8 84.4h0.9v0.9h-0.9zM175.5 94.6h0.9v0.9h-0.9zM177.5 88.8h0.9v0.9h-0.9zM176.3 82.6h0.9v0.9h-0.9zM175.9 95.9h0.9v0.9h-0.9zM176.0 74.7h0.9v0.9h-0.9zM175.6 96.9h0.9v0.9h-0.9zM175.3 96.7h0.9v0.9h-0.9zM177.8 80.2h0.9v0.9h-0.9zM175.3 96.5h0.9v0.9h-0.9zM177.4 91.5h0.9v0.9h-0.9zM176.6 80.1h0.9v0.9h-0.9zM175.8 97.4h0.9v0.9h-0.9zM175.7 91.2h0.9v0.9h-0.9zM177.7 95.3h0.9v0.9h-0.9zM175.4 95.0h0.9v0.9h-0.9zM176.4 84.6h0.9v0.9h-0.9zM175.2 91.7h0.9v0.9h-0.9zM177.6 97.5h0.9v0.9h-0.9zM176.7 97.4h0.9v0.9h-0.9zM175.2 89.1h0.9v0.9h-0.9zM176.6 97.5h0.9v0.9h-0.9zM176.8 87.3h0.9v0.9h-0.9zM175.9 92.0h0.9v0.9h-0.9zM175.9 94.6h0.9v0.9h-0.9zM176.1 93.6h0.9v0.9h-0.9zM175.2 89.7h0.9v0.9h-0.9zM177.8 84.4h0.9v0.9h-0.9zM176.2 85.6h0.9v0.9h-0.9zM175.4 87.4h0.9v0.9h-0.9zM175.0 80.6h0.9v0.9h-0.9zM175.6 95.7h0.9v0.9h-0.9zM176.3 74.7h0.9v0.9h-0.9zM177.6 95.1h0.9v0.9h-0.9zM175.4 89.6h0.9v0.9h-0.9zM175.0 94.9h0.9v0.9h-0.9zM176.2 96.9h0.9v0.9h-0.9zM176.0 95.7h0.9v0.9h-0.9zM176.0 94.3h0.9v0.9h-0.9zM175.2 89.7h0.9v0.9h-0.9zM175.6 96.2h0.9v0.9h-0.9zM176.3 86.8h0.9v0.9h-0.9zM175.6 73.0h0.9v0.9h-0.9zM177.6 94.1h0.9v0.9h-0.9zM175.5 90.6h0.9v0.9h-0.9zM176.9 76.9h0.9v0.9h-0.9zM175.9 73.3h0.9v0.9h-0.9zM176.8 92.3h0.9v0.9h-0.9zM175.1 86.3h0.9v0.9h-0.9zM175.0 92.1h0.9v0.9h-0.9zM177.7 95.1h0.9v0.9h-0.9zM177.6 95.7h0.9v0.9h-0.9zM175.2 96.7h0.9v0.9h-0.9zM175.1 97.0h0.9v0.9h-0.9zM175.4 95.8h0.9v0.9h-0.9zM176.4 87.4h0.9v0.9h-0.9zM175.1 90.7h0.9v0.9h-0.9zM177.7 85.3h0.9v0.9h-0.9zM175.6 94.3h0.9v0.9h-0.9zM177.2 90.1h0.9v0.9h-0.9zM175.4 93.8h0.9v0.9h-0.9zM175.9 97.6h0.9v0.9h-0.9zM175.5 92.5h0.9v0.9h-0.9zM175.3 95.8h0.9v0.9h-0.9zM177.2 94.2h0.9v0.9h-0.9zM176.9 69.7h0.9v0.9h-0.9zM175.1 91.8h0.9v0.9h-0.9zM176.8 88.4h0.9v0.9h-0.9zM175.3 90.8h0.9v0.9h-0.9zM175.8 94.9h0.9v0.9h-0.9zM175.3 84.0h0.9v0.9h-0.9zM175.9 73.8h0.9v0.9h-0.9zM175.7 96.0h0.9v0.9h-0.9zM175.3 94.4h0.9v0.9h-0.9zM177.0 91.1h0.9v0.9h-0.9zM177.1 91.7h0.9v0.9h-0.9zM175.6 93.6h0.9v0.9h-0.9zM175.6 92.6h0.9v0.9h-0.9zM176.1 90.2h0.9v0.9h-0.9zM175.4 89.5h0.9v0.9h-0.9zM175.0 90.2h0.9v0.9h-0.9zM175.5 96.2h0.9v0.9h-0.9zM175.0 73.3h0.9v0.9h-0.9zM176.0 80.8h0.9v0.9h-0.9zM177.2 88.9h0.9v0.9h-0.9zM176.1 93.5h0.9v0.9h-0.9zM175.2 92.6h0.9v0.9h-0.9zM175.8 95.5h0.9v0.9h-0.9zM175.3 97.5h0.9v0.9h-0.9zM175.5 95.3h0.9v0.9h-0.9zM175.3 97.5h0.9v0.9h-0.9zM175.5 91.4h0.9v0.9h-0.9zM175.8 90.1h0.9v0.9h-0.9zM176.7 83.4h0.9v0.9h-0.9zM175.4 95.3h0.9v0.9h-0.9zM176.5 90.4h0.9v0.9h-0.9zM176.6 93.8h0.9v0.9h-0.9zM177.1 92.6h0.9v0.9h-0.9zM175.1 85.9h0.9v0.9h-0.9zM174.9 92.7h0.9v0.9h-0.9zM177.3 96.3h0.9v0.9h-0.9zM175.5 90.4h0.9v0.9h-0.9zM176.0 97.1h0.9v0.9h-0.9zM175.2 90.9h0.9v0.9h-0.9zM175.7 95.7h0.9v0.9h-0.9zM175.2 93.8h0.9v0.9h-0.9zM175.4 85.5h0.9v0.9h-0.9zM175.6 72.4h0.9v0.9h-0.9zM176.2 79.1h0.9v0.9h-0.9zM176.1 95.8h0.9v0.9h-0.9zM175.4 87.4h0.9v0.9h-0.9zM176.9 95.4h0.9v0.9h-0.9zM175.7 95.9h0.9v0.9h-0.9zM176.0 97.2h0.9v0.9h-0.9zM175.9 96.3h0.9v0.9h-0.9zM175.3 84.3h0.9v0.9h-0.9zM176.3 89.2h0.9v0.9h-0.9zM176.2 89.6h0.9v0.9h-0.9zM174.9 95.2h0.9v0.9h-0.9zM176.5 97.4h0.9v0.9h-0.9zM176.2 81.8h0.9v0.9h-0.9zM176.7 96.6h0.9v0.9h-0.9zM175.7 94.8h0.9v0.9h-0.9zM176.4 96.5h0.9v0.9h-0.9zM175.2 92.7h0.9v0.9h-0.9zM175.3 96.4h0.9v0.9h-0.9zM175.6 87.0h0.9v0.9h-0.9zM175.0 88.5h0.9v0.9h-0.9zM176.4 97.3h0.9v0.9h-0.9zM177.1 92.9h0.9v0.9h-0.9zM175.4 96.3h0.9v0.9h-0.9zM175.1 91.9h0.9v0.9h-0.9zM175.2 81.5h0.9v0.9h-0.9zM175.4 83.9h0.9v0.9h-0.9zM176.2 90.5h0.9v0.9h-0.9zM175.7 91.6h0.9v0.9h-0.9zM176.1 82.8h0.9v0.9h-0.9zM175.5 91.2h0.9v0.9h-0.9zM175.1 84.4h0.9v0.9h-0.9zM176.8 91.6h0.9v0.9h-0.9zM175.7 87.3h0.9v0.9h-0.9zM176.5 95.9h0.9v0.9h-0.9zM176.0 92.9h0.9v0.9h-0.9zM175.9 91.2h0.9v0.9h-0.9zM175.0 95.9h0.9v0.9h-0.9zM175.8 91.8h0.9v0.9h-0.9zM176.5 96.5h0.9v0.9h-0.9zM175.1 95.7h0.9v0.9h-0.9zM177.0 89.3h0.9v0.9h-0.9zM177.2 94.8h0.9v0.9h-0.9zM176.0 97.7h0.9v0.9h-0.9zM176.2 92.6h0.9v0.9h-0.9zM177.4 97.5h0.9v0.9h-0.9zM176.3 92.5h0.9v0.9h-0.9zM175.0 82.6h0.9v0.9h-0.9zM176.6 85.1h0.9v0.9h-0.9zM175.6 79.7h0.9v0.9h-0.9zM176.5 96.7h0.9v0.9h-0.9zM175.8 93.5h0.9v0.9h-0.9zM175.8 87.9h0.9v0.9h-0.9zM177.2 96.4h0.9v0.9h-0.9zM177.5 81.0h0.9v0.9h-0.9zM176.3 93.5h0.9v0.9h-0.9zM176.1 92.9h0.9v0.9h-0.9zM177.4 96.7h0.9v0.9h-0.9zM176.2 95.0h0.9v0.9h-0.9zM175.4 89.6h0.9v0.9h-0.9zM175.5 95.9h0.9v0.9h-0.9zM176.2 82.3h0.9v0.9h-0.9zM175.7 83.2h0.9v0.9h-0.9zM176.3 96.4h0.9v0.9h-0.9zM175.3 83.6h0.9v0.9h-0.9zM175.0 87.9h0.9v0.9h-0.9zM175.9 78.0h0.9v0.9h-0.9zM175.6 85.6h0.9v0.9h-0.9zM175.7 89.1h0.9v0.9h-0.9zM175.0 94.2h0.9v0.9h-0.9zM175.0 86.9h0.9v0.9h-0.9zM175.6 84.7h0.9v0.9h-0.9zM176.5 93.9h0.9v0.9h-0.9zM176.5 87.5h0.9v0.9h-0.9zM176.5 89.4h0.9v0.9h-0.9zM176.1 91.4h0.9v0.9h-0.9zM175.7 92.4h0.9v0.9h-0.9zM175.7 95.2h0.9v0.9h-0.9zM175.9 93.6h0.9v0.9h-0.9zM176.0 95.9h0.9v0.9h-0.9zM177.1 82.7h0.9v0.9h-0.9zM176.2 83.9h0.9v0.9h-0.9zM175.0 87.2h0.9v0.9h-0.9zM175.7 97.7h0.9v0.9h-0.9zM175.6 79.8h0.9v0.9h-0.9zM176.2 80.7h0.9v0.9h-0.9zM177.3 80.5h0.9v0.9h-0.9zM175.2 82.5h0.9v0.9h-0.9zM177.2 72.5h0.9v0.9h-0.9zM177.5 94.3h0.9v0.9h-0.9zM176.4 75.3h0.9v0.9h-0.9zM175.7 79.9h0.9v0.9h-0.9zM175.4 90.7h0.9v0.9h-0.9zM176.2 97.1h0.9v0.9h-0.9zM175.3 96.2h0.9v0.9h-0.9zM176.9 92.7h0.9v0.9h-0.9zM176.7 88.3h0.9v0.9h-0.9zM175.7 95.7h0.9v0.9h-0.9zM176.6 91.8h0.9v0.9h-0.9zM175.1 86.5h0.9v0.9h-0.9zM176.0 94.2h0.9v0.9h-0.9zM177.3 93.2h0.9v0.9h-0.9zM176.8 86.2h0.9v0.9h-0.9zM176.4 83.7h0.9v0.9h-0.9zM176.1 91.2h0.9v0.9h-0.9zM175.5 81.0h0.9v0.9h-0.9zM176.0 92.0h0.9v0.9h-0.9zM176.9 72.2h0.9v0.9h-0.9zM175.7 93.0h0.9v0.9h-0.9zM174.9 94.4h0.9v0.9h-0.9zM175.9 95.6h0.9v0.9h-0.9zM176.2 85.9h0.9v0.9h-0.9zM176.3 85.4h0.9v0.9h-0.9zM176.7 89.2h0.9v0.9h-0.9zM175.3 91.0h0.9v0.9h-0.9zM176.2 94.4h0.9v0.9h-0.9zM175.1 94.1h0.9v0.9h-0.9zM176.5 90.7h0.9v0.9h-0.9zM175.0 87.9h0.9v0.9h-0.9zM175.1 94.3h0.9v0.9h-0.9zM176.4 92.4h0.9v0.9h-0.9zM176.1 92.2h0.9v0.9h-0.9zM175.3 97.0h0.9v0.9h-0.9zM176.2 94.4h0.9v0.9h-0.9zM175.1 71.9h0.9v0.9h-0.9zM175.9 92.9h0.9v0.9h-0.9zM176.6 88.1h0.9v0.9h-0.9zM176.6 96.7h0.9v0.9h-0.9zM175.6 97.4h0.9v0.9h-0.9zM175.0 91.2h0.9v0.9h-0.9zM175.0 94.8h0.9v0.9h-0.9zM175.0 97.2h0.9v0.9h-0.9zM176.2 96.2h0.9v0.9h-0.9zM175.9 86.9h0.9v0.9h-0.9zM176.7 81.9h0.9v0.9h-0.9zM176.7 97.3h0.9v0.9h-0.9zM175.4 88.0h0.9v0.9h-0.9zM176.1 96.0h0.9v0.9h-0.9zM176.5 93.2h0.9v0.9h-0.9zM175.0 71.7h0.9v0.9h-0.9zM177.1 93.6h0.9v0.9h-0.9zM177.0 84.9h0.9v0.9h-0.9zM175.0 93.8h0.9v0.9h-0.9zM175.2 94.4h0.9v0.9h-0.9zM177.0 91.6h0.9v0.9h-0.9zM176.3 93.9h0.9v0.9h-0.9zM175.2 77.6h0.9v0.9h-0.9zM176.4 80.6h0.9v0.9h-0.9zM175.8 95.3h0.9v0.9h-0.9zM175.2 84.3h0.9v0.9h-0.9zM175.2 83.9h0.9v0.9h-0.9zM175.7 80.0h0.9v0.9h-0.9zM175.5 82.6h0.9v0.9h-0.9zM176.2 95.0h0.9v0.9h-0.9zM175.6 93.3h0.9v0.9h-0.9zM175.3 94.5h0.9v0.9h-0.9zM176.0 91.0h0.9v0.9h-0.9zM177.1 90.9h0.9v0.9h-0.9zM175.4 97.3h0.9v0.9h-0.9zM176.8 86.4h0.9v0.9h-0.9zM176.5 92.2h0.9v0.9h-0.9zM175.4 89.9h0.9v0.9h-0.9zM177.3 95.6h0.9v0.9h-0.9zM177.2 91.8h0.9v0.9h-0.9zM175.8 94.4h0.9v0.9h-0.9zM177.2 96.5h0.9v0.9h-0.9zM175.2 82.3h0.9v0.9h-0.9zM175.6 97.5h0.9v0.9h-0.9zM176.9 91.4h0.9v0.9h-0.9zM176.7 78.2h0.9v0.9h-0.9zM175.3 95.0h0.9v0.9h-0.9zM177.1 96.9h0.9v0.9h-0.9zM175.4 87.8h0.9v0.9h-0.9zM175.4 87.0h0.9v0.9h-0.9zM176.3 93.7h0.9v0.9h-0.9zM175.4 80.3h0.9v0.9h-0.9zM176.0 97.6h0.9v0.9h-0.9zM177.1 95.6h0.9v0.9h-0.9zM176.3 90.8h0.9v0.9h-0.9zM175.0 87.2h0.9v0.9h-0.9zM177.2 96.9h0.9v0.9h-0.9zM175.3 82.5h0.9v0.9h-0.9zM175.2 90.3h0.9v0.9h-0.9zM175.7 83.9h0.9v0.9h-0.9zM175.6 85.1h0.9v0.9h-0.9zM174.9 92.9h0.9v0.9h-0.9zM175.1 95.6h0.9v0.9h-0.9zM176.3 97.4h0.9v0.9h-0.9zM175.4 91.3h0.9v0.9h-0.9zM175.6 91.9h0.9v0.9h-0.9zM177.5 88.8h0.9v0.9h-0.9zM176.9 91.2h0.9v0.9h-0.9zM175.1 76.4h0.9v0.9h-0.9zM176.4 92.8h0.9v0.9h-0.9zM175.0 80.7h0.9v0.9h-0.9zM177.0 96.5h0.9v0.9h-0.9zM175.9 94.9h0.9v0.9h-0.9zM177.5 77.9h0.9v0.9h-0.9zM176.5 83.8h0.9v0.9h-0.9zM175.6 91.2h0.9v0.9h-0.9zM174.9 77.4h0.9v0.9h-0.9zM175.0 71.5h0.9v0.9h-0.9zM175.2 86.6h0.9v0.9h-0.9zM175.1 89.0h0.9v0.9h-0.9zM176.5 97.5h0.9v0.9h-0.9zM175.0 97.1h0.9v0.9h-0.9zM176.0 94.2h0.9v0.9h-0.9zM177.1 96.2h0.9v0.9h-0.9zM175.1 90.5h0.9v0.9h-0.9zM176.0 94.9h0.9v0.9h-0.9zM175.1 95.4h0.9v0.9h-0.9zM175.1 89.0h0.9v0.9h-0.9zM175.5 93.4h0.9v0.9h-0.9zM175.1 94.8h0.9v0.9h-0.9zM175.2 88.7h0.9v0.9h-0.9zM175.9 87.8h0.9v0.9h-0.9zM175.3 90.9h0.9v0.9h-0.9zM175.1 96.7h0.9v0.9h-0.9zM175.1 96.0h0.9v0.9h-0.9zM175.1 97.4h0.9v0.9h-0.9zM175.2 81.5h0.9v0.9h-0.9zM175.8 93.9h0.9v0.9h-0.9zM175.6 94.0h0.9v0.9h-0.9zM175.7 92.1h0.9v0.9h-0.9zM175.8 88.4h0.9v0.9h-0.9zM175.0 88.3h0.9v0.9h-0.9zM175.7 88.4h0.9v0.9h-0.9zM176.5 81.1h0.9v0.9h-0.9zM175.0 89.7h0.9v0.9h-0.9zM176.7 95.7h0.9v0.9h-0.9zM176.8 89.9h0.9v0.9h-0.9zM177.4 79.4h0.9v0.9h-0.9zM175.6 86.7h0.9v0.9h-0.9zM176.0 94.9h0.9v0.9h-0.9zM177.0 84.5h0.9v0.9h-0.9zM175.0 95.2h0.9v0.9h-0.9zM175.0 89.0h0.9v0.9h-0.9zM176.7 96.8h0.9v0.9h-0.9zM175.6 88.9h0.9v0.9h-0.9zM175.0 83.8h0.9v0.9h-0.9zM176.1 89.0h0.9v0.9h-0.9zM176.0 90.5h0.9v0.9h-0.9zM177.7 87.5h0.9v0.9h-0.9zM175.3 93.9h0.9v0.9h-0.9zM177.0 95.4h0.9v0.9h-0.9zM175.7 86.9h0.9v0.9h-0.9zM176.6 97.1h0.9v0.9h-0.9zM177.3 91.9h0.9v0.9h-0.9zM175.6 95.1h0.9v0.9h-0.9zM176.0 81.9h0.9v0.9h-0.9zM176.7 96.6h0.9v0.9h-0.9zM175.4 90.5h0.9v0.9h-0.9zM175.4 94.0h0.9v0.9h-0.9zM175.5 94.9h0.9v0.9h-0.9zM175.1 93.3h0.9v0.9h-0.9zM175.3 85.4h0.9v0.9h-0.9zM175.1 77.4h0.9v0.9h-0.9zM176.2 89.1h0.9v0.9h-0.9zM175.4 94.5h0.9v0.9h-0.9zM175.0 88.6h0.9v0.9h-0.9zM177.4 85.8h0.9v0.9h-0.9zM175.6 94.8h0.9v0.9h-0.9zM175.5 97.2h0.9v0.9h-0.9zM176.3 92.9h0.9v0.9h-0.9zM176.5 94.1h0.9v0.9h-0.9zM176.3 94.2h0.9v0.9h-0.9zM175.1 95.4h0.9v0.9h-0.9zM176.0 78.5h0.9v0.9h-0.9zM176.7 94.3h0.9v0.9h-0.9zM175.4 70.6h0.9v0.9h-0.9zM175.6 87.6h0.9v0.9h-0.9zM175.4 97.7h0.9v0.9h-0.9zM177.3 95.6h0.9v0.9h-0.9zM175.0 92.7h0.9v0.9h-0.9zM177.0 84.1h0.9v0.9h-0.9zM176.3 90.0h0.9v0.9h-0.9zM175.6 90.1h0.9v0.9h-0.9zM176.9 96.2h0.9v0.9h-0.9zM176.6 75.7h0.9v0.9h-0.9zM175.5 94.2h0.9v0.9h-0.9zM175.4 79.1h0.9v0.9h-0.9zM175.4 78.4h0.9v0.9h-0.9zM175.6 85.8h0.9v0.9h-0.9zM177.1 92.7h0.9v0.9h-0.9zM175.2 94.7h0.9v0.9h-0.9zM175.2 96.6h0.9v0.9h-0.9zM176.0 95.4h0.9v0.9h-0.9zM177.0 88.2h0.9v0.9h-0.9zM176.8 92.9h0.9v0.9h-0.9zM175.1 90.3h0.9v0.9h-0.9zM176.1 93.6h0.9v0.9h-0.9zM175.4 96.1h0.9v0.9h-0.9zM176.8 95.4h0.9v0.9h-0.9zM176.9 89.8h0.9v0.9h-0.9zM175.6 97.1h0.9v0.9h-0.9zM175.5 97.3h0.9v0.9h-0.9zM175.0 94.8h0.9v0.9h-0.9zM175.7 91.4h0.9v0.9h-0.9zM175.5 92.0h0.9v0.9h-0.9zM176.7 95.4h0.9v0.9h-0.9zM175.8 71.1h0.9v0.9h-0.9zM176.8 94.1h0.9v0.9h-0.9zM175.3 90.2h0.9v0.9h-0.9zM176.9 97.4h0.9v0.9h-0.9zM175.5 97.3h0.9v0.9h-0.9zM176.4 96.8h0.9v0.9h-0.9zM175.2 90.4h0.9v0.9h-0.9zM175.5 95.3h0.9v0.9h-0.9zM176.3 94.9h0.9v0.9h-0.9zM175.2 92.3h0.9v0.9h-0.9zM175.5 92.2h0.9v0.9h-0.9zM175.0 85.6h0.9v0.9h-0.9zM175.8 84.5h0.9v0.9h-0.9zM176.5 85.5h0.9v0.9h-0.9zM175.7 83.8h0.9v0.9h-0.9zM175.7 77.8h0.9v0.9h-0.9zM176.7 85.6h0.9v0.9h-0.9zM175.9 81.5h0.9v0.9h-0.9zM175.9 74.6h0.9v0.9h-0.9zM177.3 83.7h0.9v0.9h-0.9zM177.2 87.2h0.9v0.9h-0.9zM175.5 94.7h0.9v0.9h-0.9zM175.9 87.4h0.9v0.9h-0.9zM175.9 96.3h0.9v0.9h-0.9zM175.2 83.0h0.9v0.9h-0.9zM175.2 91.0h0.9v0.9h-0.9zM175.7 97.2h0.9v0.9h-0.9zM175.7 80.4h0.9v0.9h-0.9zM175.5 90.5h0.9v0.9h-0.9zM176.6 97.5h0.9v0.9h-0.9zM175.0 81.3h0.9v0.9h-0.9zM175.1 90.3h0.9v0.9h-0.9zM175.0 84.0h0.9v0.9h-0.9zM177.0 77.0h0.9v0.9h-0.9zM177.9 78.6h0.9v0.9h-0.9zM175.7 92.7h0.9v0.9h-0.9zM175.7 96.7h0.9v0.9h-0.9zM175.7 92.2h0.9v0.9h-0.9zM175.3 92.7h0.9v0.9h-0.9zM175.8 94.7h0.9v0.9h-0.9zM176.8 93.1h0.9v0.9h-0.9zM175.1 89.7h0.9v0.9h-0.9zM176.4 91.8h0.9v0.9h-0.9zM175.8 81.3h0.9v0.9h-0.9zM176.4 85.1h0.9v0.9h-0.9zM176.1 94.5h0.9v0.9h-0.9zM175.6 96.4h0.9v0.9h-0.9zM176.0 84.9h0.9v0.9h-0.9zM176.7 95.5h0.9v0.9h-0.9zM176.0 96.4h0.9v0.9h-0.9zM175.2 96.3h0.9v0.9h-0.9z" fill="#4fc0f5" fill-opacity="1"/>
<path d="M179.1 87.5h0.9v0.9h-0.9zM179.6 96.5h0.9v0.9h-0.9zM180.9 94.9h0.9v0.9h-0.9zM180.5 96.6h0.9v0.9h-0.9zM181.8 95.6h0.9v0.9h-0.9zM181.7 93.4h0.9v0.9h-0.9zM180.4 96.3h0.9v0.9h-0.9zM180.4 94.5h0.9v0.9h-0.9zM181.0 85.9h0.9v0.9h-0.9zM180.3 96.8h0.9v0.9h-0.9zM182.1 95.2h0.9v0.9h-0.9zM181.9 97.3h0.9v0.9h-0.9zM181.6 90.5h0.9v0.9h-0.9zM182.1 94.2h0.9v0.9h-0.9zM181.2 96.8h0.9v0.9h-0.9zM181.0 93.1h0.9v0.9h-0.9zM181.5 85.3h0.9v0.9h-0.9zM181.4 95.8h0.9v0.9h-0.9zM182.1 93.9h0.9v0.9h-0.9zM181.4 95.9h0.9v0.9h-0.9zM180.6 94.4h0.9v0.9h-0.9zM182.0 96.9h0.9v0.9h-0.9zM180.7 94.7h0.9v0.9h-0.9zM180.9 95.9h0.9v0.9h-0.9zM182.0 95.3h0.9v0.9h-0.9zM180.9 97.1h0.9v0.9h-0.9zM180.2 97.1h0.9v0.9h-0.9zM181.3 93.9h0.9v0.9h-0.9zM181.2 80.0h0.9v0.9h-0.9zM182.0 96.7h0.9v0.9h-0.9zM181.2 92.4h0.9v0.9h-0.9zM181.8 88.1h0.9v0.9h-0.9zM181.4 94.7h0.9v0.9h-0.9zM179.3 96.4h0.9v0.9h-0.9zM181.4 86.8h0.9v0.9h-0.9zM181.2 92.8h0.9v0.9h-0.9zM181.5 82.1h0.9v0.9h-0.9zM180.6 93.2h0.9v0.9h-0.9zM182.0 97.5h0.9v0.9h-0.9zM182.1 82.4h0.9v0.9h-0.9zM181.6 97.6h0.9v0.9h-0.9zM181.3 90.0h0.9v0.9h-0.9zM181.8 91.2h0.9v0.9h-0.9zM180.0 96.9h0.9v0.9h-0.9zM182.0 80.3h0.9v0.9h-0.9zM180.8 94.3h0.9v0.9h-0.9zM181.8 95.2h0.9v0.9h-0.9zM180.8 97.1h0.9v0.9h-0.9zM181.7 85.4h0.9v0.9h-0.9zM180.9 97.0h0.9v0.9h-0.9zM181.9 85.3h0.9v0.9h-0.9zM181.7 93.8h0.9v0.9h-0.9zM181.9 93.8h0.9v0.9h-0.9zM181.9 94.4h0.9v0.9h-0.9zM181.3 95.0h0.9v0.9h-0.9zM180.8 94.9h0.9v0.9h-0.9zM182.1 97.3h0.9v0.9h-0.9zM181.5 91.4h0.9v0.9h-0.9zM181.7 95.1h0.9v0.9h-0.9zM181.6 97.5h0.9v0.9h-0.9zM181.6 95.1h0.9v0.9h-0.9zM181.4 85.6h0.9v0.9h-0.9zM180.5 97.2h0.9v0.9h-0.9zM182.0 86.4h0.9v0.9h-0.9zM180.3 94.6h0.9v0.9h-0.9zM182.0 89.2h0.9v0.9h-0.9zM181.7 89.9h0.9v0.9h-0.9zM180.7 93.6h0.9v0.9h-0.9zM181.5 94.0h0.9v0.9h-0.9zM180.6 85.3h0.9v0.9h-0.9zM181.9 95.0h0.9v0.9h-0.9zM181.1 96.4h0.9v0.9h-0.9zM181.8 89.6h0.9v0.9h-0.9zM179.7 97.3h0.9v0.9h-0.9zM182.1 96.5h0.9v0.9h-0.9zM182.1 95.3h0.9v0.9h-0.9zM180.9 93.2h0.9v0.9h-0.9zM180.6 94.7h0.9v0.9h-0.9zM181.5 78.1h0.9v0.9h-0.9zM182.2 88.9h0.9v0.9h-0.9zM181.6 86.9h0.9v0.9h-0.9zM181.8 90.1h0.9v0.9h-0.9zM181.0 96.1h0.9v0.9h-0.9zM181.9 85.1h0.9v0.9h-0.9zM179.3 78.4h0.9v0.9h-0.9zM180.4 94.7h0.9v0.9h-0.9zM181.6 94.3h0.9v0.9h-0.9zM180.4 79.1h0.9v0.9h-0.9zM181.3 96.6h0.9v0.9h-0.9zM179.9 80.4h0.9v0.9h-0.9zM180.8 86.4h0.9v0.9h-0.9zM181.5 89.4h0.9v0.9h-0.9zM181.6 96.9h0.9v0.9h-0.9zM182.0 93.9h0.9v0.9h-0.9zM182.1 96.3h0.9v0.9h-0.9zM180.7 90.2h0.9v0.9h-0.9zM181.2 83.5h0.9v0.9h-0.9zM181.2 95.0h0.9v0.9h-0.9zM181.8 94.1h0.9v0.9h-0.9zM182.1 87.2h0.9v0.9h-0.9zM179.9 90.5h0.9v0.9h-0.9zM181.6 95.5h0.9v0.9h-0.9zM181.4 88.2h0.9v0.9h-0.9zM180.2 96.1h0.9v0.9h-0.9zM182.0 96.6h0.9v0.9h-0.9zM179.5 79.1h0.9v0.9h-0.9zM181.6 92.4h0.9v0.9h-0.9zM182.1 95.9h0.9v0.9h-0.9zM181.2 85.7h0.9v0.9h-0.9zM180.8 80.9h0.9v0.9h-0.9zM181.0 89.0h0.9v0.9h-0.9zM180.8 84.2h0.9v0.9h-0.9zM181.4 79.0h0.9v0.9h-0.9zM181.0 76.1h0.9v0.9h-0.9zM181.9 91.4h0.9v0.9h-0.9zM181.4 92.5h0.9v0.9h-0.9zM180.9 96.1h0.9v0.9h-0.9zM181.5 94.1h0.9v0.9h-0.9zM180.5 89.6h0.9v0.9h-0.9zM181.1 97.0h0.9v0.9h-0.9zM181.8 87.9h0.9v0.9h-0.9zM180.8 95.5h0.9v0.9h-0.9zM182.1 95.3h0.9v0.9h-0.9zM181.3 85.1h0.9v0.9h-0.9zM181.4 92.4h0.9v0.9h-0.9zM180.0 97.5h0.9v0.9h-0.9zM180.7 96.8h0.9v0.9h-0.9zM181.9 94.6h0.9v0.9h-0.9zM180.8 80.8h0.9v0.9h-0.9zM182.1 94.4h0.9v0.9h-0.9zM181.4 88.6h0.9v0.9h-0.9zM181.6 96.6h0.9v0.9h-0.9zM180.5 86.1h0.9v0.9h-0.9zM181.2 97.3h0.9v0.9h-0.9zM181.5 95.3h0.9v0.9h-0.9zM181.6 92.6h0.9v0.9h-0.9zM181.7 87.3h0.9v0.9h-0.9zM179.6 89.2h0.9v0.9h-0.9zM181.4 91.0h0.9v0.9h-0.9zM181.8 85.2h0.9v0.9h-0.9zM182.0 97.3h0.9v0.9h-0.9zM180.3 93.6h0.9v0.9h-0.9zM181.8 90.4h0.9v0.9h-0.9zM180.7 91.6h0.9v0.9h-0.9zM181.2 95.5h0.9v0.9h-0.9zM182.2 94.1h0.9v0.9h-0.9zM182.0 96.0h0.9v0.9h-0.9zM181.4 93.2h0.9v0.9h-0.9zM181.6 76.2h0.9v0.9h-0.9zM181.6 90.5h0.9v0.9h-0.9zM180.2 88.4h0.9v0.9h-0.9zM180.7 81.3h0.9v0.9h-0.9zM181.6 94.7h0.9v0.9h-0.9zM180.6 96.5h0.9v0.9h-0.9zM181.9 96.7h0.9v0.9h-0.9zM180.5 97.0h0.9v0.9h-0.9zM180.9 97.5h0.9v0.9h-0.9zM180.4 96.2h0.9v0.9h-0.9zM182.1 96.6h0.9v0.9h-0.9zM181.0 89.0h0.9v0.9h-0.9zM181.6 91.8h0.9v0.9h-0.9zM181.6 87.5h0.9v0.9h-0.9zM182.0 86.6h0.9v0.9h-0.9zM182.1 87.8h0.9v0.9h-0.9zM180.2 91.1h0.9v0.9h-0.9zM180.3 92.9h0.9v0.9h-0.9zM180.8 94.5h0.9v0.9h-0.9zM181.8 93.9h0.9v0.9h-0.9zM180.9 94.6h0.9v0.9h-0.9zM180.3 97.0h0.9v0.9h-0.9zM182.2 92.9h0.9v0.9h-0.9zM179.9 94.8h0.9v0.9h-0.9zM179.7 94.1h0.9v0.9h-0.9zM179.8 96.7h0.9v0.9h-0.9zM181.9 84.0h0.9v0.9h-0.9zM181.7 89.4h0.9v0.9h-0.9zM181.4 85.2h0.9v0.9h-0.9zM181.6 90.8h0.9v0.9h-0.9zM181.0 93.8h0.9v0.9h-0.9zM180.9 94.2h0.9v0.9h-0.9zM181.9 92.0h0.9v0.9h-0.9zM181.4 94.1h0.9v0.9h-0.9zM181.6 87.6h0.9v0.9h-0.9zM181.4 95.9h0.9v0.9h-0.9zM181.1 80.3h0.9v0.9h-0.9zM181.1 75.7h0.9v0.9h-0.9zM182.1 89.5h0.9v0.9h-0.9zM182.0 93.1h0.9v0.9h-0.9zM180.2 97.0h0.9v0.9h-0.9zM181.9 95.5h0.9v0.9h-0.9zM182.0 94.2h0.9v0.9h-0.9zM179.7 92.4h0.9v0.9h-0.9zM181.7 90.4h0.9v0.9h-0.9zM180.6 94.6h0.9v0.9h-0.9zM180.7 90.7h0.9v0.9h-0.9zM182.0 95.6h0.9v0.9h-0.9zM181.3 94.3h0.9v0.9h-0.9zM181.7 97.4h0.9v0.9h-0.9zM180.6 95.2h0.9v0.9h-0.9zM180.5 87.4h0.9v0.9h-0.9zM180.9 94.0h0.9v0.9h-0.9zM182.0 80.6h0.9v0.9h-0.9zM182.0 90.4h0.9v0.9h-0.9zM182.0 94.1h0.9v0.9h-0.9zM181.6 95.3h0.9v0.9h-0.9zM181.1 96.5h0.9v0.9h-0.9zM182.0 92.2h0.9v0.9h-0.9zM181.6 93.9h0.9v0.9h-0.9zM181.8 81.9h0.9v0.9h-0.9zM182.1 89.4h0.9v0.9h-0.9zM181.9 89.6h0.9v0.9h-0.9zM181.6 97.5h0.9v0.9h-0.9zM182.0 94.8h0.9v0.9h-0.9zM181.3 90.8h0.9v0.9h-0.9zM180.9 91.1h0.9v0.9h-0.9zM181.7 75.7h0.9v0.9h-0.9zM180.0 78.5h0.9v0.9h-0.9zM180.6 95.8h0.9v0.9h-0.9zM179.7 96.9h0.9v0.9h-0.9zM182.0 83.9h0.9v0.9h-0.9zM181.9 92.7h0.9v0.9h-0.9zM181.3 97.3h0.9v0.9h-0.9zM180.1 96.2h0.9v0.9h-0.9zM181.4 96.5h0.9v0.9h-0.9zM181.5 95.0h0.9v0.9h-0.9zM181.3 95.1h0.9v0.9h-0.9zM180.6 93.2h0.9v0.9h-0.9zM181.4 91.4h0.9v0.9h-0.9zM181.0 87.8h0.9v0.9h-0.9zM179.9 92.3h0.9v0.9h-0.9zM180.4 93.9h0.9v0.9h-0.9zM180.6 94.1h0.9v0.9h-0.9zM181.8 93.1h0.9v0.9h-0.9zM182.0 97.1h0.9v0.9h-0.9zM180.3 96.8h0.9v0.9h-0.9zM181.1 96.1h0.9v0.9h-0.9zM181.4 94.2h0.9v0.9h-0.9zM180.9 94.2h0.9v0.9h-0.9zM182.0 97.3h0.9v0.9h-0.9zM181.0 97.2h0.9v0.9h-0.9zM182.2 95.9h0.9v0.9h-0.9zM181.9 96.2h0.9v0.9h-0.9zM180.9 89.6h0.9v0.9h-0.9zM181.5 88.2h0.9v0.9h-0.9zM180.8 91.1h0.9v0.9h-0.9zM181.0 96.8h0.9v0.9h-0.9zM182.1 90.0h0.9v0.9h-0.9zM181.3 96.6h0.9v0.9h-0.9zM182.1 94.6h0.9v0.9h-0.9zM181.5 95.2h0.9v0.9h-0.9zM181.5 94.0h0.9v0.9h-0.9zM180.5 97.6h0.9v0.9h-0.9zM181.6 84.3h0.9v0.9h-0.9zM180.2 97.6h0.9v0.9h-0.9zM181.6 96.2h0.9v0.9h-0.9zM181.7 96.8h0.9v0.9h-0.9zM180.4 95.6h0.9v0.9h-0.9zM180.3 90.9h0.9v0.9h-0.9zM181.2 94.8h0.9v0.9h-0.9zM180.9 95.7h0.9v0.9h-0.9zM181.6 92.6h0.9v0.9h-0.9zM180.3 76.8h0.9v0.9h-0.9zM182.1 96.5h0.9v0.9h-0.9zM180.7 90.0h0.9v0.9h-0.9zM181.5 87.9h0.9v0.9h-0.9zM181.2 94.7h0.9v0.9h-0.9zM180.4 87.7h0.9v0.9h-0.9zM180.6 82.8h0.9v0.9h-0.9zM182.1 96.4h0.9v0.9h-0.9zM181.1 97.3h0.9v0.9h-0.9zM182.2 87.7h0.9v0.9h-0.9zM181.9 96.7h0.9v0.9h-0.9zM181.5 87.7h0.9v0.9h-0.9zM181.9 93.2h0.9v0.9h-0.9zM181.2 94.8h0.9v0.9h-0.9zM181.8 95.4h0.9v0.9h-0.9zM182.2 76.7h0.9v0.9h-0.9zM181.4 91.3h0.9v0.9h-0.9zM180.5 93.5h0.9v0.9h-0.9zM180.8 92.0h0.9v0.9h-0.9zM180.9 87.5h0.9v0.9h-0.9zM181.9 93.6h0.9v0.9h-0.9zM181.4 87.4h0.9v0.9h-0.9zM182.1 93.6h0.9v0.9h-0.9zM182.2 82.8h0.9v0.9h-0.9zM181.4 95.5h0.9v0.9h-0.9zM180.8 92.5h0.9v0.9h-0.9zM182.1 96.4h0.9v0.9h-0.9zM181.1 93.7h0.9v0.9h-0.9zM181.9 95.3h0.9v0.9h-0.9zM182.2 96.1h0.9v0.9h-0.9zM180.1 92.2h0.9v0.9h-0.9zM181.8 91.8h0.9v0.9h-0.9zM181.9 88.5h0.9v0.9h-0.9zM180.7 95.0h0.9v0.9h-0.9zM181.3 96.4h0.9v0.9h-0.9zM181.5 79.7h0.9v0.9h-0.9zM182.1 97.6h0.9v0.9h-0.9zM180.6 95.3h0.9v0.9h-0.9zM181.7 93.5h0.9v0.9h-0.9zM181.9 93.5h0.9v0.9h-0.9zM181.8 77.6h0.9v0.9h-0.9zM180.8 84.0h0.9v0.9h-0.9zM181.7 95.9h0.9v0.9h-0.9zM181.3 93.4h0.9v0.9h-0.9zM181.4 97.2h0.9v0.9h-0.9zM181.8 85.1h0.9v0.9h-0.9zM182.1 92.0h0.9v0.9h-0.9zM181.2 88.5h0.9v0.9h-0.9zM182.1 90.2h0.9v0.9h-0.9zM181.0 93.3h0.9v0.9h-0.9zM181.5 96.5h0.9v0.9h-0.9zM181.5 94.3h0.9v0.9h-0.9zM181.4 77.4h0.9v0.9h-0.9zM181.0 97.5h0.9v0.9h-0.9zM179.9 93.5h0.9v0.9h-0.9zM181.9 95.4h0.9v0.9h-0.9zM181.8 89.8h0.9v0.9h-0.9zM181.4 89.1h0.9v0.9h-0.9zM181.6 89.6h0.9v0.9h-0.9zM181.0 97.1h0.9v0.9h-0.9zM180.8 87.6h0.9v0.9h-0.9zM179.8 90.6h0.9v0.9h-0.9zM181.5 96.8h0.9v0.9h-0.9zM181.2 89.0h0.9v0.9h-0.9zM181.1 80.5h0.9v0.9h-0.9zM182.1 79.4h0.9v0.9h-0.9zM181.9 83.0h0.9v0.9h-0.9zM181.0 84.8h0.9v0.9h-0.9zM181.5 91.4h0.9v0.9h-0.9zM181.6 94.6h0.9v0.9h-0.9zM180.5 91.9h0.9v0.9h-0.9zM179.6 95.7h0.9v0.9h-0.9zM180.4 93.3h0.9v0.9h-0.9zM180.2 77.7h0.9v0.9h-0.9zM180.4 95.9h0.9v0.9h-0.9zM181.5 84.4h0.9v0.9h-0.9zM180.0 95.6h0.9v0.9h-0.9zM181.7 93.0h0.9v0.9h-0.9zM181.8 84.6h0.9v0.9h-0.9zM181.5 95.6h0.9v0.9h-0.9zM179.8 93.5h0.9v0.9h-0.9zM181.0 78.8h0.9v0.9h-0.9zM180.3 94.8h0.9v0.9h-0.9zM180.6 87.1h0.9v0.9h-0.9zM180.9 87.4h0.9v0.9h-0.9zM181.9 88.1h0.9v0.9h-0.9zM179.8 91.7h0.9v0.9h-0.9zM181.2 97.2h0.9v0.9h-0.9zM180.5 88.8h0.9v0.9h-0.9zM180.4 91.8h0.9v0.9h-0.9zM181.2 94.7h0.9v0.9h-0.9zM181.6 96.7h0.9v0.9h-0.9zM180.9 95.7h0.9v0.9h-0.9zM181.7 81.0h0.9v0.9h-0.9zM181.6 92.7h0.9v0.9h-0.9zM181.9 95.5h0.9v0.9h-0.9zM181.5 94.3h0.9v0.9h-0.9zM181.5 75.7h0.9v0.9h-0.9zM181.4 79.3h0.9v0.9h-0.9zM179.7 89.7h0.9v0.9h-0.9zM181.4 96.5h0.9v0.9h-0.9zM181.2 90.7h0.9v0.9h-0.9zM181.6 93.8h0.9v0.9h-0.9zM180.0 89.2h0.9v0.9h-0.9zM181.1 84.0h0.9v0.9h-0.9zM181.1 94.8h0.9v0.9h-0.9zM181.6 96.1h0.9v0.9h-0.9zM181.0 86.1h0.9v0.9h-0.9zM181.7 93.5h0.9v0.9h-0.9zM180.5 95.7h0.9v0.9h-0.9zM181.2 90.3h0.9v0.9h-0.9zM180.7 86.3h0.9v0.9h-0.9z" fill="#f9bcc8" fill-opacity="1"/>
<line x1="175.37" y1="16.00" x2="175.37" y2="111.90" stroke="#111" stroke-width="0.55" stroke-dasharray="1.1 0.9"/>
<line x1="182.63" y1="16.00" x2="182.63" y2="111.90" stroke="#111" stroke-width="0.55" stroke-dasharray="1.1 0.9"/>
<line x1="131.60" y1="98.13" x2="227.50" y2="98.13" stroke="#111" stroke-width="0.55" stroke-dasharray="1.1 0.9"/>
<rect x="131.60" y="16.00" width="95.90" height="95.90" fill="none" stroke="#333" stroke-width="0.6" />
<line x1="130.40" y1="107.70" x2="131.60" y2="107.70" stroke="#111" stroke-width="0.4" />
<text x="129.6" y="109.25" font-size="4.5" font-weight="bold" text-anchor="end" fill="#111"  stroke="#111" stroke-width="0.12">0.0</text>
<line x1="130.40" y1="89.30" x2="131.60" y2="89.30" stroke="#111" stroke-width="0.4" />
<text x="129.6" y="90.85" font-size="4.5" font-weight="bold" text-anchor="end" fill="#111"  stroke="#111" stroke-width="0.12">2.5</text>
<line x1="130.40" y1="70.90" x2="131.60" y2="70.90" stroke="#111" stroke-width="0.4" />
<text x="129.6" y="72.45" font-size="4.5" font-weight="bold" text-anchor="end" fill="#111"  stroke="#111" stroke-width="0.12">5.0</text>
<line x1="130.40" y1="52.50" x2="131.60" y2="52.50" stroke="#111" stroke-width="0.4" />
<text x="129.6" y="54.05" font-size="4.5" font-weight="bold" text-anchor="end" fill="#111"  stroke="#111" stroke-width="0.12">7.5</text>
<line x1="130.40" y1="34.10" x2="131.60" y2="34.10" stroke="#111" stroke-width="0.4" />
<text x="129.6" y="35.64999999999999" font-size="4.5" font-weight="bold" text-anchor="end" fill="#111"  stroke="#111" stroke-width="0.12">10.0</text>
<line x1="130.40" y1="15.70" x2="131.60" y2="15.70" stroke="#111" stroke-width="0.4" />
<text x="129.6" y="17.250000000000004" font-size="4.5" font-weight="bold" text-anchor="end" fill="#111"  stroke="#111" stroke-width="0.12">12.5</text>
<line x1="142.70" y1="111.90" x2="142.70" y2="113.10" stroke="#111" stroke-width="0.4" />
<text x="142.7" y="117.7" font-size="4.5" font-weight="bold" text-anchor="middle" fill="#111"  stroke="#111" stroke-width="0.12">-10</text>
<line x1="160.85" y1="111.90" x2="160.85" y2="113.10" stroke="#111" stroke-width="0.4" />
<text x="160.85" y="117.7" font-size="4.5" font-weight="bold" text-anchor="middle" fill="#111"  stroke="#111" stroke-width="0.12">-5</text>
<line x1="179.00" y1="111.90" x2="179.00" y2="113.10" stroke="#111" stroke-width="0.4" />
<text x="179.0" y="117.7" font-size="4.5" font-weight="bold" text-anchor="middle" fill="#111"  stroke="#111" stroke-width="0.12">0</text>
<line x1="197.15" y1="111.90" x2="197.15" y2="113.10" stroke="#111" stroke-width="0.4" />
<text x="197.15" y="117.7" font-size="4.5" font-weight="bold" text-anchor="middle" fill="#111"  stroke="#111" stroke-width="0.12">5</text>
<line x1="215.30" y1="111.90" x2="215.30" y2="113.10" stroke="#111" stroke-width="0.4" />
<text x="215.3" y="117.7" font-size="4.5" font-weight="bold" text-anchor="middle" fill="#111"  stroke="#111" stroke-width="0.12">10</text>
<text x="179.5" y="123.7" font-size="4.5" font-weight="bold" text-anchor="middle" fill="#111"  stroke="#111" stroke-width="0.12">log2(FC)</text>
<text x="180" y="13.6" font-size="4.6" font-weight="bold" text-anchor="middle" fill="#111"  stroke="#111" stroke-width="0.12">Volcano Plot</text>
<text x="117.6" y="62.5" font-size="4.5" font-weight="bold" text-anchor="middle" fill="#111" transform="rotate(-90 117.6 62.5)"  stroke="#111" stroke-width="0.12">-log10(P-value)</text>
<text x="136.2" y="23.8" font-size="2.8" font-weight="normal" text-anchor="start" fill="#333" >Sig : 962</text>
<text x="136.2" y="27.2" font-size="2.8" font-weight="normal" text-anchor="start" fill="#333" >p &lt; 0.05</text>
<text x="136.2" y="30.6" font-size="2.8" font-weight="normal" text-anchor="start" fill="#333" >log2(FC) &lt; -1</text>
<text x="136.2" y="34.0" font-size="2.8" font-weight="normal" text-anchor="start" fill="#333" >Down</text>
<text x="222" y="23.8" font-size="2.8" font-weight="normal" text-anchor="end" fill="#333" >Sig : 1479</text>
<text x="222" y="27.2" font-size="2.8" font-weight="normal" text-anchor="end" fill="#333" >p &lt; 0.05</text>
<text x="222" y="30.6" font-size="2.8" font-weight="normal" text-anchor="end" fill="#333" >log2(FC) &gt; 1</text>
<text x="222" y="34.0" font-size="2.8" font-weight="normal" text-anchor="end" fill="#333" >Up</text>
<text x="226.5" y="100.3" font-size="2.6" font-weight="normal" text-anchor="end" fill="#555" font-style="italic">p-value=0.05</text>
<circle cx="230.4" cy="55.00" r="0.55" fill="#2b7bab"/>
<text x="233" y="56.6" font-size="4.6" font-weight="bold" text-anchor="start" fill="#111"  stroke="#111" stroke-width="0.12">Significant Down</text>
<circle cx="230.4" cy="60.23" r="0.55" fill="#4fc0f5"/>
<text x="233" y="61.830000000000005" font-size="4.6" font-weight="bold" text-anchor="start" fill="#111"  stroke="#111" stroke-width="0.12">Down</text>
<circle cx="230.4" cy="65.46" r="0.55" fill="#c9d5dd"/>
<text x="233" y="67.06" font-size="4.6" font-weight="bold" text-anchor="start" fill="#111"  stroke="#111" stroke-width="0.12">Non-Significant</text>
<circle cx="230.4" cy="70.69" r="0.55" fill="#f9bcc8"/>
<text x="233" y="72.28999999999999" font-size="4.6" font-weight="bold" text-anchor="start" fill="#111"  stroke="#111" stroke-width="0.12">Up</text>
<circle cx="230.4" cy="75.92" r="0.55" fill="#f8432f"/>
<text x="233" y="77.52" font-size="4.6" font-weight="bold" text-anchor="start" fill="#111"  stroke="#111" stroke-width="0.12">Significant up</text>
<rect x="343.00" y="12.50" width="64.50" height="4.40" fill="#00e81a" />
<text x="340.6" y="16.2" font-size="4.4" font-weight="normal" text-anchor="end" fill="#222" stroke="#222" stroke-width="0.12">protein kinase binding</text>
<rect x="343.00" y="18.34" width="43.50" height="4.40" fill="#00e81a" />
<text x="340.6" y="22.04" font-size="4.4" font-weight="normal" text-anchor="end" fill="#222" stroke="#222" stroke-width="0.12">chromatin binding</text>
<rect x="343.00" y="24.18" width="42.10" height="4.40" fill="#00e81a" />
<text x="340.6" y="27.88" font-size="4.4" font-weight="normal" text-anchor="end" fill="#222" stroke="#222" stroke-width="0.12">protein domain specific binding</text>
<rect x="343.00" y="30.02" width="37.90" height="4.40" fill="#00e81a" />
<text x="340.6" y="33.72" font-size="4.4" font-weight="normal" text-anchor="end" fill="#222" stroke="#222" stroke-width="0.12">protein phosphorylation</text>
<rect x="343.00" y="35.86" width="36.30" height="4.40" fill="#00e81a" />
<text x="340.6" y="39.56" font-size="4.4" font-weight="normal" text-anchor="end" fill="#222" stroke="#222" stroke-width="0.12">DNA binding</text>
<rect x="343.00" y="41.70" width="26.80" height="4.40" fill="#00e81a" />
<text x="340.6" y="45.4" font-size="4.4" font-weight="normal" text-anchor="end" fill="#222" stroke="#222" stroke-width="0.12">protein kinase activity</text>
<rect x="343.00" y="47.54" width="20.80" height="4.40" fill="#00e81a" />
<text x="340.6" y="51.239999999999995" font-size="4.4" font-weight="normal" text-anchor="end" fill="#222" stroke="#222" stroke-width="0.12">translational initiation</text>
<rect x="343.00" y="53.38" width="20.00" height="4.40" fill="#00e81a" />
<text x="340.6" y="57.08" font-size="4.4" font-weight="normal" text-anchor="end" fill="#222" stroke="#222" stroke-width="0.12">protein kinase C binding</text>
<rect x="343.00" y="59.22" width="15.80" height="4.40" fill="#00e81a" />
<text x="340.6" y="62.92" font-size="4.4" font-weight="normal" text-anchor="end" fill="#222" stroke="#222" stroke-width="0.12">transcription coregulator activity</text>
<rect x="343.00" y="65.06" width="14.80" height="4.40" fill="#00e81a" />
<text x="340.6" y="68.76" font-size="4.4" font-weight="normal" text-anchor="end" fill="#222" stroke="#222" stroke-width="0.12">signal transduction</text>
<rect x="343.00" y="70.90" width="13.20" height="4.40" fill="#00e81a" />
<text x="340.6" y="74.6" font-size="4.4" font-weight="normal" text-anchor="end" fill="#222" stroke="#222" stroke-width="0.12">growth factor binding</text>
<rect x="343.00" y="76.74" width="10.00" height="4.40" fill="#00e81a" />
<text x="340.6" y="80.44" font-size="4.4" font-weight="normal" text-anchor="end" fill="#222" stroke="#222" stroke-width="0.12">synaptic membrane</text>
<rect x="343.00" y="82.58" width="10.00" height="4.40" fill="#00e81a" />
<text x="340.6" y="86.28" font-size="4.4" font-weight="normal" text-anchor="end" fill="#222" stroke="#222" stroke-width="0.12">mitotic cytokinesis</text>
<rect x="343.00" y="88.42" width="10.00" height="4.40" fill="#00e81a" />
<text x="340.6" y="92.12" font-size="4.4" font-weight="normal" text-anchor="end" fill="#222" stroke="#222" stroke-width="0.12">cell cycle</text>
<rect x="343.00" y="94.26" width="9.60" height="4.40" fill="#00e81a" />
<text x="340.6" y="97.96" font-size="4.4" font-weight="normal" text-anchor="end" fill="#222" stroke="#222" stroke-width="0.12">mediator complex binding</text>
<rect x="343.00" y="100.10" width="9.40" height="4.40" fill="#00e81a" />
<text x="340.6" y="103.8" font-size="4.4" font-weight="normal" text-anchor="end" fill="#222" stroke="#222" stroke-width="0.12">regulation of endocytosis</text>
<rect x="343.00" y="105.94" width="9.20" height="4.40" fill="#00e81a" />
<text x="340.6" y="109.64" font-size="4.4" font-weight="normal" text-anchor="end" fill="#222" stroke="#222" stroke-width="0.12">vesicle fusion</text>
<rect x="292.80" y="12.25" width="49.20" height="4.90" fill="none" stroke="#f08a5a" stroke-width="0.85" rx="0.6"/>
<rect x="292.80" y="18.09" width="49.20" height="4.90" fill="none" stroke="#4aa0dc" stroke-width="0.85" rx="0.6"/>
<rect x="292.80" y="29.77" width="49.20" height="4.90" fill="none" stroke="#f08a5a" stroke-width="0.85" rx="0.6"/>
<rect x="292.80" y="35.61" width="49.20" height="4.90" fill="none" stroke="#4aa0dc" stroke-width="0.85" rx="0.6"/>
<line x1="342.70" y1="11.60" x2="342.70" y2="110.70" stroke="#111" stroke-width="0.6" />
<line x1="342.40" y1="110.70" x2="406.80" y2="110.70" stroke="#111" stroke-width="0.6" />
<line x1="343.00" y1="110.70" x2="343.00" y2="111.90" stroke="#111" stroke-width="0.4" />
<text x="343" y="115.4" font-size="4.25" font-weight="bold" text-anchor="middle" fill="#111"  stroke="#111" stroke-width="0.12">0.0</text>
<line x1="355.30" y1="110.70" x2="355.30" y2="111.90" stroke="#111" stroke-width="0.4" />
<text x="355.3" y="115.4" font-size="4.25" font-weight="bold" text-anchor="middle" fill="#111"  stroke="#111" stroke-width="0.12">2.5</text>
<line x1="367.80" y1="110.70" x2="367.80" y2="111.90" stroke="#111" stroke-width="0.4" />
<text x="367.8" y="115.4" font-size="4.25" font-weight="bold" text-anchor="middle" fill="#111"  stroke="#111" stroke-width="0.12">5.0</text>
<line x1="380.30" y1="110.70" x2="380.30" y2="111.90" stroke="#111" stroke-width="0.4" />
<text x="380.3" y="115.4" font-size="4.25" font-weight="bold" text-anchor="middle" fill="#111"  stroke="#111" stroke-width="0.12">7.5</text>
<line x1="392.90" y1="110.70" x2="392.90" y2="111.90" stroke="#111" stroke-width="0.4" />
<text x="392.9" y="115.4" font-size="4.25" font-weight="bold" text-anchor="middle" fill="#111"  stroke="#111" stroke-width="0.12">10.0</text>
<line x1="405.20" y1="110.70" x2="405.20" y2="111.90" stroke="#111" stroke-width="0.4" />
<text x="405.2" y="115.4" font-size="4.25" font-weight="bold" text-anchor="middle" fill="#111"  stroke="#111" stroke-width="0.12">12.5</text>
<text x="375.3" y="120.6" font-size="4.3" font-weight="bold" text-anchor="middle" fill="#111"  stroke="#111" stroke-width="0.12">-log10(P-value)</text>
<text x="370.7" y="8.7" font-size="4.5" font-weight="bold" text-anchor="middle" fill="#111"  stroke="#111" stroke-width="0.12">GO Enrichment</text>
<rect x="494.30" y="13.20" width="52.70" height="5.00" fill="#0a35f5" />
<text x="492" y="17.2" font-size="4.3" font-weight="normal" text-anchor="end" fill="#222" stroke="#222" stroke-width="0.12">Protein kinase domain</text>
<rect x="494.30" y="19.77" width="51.70" height="5.00" fill="#0a35f5" />
<text x="492" y="23.77" font-size="4.3" font-weight="normal" text-anchor="end" fill="#222" stroke="#222" stroke-width="0.12">Protein kinase-like domain superfamily</text>
<rect x="494.30" y="26.34" width="41.50" height="5.00" fill="#0a35f5" />
<text x="492" y="30.34" font-size="4.3" font-weight="normal" text-anchor="end" fill="#222" stroke="#222" stroke-width="0.12">Protein kinase, ATP binding site</text>
<rect x="494.30" y="32.91" width="19.10" height="5.00" fill="#0a35f5" />
<text x="492" y="36.91" font-size="4.3" font-weight="normal" text-anchor="end" fill="#222" stroke="#222" stroke-width="0.12">Bromodomain</text>
<rect x="494.30" y="39.48" width="19.10" height="5.00" fill="#0a35f5" />
<text x="492" y="43.480000000000004" font-size="4.3" font-weight="normal" text-anchor="end" fill="#222" stroke="#222" stroke-width="0.12">Filamin family</text>
<rect x="494.30" y="46.05" width="18.30" height="5.00" fill="#0a35f5" />
<text x="492" y="50.05" font-size="4.3" font-weight="normal" text-anchor="end" fill="#222" stroke="#222" stroke-width="0.12">BRCT domain superfamily</text>
<rect x="494.30" y="52.62" width="18.30" height="5.00" fill="#0a35f5" />
<text x="492" y="56.620000000000005" font-size="4.3" font-weight="normal" text-anchor="end" fill="#222" stroke="#222" stroke-width="0.12">VPS9 domain</text>
<rect x="494.30" y="59.19" width="13.70" height="5.00" fill="#0a35f5" />
<text x="492" y="63.19" font-size="4.3" font-weight="normal" text-anchor="end" fill="#222" stroke="#222" stroke-width="0.12">Nop domain</text>
<rect x="494.30" y="65.76" width="12.10" height="5.00" fill="#0a35f5" />
<text x="492" y="69.76" font-size="4.3" font-weight="normal" text-anchor="end" fill="#222" stroke="#222" stroke-width="0.12">Mib-herc2</text>
<rect x="494.30" y="72.33" width="11.90" height="5.00" fill="#0a35f5" />
<text x="492" y="76.33" font-size="4.3" font-weight="normal" text-anchor="end" fill="#222" stroke="#222" stroke-width="0.12">La-type HTH domain</text>
<rect x="494.30" y="78.90" width="11.90" height="5.00" fill="#0a35f5" />
<text x="492" y="82.9" font-size="4.3" font-weight="normal" text-anchor="end" fill="#222" stroke="#222" stroke-width="0.12">Post-SET domain</text>
<rect x="494.30" y="85.47" width="11.50" height="5.00" fill="#0a35f5" />
<text x="492" y="89.47000000000001" font-size="4.3" font-weight="normal" text-anchor="end" fill="#222" stroke="#222" stroke-width="0.12">Rubicon Homology Domain</text>
<rect x="494.30" y="92.04" width="10.70" height="5.00" fill="#0a35f5" />
<text x="492" y="96.04" font-size="4.3" font-weight="normal" text-anchor="end" fill="#222" stroke="#222" stroke-width="0.12">LCCL domain</text>
<rect x="494.30" y="98.61" width="10.70" height="5.00" fill="#0a35f5" />
<text x="492" y="102.61" font-size="4.3" font-weight="normal" text-anchor="end" fill="#222" stroke="#222" stroke-width="0.12">RNA helicase UPF1, 1B domain</text>
<rect x="494.30" y="105.18" width="10.70" height="5.00" fill="#0a35f5" />
<text x="492" y="109.18" font-size="4.3" font-weight="normal" text-anchor="end" fill="#222" stroke="#222" stroke-width="0.12">Drebrin-like protein, SH3 domain</text>
<rect x="415.50" y="12.75" width="77.60" height="5.90" fill="none" stroke="#f08a5a" stroke-width="0.85" rx="0.5"/>
<rect x="415.50" y="19.32" width="77.60" height="5.90" fill="none" stroke="#f08a5a" stroke-width="0.85" rx="0.5"/>
<rect x="415.50" y="25.89" width="77.60" height="5.90" fill="none" stroke="#f08a5a" stroke-width="0.85" rx="0.5"/>
<line x1="494.00" y1="12.30" x2="494.00" y2="110.70" stroke="#111" stroke-width="0.6" />
<line x1="493.70" y1="110.70" x2="547.20" y2="110.70" stroke="#111" stroke-width="0.6" />
<line x1="494.00" y1="110.70" x2="494.00" y2="111.90" stroke="#111" stroke-width="0.4" />
<text x="494.0" y="115.4" font-size="4.25" font-weight="bold" text-anchor="middle" fill="#111"  stroke="#111" stroke-width="0.12">0</text>
<line x1="507.16" y1="110.70" x2="507.16" y2="111.90" stroke="#111" stroke-width="0.4" />
<text x="507.16" y="115.4" font-size="4.25" font-weight="bold" text-anchor="middle" fill="#111"  stroke="#111" stroke-width="0.12">2</text>
<line x1="520.32" y1="110.70" x2="520.32" y2="111.90" stroke="#111" stroke-width="0.4" />
<text x="520.32" y="115.4" font-size="4.25" font-weight="bold" text-anchor="middle" fill="#111"  stroke="#111" stroke-width="0.12">4</text>
<line x1="533.48" y1="110.70" x2="533.48" y2="111.90" stroke="#111" stroke-width="0.4" />
<text x="533.48" y="115.4" font-size="4.25" font-weight="bold" text-anchor="middle" fill="#111"  stroke="#111" stroke-width="0.12">6</text>
<line x1="546.64" y1="110.70" x2="546.64" y2="111.90" stroke="#111" stroke-width="0.4" />
<text x="546.64" y="115.4" font-size="4.25" font-weight="bold" text-anchor="middle" fill="#111"  stroke="#111" stroke-width="0.12">8</text>
<text x="520.5" y="120.6" font-size="4.3" font-weight="bold" text-anchor="middle" fill="#111"  stroke="#111" stroke-width="0.12">-log10(P-value)</text>
<text x="519.5" y="9.6" font-size="4.5" font-weight="bold" text-anchor="middle" fill="#111"  stroke="#111" stroke-width="0.12">InterPro Enrichment</text>
<rect x="27.60" y="144.10" width="132.30" height="170.10" fill="#2176bd" />
<rect x="27.60" y="144.10" width="66.15" height="170.10" fill="#fca064" />
<rect x="27.60" y="144.10" width="22.45" height="8.91" fill="#fd9d62" />
<rect x="49.65" y="144.10" width="22.45" height="8.91" fill="#fc9059" />
<rect x="71.70" y="144.10" width="22.05" height="8.91" fill="#fdb070" />
<rect x="27.60" y="152.60" width="22.45" height="8.91" fill="#fdb070" />
<rect x="49.65" y="152.60" width="22.45" height="8.91" fill="#fc9a5e" />
<rect x="71.70" y="152.60" width="22.05" height="8.91" fill="#fc965c" />
<rect x="27.60" y="161.11" width="22.45" height="8.91" fill="#fdb070" />
<rect x="49.65" y="161.11" width="22.45" height="8.91" fill="#fc9a5e" />
<rect x="71.70" y="161.11" width="22.05" height="8.91" fill="#fc965c" />
<rect x="27.60" y="169.62" width="22.45" height="8.91" fill="#fc9a60" />
<rect x="49.65" y="169.62" width="22.45" height="8.91" fill="#fdac6c" />
<rect x="71.70" y="169.62" width="22.05" height="8.91" fill="#fda566" />
<rect x="27.60" y="178.12" width="22.45" height="8.91" fill="#fda566" />
<rect x="49.65" y="178.12" width="22.45" height="8.91" fill="#fb7748" />
<rect x="71.70" y="178.12" width="22.05" height="8.91" fill="#fdcb8c" />
<rect x="27.60" y="186.62" width="22.45" height="8.91" fill="#f2321e" />
<rect x="49.65" y="186.62" width="22.45" height="8.91" fill="#fdc88e" />
<rect x="71.70" y="186.62" width="22.05" height="8.91" fill="#fed8a8" />
<rect x="27.60" y="195.13" width="22.45" height="8.91" fill="#fca163" />
<rect x="49.65" y="195.13" width="22.45" height="8.91" fill="#fc935e" />
<rect x="71.70" y="195.13" width="22.05" height="8.91" fill="#fdaf6e" />
<rect x="27.60" y="203.63" width="22.45" height="8.91" fill="#fb6540" />
<rect x="49.65" y="203.63" width="22.45" height="8.91" fill="#fdb274" />
<rect x="71.70" y="203.63" width="22.05" height="8.91" fill="#fdcb90" />
<rect x="93.75" y="203.63" width="22.05" height="8.51" fill="#2a7cc1" />
<rect x="115.80" y="203.63" width="22.05" height="8.51" fill="#1f73ba" />
<rect x="137.85" y="203.63" width="22.05" height="8.51" fill="#2d7fc3" />
<rect x="27.60" y="212.14" width="22.45" height="8.91" fill="#fda566" />
<rect x="49.65" y="212.14" width="22.45" height="8.91" fill="#fdb478" />
<rect x="71.70" y="212.14" width="22.05" height="8.91" fill="#fc8552" />
<rect x="137.85" y="212.14" width="22.05" height="8.51" fill="#2779bf" />
<rect x="27.60" y="220.64" width="22.45" height="8.91" fill="#fb6d44" />
<rect x="49.65" y="220.64" width="22.45" height="8.91" fill="#fdae70" />
<rect x="71.70" y="220.64" width="22.05" height="8.91" fill="#fdbf80" />
<rect x="27.60" y="229.15" width="22.45" height="8.91" fill="#fdab6a" />
<rect x="49.65" y="229.15" width="22.45" height="8.91" fill="#fda063" />
<rect x="71.70" y="229.15" width="22.05" height="8.91" fill="#fc8f58" />
<rect x="27.60" y="237.66" width="22.45" height="8.91" fill="#fda768" />
<rect x="49.65" y="237.66" width="22.45" height="8.91" fill="#fc9b60" />
<rect x="71.70" y="237.66" width="22.05" height="8.91" fill="#fdac6c" />
<rect x="27.60" y="246.16" width="22.45" height="8.91" fill="#fb7044" />
<rect x="49.65" y="246.16" width="22.45" height="8.91" fill="#fdc584" />
<rect x="71.70" y="246.16" width="22.05" height="8.91" fill="#fda566" />
<rect x="27.60" y="254.67" width="22.45" height="8.91" fill="#fc9a5e" />
<rect x="49.65" y="254.67" width="22.45" height="8.91" fill="#fc9a5e" />
<rect x="71.70" y="254.67" width="22.05" height="8.91" fill="#fdae6e" />
<rect x="27.60" y="263.17" width="22.45" height="8.91" fill="#fdb674" />
<rect x="49.65" y="263.17" width="22.45" height="8.91" fill="#fc9a5e" />
<rect x="71.70" y="263.17" width="22.05" height="8.91" fill="#fc8a55" />
<rect x="27.60" y="271.68" width="22.45" height="8.91" fill="#fda266" />
<rect x="49.65" y="271.68" width="22.45" height="8.91" fill="#fc9d62" />
<rect x="71.70" y="271.68" width="22.05" height="8.91" fill="#fc9d62" />
<rect x="27.60" y="280.18" width="22.45" height="8.91" fill="#fda768" />
<rect x="49.65" y="280.18" width="22.45" height="8.91" fill="#f4301f" />
<rect x="71.70" y="280.18" width="22.05" height="8.91" fill="#f7ecd5" />
<rect x="115.80" y="280.18" width="22.05" height="8.51" fill="#3282c5" />
<rect x="27.60" y="288.69" width="22.45" height="8.91" fill="#fda266" />
<rect x="49.65" y="288.69" width="22.45" height="8.91" fill="#fc9a60" />
<rect x="71.70" y="288.69" width="22.05" height="8.91" fill="#fda064" />
<rect x="27.60" y="297.19" width="22.45" height="8.91" fill="#fda266" />
<rect x="49.65" y="297.19" width="22.45" height="8.91" fill="#fdb674" />
<rect x="71.70" y="297.19" width="22.05" height="8.91" fill="#fc9059" />
<rect x="27.60" y="305.70" width="22.45" height="8.51" fill="#fda266" />
<rect x="49.65" y="305.70" width="22.45" height="8.51" fill="#fda266" />
<rect x="71.70" y="305.70" width="22.05" height="8.51" fill="#fda266" />
<text x="162.2" y="149.80249999999998" font-size="4.05" font-weight="bold" text-anchor="start" fill="#111"  stroke="#111" stroke-width="0.12">Plcg1(1253)</text>
<text x="162.2" y="158.30749999999998" font-size="4.05" font-weight="bold" text-anchor="start" fill="#111"  stroke="#111" stroke-width="0.12">Brsk1(399)</text>
<text x="162.2" y="166.8125" font-size="4.05" font-weight="bold" text-anchor="start" fill="#111"  stroke="#111" stroke-width="0.12">Ulk1(469)</text>
<text x="162.2" y="175.3175" font-size="4.05" font-weight="bold" text-anchor="start" fill="#111"  stroke="#111" stroke-width="0.12">Lrrk2(909)</text>
<text x="162.2" y="183.8225" font-size="4.05" font-weight="bold" text-anchor="start" fill="#111"  stroke="#111" stroke-width="0.12">Raf1(43)</text>
<text x="162.2" y="192.3275" font-size="4.05" font-weight="bold" text-anchor="start" fill="#111"  stroke="#111" stroke-width="0.12">Camk2d(525)</text>
<text x="162.2" y="200.83249999999998" font-size="4.05" font-weight="bold" text-anchor="start" fill="#111"  stroke="#111" stroke-width="0.12">Pak1(2)</text>
<text x="162.2" y="209.33749999999998" font-size="4.05" font-weight="bold" text-anchor="start" fill="#111"  stroke="#111" stroke-width="0.12">Camkk1(458)</text>
<text x="162.2" y="217.84249999999997" font-size="4.05" font-weight="bold" text-anchor="start" fill="#111"  stroke="#111" stroke-width="0.12">Kalrn(1790)</text>
<text x="162.2" y="226.3475" font-size="4.05" font-weight="bold" text-anchor="start" fill="#111"  stroke="#111" stroke-width="0.12">Snrk(563)</text>
<text x="162.2" y="234.8525" font-size="4.05" font-weight="bold" text-anchor="start" fill="#111"  stroke="#111" stroke-width="0.12">Ncoa3(214)</text>
<text x="162.2" y="243.3575" font-size="4.05" font-weight="bold" text-anchor="start" fill="#111"  stroke="#111" stroke-width="0.12">Nfatc1(233)</text>
<text x="162.2" y="251.8625" font-size="4.05" font-weight="bold" text-anchor="start" fill="#111"  stroke="#111" stroke-width="0.12">Nipbl(553)</text>
<text x="162.2" y="260.3675" font-size="4.05" font-weight="bold" text-anchor="start" fill="#111"  stroke="#111" stroke-width="0.12">Rarg(451)</text>
<text x="162.2" y="268.8725" font-size="4.05" font-weight="bold" text-anchor="start" fill="#111"  stroke="#111" stroke-width="0.12">Nfatc3(345)</text>
<text x="162.2" y="277.3775" font-size="4.05" font-weight="bold" text-anchor="start" fill="#111"  stroke="#111" stroke-width="0.12">Kmt2a(2119)</text>
<text x="162.2" y="285.8825" font-size="4.05" font-weight="bold" text-anchor="start" fill="#111"  stroke="#111" stroke-width="0.12">Hsf1(326)</text>
<text x="162.2" y="294.3875" font-size="4.05" font-weight="bold" text-anchor="start" fill="#111"  stroke="#111" stroke-width="0.12">Nup153(339)</text>
<text x="162.2" y="302.8925" font-size="4.05" font-weight="bold" text-anchor="start" fill="#111"  stroke="#111" stroke-width="0.12">Mecp2(360)</text>
<text x="162.2" y="311.3975" font-size="4.05" font-weight="bold" text-anchor="start" fill="#111"  stroke="#111" stroke-width="0.12">Crtc2(456)</text>
<rect x="160.80" y="145.00" width="25.90" height="7.51" fill="none" stroke="#f0824e" stroke-width="0.9" rx="0.5"/>
<rect x="160.80" y="230.05" width="25.90" height="7.51" fill="none" stroke="#f0824e" stroke-width="0.9" rx="0.5"/>
<text x="40.125" y="317.4" font-size="4.6" font-weight="bold" text-anchor="end" fill="#111" transform="rotate(-45 40.125 317.4)"  stroke="#111" stroke-width="0.12">PTN_1</text>
<text x="62.175000000000004" y="317.4" font-size="4.6" font-weight="bold" text-anchor="end" fill="#111" transform="rotate(-45 62.175000000000004 317.4)"  stroke="#111" stroke-width="0.12">PTN_2</text>
<text x="84.225" y="317.4" font-size="4.6" font-weight="bold" text-anchor="end" fill="#111" transform="rotate(-45 84.225 317.4)"  stroke="#111" stroke-width="0.12">PTN_3</text>
<text x="106.275" y="317.4" font-size="4.6" font-weight="bold" text-anchor="end" fill="#111" transform="rotate(-45 106.275 317.4)"  stroke="#111" stroke-width="0.12">Control_1</text>
<text x="128.32500000000002" y="317.4" font-size="4.6" font-weight="bold" text-anchor="end" fill="#111" transform="rotate(-45 128.32500000000002 317.4)"  stroke="#111" stroke-width="0.12">Control_2</text>
<text x="150.375" y="317.4" font-size="4.6" font-weight="bold" text-anchor="end" fill="#111" transform="rotate(-45 150.375 317.4)"  stroke="#111" stroke-width="0.12">Control_3</text>
<rect x="11.80" y="149.60" width="3.50" height="49.80" fill="url(#cb)" />
<text x="16.6" y="158.20000000000002" font-size="3.9" font-weight="bold" text-anchor="start" fill="#111"  stroke="#111" stroke-width="0.12">1</text>
<text x="16.6" y="167.20000000000002" font-size="3.9" font-weight="bold" text-anchor="start" fill="#111"  stroke="#111" stroke-width="0.12">0.5</text>
<text x="16.6" y="175.3" font-size="3.9" font-weight="bold" text-anchor="start" fill="#111"  stroke="#111" stroke-width="0.12">0</text>
<text x="16.6" y="184.3" font-size="3.9" font-weight="bold" text-anchor="start" fill="#111"  stroke="#111" stroke-width="0.12">-0.5</text>
<text x="16.6" y="193.20000000000002" font-size="3.9" font-weight="bold" text-anchor="start" fill="#111"  stroke="#111" stroke-width="0.12">-1</text>
<rect x="227.90" y="153.00" width="28.10" height="27.90" fill="#020202" />
<rect x="257.00" y="153.00" width="28.10" height="27.90" fill="#020202" />
<rect x="286.10" y="153.00" width="28.10" height="27.90" fill="#020202" />
<rect x="227.90" y="181.90" width="28.10" height="27.90" fill="#020202" />
<rect x="257.00" y="181.90" width="28.10" height="27.90" fill="#020202" />
<rect x="286.10" y="181.90" width="28.10" height="27.90" fill="#020202" />
<ellipse cx="236.6" cy="164.2" rx="1.5" ry="1.3" fill="#1a2cff" transform="rotate(0 236.6 164.2)" filter="url(#b1)"/>
<ellipse cx="252.4" cy="160.8" rx="1.6" ry="1.5" fill="#1a2cff" transform="rotate(0 252.4 160.8)" filter="url(#b1)"/>
<ellipse cx="294.8" cy="164.2" rx="1.5" ry="1.3" fill="#1a2cff" transform="rotate(0 294.8 164.2)" filter="url(#b1)"/>
<ellipse cx="310.6" cy="160.8" rx="1.6" ry="1.5" fill="#1a2cff" transform="rotate(0 310.6 160.8)" filter="url(#b1)"/>
<polygon points="258.5,167.6 261.9,164.5 265.9,162.6 269.7,161.4 269.9,163.0 265.9,165.0 262.4,167.5 259.4,169.0" fill="#1a7a1a" fill-opacity="0.45" filter="url(#b2)"/>
<polygon points="276.4,160.0 278.9,159.0 280.9,160.0 278.9,161.5" fill="#1a7a1a" fill-opacity="0.35" filter="url(#b2)"/>
<polygon points="287.6,167.6 291.0,164.5 295.0,162.6 298.8,161.4 299.0,163.0 295.0,165.0 291.5,167.5 288.5,169.0" fill="#1a7a1a" fill-opacity="0.45" filter="url(#b2)"/>
<polygon points="305.5,160.0 308.0,159.0 310.0,160.0 308.0,161.5" fill="#1a7a1a" fill-opacity="0.35" filter="url(#b2)"/>
<clipPath id="cf2"><rect x="257" y="181.9" width="28.1" height="27.9"/></clipPath><clipPath id="cf3"><rect x="286.1" y="181.9" width="28.1" height="27.9"/></clipPath>
<g clip-path="url(#cf2)">
<polygon points="264.9,195.4 266.2,196.4 266.1,199.0 265.1,201.6 263.3,204.0 260.9,205.6 258.5,206.6 257.9,204.0 258.5,200.8 260.3,198.0 262.5,196.2" fill="#22aa22" fill-opacity="0.8" filter="url(#b2)"/>
<polygon points="282.5,182.0 281.5,184.0 280.1,186.4 278.2,188.0 275.2,189.4 271.9,191.6 268.9,193.8 266.4,196.0 265.2,195.2 267.9,192.6 270.9,190.4 273.9,188.4 275.7,186.6 277.3,184.8 279.4,183.2 281.4,182.0" fill="#30d430" fill-opacity="0.9" filter="url(#b1)"/>
<polygon points="283.1,198.6 279.9,200.0 275.9,201.8 272.4,203.2 270.4,204.0 272.4,205.5 273.4,207.0 269.9,208.0 265.9,208.2 261.9,207.5 258.9,207.8 257.3,207.0 259.9,205.5 263.4,204.6 266.9,203.8 269.9,202.5 273.9,200.6 277.9,199.2 281.9,198.2" fill="#30d430" fill-opacity="0.9" filter="url(#b1)"/>
</g>
<g clip-path="url(#cf3)">
<polygon points="294.0,195.4 295.3,196.4 295.2,199.0 294.2,201.6 292.4,204.0 290.0,205.6 287.6,206.6 287.0,204.0 287.6,200.8 289.4,198.0 291.6,196.2" fill="#22aa22" fill-opacity="0.8" filter="url(#b2)"/>
<polygon points="311.6,182.0 310.6,184.0 309.2,186.4 307.3,188.0 304.3,189.4 301.0,191.6 298.0,193.8 295.5,196.0 294.3,195.2 297.0,192.6 300.0,190.4 303.0,188.4 304.8,186.6 306.4,184.8 308.5,183.2 310.5,182.0" fill="#30d430" fill-opacity="0.9" filter="url(#b1)"/>
<polygon points="312.2,198.6 309.0,200.0 305.0,201.8 301.5,203.2 299.5,204.0 301.5,205.5 302.5,207.0 299.0,208.0 295.0,208.2 291.0,207.5 288.0,207.8 286.4,207.0 289.0,205.5 292.5,204.6 296.0,203.8 299.0,202.5 303.0,200.6 307.0,199.2 311.0,198.2" fill="#30d430" fill-opacity="0.9" filter="url(#b1)"/>
</g>
<ellipse cx="249.2" cy="186.4" rx="1.6" ry="1.3" fill="#1a2cff" transform="rotate(-30 249.2 186.4)" filter="url(#b1)"/>
<ellipse cx="233.6" cy="199.2" rx="1.6" ry="1.4" fill="#1a2cff" transform="rotate(0 233.6 199.2)" filter="url(#b1)"/>
<ellipse cx="240.2" cy="205.3" rx="1.5" ry="1.3" fill="#1a2cff" transform="rotate(0 240.2 205.3)" filter="url(#b1)"/>
<ellipse cx="307.1" cy="186.3" rx="1.6" ry="1.3" fill="#1e6cff" transform="rotate(-30 307.1 186.3)" filter="url(#b1)"/>
<ellipse cx="291.1" cy="199.1" rx="1.6" ry="1.4" fill="#1e6cff" transform="rotate(0 291.1 199.1)" filter="url(#b1)"/>
<ellipse cx="297.7" cy="205.1" rx="1.5" ry="1.2" fill="#1e6cff" transform="rotate(0 297.7 205.1)" filter="url(#b1)"/>
<rect x="309.00" y="179.90" width="3.20" height="0.60" fill="#c8c8c8" />
<rect x="309.00" y="208.40" width="3.20" height="0.60" fill="#c8c8c8" />
<text x="242.3" y="150.7" font-size="4.85" font-weight="bold" text-anchor="middle" fill="#1c74e0"  stroke="#1c74e0" stroke-width="0.12">DAPI</text>
<text x="258" y="147.4" font-size="3.4" font-weight="bold" text-anchor="start" fill="#22b422"  stroke="#22b422" stroke-width="0.12">Phospho-</text>
<text x="258" y="151.2" font-size="3.4" font-weight="bold" text-anchor="start" fill="#22b422"  stroke="#22b422" stroke-width="0.12">PLCG1(Tyr1253)</text>
<text x="299.6" y="150.6" font-size="4.55" font-weight="bold" text-anchor="middle" fill="#111"  stroke="#111" stroke-width="0.12">Merge</text>
<text x="227.1" y="169.4" font-size="4.5" font-weight="bold" text-anchor="end" fill="#111"  stroke="#111" stroke-width="0.12">Control</text>
<text x="227.1" y="196.6" font-size="4.5" font-weight="bold" text-anchor="end" fill="#111"  stroke="#111" stroke-width="0.12">PTN</text>
<rect x="228.70" y="234.10" width="28.00" height="27.80" fill="#020202" />
<rect x="257.75" y="234.10" width="28.00" height="27.80" fill="#020202" />
<rect x="286.80" y="234.10" width="28.00" height="27.80" fill="#020202" />
<rect x="228.70" y="263.05" width="28.00" height="27.80" fill="#020202" />
<rect x="257.75" y="263.05" width="28.00" height="27.80" fill="#020202" />
<rect x="286.80" y="263.05" width="28.00" height="27.80" fill="#020202" />
<rect x="228.70" y="292.00" width="28.00" height="27.80" fill="#020202" />
<rect x="257.75" y="292.00" width="28.00" height="27.80" fill="#020202" />
<rect x="286.80" y="292.00" width="28.00" height="27.80" fill="#020202" />
<ellipse cx="237.6" cy="245.3" rx="1.4" ry="1.3" fill="#1a2cff" transform="rotate(0 237.6 245.3)" filter="url(#b1)"/>
<ellipse cx="247.8" cy="243.8" rx="1.4" ry="1.3" fill="#1a2cff" transform="rotate(0 247.8 243.8)" filter="url(#b1)"/>
<ellipse cx="238.6" cy="266.0" rx="1.7" ry="1.2" fill="#1a2cff" transform="rotate(-25 238.6 266.0)" filter="url(#b1)"/>
<ellipse cx="251.9" cy="280.4" rx="1.5" ry="1.4" fill="#1a2cff" transform="rotate(0 251.9 280.4)" filter="url(#b1)"/>
<ellipse cx="231.0" cy="284.5" rx="1.4" ry="1.3" fill="#1a2cff" transform="rotate(0 231.0 284.5)" filter="url(#b1)"/>
<ellipse cx="251.6" cy="300.7" rx="1.5" ry="1.4" fill="#1a2cff" transform="rotate(0 251.6 300.7)" filter="url(#b1)"/>
<ellipse cx="238.8" cy="307.2" rx="1.7" ry="1.2" fill="#1a2cff" transform="rotate(-20 238.8 307.2)" filter="url(#b1)"/>
<ellipse cx="295.7" cy="245.3" rx="1.4" ry="1.3" fill="#1a2cff" transform="rotate(0 295.7 245.3)" filter="url(#b1)"/>
<ellipse cx="305.9" cy="243.8" rx="1.4" ry="1.3" fill="#1a2cff" transform="rotate(0 305.9 243.8)" filter="url(#b1)"/>
<ellipse cx="296.7" cy="266.0" rx="1.7" ry="1.2" fill="#1a2cff" transform="rotate(-25 296.7 266.0)" filter="url(#b1)"/>
<ellipse cx="310.0" cy="280.4" rx="1.5" ry="1.4" fill="#1a2cff" transform="rotate(0 310.0 280.4)" filter="url(#b1)"/>
<ellipse cx="289.1" cy="284.5" rx="1.4" ry="1.3" fill="#1a2cff" transform="rotate(0 289.1 284.5)" filter="url(#b1)"/>
<ellipse cx="309.7" cy="300.7" rx="1.5" ry="1.4" fill="#1a2cff" transform="rotate(0 309.7 300.7)" filter="url(#b1)"/>
<ellipse cx="296.9" cy="307.2" rx="1.7" ry="1.2" fill="#1a2cff" transform="rotate(-20 296.9 307.2)" filter="url(#b1)"/>
<polygon points="259.5,248.0 263.0,245.3 268.0,244.3 274.0,243.2 280.3,242.3 279.5,244.0 273.0,245.6 267.0,246.5 263.0,248.3 260.5,249.6" fill="#1a7a1a" fill-opacity="0.33" filter="url(#b2)"/>
<polygon points="260.4,268.4 264.0,266.0 269.0,264.2 274.2,262.9 272.0,264.8 267.0,266.8 262.0,269.2" fill="#34dc34" fill-opacity="0.95" filter="url(#b1)"/>
<polygon points="276.3,278.2 280.0,277.6 284.0,278.6 282.6,282.6 279.3,283.6 277.0,281.5" fill="#34dc34" fill-opacity="0.95" filter="url(#b1)"/>
<polygon points="258.4,283.2 261.0,283.6 264.0,285.0 266.0,287.2 262.0,287.2 258.8,286.0" fill="#34dc34" fill-opacity="0.95" filter="url(#b1)"/>
<polygon points="264.5,308.3 270.5,305.2 277.5,301.8 283.5,298.6 283.9,299.7 277.5,303.2 270.5,306.6 265.3,309.3" fill="#1a7a1a" fill-opacity="0.5" filter="url(#b2)"/>
<polygon points="288.6,248.0 292.1,245.3 297.1,244.3 303.1,243.2 309.4,242.3 308.6,244.0 302.1,245.6 296.1,246.5 292.1,248.3 289.6,249.6" fill="#1a7a1a" fill-opacity="0.33" filter="url(#b2)"/>
<polygon points="289.4,268.4 293.1,266.0 298.1,264.2 303.2,262.9 301.1,264.8 296.1,266.8 291.1,269.2" fill="#34dc34" fill-opacity="0.95" filter="url(#b1)"/>
<polygon points="305.4,278.2 309.1,277.6 313.1,278.6 311.7,282.6 308.4,283.6 306.1,281.5" fill="#34dc34" fill-opacity="0.95" filter="url(#b1)"/>
<polygon points="287.4,283.2 290.1,283.6 293.1,285.0 295.1,287.2 291.1,287.2 287.9,286.0" fill="#34dc34" fill-opacity="0.95" filter="url(#b1)"/>
<polygon points="293.6,308.3 299.6,305.2 306.6,301.8 312.6,298.6 312.9,299.7 306.6,303.2 299.6,306.6 294.4,309.3" fill="#1a7a1a" fill-opacity="0.5" filter="url(#b2)"/>
<ellipse cx="309.2" cy="280.3" rx="1.2" ry="1.0" fill="#1e6cff" transform="rotate(0 309.2 280.3)" filter="url(#b1)"/>
<ellipse cx="291.4" cy="284.8" rx="1.2" ry="0.9" fill="#1e6cff" transform="rotate(0 291.4 284.8)" filter="url(#b1)"/>
<rect x="309.60" y="261.10" width="3.20" height="0.60" fill="#c8c8c8" />
<rect x="309.60" y="290.00" width="3.20" height="0.60" fill="#c8c8c8" />
<rect x="309.60" y="318.70" width="3.20" height="0.60" fill="#c8c8c8" />
<text x="242.5" y="230.9" font-size="4.85" font-weight="bold" text-anchor="middle" fill="#1c74e0"  stroke="#1c74e0" stroke-width="0.12">DAPI</text>
<text x="258.5" y="228.2" font-size="3.4" font-weight="bold" text-anchor="start" fill="#22b422"  stroke="#22b422" stroke-width="0.12">Phospho-</text>
<text x="258.5" y="232.1" font-size="3.4" font-weight="bold" text-anchor="start" fill="#22b422"  stroke="#22b422" stroke-width="0.12">PLCG1(Tyr1253)</text>
<text x="299.9" y="230.8" font-size="4.55" font-weight="bold" text-anchor="middle" fill="#111"  stroke="#111" stroke-width="0.12">Merge</text>
<text x="227.4" y="247.4" font-size="4.5" font-weight="bold" text-anchor="end" fill="#111"  stroke="#111" stroke-width="0.12">IgG</text>
<text x="227.4" y="274.9" font-size="4.5" font-weight="bold" text-anchor="end" fill="#111"  stroke="#111" stroke-width="0.12">PTN+IgG</text>
<text x="227.4" y="302.3" font-size="4.65" font-weight="bold" text-anchor="end" fill="#111"  stroke="#111" stroke-width="0.12">PTN+</text>
<text x="227.4" y="307.8" font-size="4.65" font-weight="bold" text-anchor="end" fill="#111"  stroke="#111" stroke-width="0.12">PTPRZ1 Ab</text>
<rect x="448.75" y="153.80" width="28.10" height="27.80" fill="#020202" />
<rect x="477.85" y="153.80" width="28.10" height="27.80" fill="#020202" />
<rect x="506.95" y="153.80" width="28.10" height="27.80" fill="#020202" />
<rect x="448.75" y="183.10" width="28.10" height="27.80" fill="#020202" />
<rect x="477.85" y="183.10" width="28.10" height="27.80" fill="#020202" />
<rect x="506.95" y="183.10" width="28.10" height="27.80" fill="#020202" />
<ellipse cx="467.6" cy="162.8" rx="1.3" ry="1.2" fill="#1a2cff" transform="rotate(0 467.6 162.8)" filter="url(#b1)"/>
<ellipse cx="463.9" cy="165.3" rx="1.3" ry="1.2" fill="#1a2cff" transform="rotate(0 463.9 165.3)" filter="url(#b1)"/>
<ellipse cx="458.3" cy="170.6" rx="1.3" ry="1.2" fill="#1a2cff" transform="rotate(0 458.3 170.6)" filter="url(#b1)"/>
<ellipse cx="459.8" cy="174.8" rx="1.3" ry="1.2" fill="#1a2cff" transform="rotate(0 459.8 174.8)" filter="url(#b1)"/>
<ellipse cx="525.8" cy="162.8" rx="1.3" ry="1.2" fill="#1a2cff" transform="rotate(0 525.8 162.8)" filter="url(#b1)"/>
<ellipse cx="522.1" cy="165.3" rx="1.3" ry="1.2" fill="#1a2cff" transform="rotate(0 522.1 165.3)" filter="url(#b1)"/>
<ellipse cx="516.5" cy="170.6" rx="1.3" ry="1.2" fill="#1a2cff" transform="rotate(0 516.5 170.6)" filter="url(#b1)"/>
<ellipse cx="518.0" cy="174.8" rx="1.3" ry="1.2" fill="#1a2cff" transform="rotate(0 518.0 174.8)" filter="url(#b1)"/>
<ellipse cx="459.6" cy="192.5" rx="1.2" ry="1.4" fill="#1a2cff" transform="rotate(0 459.6 192.5)" filter="url(#b1)"/>
<ellipse cx="459.9" cy="199.5" rx="1.2" ry="1.4" fill="#1a2cff" transform="rotate(0 459.9 199.5)" filter="url(#b1)"/>
<ellipse cx="461.4" cy="207.7" rx="1.2" ry="1.4" fill="#1a2cff" transform="rotate(0 461.4 207.7)" filter="url(#b1)"/>
<ellipse cx="517.8" cy="192.5" rx="1.2" ry="1.4" fill="#22b4e6" transform="rotate(0 517.8 192.5)" filter="url(#b1)"/>
<ellipse cx="518.1" cy="199.5" rx="1.2" ry="1.4" fill="#2296ee" transform="rotate(0 518.1 199.5)" filter="url(#b1)"/>
<ellipse cx="519.6" cy="207.7" rx="1.2" ry="1.4" fill="#2288f4" transform="rotate(0 519.6 207.7)" filter="url(#b1)"/>
<ellipse cx="488.7" cy="192.5" rx="1.0" ry="1.2" fill="#28d028" transform="rotate(0 488.7 192.5)" filter="url(#b1)"/>
<ellipse cx="489.0" cy="199.5" rx="1.0" ry="1.2" fill="#28d028" transform="rotate(0 489.0 199.5)" filter="url(#b1)"/>
<ellipse cx="490.5" cy="207.7" rx="1.0" ry="1.2" fill="#28d028" transform="rotate(0 490.5 207.7)" filter="url(#b1)"/>
<ellipse cx="496.7" cy="162.8" rx="1.0" ry="1.0" fill="#0b330b" transform="rotate(0 496.7 162.8)" filter="url(#b1)"/>
<ellipse cx="493.0" cy="165.3" rx="1.0" ry="1.0" fill="#0b330b" transform="rotate(0 493.0 165.3)" filter="url(#b1)"/>
<rect x="530.30" y="180.40" width="3.20" height="0.60" fill="#c8c8c8" />
<rect x="530.30" y="209.30" width="3.20" height="0.60" fill="#c8c8c8" />
<text x="462.7" y="150.4" font-size="4.85" font-weight="bold" text-anchor="middle" fill="#1c74e0"  stroke="#1c74e0" stroke-width="0.12">DAPI</text>
<text x="479.8" y="147.4" font-size="3.4" font-weight="bold" text-anchor="start" fill="#22b422"  stroke="#22b422" stroke-width="0.12">Phospho-</text>
<text x="479.8" y="151.2" font-size="3.4" font-weight="bold" text-anchor="start" fill="#22b422"  stroke="#22b422" stroke-width="0.12">NCOA3 (Ser214)</text>
<text x="520.4" y="150.3" font-size="4.55" font-weight="bold" text-anchor="middle" fill="#111"  stroke="#111" stroke-width="0.12">Merge</text>
<text x="447.6" y="169.4" font-size="4.5" font-weight="bold" text-anchor="end" fill="#111"  stroke="#111" stroke-width="0.12">Control</text>
<text x="447.6" y="196.6" font-size="4.5" font-weight="bold" text-anchor="end" fill="#111"  stroke="#111" stroke-width="0.12">PTN</text>
<rect x="448.75" y="233.80" width="28.10" height="27.80" fill="#020202" />
<rect x="477.85" y="233.80" width="28.10" height="27.80" fill="#020202" />
<rect x="506.95" y="233.80" width="28.10" height="27.80" fill="#020202" />
<rect x="448.75" y="263.00" width="28.10" height="27.80" fill="#020202" />
<rect x="477.85" y="263.00" width="28.10" height="27.80" fill="#020202" />
<rect x="506.95" y="263.00" width="28.10" height="27.80" fill="#020202" />
<rect x="448.75" y="292.20" width="28.10" height="27.80" fill="#020202" />
<rect x="477.85" y="292.20" width="28.10" height="27.80" fill="#020202" />
<rect x="506.95" y="292.20" width="28.10" height="27.80" fill="#020202" />
<ellipse cx="465.1" cy="240.8" rx="1.3" ry="1.1" fill="#1a2cff" transform="rotate(0 465.1 240.8)" filter="url(#b1)"/>
<ellipse cx="460.2" cy="243.4" rx="1.3" ry="1.1" fill="#1a2cff" transform="rotate(0 460.2 243.4)" filter="url(#b1)"/>
<ellipse cx="459.2" cy="247.0" rx="1.3" ry="1.1" fill="#1a2cff" transform="rotate(0 459.2 247.0)" filter="url(#b1)"/>
<ellipse cx="458.1" cy="251.3" rx="1.3" ry="1.1" fill="#1a2cff" transform="rotate(0 458.1 251.3)" filter="url(#b1)"/>
<ellipse cx="464.3" cy="266.6" rx="1.5" ry="1.2" fill="#1a2cff" transform="rotate(0 464.3 266.6)" filter="url(#b1)"/>
<ellipse cx="472.7" cy="266.4" rx="1.5" ry="1.2" fill="#1a2cff" transform="rotate(0 472.7 266.4)" filter="url(#b1)"/>
<ellipse cx="462.7" cy="270.3" rx="1.5" ry="1.2" fill="#1a2cff" transform="rotate(0 462.7 270.3)" filter="url(#b1)"/>
<ellipse cx="455.6" cy="303.4" rx="1.4" ry="1.3" fill="#1a2cff" transform="rotate(0 455.6 303.4)" filter="url(#b1)"/>
<ellipse cx="464.8" cy="307.2" rx="1.4" ry="1.3" fill="#1a2cff" transform="rotate(0 464.8 307.2)" filter="url(#b1)"/>
<ellipse cx="523.3" cy="240.8" rx="1.3" ry="1.1" fill="#1a2cff" transform="rotate(0 523.3 240.8)" filter="url(#b1)"/>
<ellipse cx="518.4" cy="243.4" rx="1.3" ry="1.1" fill="#1a2cff" transform="rotate(0 518.4 243.4)" filter="url(#b1)"/>
<ellipse cx="517.4" cy="247.0" rx="1.3" ry="1.1" fill="#1a2cff" transform="rotate(0 517.4 247.0)" filter="url(#b1)"/>
<ellipse cx="516.3" cy="251.3" rx="1.3" ry="1.1" fill="#1a2cff" transform="rotate(0 516.3 251.3)" filter="url(#b1)"/>
<ellipse cx="522.5" cy="266.6" rx="1.5" ry="1.2" fill="#22a0f0" transform="rotate(0 522.5 266.6)" filter="url(#b1)"/>
<ellipse cx="530.9" cy="266.4" rx="1.5" ry="1.2" fill="#22a0f0" transform="rotate(0 530.9 266.4)" filter="url(#b1)"/>
<ellipse cx="520.9" cy="270.3" rx="1.5" ry="1.2" fill="#22a0f0" transform="rotate(0 520.9 270.3)" filter="url(#b1)"/>
<ellipse cx="513.8" cy="303.4" rx="1.4" ry="1.3" fill="#1a2cff" transform="rotate(0 513.8 303.4)" filter="url(#b1)"/>
<ellipse cx="523.0" cy="307.2" rx="1.4" ry="1.3" fill="#1a2cff" transform="rotate(0 523.0 307.2)" filter="url(#b1)"/>
<ellipse cx="493.4" cy="266.6" rx="1.3" ry="1.1" fill="#28d028" transform="rotate(0 493.4 266.6)" filter="url(#b1)"/>
<ellipse cx="501.8" cy="266.4" rx="1.3" ry="1.1" fill="#28d028" transform="rotate(0 501.8 266.4)" filter="url(#b1)"/>
<ellipse cx="491.8" cy="270.3" rx="1.3" ry="1.1" fill="#28d028" transform="rotate(0 491.8 270.3)" filter="url(#b1)"/>
<ellipse cx="494.2" cy="240.8" rx="1.0" ry="1.0" fill="#0b330b" transform="rotate(0 494.2 240.8)" filter="url(#b1)"/>
<ellipse cx="489.3" cy="243.4" rx="1.0" ry="1.0" fill="#0b330b" transform="rotate(0 489.3 243.4)" filter="url(#b1)"/>
<rect x="530.60" y="261.10" width="3.20" height="0.60" fill="#c8c8c8" />
<rect x="530.60" y="290.10" width="3.20" height="0.60" fill="#c8c8c8" />
<rect x="530.60" y="319.10" width="3.20" height="0.60" fill="#c8c8c8" />
<text x="462.5" y="230.6" font-size="4.85" font-weight="bold" text-anchor="middle" fill="#1c74e0"  stroke="#1c74e0" stroke-width="0.12">DAPI</text>
<text x="479.8" y="227.7" font-size="3.4" font-weight="bold" text-anchor="start" fill="#22b422"  stroke="#22b422" stroke-width="0.12">Phospho-</text>
<text x="479.8" y="231.6" font-size="3.4" font-weight="bold" text-anchor="start" fill="#22b422"  stroke="#22b422" stroke-width="0.12">NCOA3 (Ser214)</text>
<text x="520.5" y="230.5" font-size="4.55" font-weight="bold" text-anchor="middle" fill="#111"  stroke="#111" stroke-width="0.12">Merge</text>
<text x="447.8" y="249.7" font-size="4.5" font-weight="bold" text-anchor="end" fill="#111"  stroke="#111" stroke-width="0.12">IgG</text>
<text x="447.8" y="277.5" font-size="4.5" font-weight="bold" text-anchor="end" fill="#111"  stroke="#111" stroke-width="0.12">PTN+IgG</text>
<text x="447.8" y="304.4" font-size="4.65" font-weight="bold" text-anchor="end" fill="#111"  stroke="#111" stroke-width="0.12">PTN+</text>
<text x="447.8" y="310" font-size="4.65" font-weight="bold" text-anchor="end" fill="#111"  stroke="#111" stroke-width="0.12">PTPRZ1 Ab</text>
<rect x="354.80" y="201.25" width="19.50" height="11.65" fill="#1e9bff" />
<rect x="384.00" y="171.66" width="19.10" height="41.24" fill="#00c81a" />
<line x1="393.50" y1="171.66" x2="393.50" y2="170.40" stroke="#00c81a" stroke-width="0.5" />
<line x1="389.50" y1="170.40" x2="397.50" y2="170.40" stroke="#00c81a" stroke-width="0.5" />
<rect x="349.80" y="154.70" width="58.30" height="58.20" fill="none" stroke="#111" stroke-width="0.7" />
<line x1="348.30" y1="212.90" x2="349.80" y2="212.90" stroke="#111" stroke-width="0.5" />
<text x="347.5" y="214.3" font-size="4.0" font-weight="bold" text-anchor="end" fill="#111"  stroke="#111" stroke-width="0.12">0</text>
<line x1="348.30" y1="201.25" x2="349.80" y2="201.25" stroke="#111" stroke-width="0.5" />
<text x="347.5" y="202.65" font-size="4.0" font-weight="bold" text-anchor="end" fill="#111"  stroke="#111" stroke-width="0.12">1</text>
<line x1="348.30" y1="189.60" x2="349.80" y2="189.60" stroke="#111" stroke-width="0.5" />
<text x="347.5" y="191.0" font-size="4.0" font-weight="bold" text-anchor="end" fill="#111"  stroke="#111" stroke-width="0.12">2</text>
<line x1="348.30" y1="177.95" x2="349.80" y2="177.95" stroke="#111" stroke-width="0.5" />
<text x="347.5" y="179.35" font-size="4.0" font-weight="bold" text-anchor="end" fill="#111"  stroke="#111" stroke-width="0.12">3</text>
<line x1="348.30" y1="166.30" x2="349.80" y2="166.30" stroke="#111" stroke-width="0.5" />
<text x="347.5" y="167.70000000000002" font-size="4.0" font-weight="bold" text-anchor="end" fill="#111"  stroke="#111" stroke-width="0.12">4</text>
<line x1="348.30" y1="154.65" x2="349.80" y2="154.65" stroke="#111" stroke-width="0.5" />
<text x="347.5" y="156.05" font-size="4.0" font-weight="bold" text-anchor="end" fill="#111"  stroke="#111" stroke-width="0.12">5</text>
<line x1="364.70" y1="168.00" x2="392.80" y2="168.00" stroke="#111" stroke-width="0.85" />
<text x="379.4" y="167.6" font-size="4.5" font-weight="bold" text-anchor="middle" fill="#111"  stroke="#111" stroke-width="0.12">*</text>
<text x="377.3" y="153.1" font-size="3.9" font-weight="normal" text-anchor="middle" fill="#111" stroke="#111" stroke-width="0.1">DAG</text>
<text x="342.3" y="183" font-size="4.5" font-weight="bold" text-anchor="middle" fill="#111" transform="rotate(-90 342.3 183)"  stroke="#111" stroke-width="0.12">Relative quantification</text>
<line x1="364.50" y1="212.90" x2="364.50" y2="214.40" stroke="#111" stroke-width="0.5" />
<line x1="393.50" y1="212.90" x2="393.50" y2="214.40" stroke="#111" stroke-width="0.5" />
<text x="366.7" y="219.6" font-size="4.6" font-weight="bold" text-anchor="end" fill="#111" transform="rotate(-45 366.7 219.6)"  stroke="#111" stroke-width="0.12">Control</text>
<text x="395.0" y="219.6" font-size="4.6" font-weight="bold" text-anchor="end" fill="#111" transform="rotate(-45 395.0 219.6)"  stroke="#111" stroke-width="0.12">PTN</text>
<rect x="350.20" y="294.68" width="14.50" height="10.52" fill="#a08a38" />
<rect x="371.90" y="255.55" width="14.50" height="49.65" fill="#00c81a" />
<rect x="393.20" y="292.79" width="14.70" height="12.41" fill="#1010ff" />
<line x1="372.50" y1="255.20" x2="385.80" y2="255.20" stroke="#7af0a0" stroke-width="0.6" />
<rect x="346.80" y="242.10" width="64.70" height="63.10" fill="none" stroke="#111" stroke-width="0.7" />
<line x1="345.30" y1="305.20" x2="346.80" y2="305.20" stroke="#111" stroke-width="0.5" />
<text x="344.5" y="306.59999999999997" font-size="4.0" font-weight="bold" text-anchor="end" fill="#111"  stroke="#111" stroke-width="0.12">0</text>
<line x1="345.30" y1="284.16" x2="346.80" y2="284.16" stroke="#111" stroke-width="0.5" />
<text x="344.5" y="285.55999999999995" font-size="4.0" font-weight="bold" text-anchor="end" fill="#111"  stroke="#111" stroke-width="0.12">2</text>
<line x1="345.30" y1="263.12" x2="346.80" y2="263.12" stroke="#111" stroke-width="0.5" />
<text x="344.5" y="264.52" font-size="4.0" font-weight="bold" text-anchor="end" fill="#111"  stroke="#111" stroke-width="0.12">4</text>
<line x1="345.30" y1="242.08" x2="346.80" y2="242.08" stroke="#111" stroke-width="0.5" />
<text x="344.5" y="243.48" font-size="4.0" font-weight="bold" text-anchor="end" fill="#111"  stroke="#111" stroke-width="0.12">6</text>
<line x1="357.60" y1="252.10" x2="378.40" y2="252.10" stroke="#111" stroke-width="0.85" />
<text x="367.9" y="251.6" font-size="4.5" font-weight="bold" text-anchor="middle" fill="#111"  stroke="#111" stroke-width="0.12">*</text>
<line x1="379.40" y1="249.70" x2="400.50" y2="249.70" stroke="#111" stroke-width="0.85" />
<text x="389.8" y="249.2" font-size="4.5" font-weight="bold" text-anchor="middle" fill="#111"  stroke="#111" stroke-width="0.12">*</text>
<text x="379.4" y="240.2" font-size="3.9" font-weight="normal" text-anchor="middle" fill="#111" stroke="#111" stroke-width="0.1">DAG</text>
<text x="338.8" y="272.2" font-size="4.5" font-weight="bold" text-anchor="middle" fill="#111" transform="rotate(-90 338.8 272.2)"  stroke="#111" stroke-width="0.12">Relative quantification</text>
<line x1="357.40" y1="305.20" x2="357.40" y2="306.70" stroke="#111" stroke-width="0.5" />
<line x1="379.10" y1="305.20" x2="379.10" y2="306.70" stroke="#111" stroke-width="0.5" />
<line x1="400.50" y1="305.20" x2="400.50" y2="306.70" stroke="#111" stroke-width="0.5" />
<text x="358.5" y="312.0" font-size="4.6" font-weight="bold" text-anchor="end" fill="#111" transform="rotate(-45 358.5 312.0)"  stroke="#111" stroke-width="0.12">IgG</text>
<text x="380.3" y="312.0" font-size="4.6" font-weight="bold" text-anchor="end" fill="#111" transform="rotate(-45 380.3 312.0)"  stroke="#111" stroke-width="0.12">PTN+IgG</text>
<text x="401.8" y="312.0" font-size="4.6" font-weight="bold" text-anchor="end" fill="#111" transform="rotate(-45 401.8 312.0)"  stroke="#111" stroke-width="0.12">PTN+PTPRZ1 Ab</text>
</svg>
</body></html>
